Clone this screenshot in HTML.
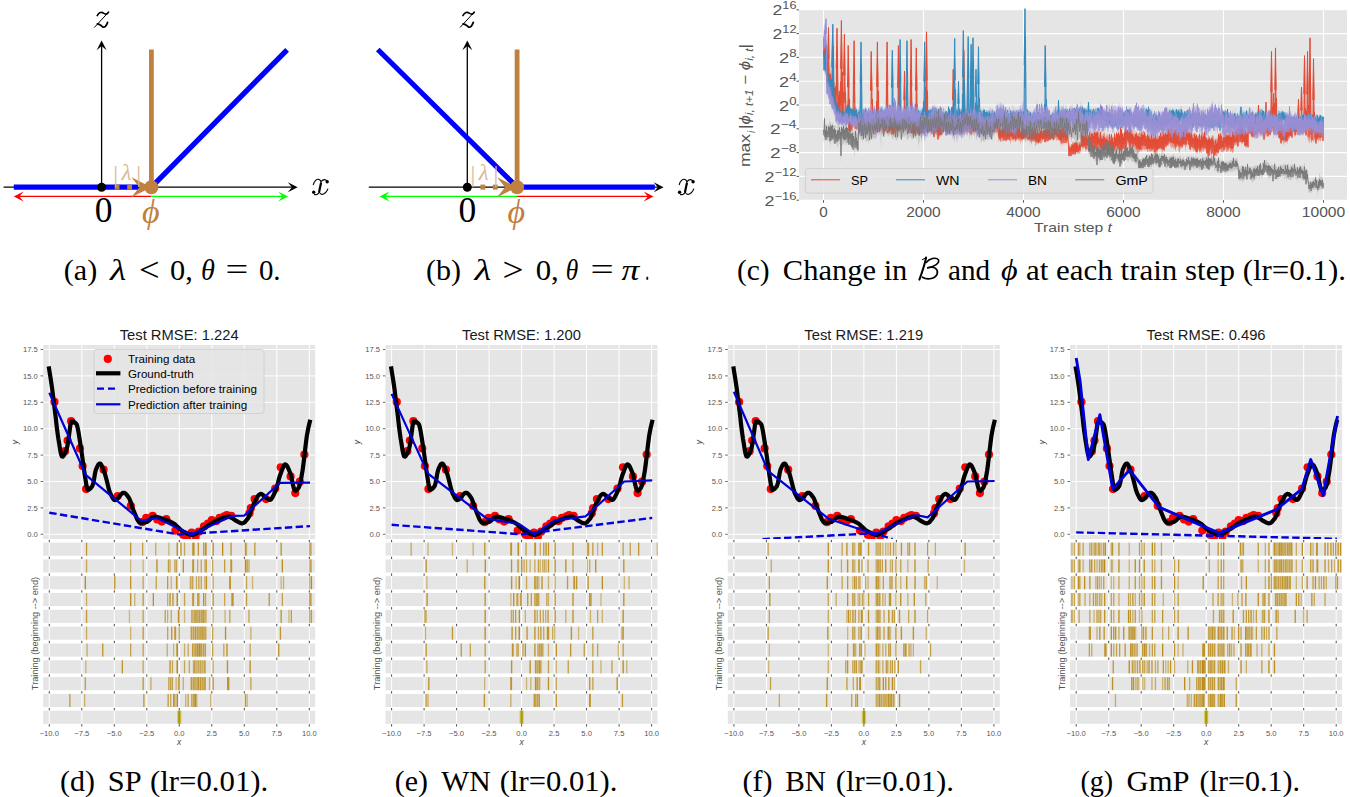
<!DOCTYPE html><html><head><meta charset="utf-8"><style>html,body{margin:0;padding:0;background:#fff;overflow:hidden}svg{display:block}</style></head><body>
<svg width="1350" height="797" viewBox="0 0 1350 797">
<rect width="1350" height="797" fill="#fff"/>
<line x1="3.6" y1="187.2" x2="293.6" y2="187.2" stroke="#000" stroke-width="1.3"/>
<path d="M297.60 187.20 L287.80 192.20 L292.00 187.20 L287.80 182.20 Z" fill="#000"/>
<line x1="101.6" y1="187.2" x2="101.6" y2="44.0" stroke="#000" stroke-width="1.3"/>
<path d="M101.60 40.40 L106.60 50.20 L101.60 46.00 L96.60 50.20 Z" fill="#000"/>
<polyline points="13.8,187.2 151.4,187.2 287.1,49.8" fill="none" stroke="#0000FF" stroke-width="5.2" stroke-linejoin="miter"/>
<line x1="151.4" y1="49.5" x2="151.4" y2="187.2" stroke="#BF8040" stroke-width="4.8"/>
<line x1="151.4" y1="196.4" x2="17.8" y2="196.4" stroke="#FF0000" stroke-width="1.3"/>
<path d="M13.80 196.40 L23.60 191.40 L19.40 196.40 L23.60 201.40 Z" fill="#FF0000"/>
<line x1="151.4" y1="196.4" x2="284.0" y2="196.4" stroke="#00FF00" stroke-width="1.3"/>
<path d="M288.00 196.40 L278.20 201.40 L282.40 196.40 L278.20 191.40 Z" fill="#00FF00"/>
<rect x="114.7" y="184.6" width="4.8" height="5.0" fill="#BF8040"/>
<rect x="127.2" y="184.6" width="4.8" height="5.0" fill="#BF8040"/>
<path d="M151.40 187.20 L131.40 197.20 L139.40 187.20 L131.40 177.20 Z" fill="#BF8040"/>
<circle cx="101.6" cy="187.2" r="4.5" fill="#000"/>
<circle cx="151.4" cy="187.2" r="7" fill="#BF8040"/>
<text x="113.2" y="181.5" font-family='"Liberation Serif", serif' font-size="24" fill="#D9B896">|</text>
<text x="121.4" y="179.8" font-family='"Liberation Serif", serif' font-style="italic" font-size="23" fill="#D9B896">λ</text>
<text x="136.2" y="181.5" font-family='"Liberation Serif", serif' font-size="24" fill="#D9B896">|</text>
<text x="94.8" y="222.3" font-family='"Liberation Serif", serif' font-size="35.5" fill="#000">0</text>
<text x="141.9" y="223" font-family='"Liberation Serif", serif' font-style="italic" font-size="34" fill="#BF8040">ϕ</text>
<g transform="translate(0.00,0)" fill="none" stroke="#000" stroke-linecap="round">
<path d="M97.2 15.6 C99 12.2 101.5 11.7 103.5 13.1 C105 14.2 106.6 15.0 108.5 12.2" stroke-width="1.6"/>
<path d="M108.5 12.2 L94.6 27.2" stroke-width="1.0"/>
<path d="M97.4 23.8 C99.5 23.9 101 25.3 102.5 26.7 C104.5 28.2 106.6 25.6 107.6 22.3" stroke-width="1.8"/>
</g>
<g transform="translate(0.00,0)" fill="none" stroke="#000" stroke-linecap="round">
<path d="M313.3 184.6 C314.05 181.06 316.56 179.05 318.32 179.3 C320.4 179.55 321.4 181.56 320.9 184.07" stroke-width="1.1"/>
<path d="M320.9 183.5 L319.2 191.6" stroke-width="2.2"/>
<path d="M319.3 191.4 C318.82 193.86 316.56 194.86 314.55 194.6" stroke-width="1.1"/>
<path d="M327.35 181.56 C326.3 179.1 323.4 178.8 321.2 181.4" stroke-width="1.1"/>
<path d="M319.6 192.6 C320.6 195.1 324.9 195.6 327.85 189.1" stroke-width="1.1"/>
<circle cx="313.7" cy="192.3" r="1.7" fill="#000" stroke="none"/>
<circle cx="327.2" cy="181.8" r="1.7" fill="#000" stroke="none"/>
</g>
<line x1="368.8" y1="187.2" x2="659.5" y2="187.2" stroke="#000" stroke-width="1.3"/>
<path d="M663.50 187.20 L653.70 192.20 L657.90 187.20 L653.70 182.20 Z" fill="#000"/>
<line x1="467.3" y1="187.2" x2="467.3" y2="44.0" stroke="#000" stroke-width="1.3"/>
<path d="M467.30 40.40 L472.30 50.20 L467.30 46.00 L462.30 50.20 Z" fill="#000"/>
<polyline points="377.8,49.5 517.1,187.2 654.8,187.2" fill="none" stroke="#0000FF" stroke-width="5.2" stroke-linejoin="miter"/>
<line x1="517.1" y1="49.5" x2="517.1" y2="187.2" stroke="#BF8040" stroke-width="4.8"/>
<line x1="517.1" y1="196.4" x2="383.6" y2="196.4" stroke="#00FF00" stroke-width="1.3"/>
<path d="M379.60 196.40 L389.40 191.40 L385.20 196.40 L389.40 201.40 Z" fill="#00FF00"/>
<line x1="517.1" y1="196.4" x2="649.5" y2="196.4" stroke="#FF0000" stroke-width="1.3"/>
<path d="M653.50 196.40 L643.70 201.40 L647.90 196.40 L643.70 191.40 Z" fill="#FF0000"/>
<rect x="480.4" y="184.6" width="4.8" height="5.0" fill="#BF8040"/>
<rect x="492.9" y="184.6" width="4.8" height="5.0" fill="#BF8040"/>
<path d="M517.10 187.20 L497.10 197.20 L505.10 187.20 L497.10 177.20 Z" fill="#BF8040"/>
<circle cx="467.3" cy="187.2" r="4.5" fill="#000"/>
<circle cx="517.1" cy="187.2" r="7" fill="#BF8040"/>
<text x="470.6" y="181.5" font-family='"Liberation Serif", serif' font-size="24" fill="#D9B896">|</text>
<text x="478.8" y="179.8" font-family='"Liberation Serif", serif' font-style="italic" font-size="23" fill="#D9B896">λ</text>
<text x="493.6" y="181.5" font-family='"Liberation Serif", serif' font-size="24" fill="#D9B896">|</text>
<text x="458.5" y="222.3" font-family='"Liberation Serif", serif' font-size="35.5" fill="#000">0</text>
<text x="507.6" y="223" font-family='"Liberation Serif", serif' font-style="italic" font-size="34" fill="#BF8040">ϕ</text>
<g transform="translate(365.70,0)" fill="none" stroke="#000" stroke-linecap="round">
<path d="M97.2 15.6 C99 12.2 101.5 11.7 103.5 13.1 C105 14.2 106.6 15.0 108.5 12.2" stroke-width="1.6"/>
<path d="M108.5 12.2 L94.6 27.2" stroke-width="1.0"/>
<path d="M97.4 23.8 C99.5 23.9 101 25.3 102.5 26.7 C104.5 28.2 106.6 25.6 107.6 22.3" stroke-width="1.8"/>
</g>
<g transform="translate(365.90,0)" fill="none" stroke="#000" stroke-linecap="round">
<path d="M313.3 184.6 C314.05 181.06 316.56 179.05 318.32 179.3 C320.4 179.55 321.4 181.56 320.9 184.07" stroke-width="1.1"/>
<path d="M320.9 183.5 L319.2 191.6" stroke-width="2.2"/>
<path d="M319.3 191.4 C318.82 193.86 316.56 194.86 314.55 194.6" stroke-width="1.1"/>
<path d="M327.35 181.56 C326.3 179.1 323.4 178.8 321.2 181.4" stroke-width="1.1"/>
<path d="M319.6 192.6 C320.6 195.1 324.9 195.6 327.85 189.1" stroke-width="1.1"/>
<circle cx="313.7" cy="192.3" r="1.7" fill="#000" stroke="none"/>
<circle cx="327.2" cy="181.8" r="1.7" fill="#000" stroke="none"/>
</g>
<text x="63.8" y="279.5" font-family='"Liberation Serif", serif' font-size="28.6" textLength="33.5" lengthAdjust="spacingAndGlyphs">(a)</text>
<text x="110.0" y="279.5" font-family='"Liberation Serif", serif' font-size="28.6" font-style="italic" textLength="16.2" lengthAdjust="spacingAndGlyphs">λ</text>
<text x="138.9" y="280.8" font-family='"Liberation Serif", serif' font-size="33" textLength="20.6" lengthAdjust="spacingAndGlyphs">&lt;</text>
<text x="170.0" y="279.5" font-family='"Liberation Serif", serif' font-size="28.6" textLength="22.8" lengthAdjust="spacingAndGlyphs">0,</text>
<text x="201.1" y="279.5" font-family='"Liberation Serif", serif' font-size="28.6" font-style="italic" textLength="13.9" lengthAdjust="spacingAndGlyphs">θ</text>
<text x="225.6" y="280.3" font-family='"Liberation Serif", serif' font-size="31" textLength="22.8" lengthAdjust="spacingAndGlyphs">=</text>
<text x="258.9" y="279.5" font-family='"Liberation Serif", serif' font-size="28.6" textLength="21.7" lengthAdjust="spacingAndGlyphs">0.</text>
<text x="426.1" y="279.5" font-family='"Liberation Serif", serif' font-size="28.6" textLength="35.0" lengthAdjust="spacingAndGlyphs">(b)</text>
<text x="474.4" y="279.5" font-family='"Liberation Serif", serif' font-size="28.6" font-style="italic" textLength="16.8" lengthAdjust="spacingAndGlyphs">λ</text>
<text x="502.4" y="280.8" font-family='"Liberation Serif", serif' font-size="33" textLength="21.0" lengthAdjust="spacingAndGlyphs">&gt;</text>
<text x="535.7" y="279.5" font-family='"Liberation Serif", serif' font-size="28.6" textLength="23.1" lengthAdjust="spacingAndGlyphs">0,</text>
<text x="565.7" y="279.5" font-family='"Liberation Serif", serif' font-size="28.6" font-style="italic" textLength="12.5" lengthAdjust="spacingAndGlyphs">θ</text>
<text x="590.4" y="280.3" font-family='"Liberation Serif", serif' font-size="31" textLength="23.2" lengthAdjust="spacingAndGlyphs">=</text>
<text x="621.6" y="279.5" font-family='"Liberation Serif", serif' font-size="28.6" font-style="italic" textLength="17.8" lengthAdjust="spacingAndGlyphs">π</text>
<text x="645.2" y="279.5" font-family='"Liberation Serif", serif' font-size="28.6" textLength="3.9" lengthAdjust="spacingAndGlyphs">.</text>
<text x="736.9" y="279.5" font-family='"Liberation Serif", serif' font-size="28.6" textLength="32.7" lengthAdjust="spacingAndGlyphs">(c)</text>
<text x="782.8" y="279.5" font-family='"Liberation Serif", serif' font-size="28.6" textLength="124.6" lengthAdjust="spacingAndGlyphs">Change in</text>
<g fill="none" stroke="#000" stroke-linecap="round"><path d="M926.1 257.5 C924.8 264.4 921.8 273.1 919.4 279.6" stroke-width="2.0"/><path d="M922.2 259.7 L926.3 257.6" stroke-width="1.0"/><path d="M926.3 262.5 C928.9 258.8 936.1 256.5 938.5 259.9 C939.9 263.3 934.6 266.3 927.8 267.8" stroke-width="1.5"/><path d="M927.8 267.8 C934.6 265.9 938.4 269.3 937.2 273.8 C936.1 278.3 927.8 280.6 922.5 277.2" stroke-width="1.7"/></g>
<text x="948.0" y="279.5" font-family='"Liberation Serif", serif' font-size="28.6" textLength="42.1" lengthAdjust="spacingAndGlyphs">and</text>
<text x="1001.0" y="279.5" font-family='"Liberation Serif", serif' font-size="28.6" font-style="italic" textLength="16.6" lengthAdjust="spacingAndGlyphs">ϕ</text>
<text x="1026.0" y="279.5" font-family='"Liberation Serif", serif' font-size="28.6" textLength="320.1" lengthAdjust="spacingAndGlyphs">at each train step (lr=0.1).</text>
<rect x="799.0" y="9.8" width="548.0" height="190.4" fill="#E5E5E5"/>
<line x1="823.5" y1="9.8" x2="823.5" y2="200.2" stroke="#fff" stroke-width="1.1"/>
<line x1="923.5" y1="9.8" x2="923.5" y2="200.2" stroke="#fff" stroke-width="1.1"/>
<line x1="1023.5" y1="9.8" x2="1023.5" y2="200.2" stroke="#fff" stroke-width="1.1"/>
<line x1="1123.5" y1="9.8" x2="1123.5" y2="200.2" stroke="#fff" stroke-width="1.1"/>
<line x1="1223.5" y1="9.8" x2="1223.5" y2="200.2" stroke="#fff" stroke-width="1.1"/>
<line x1="1323.5" y1="9.8" x2="1323.5" y2="200.2" stroke="#fff" stroke-width="1.1"/>
<line x1="799.0" y1="200.2" x2="1347.0" y2="200.2" stroke="#fff" stroke-width="1.1"/>
<line x1="799.0" y1="176.4" x2="1347.0" y2="176.4" stroke="#fff" stroke-width="1.1"/>
<line x1="799.0" y1="152.6" x2="1347.0" y2="152.6" stroke="#fff" stroke-width="1.1"/>
<line x1="799.0" y1="128.8" x2="1347.0" y2="128.8" stroke="#fff" stroke-width="1.1"/>
<line x1="799.0" y1="105.0" x2="1347.0" y2="105.0" stroke="#fff" stroke-width="1.1"/>
<line x1="799.0" y1="81.2" x2="1347.0" y2="81.2" stroke="#fff" stroke-width="1.1"/>
<line x1="799.0" y1="57.4" x2="1347.0" y2="57.4" stroke="#fff" stroke-width="1.1"/>
<line x1="799.0" y1="33.6" x2="1347.0" y2="33.6" stroke="#fff" stroke-width="1.1"/>
<line x1="799.0" y1="9.8" x2="1347.0" y2="9.8" stroke="#fff" stroke-width="1.1"/>
<line x1="796.5" y1="200.2" x2="799.0" y2="200.2" stroke="#555" stroke-width="1"/>
<line x1="796.5" y1="176.4" x2="799.0" y2="176.4" stroke="#555" stroke-width="1"/>
<line x1="796.5" y1="152.6" x2="799.0" y2="152.6" stroke="#555" stroke-width="1"/>
<line x1="796.5" y1="128.8" x2="799.0" y2="128.8" stroke="#555" stroke-width="1"/>
<line x1="796.5" y1="105.0" x2="799.0" y2="105.0" stroke="#555" stroke-width="1"/>
<line x1="796.5" y1="81.2" x2="799.0" y2="81.2" stroke="#555" stroke-width="1"/>
<line x1="796.5" y1="57.4" x2="799.0" y2="57.4" stroke="#555" stroke-width="1"/>
<line x1="796.5" y1="33.6" x2="799.0" y2="33.6" stroke="#555" stroke-width="1"/>
<line x1="796.5" y1="9.8" x2="799.0" y2="9.8" stroke="#555" stroke-width="1"/>
<line x1="823.5" y1="200.2" x2="823.5" y2="202.7" stroke="#555" stroke-width="1"/>
<line x1="923.5" y1="200.2" x2="923.5" y2="202.7" stroke="#555" stroke-width="1"/>
<line x1="1023.5" y1="200.2" x2="1023.5" y2="202.7" stroke="#555" stroke-width="1"/>
<line x1="1123.5" y1="200.2" x2="1123.5" y2="202.7" stroke="#555" stroke-width="1"/>
<line x1="1223.5" y1="200.2" x2="1223.5" y2="202.7" stroke="#555" stroke-width="1"/>
<line x1="1323.5" y1="200.2" x2="1323.5" y2="202.7" stroke="#555" stroke-width="1"/>
<text x="764.5" y="205.7" textLength="32.0" lengthAdjust="spacingAndGlyphs" font-family='"Liberation Sans", sans-serif' fill="#555"><tspan font-size="14.5">2</tspan><tspan font-size="10.5" dy="-6">−16</tspan></text>
<text x="764.5" y="181.9" textLength="32.0" lengthAdjust="spacingAndGlyphs" font-family='"Liberation Sans", sans-serif' fill="#555"><tspan font-size="14.5">2</tspan><tspan font-size="10.5" dy="-6">−12</tspan></text>
<text x="770.0" y="158.1" textLength="26.5" lengthAdjust="spacingAndGlyphs" font-family='"Liberation Sans", sans-serif' fill="#555"><tspan font-size="14.5">2</tspan><tspan font-size="10.5" dy="-6">−8</tspan></text>
<text x="770.0" y="134.3" textLength="26.5" lengthAdjust="spacingAndGlyphs" font-family='"Liberation Sans", sans-serif' fill="#555"><tspan font-size="14.5">2</tspan><tspan font-size="10.5" dy="-6">−4</tspan></text>
<text x="779.0" y="110.5" textLength="17.5" lengthAdjust="spacingAndGlyphs" font-family='"Liberation Sans", sans-serif' fill="#555"><tspan font-size="14.5">2</tspan><tspan font-size="10.5" dy="-6">0</tspan></text>
<text x="779.0" y="86.7" textLength="17.5" lengthAdjust="spacingAndGlyphs" font-family='"Liberation Sans", sans-serif' fill="#555"><tspan font-size="14.5">2</tspan><tspan font-size="10.5" dy="-6">4</tspan></text>
<text x="779.0" y="62.9" textLength="17.5" lengthAdjust="spacingAndGlyphs" font-family='"Liberation Sans", sans-serif' fill="#555"><tspan font-size="14.5">2</tspan><tspan font-size="10.5" dy="-6">8</tspan></text>
<text x="772.5" y="39.1" textLength="24.0" lengthAdjust="spacingAndGlyphs" font-family='"Liberation Sans", sans-serif' fill="#555"><tspan font-size="14.5">2</tspan><tspan font-size="10.5" dy="-6">12</tspan></text>
<text x="772.5" y="15.3" textLength="24.0" lengthAdjust="spacingAndGlyphs" font-family='"Liberation Sans", sans-serif' fill="#555"><tspan font-size="14.5">2</tspan><tspan font-size="10.5" dy="-6">16</tspan></text>
<text x="823.5" y="216.6" text-anchor="middle" textLength="8.5" lengthAdjust="spacingAndGlyphs" font-family='"Liberation Sans", sans-serif' font-size="14" fill="#555">0</text>
<text x="923.5" y="216.6" text-anchor="middle" textLength="34.5" lengthAdjust="spacingAndGlyphs" font-family='"Liberation Sans", sans-serif' font-size="14" fill="#555">2000</text>
<text x="1023.5" y="216.6" text-anchor="middle" textLength="34.5" lengthAdjust="spacingAndGlyphs" font-family='"Liberation Sans", sans-serif' font-size="14" fill="#555">4000</text>
<text x="1123.5" y="216.6" text-anchor="middle" textLength="34.5" lengthAdjust="spacingAndGlyphs" font-family='"Liberation Sans", sans-serif' font-size="14" fill="#555">6000</text>
<text x="1223.5" y="216.6" text-anchor="middle" textLength="34.5" lengthAdjust="spacingAndGlyphs" font-family='"Liberation Sans", sans-serif' font-size="14" fill="#555">8000</text>
<text x="1323.5" y="216.6" text-anchor="middle" textLength="43.5" lengthAdjust="spacingAndGlyphs" font-family='"Liberation Sans", sans-serif' font-size="14" fill="#555">10000</text>
<text x="1073" y="232" text-anchor="middle" textLength="78" lengthAdjust="spacingAndGlyphs" font-family='"Liberation Sans", sans-serif' font-size="13.5" fill="#555">Train step <tspan font-style="italic">t</tspan></text>
<g transform="translate(749.5,105.5) rotate(-90)"><text x="0" y="0" text-anchor="middle" textLength="123" lengthAdjust="spacingAndGlyphs" font-family='"Liberation Sans", sans-serif' font-size="15" fill="#555">max <tspan font-size="14.5">|</tspan><tspan font-style="italic" font-size="14.5">ϕ</tspan><tspan font-style="italic" font-size="10" dy="3">i, t+1</tspan><tspan dy="-3" font-size="14.5"> − </tspan><tspan font-style="italic" font-size="14.5">ϕ</tspan><tspan font-style="italic" font-size="10" dy="3">i, t</tspan><tspan dy="-3" font-size="14.5">|</tspan></text></g>
<g transform="translate(754.5,132) rotate(-90)"><text x="0" y="0" text-anchor="middle" font-family='"Liberation Sans", sans-serif' font-style="italic" font-size="10" fill="#555">i</text></g>
<path d="M823.5 38.9 824.0 45.0 824.5 47.7 825.0 43.1 825.5 39.5 826.0 50.8 826.5 59.2 827.0 60.1 827.5 61.8 828.0 54.4 828.5 27.6 829.0 48.5 829.5 70.6 830.0 58.3 830.5 73.0 831.0 76.6 831.5 74.9 832.0 63.4 832.5 36.6 833.0 57.4 833.5 78.3 834.0 83.5 834.5 80.6 835.0 85.9 835.5 86.0 836.0 81.8 836.5 55.0 837.0 28.2 837.5 49.1 838.0 75.8 838.5 91.0 839.0 90.1 839.5 91.1 840.0 94.1 840.5 74.1 841.0 47.3 841.5 20.5 842.0 41.3 842.5 68.1 843.0 98.9 843.5 87.7 844.0 61.0 844.5 34.2 845.0 55.0 845.5 81.8 846.0 97.9 846.5 105.9 847.0 106.4 847.5 99.0 848.0 72.3 848.5 45.5 849.0 66.3 849.5 93.1 850.0 118.8 850.5 115.0 851.0 120.2 851.5 118.0 852.0 117.3 852.5 118.5 853.0 94.3 853.5 67.5 854.0 40.7 854.5 61.6 855.0 88.3 855.5 114.3 856.0 117.2 856.5 113.9 857.0 114.8 857.5 116.5 858.0 115.1 858.5 117.0 859.0 112.8 859.5 115.2 860.0 116.5 860.5 113.8 861.0 114.4 861.5 113.8 862.0 114.1 862.5 114.0 863.0 114.8 863.5 114.7 864.0 114.4 864.5 111.8 865.0 115.4 865.5 113.5 866.0 117.2 866.5 116.5 867.0 113.5 867.5 118.1 868.0 115.8 868.5 110.0 869.0 115.7 869.5 116.6 870.0 115.7 870.5 105.0 871.0 78.2 871.5 51.4 872.0 72.3 872.5 99.0 873.0 118.1 873.5 113.3 874.0 113.1 874.5 117.5 875.0 119.5 875.5 116.7 876.0 113.4 876.5 95.5 877.0 68.7 877.5 41.9 878.0 62.8 878.5 89.5 879.0 118.5 879.5 115.3 880.0 114.1 880.5 109.5 881.0 115.7 881.5 117.3 882.0 115.4 882.5 116.3 883.0 116.6 883.5 114.9 884.0 115.8 884.5 111.0 885.0 115.2 885.5 117.4 886.0 95.5 886.5 68.7 887.0 41.9 887.5 62.8 888.0 89.5 888.5 117.0 889.0 112.5 889.5 115.4 890.0 117.1 890.5 115.9 891.0 115.4 891.5 117.2 892.0 117.0 892.5 121.2 893.0 118.7 893.5 116.6 894.0 120.0 894.5 117.3 895.0 119.1 895.5 115.5 896.0 118.2 896.5 113.0 897.0 116.1 897.5 99.0 898.0 72.3 898.5 45.5 899.0 66.3 899.5 93.1 900.0 113.7 900.5 114.7 901.0 114.1 901.5 118.1 902.0 113.3 902.5 114.7 903.0 117.4 903.5 114.3 904.0 97.9 904.5 71.1 905.0 91.9 905.5 115.4 906.0 116.3 906.5 115.4 907.0 114.7 907.5 108.9 908.0 114.2 908.5 118.4 909.0 117.6 909.5 119.1 910.0 93.1 910.5 66.3 911.0 39.5 911.5 60.4 912.0 87.2 912.5 120.6 913.0 118.0 913.5 116.2 914.0 119.2 914.5 118.5 915.0 119.5 915.5 101.4 916.0 74.7 916.5 47.9 917.0 68.7 917.5 95.5 918.0 122.0 918.5 119.5 919.0 120.7 919.5 117.9 920.0 120.2 920.5 118.0 921.0 117.5 921.5 118.1 922.0 119.6 922.5 115.9 923.0 118.6 923.5 115.9 924.0 117.7 924.5 118.1 925.0 116.2 925.5 85.4 926.0 58.6 926.5 31.8 927.0 52.6 927.5 79.4 928.0 113.0 928.5 116.4 929.0 117.1 929.5 109.8 930.0 117.1 930.5 117.2 931.0 116.7 931.5 120.2 932.0 117.4 932.5 118.1 933.0 118.2 933.5 120.1 934.0 117.2 934.5 116.8 935.0 118.6 935.5 117.5 936.0 121.8 936.5 114.6 937.0 117.2 937.5 119.0 938.0 122.3 938.5 121.0 939.0 122.4 939.5 124.0 940.0 119.4 940.5 119.4 941.0 119.5 941.5 118.1 942.0 118.2 942.5 115.1 943.0 119.4 943.5 117.3 944.0 115.7 944.5 114.5 945.0 115.4 945.5 116.7 946.0 112.9 946.5 116.9 947.0 112.5 947.5 114.9 948.0 114.4 948.5 113.1 949.0 115.0 949.5 110.3 950.0 113.6 950.5 116.5 951.0 110.7 951.5 112.3 952.0 114.8 952.5 110.3 953.0 96.1 953.5 69.3 954.0 90.1 954.5 116.5 955.0 116.0 955.5 112.5 956.0 116.8 956.5 117.1 957.0 116.6 957.5 113.8 958.0 116.0 958.5 118.1 959.0 119.0 959.5 116.1 960.0 120.5 960.5 116.5 961.0 117.5 961.5 115.1 962.0 119.0 962.5 115.8 963.0 103.8 963.5 77.0 964.0 50.3 964.5 71.1 965.0 97.9 965.5 116.9 966.0 119.6 966.5 116.0 967.0 118.1 967.5 115.7 968.0 121.2 968.5 118.3 969.0 116.3 969.5 118.6 970.0 118.3 970.5 116.1 971.0 118.9 971.5 121.6 972.0 121.1 972.5 118.4 973.0 118.1 973.5 117.6 974.0 119.2 974.5 120.5 975.0 119.5 975.5 116.8 976.0 119.7 976.5 116.4 977.0 118.0 977.5 119.8 978.0 116.8 978.5 117.3 979.0 117.3 979.5 113.2 980.0 112.8 980.5 114.2 981.0 114.4 981.5 118.4 982.0 116.4 982.5 116.7 983.0 115.3 983.5 116.4 984.0 116.6 984.5 112.7 985.0 114.7 985.5 114.5 986.0 113.1 986.5 112.9 987.0 111.8 987.5 115.4 988.0 113.7 988.5 116.2 989.0 116.4 989.5 115.9 990.0 116.4 990.5 117.0 991.0 117.3 991.5 113.7 992.0 117.4 992.5 117.8 993.0 113.8 993.5 114.0 994.0 114.9 994.5 114.6 995.0 115.1 995.5 117.4 996.0 113.8 996.5 118.3 997.0 114.5 997.5 117.8 998.0 118.1 998.5 128.7 999.0 128.8 999.5 126.9 1000.0 127.5 1000.5 128.4 1001.0 130.4 1001.5 129.3 1002.0 130.6 1002.5 127.3 1003.0 129.2 1003.5 127.9 1004.0 129.2 1004.5 125.9 1005.0 125.8 1005.5 128.8 1006.0 126.8 1006.5 125.9 1007.0 125.7 1007.5 127.4 1008.0 127.1 1008.5 127.3 1009.0 126.8 1009.5 129.5 1010.0 126.8 1010.5 126.0 1011.0 125.7 1011.5 129.1 1012.0 129.4 1012.5 129.6 1013.0 129.4 1013.5 130.2 1014.0 129.2 1014.5 127.2 1015.0 130.2 1015.5 127.7 1016.0 128.7 1016.5 128.8 1017.0 127.8 1017.5 125.4 1018.0 128.1 1018.5 127.1 1019.0 128.0 1019.5 126.9 1020.0 131.2 1020.5 131.1 1021.0 128.3 1021.5 129.1 1022.0 129.7 1022.5 122.6 1023.0 128.8 1023.5 125.3 1024.0 126.0 1024.5 128.6 1025.0 128.3 1025.5 128.4 1026.0 123.2 1026.5 124.4 1027.0 128.8 1027.5 126.9 1028.0 129.4 1028.5 128.9 1029.0 130.0 1029.5 127.3 1030.0 128.2 1030.5 127.3 1031.0 129.6 1031.5 128.2 1032.0 127.5 1032.5 129.8 1033.0 127.4 1033.5 129.6 1034.0 129.0 1034.5 127.4 1035.0 131.1 1035.5 131.2 1036.0 128.6 1036.5 130.8 1037.0 132.1 1037.5 131.9 1038.0 132.1 1038.5 129.6 1039.0 132.0 1039.5 129.8 1040.0 131.5 1040.5 128.7 1041.0 128.3 1041.5 129.3 1042.0 124.9 1042.5 130.2 1043.0 131.1 1043.5 128.4 1044.0 130.7 1044.5 129.0 1045.0 127.7 1045.5 127.9 1046.0 126.9 1046.5 130.4 1047.0 127.5 1047.5 126.1 1048.0 127.9 1048.5 128.5 1049.0 126.6 1049.5 128.8 1050.0 130.6 1050.5 126.6 1051.0 126.9 1051.5 126.3 1052.0 128.4 1052.5 127.8 1053.0 127.1 1053.5 126.7 1054.0 126.3 1054.5 126.2 1055.0 126.2 1055.5 127.9 1056.0 124.4 1056.5 128.0 1057.0 126.6 1057.5 128.0 1058.0 126.7 1058.5 127.2 1059.0 126.5 1059.5 126.7 1060.0 130.1 1060.5 128.3 1061.0 130.3 1061.5 131.1 1062.0 129.7 1062.5 127.0 1063.0 127.7 1063.5 131.5 1064.0 130.3 1064.5 128.3 1065.0 127.7 1065.5 131.4 1066.0 131.2 1066.5 128.8 1067.0 129.4 1067.5 128.5 1068.0 131.8 1068.5 145.0 1069.0 144.1 1069.5 145.9 1070.0 142.8 1070.5 147.3 1071.0 143.9 1071.5 144.1 1072.0 144.2 1072.5 142.3 1073.0 141.8 1073.5 141.3 1074.0 143.4 1074.5 142.1 1075.0 142.7 1075.5 141.3 1076.0 140.7 1076.5 141.9 1077.0 141.4 1077.5 142.9 1078.0 141.9 1078.5 143.4 1079.0 141.1 1079.5 142.3 1080.0 141.8 1080.5 144.0 1081.0 132.6 1081.5 131.4 1082.0 130.9 1082.5 131.3 1083.0 132.8 1083.5 130.6 1084.0 131.5 1084.5 132.5 1085.0 134.8 1085.5 135.7 1086.0 133.0 1086.5 136.1 1087.0 130.4 1087.5 134.7 1088.0 134.8 1088.5 134.5 1089.0 136.9 1089.5 132.6 1090.0 130.8 1090.5 131.3 1091.0 132.8 1091.5 131.4 1092.0 135.3 1092.5 133.1 1093.0 134.6 1093.5 132.7 1094.0 128.7 1094.5 130.9 1095.0 132.0 1095.5 132.0 1096.0 131.4 1096.5 130.8 1097.0 131.1 1097.5 129.9 1098.0 133.6 1098.5 132.1 1099.0 126.8 1099.5 134.8 1100.0 134.4 1100.5 131.8 1101.0 136.3 1101.5 135.2 1102.0 131.9 1102.5 136.4 1103.0 135.0 1103.5 132.2 1104.0 134.3 1104.5 131.8 1105.0 133.2 1105.5 137.6 1106.0 137.0 1106.5 133.4 1107.0 137.1 1107.5 135.6 1108.0 132.4 1108.5 138.5 1109.0 133.4 1109.5 134.4 1110.0 135.2 1110.5 137.6 1111.0 134.3 1111.5 133.2 1112.0 136.0 1112.5 137.0 1113.0 136.9 1113.5 138.2 1114.0 135.8 1114.5 131.8 1115.0 136.7 1115.5 135.0 1116.0 134.9 1116.5 132.2 1117.0 134.8 1117.5 133.3 1118.0 135.8 1118.5 131.5 1119.0 133.3 1119.5 134.4 1120.0 130.9 1120.5 127.1 1121.0 134.0 1121.5 129.0 1122.0 131.9 1122.5 132.9 1123.0 133.2 1123.5 133.2 1124.0 132.0 1124.5 130.0 1125.0 129.2 1125.5 119.2 1126.0 125.6 1126.5 129.1 1127.0 128.6 1127.5 128.5 1128.0 131.0 1128.5 129.3 1129.0 129.0 1129.5 127.8 1130.0 130.4 1130.5 124.6 1131.0 129.3 1131.5 129.6 1132.0 128.8 1132.5 131.1 1133.0 133.9 1133.5 134.5 1134.0 129.5 1134.5 134.4 1135.0 130.0 1135.5 133.6 1136.0 135.7 1136.5 130.5 1137.0 133.0 1137.5 135.5 1138.0 133.6 1138.5 133.4 1139.0 132.9 1139.5 132.1 1140.0 131.3 1140.5 133.9 1141.0 131.2 1141.5 131.0 1142.0 132.2 1142.5 132.6 1143.0 129.7 1143.5 130.4 1144.0 131.4 1144.5 131.7 1145.0 131.1 1145.5 133.1 1146.0 135.8 1146.5 136.1 1147.0 135.7 1147.5 131.7 1148.0 136.1 1148.5 134.7 1149.0 131.3 1149.5 135.7 1150.0 135.0 1150.5 134.6 1151.0 136.8 1151.5 133.4 1152.0 136.2 1152.5 135.4 1153.0 136.6 1153.5 137.4 1154.0 132.4 1154.5 135.7 1155.0 135.7 1155.5 134.7 1156.0 137.3 1156.5 136.6 1157.0 138.2 1157.5 134.6 1158.0 134.9 1158.5 135.3 1159.0 137.4 1159.5 135.7 1160.0 133.4 1160.5 131.3 1161.0 131.0 1161.5 133.2 1162.0 134.5 1162.5 132.3 1163.0 132.4 1163.5 131.4 1164.0 125.3 1164.5 133.3 1165.0 132.6 1165.5 130.4 1166.0 133.6 1166.5 133.8 1167.0 123.2 1167.5 131.9 1168.0 126.7 1168.5 125.2 1169.0 129.8 1169.5 126.3 1170.0 129.5 1170.5 130.0 1171.0 125.7 1171.5 126.7 1172.0 128.4 1172.5 130.5 1173.0 127.3 1173.5 129.9 1174.0 126.7 1174.5 128.3 1175.0 133.5 1175.5 128.1 1176.0 128.3 1176.5 127.4 1177.0 128.1 1177.5 132.2 1178.0 128.5 1178.5 130.5 1179.0 131.6 1179.5 132.3 1180.0 132.6 1180.5 128.3 1181.0 133.0 1181.5 128.7 1182.0 132.6 1182.5 128.6 1183.0 131.2 1183.5 129.5 1184.0 130.6 1184.5 125.9 1185.0 130.7 1185.5 128.5 1186.0 127.4 1186.5 129.0 1187.0 130.3 1187.5 130.4 1188.0 127.4 1188.5 132.3 1189.0 134.0 1189.5 129.9 1190.0 130.3 1190.5 130.2 1191.0 131.4 1191.5 129.5 1192.0 133.5 1192.5 136.3 1193.0 133.8 1193.5 134.0 1194.0 133.1 1194.5 132.3 1195.0 134.7 1195.5 132.3 1196.0 134.9 1196.5 133.9 1197.0 136.6 1197.5 136.7 1198.0 135.7 1198.5 135.9 1199.0 134.7 1199.5 133.9 1200.0 132.7 1200.5 136.9 1201.0 134.0 1201.5 130.0 1202.0 131.2 1202.5 132.0 1203.0 133.3 1203.5 132.9 1204.0 133.8 1204.5 131.0 1205.0 130.9 1205.5 133.5 1206.0 137.3 1206.5 136.2 1207.0 137.6 1207.5 138.7 1208.0 138.0 1208.5 134.4 1209.0 135.6 1209.5 136.7 1210.0 137.1 1210.5 139.8 1211.0 136.9 1211.5 137.2 1212.0 134.6 1212.5 136.3 1213.0 135.0 1213.5 135.7 1214.0 137.4 1214.5 141.5 1215.0 139.6 1215.5 139.1 1216.0 136.5 1216.5 140.3 1217.0 138.4 1217.5 138.6 1218.0 136.1 1218.5 133.1 1219.0 135.1 1219.5 132.0 1220.0 134.6 1220.5 130.9 1221.0 133.4 1221.5 134.6 1222.0 137.2 1222.5 137.5 1223.0 134.8 1223.5 133.5 1224.0 134.8 1224.5 132.8 1225.0 130.6 1225.5 132.4 1226.0 130.3 1226.5 131.5 1227.0 136.7 1227.5 133.0 1228.0 131.8 1228.5 131.4 1229.0 135.2 1229.5 131.1 1230.0 130.8 1230.5 133.7 1231.0 127.4 1231.5 135.9 1232.0 134.0 1232.5 129.0 1233.0 132.5 1233.5 133.8 1234.0 133.4 1234.5 130.1 1235.0 133.1 1235.5 131.6 1236.0 130.0 1236.5 128.2 1237.0 129.1 1237.5 127.6 1238.0 126.9 1238.5 127.4 1239.0 119.9 1239.5 125.1 1240.0 124.0 1240.5 128.4 1241.0 127.5 1241.5 124.5 1242.0 127.8 1242.5 126.3 1243.0 129.5 1243.5 127.1 1244.0 126.7 1244.5 131.7 1245.0 130.3 1245.5 128.6 1246.0 130.9 1246.5 131.6 1247.0 129.2 1247.5 130.2 1248.0 126.9 1248.5 117.1 1249.0 116.1 1249.5 119.0 1250.0 119.9 1250.5 116.7 1251.0 118.5 1251.5 117.2 1252.0 118.7 1252.5 122.8 1253.0 119.8 1253.5 121.9 1254.0 122.0 1254.5 120.5 1255.0 118.6 1255.5 119.1 1256.0 116.6 1256.5 117.1 1257.0 117.1 1257.5 116.5 1258.0 115.6 1258.5 105.0 1259.0 116.0 1259.5 116.4 1260.0 115.7 1260.5 118.8 1261.0 117.5 1261.5 121.3 1262.0 117.2 1262.5 118.7 1263.0 118.4 1263.5 118.7 1264.0 119.0 1264.5 120.6 1265.0 119.0 1265.5 118.2 1266.0 102.0 1266.5 117.3 1267.0 118.5 1267.5 116.7 1268.0 120.0 1268.5 116.1 1269.0 119.9 1269.5 119.6 1270.0 116.0 1270.5 105.0 1271.0 78.2 1271.5 51.4 1272.0 72.3 1272.5 99.0 1273.0 115.5 1273.5 93.1 1274.0 113.9 1274.5 101.4 1275.0 74.7 1275.5 47.9 1276.0 68.7 1276.5 95.5 1277.0 119.3 1277.5 118.4 1278.0 122.1 1278.5 118.3 1279.0 121.0 1279.5 123.6 1280.0 126.8 1280.5 123.5 1281.0 125.2 1281.5 124.7 1282.0 127.1 1282.5 124.0 1283.0 127.7 1283.5 122.7 1284.0 123.9 1284.5 127.7 1285.0 123.2 1285.5 128.2 1286.0 124.8 1286.5 127.0 1287.0 125.3 1287.5 123.0 1288.0 126.7 1288.5 121.5 1289.0 121.1 1289.5 122.6 1290.0 123.9 1290.5 124.0 1291.0 123.3 1291.5 124.1 1292.0 121.9 1292.5 118.5 1293.0 119.0 1293.5 120.2 1294.0 118.0 1294.5 117.0 1295.0 117.2 1295.5 116.4 1296.0 116.7 1296.5 115.3 1297.0 116.1 1297.5 119.3 1298.0 113.9 1298.5 99.0 1299.0 114.5 1299.5 116.5 1300.0 115.0 1300.5 120.0 1301.0 113.9 1301.5 87.2 1302.0 108.0 1302.5 121.5 1303.0 116.5 1303.5 109.2 1304.0 82.4 1304.5 55.6 1305.0 76.4 1305.5 103.2 1306.0 121.8 1306.5 105.0 1307.0 78.2 1307.5 51.4 1308.0 72.3 1308.5 99.0 1309.0 91.3 1309.5 64.5 1310.0 37.8 1310.5 58.6 1311.0 85.4 1311.5 120.0 1312.0 124.8 1312.5 112.1 1313.0 85.4 1313.5 58.6 1314.0 79.4 1314.5 106.2 1315.0 125.1 1315.5 127.8 1316.0 129.2 1316.5 125.5 1317.0 125.1 1317.5 127.2 1318.0 126.7 1318.5 126.9 1319.0 128.4 1319.5 125.1 1320.0 127.8 1320.5 123.9 1321.0 123.4 1321.5 120.8 1322.0 127.0 1322.5 127.3 1323.0 123.8 1323.5 122.6 L1323.5 138.1 1323.0 141.8 1322.5 138.1 1322.0 137.0 1321.5 137.1 1321.0 140.7 1320.5 140.4 1320.0 141.7 1319.5 140.1 1319.0 139.0 1318.5 142.4 1318.0 139.7 1317.5 138.6 1317.0 140.6 1316.5 138.2 1316.0 144.1 1315.5 142.2 1315.0 141.7 1314.5 138.9 1314.0 141.9 1313.5 140.9 1313.0 139.0 1312.5 140.9 1312.0 141.7 1311.5 142.4 1311.0 143.2 1310.5 137.4 1310.0 140.5 1309.5 144.5 1309.0 136.9 1308.5 142.4 1308.0 139.8 1307.5 137.8 1307.0 135.8 1306.5 133.8 1306.0 137.1 1305.5 133.2 1305.0 134.1 1304.5 132.2 1304.0 132.3 1303.5 134.8 1303.0 131.6 1302.5 136.1 1302.0 135.3 1301.5 134.0 1301.0 133.1 1300.5 134.5 1300.0 133.8 1299.5 129.4 1299.0 128.5 1298.5 131.4 1298.0 131.3 1297.5 132.4 1297.0 131.7 1296.5 134.2 1296.0 135.4 1295.5 134.3 1295.0 138.1 1294.5 131.8 1294.0 132.2 1293.5 132.4 1293.0 131.6 1292.5 135.6 1292.0 137.7 1291.5 136.6 1291.0 136.0 1290.5 135.2 1290.0 138.2 1289.5 137.6 1289.0 139.3 1288.5 140.8 1288.0 138.4 1287.5 143.0 1287.0 144.4 1286.5 139.0 1286.0 142.4 1285.5 142.1 1285.0 142.6 1284.5 143.7 1284.0 140.6 1283.5 145.9 1283.0 142.2 1282.5 139.5 1282.0 141.6 1281.5 144.1 1281.0 143.4 1280.5 140.5 1280.0 137.8 1279.5 140.6 1279.0 138.2 1278.5 133.3 1278.0 135.5 1277.5 133.7 1277.0 133.7 1276.5 131.1 1276.0 132.0 1275.5 131.8 1275.0 136.6 1274.5 134.3 1274.0 134.0 1273.5 133.8 1273.0 130.5 1272.5 131.7 1272.0 131.8 1271.5 132.6 1271.0 133.2 1270.5 135.7 1270.0 135.7 1269.5 134.1 1269.0 134.0 1268.5 134.0 1268.0 136.6 1267.5 131.9 1267.0 136.8 1266.5 135.1 1266.0 138.7 1265.5 132.0 1265.0 137.0 1264.5 139.1 1264.0 139.9 1263.5 135.7 1263.0 135.9 1262.5 133.4 1262.0 136.7 1261.5 135.3 1261.0 134.4 1260.5 137.2 1260.0 133.0 1259.5 135.4 1259.0 131.6 1258.5 134.5 1258.0 133.5 1257.5 134.0 1257.0 134.5 1256.5 134.8 1256.0 135.0 1255.5 135.4 1255.0 136.3 1254.5 136.9 1254.0 138.7 1253.5 135.4 1253.0 135.7 1252.5 139.0 1252.0 138.1 1251.5 136.0 1251.0 137.1 1250.5 134.7 1250.0 134.1 1249.5 131.9 1249.0 131.5 1248.5 136.8 1248.0 148.1 1247.5 143.8 1247.0 145.6 1246.5 148.1 1246.0 147.2 1245.5 147.6 1245.0 146.1 1244.5 146.6 1244.0 143.5 1243.5 142.0 1243.0 141.6 1242.5 144.6 1242.0 142.9 1241.5 144.5 1241.0 142.1 1240.5 142.0 1240.0 141.9 1239.5 142.9 1239.0 142.4 1238.5 142.9 1238.0 146.5 1237.5 147.5 1237.0 144.4 1236.5 145.2 1236.0 144.3 1235.5 145.2 1235.0 144.8 1234.5 145.4 1234.0 146.6 1233.5 152.3 1233.0 152.6 1232.5 152.6 1232.0 152.9 1231.5 150.7 1231.0 150.4 1230.5 152.6 1230.0 151.4 1229.5 149.2 1229.0 146.7 1228.5 151.9 1228.0 151.3 1227.5 152.2 1227.0 150.1 1226.5 152.6 1226.0 151.3 1225.5 148.5 1225.0 148.7 1224.5 150.3 1224.0 152.7 1223.5 151.6 1223.0 151.6 1222.5 152.4 1222.0 151.7 1221.5 151.7 1221.0 151.7 1220.5 150.5 1220.0 148.8 1219.5 149.3 1219.0 152.7 1218.5 153.0 1218.0 154.6 1217.5 152.3 1217.0 156.9 1216.5 155.2 1216.0 155.9 1215.5 151.2 1215.0 156.3 1214.5 156.0 1214.0 156.1 1213.5 156.4 1213.0 151.6 1212.5 152.4 1212.0 153.8 1211.5 161.0 1211.0 151.4 1210.5 155.6 1210.0 151.0 1209.5 152.5 1209.0 157.1 1208.5 159.3 1208.0 155.8 1207.5 159.7 1207.0 153.9 1206.5 152.7 1206.0 151.9 1205.5 147.7 1205.0 150.3 1204.5 148.7 1204.0 150.7 1203.5 152.0 1203.0 150.0 1202.5 152.6 1202.0 148.3 1201.5 153.4 1201.0 152.4 1200.5 150.6 1200.0 153.6 1199.5 153.1 1199.0 148.8 1198.5 150.9 1198.0 149.4 1197.5 154.5 1197.0 152.2 1196.5 152.7 1196.0 154.1 1195.5 151.1 1195.0 149.5 1194.5 150.9 1194.0 150.1 1193.5 152.0 1193.0 147.4 1192.5 149.9 1192.0 148.5 1191.5 146.2 1191.0 150.5 1190.5 150.2 1190.0 150.3 1189.5 146.6 1189.0 148.4 1188.5 145.0 1188.0 144.8 1187.5 144.4 1187.0 143.2 1186.5 147.8 1186.0 144.7 1185.5 152.4 1185.0 145.7 1184.5 145.3 1184.0 145.5 1183.5 145.1 1183.0 148.1 1182.5 146.8 1182.0 148.8 1181.5 147.1 1181.0 149.5 1180.5 147.4 1180.0 150.2 1179.5 153.4 1179.0 152.0 1178.5 149.7 1178.0 145.2 1177.5 146.9 1177.0 145.3 1176.5 143.7 1176.0 149.4 1175.5 151.8 1175.0 148.7 1174.5 148.2 1174.0 148.7 1173.5 148.9 1173.0 145.8 1172.5 148.1 1172.0 146.1 1171.5 149.7 1171.0 143.6 1170.5 147.7 1170.0 145.7 1169.5 142.3 1169.0 144.1 1168.5 146.6 1168.0 144.6 1167.5 145.2 1167.0 146.4 1166.5 146.3 1166.0 148.8 1165.5 145.8 1165.0 148.1 1164.5 151.3 1164.0 152.3 1163.5 146.9 1163.0 150.3 1162.5 151.5 1162.0 152.9 1161.5 150.2 1161.0 148.7 1160.5 148.1 1160.0 150.9 1159.5 148.8 1159.0 148.6 1158.5 149.2 1158.0 150.0 1157.5 152.0 1157.0 153.2 1156.5 153.2 1156.0 150.4 1155.5 151.4 1155.0 152.8 1154.5 153.0 1154.0 152.0 1153.5 153.1 1153.0 149.9 1152.5 150.3 1152.0 152.5 1151.5 150.3 1151.0 151.7 1150.5 151.3 1150.0 152.2 1149.5 150.6 1149.0 152.1 1148.5 148.6 1148.0 151.9 1147.5 152.1 1147.0 151.1 1146.5 149.8 1146.0 148.1 1145.5 150.6 1145.0 149.4 1144.5 151.0 1144.0 148.4 1143.5 150.0 1143.0 148.7 1142.5 151.2 1142.0 150.0 1141.5 150.6 1141.0 151.7 1140.5 148.2 1140.0 151.8 1139.5 151.9 1139.0 150.7 1138.5 151.9 1138.0 154.4 1137.5 154.1 1137.0 151.0 1136.5 149.8 1136.0 150.5 1135.5 149.0 1135.0 146.9 1134.5 148.2 1134.0 147.6 1133.5 147.8 1133.0 146.5 1132.5 149.6 1132.0 143.9 1131.5 148.4 1131.0 149.7 1130.5 144.1 1130.0 149.5 1129.5 148.8 1129.0 142.9 1128.5 147.9 1128.0 144.5 1127.5 144.0 1127.0 142.6 1126.5 141.4 1126.0 149.9 1125.5 142.7 1125.0 150.0 1124.5 148.0 1124.0 145.1 1123.5 149.1 1123.0 150.2 1122.5 149.9 1122.0 151.6 1121.5 150.0 1121.0 151.4 1120.5 150.7 1120.0 152.7 1119.5 156.5 1119.0 147.4 1118.5 148.8 1118.0 152.0 1117.5 148.3 1117.0 151.0 1116.5 149.1 1116.0 149.0 1115.5 156.9 1115.0 149.4 1114.5 151.3 1114.0 153.3 1113.5 154.2 1113.0 152.3 1112.5 153.1 1112.0 150.8 1111.5 149.4 1111.0 152.1 1110.5 148.7 1110.0 152.5 1109.5 157.3 1109.0 152.7 1108.5 151.7 1108.0 152.2 1107.5 154.1 1107.0 155.2 1106.5 154.7 1106.0 152.8 1105.5 150.8 1105.0 149.9 1104.5 151.4 1104.0 152.6 1103.5 149.0 1103.0 150.4 1102.5 148.4 1102.0 152.3 1101.5 152.9 1101.0 152.9 1100.5 149.7 1100.0 150.1 1099.5 150.4 1099.0 146.8 1098.5 154.7 1098.0 148.0 1097.5 145.7 1097.0 150.9 1096.5 149.4 1096.0 150.0 1095.5 150.0 1095.0 148.9 1094.5 150.9 1094.0 148.6 1093.5 147.6 1093.0 150.6 1092.5 147.2 1092.0 153.8 1091.5 153.3 1091.0 150.2 1090.5 152.4 1090.0 148.4 1089.5 153.5 1089.0 151.9 1088.5 149.4 1088.0 150.5 1087.5 149.9 1087.0 147.7 1086.5 150.2 1086.0 151.0 1085.5 151.6 1085.0 148.1 1084.5 147.3 1084.0 148.7 1083.5 148.8 1083.0 147.0 1082.5 150.5 1082.0 146.2 1081.5 147.7 1081.0 147.8 1080.5 151.7 1080.0 154.1 1079.5 154.0 1079.0 152.0 1078.5 153.9 1078.0 152.5 1077.5 154.6 1077.0 153.3 1076.5 152.1 1076.0 152.5 1075.5 155.4 1075.0 154.7 1074.5 153.8 1074.0 154.4 1073.5 153.4 1073.0 154.8 1072.5 155.1 1072.0 153.5 1071.5 155.8 1071.0 157.1 1070.5 154.9 1070.0 155.4 1069.5 157.7 1069.0 156.0 1068.5 155.2 1068.0 140.7 1067.5 143.2 1067.0 141.3 1066.5 141.0 1066.0 145.0 1065.5 142.6 1065.0 140.0 1064.5 139.7 1064.0 146.3 1063.5 142.6 1063.0 139.3 1062.5 139.8 1062.0 147.6 1061.5 139.8 1061.0 141.7 1060.5 145.9 1060.0 141.4 1059.5 140.5 1059.0 139.5 1058.5 141.6 1058.0 138.1 1057.5 140.5 1057.0 139.9 1056.5 141.3 1056.0 137.1 1055.5 138.7 1055.0 137.2 1054.5 139.6 1054.0 139.0 1053.5 141.1 1053.0 139.5 1052.5 138.7 1052.0 137.2 1051.5 138.3 1051.0 139.7 1050.5 138.9 1050.0 140.2 1049.5 138.4 1049.0 141.2 1048.5 139.4 1048.0 142.1 1047.5 141.5 1047.0 140.7 1046.5 143.1 1046.0 141.3 1045.5 141.8 1045.0 142.2 1044.5 141.9 1044.0 139.1 1043.5 140.1 1043.0 139.9 1042.5 142.1 1042.0 140.6 1041.5 143.4 1041.0 143.2 1040.5 143.7 1040.0 143.0 1039.5 141.6 1039.0 143.2 1038.5 145.1 1038.0 143.0 1037.5 144.7 1037.0 141.3 1036.5 143.8 1036.0 145.4 1035.5 146.7 1035.0 140.7 1034.5 141.0 1034.0 142.7 1033.5 141.8 1033.0 139.3 1032.5 140.7 1032.0 141.5 1031.5 145.2 1031.0 142.9 1030.5 140.5 1030.0 143.1 1029.5 141.8 1029.0 139.8 1028.5 140.4 1028.0 141.1 1027.5 139.0 1027.0 140.2 1026.5 138.1 1026.0 138.1 1025.5 140.8 1025.0 138.0 1024.5 139.0 1024.0 140.0 1023.5 138.1 1023.0 138.4 1022.5 141.7 1022.0 141.8 1021.5 140.5 1021.0 139.0 1020.5 145.6 1020.0 139.8 1019.5 141.4 1019.0 139.4 1018.5 141.2 1018.0 138.3 1017.5 140.5 1017.0 138.7 1016.5 139.1 1016.0 141.9 1015.5 141.6 1015.0 142.3 1014.5 138.9 1014.0 141.1 1013.5 139.2 1013.0 141.7 1012.5 140.7 1012.0 138.7 1011.5 140.7 1011.0 139.7 1010.5 144.4 1010.0 141.1 1009.5 140.8 1009.0 140.8 1008.5 139.5 1008.0 139.5 1007.5 140.6 1007.0 139.4 1006.5 139.5 1006.0 142.1 1005.5 139.2 1005.0 140.6 1004.5 140.9 1004.0 140.5 1003.5 141.4 1003.0 141.4 1002.5 140.6 1002.0 139.3 1001.5 142.3 1001.0 140.4 1000.5 142.2 1000.0 141.8 999.5 139.2 999.0 139.3 998.5 142.8 998.0 130.7 997.5 132.9 997.0 132.6 996.5 134.4 996.0 131.0 995.5 133.0 995.0 129.8 994.5 131.1 994.0 132.1 993.5 129.8 993.0 129.1 992.5 129.6 992.0 129.9 991.5 129.7 991.0 132.7 990.5 131.8 990.0 132.2 989.5 128.3 989.0 129.3 988.5 130.8 988.0 130.1 987.5 127.3 987.0 127.4 986.5 126.5 986.0 131.2 985.5 128.7 985.0 127.5 984.5 128.3 984.0 130.6 983.5 133.0 983.0 129.3 982.5 137.5 982.0 133.1 981.5 130.8 981.0 129.7 980.5 130.5 980.0 130.9 979.5 130.1 979.0 132.0 978.5 131.0 978.0 133.0 977.5 134.6 977.0 130.8 976.5 132.4 976.0 133.8 975.5 130.4 975.0 132.6 974.5 132.8 974.0 132.2 973.5 131.3 973.0 134.1 972.5 130.7 972.0 134.8 971.5 134.1 971.0 134.5 970.5 132.5 970.0 133.7 969.5 133.5 969.0 132.7 968.5 133.2 968.0 131.2 967.5 130.9 967.0 135.8 966.5 134.1 966.0 132.7 965.5 130.4 965.0 132.2 964.5 130.6 964.0 130.7 963.5 134.3 963.0 133.1 962.5 133.1 962.0 133.2 961.5 133.0 961.0 132.7 960.5 133.8 960.0 131.5 959.5 134.6 959.0 129.5 958.5 130.9 958.0 131.4 957.5 128.9 957.0 133.2 956.5 129.4 956.0 128.9 955.5 127.8 955.0 131.4 954.5 127.9 954.0 136.1 953.5 130.9 953.0 125.7 952.5 128.4 952.0 126.6 951.5 129.9 951.0 128.8 950.5 128.1 950.0 128.8 949.5 130.5 949.0 130.0 948.5 127.5 948.0 126.6 947.5 127.1 947.0 135.4 946.5 129.7 946.0 131.9 945.5 129.3 945.0 126.8 944.5 127.1 944.0 128.8 943.5 132.4 943.0 133.4 942.5 133.7 942.0 136.0 941.5 134.9 941.0 135.0 940.5 137.1 940.0 135.5 939.5 137.2 939.0 137.8 938.5 136.2 938.0 140.2 937.5 134.9 937.0 131.4 936.5 135.5 936.0 134.8 935.5 133.0 935.0 136.8 934.5 133.7 934.0 139.5 933.5 134.9 933.0 134.4 932.5 133.5 932.0 133.0 931.5 134.4 931.0 132.3 930.5 130.4 930.0 134.2 929.5 130.3 929.0 133.3 928.5 129.4 928.0 130.8 927.5 130.6 927.0 130.9 926.5 129.2 926.0 131.6 925.5 132.7 925.0 134.1 924.5 132.9 924.0 134.5 923.5 133.7 923.0 133.7 922.5 131.8 922.0 133.4 921.5 133.5 921.0 132.6 920.5 132.2 920.0 134.2 919.5 133.1 919.0 133.7 918.5 135.9 918.0 135.4 917.5 133.5 917.0 133.4 916.5 133.0 916.0 134.0 915.5 133.2 915.0 134.5 914.5 132.9 914.0 134.7 913.5 132.0 913.0 134.1 912.5 135.6 912.0 131.3 911.5 133.8 911.0 133.1 910.5 132.4 910.0 131.6 909.5 132.0 909.0 133.3 908.5 131.6 908.0 126.9 907.5 131.0 907.0 128.7 906.5 128.2 906.0 128.1 905.5 127.9 905.0 129.0 904.5 129.5 904.0 128.8 903.5 129.1 903.0 129.6 902.5 131.6 902.0 127.2 901.5 129.6 901.0 129.4 900.5 129.7 900.0 131.9 899.5 131.2 899.0 133.3 898.5 130.2 898.0 132.4 897.5 131.8 897.0 131.6 896.5 128.0 896.0 130.9 895.5 132.7 895.0 129.3 894.5 135.9 894.0 133.2 893.5 131.1 893.0 132.0 892.5 132.7 892.0 134.5 891.5 132.7 891.0 129.9 890.5 132.7 890.0 134.5 889.5 131.9 889.0 134.5 888.5 133.3 888.0 129.9 887.5 129.3 887.0 128.6 886.5 132.3 886.0 133.1 885.5 129.6 885.0 132.4 884.5 135.2 884.0 132.7 883.5 133.1 883.0 130.2 882.5 132.2 882.0 128.1 881.5 128.6 881.0 131.5 880.5 130.5 880.0 131.0 879.5 132.3 879.0 131.5 878.5 133.3 878.0 132.0 877.5 131.7 877.0 129.1 876.5 127.7 876.0 132.5 875.5 132.3 875.0 132.8 874.5 129.4 874.0 128.5 873.5 131.5 873.0 130.2 872.5 132.2 872.0 130.8 871.5 129.9 871.0 129.2 870.5 135.6 870.0 133.3 869.5 133.1 869.0 128.8 868.5 132.4 868.0 128.8 867.5 131.3 867.0 130.1 866.5 130.6 866.0 128.9 865.5 129.8 865.0 129.5 864.5 130.6 864.0 128.2 863.5 128.9 863.0 128.1 862.5 130.6 862.0 127.8 861.5 131.1 861.0 131.2 860.5 131.5 860.0 127.6 859.5 126.8 859.0 129.3 858.5 131.6 858.0 127.5 857.5 127.4 857.0 129.0 856.5 130.9 856.0 130.0 855.5 127.3 855.0 128.5 854.5 131.1 854.0 128.1 853.5 127.1 853.0 129.1 852.5 130.8 852.0 129.5 851.5 131.0 851.0 131.0 850.5 132.8 850.0 131.6 849.5 130.9 849.0 132.2 848.5 129.3 848.0 125.9 847.5 123.0 847.0 123.2 846.5 118.3 846.0 118.1 845.5 118.8 845.0 117.5 844.5 117.3 844.0 113.4 843.5 115.9 843.0 119.2 842.5 115.5 842.0 115.3 841.5 117.4 841.0 116.5 840.5 114.2 840.0 114.4 839.5 115.7 839.0 114.8 838.5 112.3 838.0 111.8 837.5 107.5 837.0 108.6 836.5 112.5 836.0 110.3 835.5 105.2 835.0 111.2 834.5 107.6 834.0 106.3 833.5 107.6 833.0 100.7 832.5 98.9 832.0 100.5 831.5 98.4 831.0 102.9 830.5 95.9 830.0 97.5 829.5 93.0 829.0 94.1 828.5 90.8 828.0 89.5 827.5 85.2 827.0 90.1 826.5 84.1 826.0 67.5 825.5 68.8 825.0 64.3 824.5 65.1 824.0 57.6 823.5 55.3 Z" fill="#E24A33" fill-opacity="0.55" stroke="none"/>
<path d="M823.5 39.2 824.0 55.2 824.5 48.8 825.0 61.7 825.5 45.7 826.0 67.1 826.5 60.2 827.0 84.4 827.5 62.0 828.0 81.3 828.5 31.3 829.0 89.7 829.5 74.2 830.0 86.1 830.5 73.7 831.0 99.5 831.5 79.2 832.0 93.3 832.5 43.1 833.0 92.2 833.5 82.7 834.0 102.0 834.5 88.2 835.0 105.5 835.5 86.9 836.0 108.8 836.5 60.8 837.0 95.9 837.5 49.6 838.0 110.1 838.5 95.8 839.0 111.6 839.5 91.4 840.0 113.1 840.5 81.7 841.0 105.5 841.5 34.5 842.0 113.1 842.5 72.2 843.0 115.6 843.5 92.3 844.0 99.2 844.5 46.9 845.0 103.0 845.5 91.9 846.0 112.6 846.5 108.8 847.0 121.7 847.5 104.9 848.0 118.9 848.5 55.5 849.0 131.6 849.5 99.3 850.0 130.7 850.5 120.2 851.0 129.8 851.5 118.1 852.0 126.0 852.5 118.9 853.0 120.3 853.5 73.3 854.0 102.6 854.5 81.1 855.0 118.1 855.5 114.6 856.0 129.1 856.5 115.6 857.0 127.5 857.5 118.8 858.0 125.8 858.5 119.2 859.0 129.1 859.5 117.1 860.0 126.8 860.5 117.2 861.0 130.8 861.5 114.6 862.0 127.7 862.5 117.8 863.0 127.6 863.5 116.9 864.0 126.1 864.5 114.4 865.0 125.7 865.5 114.1 866.0 127.5 866.5 120.3 867.0 128.8 867.5 121.6 868.0 126.4 868.5 112.2 869.0 126.7 869.5 121.2 870.0 131.3 870.5 110.8 871.0 119.8 871.5 71.1 872.0 116.4 872.5 99.1 873.0 128.7 873.5 115.6 874.0 127.5 874.5 119.7 875.0 129.4 875.5 118.5 876.0 129.1 876.5 101.2 877.0 112.5 877.5 57.5 878.0 112.3 878.5 90.8 879.0 129.1 879.5 116.7 880.0 128.9 880.5 113.1 881.0 128.4 881.5 120.6 882.0 126.8 882.5 120.6 883.0 127.1 883.5 115.1 884.0 129.5 884.5 115.6 885.0 130.8 885.5 120.1 886.0 126.0 886.5 81.9 887.0 120.7 887.5 81.2 888.0 122.4 888.5 117.1 889.0 132.2 889.5 118.0 890.0 130.8 890.5 120.8 891.0 129.6 891.5 117.6 892.0 134.4 892.5 123.0 893.0 130.4 893.5 119.7 894.0 132.6 894.5 119.7 895.0 127.2 895.5 119.1 896.0 128.4 896.5 114.4 897.0 130.5 897.5 107.9 898.0 131.2 898.5 51.8 899.0 129.4 899.5 102.3 900.0 127.2 900.5 115.9 901.0 129.1 901.5 120.3 902.0 123.4 902.5 118.1 903.0 129.0 903.5 115.1 904.0 121.7 904.5 85.9 905.0 123.4 905.5 118.0 906.0 127.6 906.5 117.4 907.0 125.5 907.5 112.7 908.0 124.0 908.5 119.6 909.0 133.2 909.5 120.6 910.0 122.8 910.5 70.1 911.0 115.3 911.5 80.5 912.0 120.1 912.5 123.4 913.0 133.3 913.5 119.9 914.0 133.7 914.5 122.5 915.0 133.8 915.5 104.1 916.0 117.8 916.5 72.3 917.0 118.9 917.5 104.8 918.0 134.0 918.5 122.1 919.0 132.0 919.5 121.2 920.0 134.1 920.5 121.8 921.0 131.1 921.5 120.3 922.0 133.4 922.5 116.2 923.0 131.4 923.5 118.9 924.0 131.2 924.5 121.8 925.0 132.3 925.5 87.0 926.0 120.1 926.5 34.2 927.0 113.2 927.5 90.7 928.0 130.5 928.5 116.7 929.0 130.9 929.5 112.6 930.0 130.9 930.5 121.1 931.0 129.3 931.5 120.2 932.0 130.7 932.5 119.0 933.0 130.3 933.5 121.3 934.0 136.8 934.5 116.9 935.0 133.1 935.5 120.0 936.0 132.0 936.5 116.3 937.0 127.4 937.5 120.2 938.0 139.4 938.5 124.4 939.0 134.8 939.5 126.6 940.0 134.9 940.5 123.9 941.0 134.6 941.5 122.7 942.0 130.9 942.5 116.1 943.0 129.5 943.5 119.3 944.0 126.9 944.5 114.9 945.0 125.7 945.5 116.8 946.0 130.1 946.5 119.5 947.0 135.0 947.5 118.3 948.0 125.5 948.5 117.0 949.0 126.3 949.5 114.0 950.0 126.5 950.5 119.8 951.0 125.6 951.5 114.8 952.0 124.1 952.5 113.5 953.0 123.7 953.5 84.3 954.0 126.6 954.5 119.0 955.0 128.0 955.5 116.9 956.0 128.7 956.5 118.9 957.0 129.9 957.5 114.3 958.0 126.9 958.5 121.5 959.0 126.4 959.5 121.4 960.0 128.2 960.5 118.6 961.0 131.4 961.5 118.6 962.0 132.9 962.5 117.1 963.0 133.0 963.5 81.0 964.0 119.1 964.5 87.9 965.0 123.1 965.5 119.6 966.0 129.3 966.5 118.0 967.0 130.8 967.5 117.8 968.0 129.3 968.5 121.1 969.0 128.2 969.5 119.9 970.0 132.6 970.5 119.5 971.0 131.6 971.5 122.8 972.0 131.3 972.5 119.8 973.0 130.9 973.5 118.8 974.0 130.8 974.5 123.0 975.0 129.7 975.5 119.3 976.0 130.8 976.5 117.5 977.0 130.0 977.5 122.1 978.0 129.3 978.5 119.4 979.0 130.9 979.5 115.5 980.0 125.6 980.5 118.6 981.0 126.9 981.5 118.9 982.0 130.3 982.5 119.1 983.0 127.5 983.5 120.9 984.0 128.4 984.5 115.4 985.0 125.4 985.5 114.9 986.0 127.4 986.5 113.0 987.0 124.9 987.5 117.3 988.0 128.7 988.5 118.5 989.0 125.7 989.5 117.5 990.0 127.9 990.5 117.3 991.0 129.5 991.5 114.0 992.0 128.1 992.5 118.5 993.0 126.9 993.5 117.7 994.0 132.1 994.5 116.4 995.0 127.3 995.5 117.7 996.0 128.8 996.5 121.2 997.0 128.2 997.5 120.8 998.0 129.9 998.5 132.2 999.0 137.6 999.5 128.2 1000.0 139.4 1000.5 130.9 1001.0 137.5 1001.5 130.0 1002.0 136.9 1002.5 129.5 1003.0 138.0 1003.5 130.7 1004.0 139.8 1004.5 126.2 1005.0 136.3 1005.5 131.0 1006.0 140.7 1006.5 128.4 1007.0 139.3 1007.5 130.8 1008.0 136.3 1008.5 128.3 1009.0 139.5 1009.5 129.7 1010.0 137.1 1010.5 131.4 1011.0 136.0 1011.5 129.3 1012.0 137.1 1012.5 131.5 1013.0 139.0 1013.5 132.4 1014.0 138.0 1014.5 128.0 1015.0 138.8 1015.5 128.8 1016.0 139.9 1016.5 131.4 1017.0 136.2 1017.5 129.8 1018.0 137.8 1018.5 128.8 1019.0 138.5 1019.5 128.9 1020.0 137.4 1020.5 132.3 1021.0 138.7 1021.5 131.6 1022.0 139.6 1022.5 122.6 1023.0 137.3 1023.5 128.6 1024.0 136.5 1024.5 130.9 1025.0 137.8 1025.5 129.1 1026.0 133.7 1026.5 126.2 1027.0 137.4 1027.5 129.6 1028.0 139.4 1028.5 131.7 1029.0 138.9 1029.5 131.5 1030.0 138.7 1030.5 130.1 1031.0 139.3 1031.5 129.0 1032.0 140.6 1032.5 131.2 1033.0 138.4 1033.5 133.2 1034.0 139.5 1034.5 129.4 1035.0 140.1 1035.5 133.1 1036.0 142.1 1036.5 133.7 1037.0 140.9 1037.5 133.6 1038.0 142.5 1038.5 133.8 1039.0 142.5 1039.5 133.1 1040.0 140.8 1040.5 131.4 1041.0 139.0 1041.5 129.6 1042.0 137.8 1042.5 133.5 1043.0 139.1 1043.5 130.7 1044.0 138.1 1044.5 130.3 1045.0 142.1 1045.5 129.7 1046.0 139.8 1046.5 130.5 1047.0 138.0 1047.5 129.2 1048.0 140.8 1048.5 129.6 1049.0 138.3 1049.5 129.0 1050.0 140.1 1050.5 126.6 1051.0 138.6 1051.5 126.9 1052.0 136.9 1052.5 129.1 1053.0 139.2 1053.5 128.7 1054.0 136.4 1054.5 128.2 1055.0 134.4 1055.5 128.0 1056.0 133.9 1056.5 130.7 1057.0 136.4 1057.5 128.7 1058.0 137.3 1058.5 127.9 1059.0 139.2 1059.5 127.6 1060.0 140.1 1060.5 129.9 1061.0 141.1 1061.5 133.3 1062.0 143.4 1062.5 128.6 1063.0 137.5 1063.5 131.7 1064.0 143.1 1064.5 131.5 1065.0 137.3 1065.5 134.1 1066.0 142.7 1066.5 132.1 1067.0 139.9 1067.5 131.2 1068.0 138.6 1068.5 145.3 1069.0 156.0 1069.5 147.0 1070.0 152.0 1070.5 148.4 1071.0 155.9 1071.5 145.9 1072.0 151.2 1072.5 144.8 1073.0 154.4 1073.5 144.8 1074.0 151.3 1074.5 143.2 1075.0 154.1 1075.5 142.9 1076.0 152.1 1076.5 143.4 1077.0 152.1 1077.5 144.8 1078.0 151.8 1078.5 146.5 1079.0 150.1 1079.5 144.5 1080.0 150.8 1080.5 145.2 1081.0 146.6 1081.5 135.6 1082.0 146.2 1082.5 135.9 1083.0 146.6 1083.5 135.9 1084.0 146.1 1084.5 136.7 1085.0 145.3 1085.5 136.6 1086.0 148.9 1086.5 136.5 1087.0 145.0 1087.5 138.8 1088.0 146.1 1088.5 136.6 1089.0 151.5 1089.5 132.7 1090.0 147.1 1090.5 137.2 1091.0 145.9 1091.5 133.8 1092.0 151.5 1092.5 133.5 1093.0 148.1 1093.5 135.9 1094.0 143.3 1094.5 132.4 1095.0 148.5 1095.5 133.5 1096.0 145.4 1096.5 132.9 1097.0 150.3 1097.5 132.4 1098.0 143.8 1098.5 137.0 1099.0 144.8 1099.5 138.9 1100.0 147.0 1100.5 131.9 1101.0 148.5 1101.5 138.2 1102.0 150.1 1102.5 139.2 1103.0 149.5 1103.5 136.4 1104.0 150.4 1104.5 137.4 1105.0 149.9 1105.5 139.5 1106.0 149.2 1106.5 138.9 1107.0 150.0 1107.5 139.7 1108.0 151.3 1108.5 141.5 1109.0 152.3 1109.5 134.4 1110.0 150.3 1110.5 140.6 1111.0 148.6 1111.5 134.7 1112.0 148.0 1112.5 138.7 1113.0 150.9 1113.5 142.2 1114.0 149.6 1114.5 133.8 1115.0 147.5 1115.5 138.2 1116.0 145.2 1116.5 132.7 1117.0 146.3 1117.5 134.4 1118.0 148.6 1118.5 132.7 1119.0 144.5 1119.5 135.7 1120.0 150.2 1120.5 127.4 1121.0 149.9 1121.5 129.6 1122.0 147.7 1122.5 134.4 1123.0 148.6 1123.5 137.0 1124.0 144.2 1124.5 132.5 1125.0 149.5 1125.5 122.7 1126.0 148.9 1126.5 131.7 1127.0 139.9 1127.5 130.5 1128.0 140.7 1128.5 132.4 1129.0 142.5 1129.5 130.0 1130.0 149.2 1130.5 125.1 1131.0 144.2 1131.5 133.8 1132.0 142.7 1132.5 134.2 1133.0 145.8 1133.5 136.5 1134.0 143.2 1134.5 137.4 1135.0 144.7 1135.5 134.1 1136.0 146.1 1136.5 133.4 1137.0 148.6 1137.5 136.0 1138.0 148.5 1138.5 136.7 1139.0 149.1 1139.5 136.8 1140.0 149.7 1140.5 137.1 1141.0 148.8 1141.5 133.7 1142.0 145.2 1142.5 135.1 1143.0 145.8 1143.5 135.0 1144.0 143.4 1144.5 132.9 1145.0 146.4 1145.5 135.8 1146.0 145.7 1146.5 138.7 1147.0 149.1 1147.5 134.5 1148.0 148.9 1148.5 136.4 1149.0 148.1 1149.5 138.2 1150.0 148.9 1150.5 139.5 1151.0 147.6 1151.5 133.9 1152.0 149.9 1152.5 139.3 1153.0 148.4 1153.5 138.1 1154.0 148.2 1154.5 138.7 1155.0 152.3 1155.5 135.1 1156.0 149.7 1156.5 139.3 1157.0 150.3 1157.5 139.5 1158.0 148.7 1158.5 138.6 1159.0 147.8 1159.5 136.3 1160.0 148.2 1160.5 133.3 1161.0 146.7 1161.5 137.0 1162.0 149.0 1162.5 136.3 1163.0 148.4 1163.5 132.1 1164.0 150.3 1164.5 135.3 1165.0 143.9 1165.5 133.3 1166.0 146.3 1166.5 135.0 1167.0 145.1 1167.5 134.0 1168.0 143.6 1168.5 128.7 1169.0 140.9 1169.5 130.6 1170.0 142.3 1170.5 132.8 1171.0 142.2 1171.5 127.6 1172.0 143.0 1172.5 134.1 1173.0 143.2 1173.5 133.5 1174.0 143.7 1174.5 129.8 1175.0 145.3 1175.5 130.0 1176.0 147.2 1176.5 130.8 1177.0 144.3 1177.5 135.2 1178.0 144.4 1178.5 132.5 1179.0 146.5 1179.5 135.7 1180.0 145.9 1180.5 131.3 1181.0 144.9 1181.5 133.8 1182.0 146.5 1182.5 130.2 1183.0 143.9 1183.5 131.6 1184.0 144.2 1184.5 126.8 1185.0 143.2 1185.5 128.5 1186.0 144.6 1186.5 130.1 1187.0 140.7 1187.5 133.9 1188.0 140.6 1188.5 132.6 1189.0 144.3 1189.5 132.8 1190.0 149.3 1190.5 134.9 1191.0 145.5 1191.5 133.3 1192.0 147.1 1192.5 137.9 1193.0 143.7 1193.5 138.6 1194.0 148.0 1194.5 134.8 1195.0 148.3 1195.5 136.6 1196.0 151.4 1196.5 134.9 1197.0 152.0 1197.5 138.0 1198.0 148.9 1198.5 139.5 1199.0 146.6 1199.5 134.1 1200.0 151.2 1200.5 140.4 1201.0 149.0 1201.5 135.7 1202.0 147.4 1202.5 137.2 1203.0 147.2 1203.5 135.9 1204.0 148.2 1204.5 131.8 1205.0 144.8 1205.5 137.0 1206.0 148.4 1206.5 138.9 1207.0 153.5 1207.5 140.4 1208.0 152.8 1208.5 139.3 1209.0 155.8 1209.5 138.4 1210.0 149.7 1210.5 140.3 1211.0 147.3 1211.5 138.5 1212.0 153.8 1212.5 138.7 1213.0 147.0 1213.5 141.3 1214.0 155.6 1214.5 145.1 1215.0 155.2 1215.5 140.0 1216.0 152.4 1216.5 143.7 1217.0 152.0 1217.5 141.6 1218.0 152.6 1218.5 134.1 1219.0 150.0 1219.5 136.6 1220.0 148.1 1220.5 133.9 1221.0 148.7 1221.5 135.9 1222.0 147.5 1222.5 141.1 1223.0 146.7 1223.5 137.5 1224.0 149.9 1224.5 137.0 1225.0 143.4 1225.5 136.8 1226.0 147.2 1226.5 135.0 1227.0 146.8 1227.5 135.9 1228.0 149.2 1228.5 135.4 1229.0 145.0 1229.5 135.5 1230.0 147.5 1230.5 137.2 1231.0 148.2 1231.5 136.9 1232.0 149.0 1232.5 131.3 1233.0 148.0 1233.5 134.4 1234.0 143.2 1234.5 131.9 1235.0 142.2 1235.5 134.4 1236.0 141.6 1236.5 132.3 1237.0 142.2 1237.5 128.3 1238.0 146.3 1238.5 131.6 1239.0 136.2 1239.5 128.4 1240.0 141.7 1240.5 129.5 1241.0 139.3 1241.5 124.8 1242.0 142.4 1242.5 129.6 1243.0 141.4 1243.5 127.9 1244.0 142.0 1244.5 132.8 1245.0 145.8 1245.5 130.2 1246.0 145.5 1246.5 134.3 1247.0 145.4 1247.5 133.2 1248.0 147.3 1248.5 121.6 1249.0 127.9 1249.5 122.0 1250.0 133.7 1250.5 118.1 1251.0 132.9 1251.5 121.9 1252.0 136.4 1252.5 126.9 1253.0 135.3 1253.5 125.5 1254.0 137.0 1254.5 124.4 1255.0 134.4 1255.5 119.6 1256.0 134.1 1256.5 119.2 1257.0 131.8 1257.5 119.5 1258.0 131.9 1258.5 107.1 1259.0 130.0 1259.5 119.4 1260.0 131.6 1260.5 122.4 1261.0 130.6 1261.5 125.3 1262.0 132.0 1262.5 118.9 1263.0 134.0 1263.5 121.9 1264.0 139.6 1264.5 125.8 1265.0 133.3 1265.5 120.6 1266.0 130.4 1266.5 118.3 1267.0 132.8 1267.5 119.0 1268.0 136.4 1268.5 118.8 1269.0 130.8 1269.5 121.4 1270.0 134.8 1270.5 110.9 1271.0 118.0 1271.5 65.5 1272.0 128.3 1272.5 107.3 1273.0 127.3 1273.5 102.9 1274.0 133.5 1274.5 103.0 1275.0 120.5 1275.5 69.9 1276.0 117.4 1276.5 98.0 1277.0 129.8 1277.5 120.4 1278.0 134.3 1278.5 118.6 1279.0 138.0 1279.5 126.5 1280.0 137.3 1280.5 123.6 1281.0 143.3 1281.5 125.6 1282.0 139.9 1282.5 128.2 1283.0 140.3 1283.5 129.6 1284.0 139.5 1284.5 131.6 1285.0 139.6 1285.5 131.8 1286.0 141.4 1286.5 129.0 1287.0 140.8 1287.5 128.7 1288.0 137.4 1288.5 127.2 1289.0 135.5 1289.5 123.4 1290.0 135.9 1290.5 126.4 1291.0 135.5 1291.5 127.0 1292.0 137.6 1292.5 122.1 1293.0 128.7 1293.5 120.6 1294.0 128.0 1294.5 117.5 1295.0 135.3 1295.5 117.5 1296.0 132.1 1296.5 119.5 1297.0 129.1 1297.5 122.5 1298.0 126.3 1298.5 105.4 1299.0 126.9 1299.5 119.5 1300.0 128.8 1300.5 121.2 1301.0 127.4 1301.5 89.1 1302.0 127.2 1302.5 124.8 1303.0 129.1 1303.5 114.9 1304.0 125.1 1304.5 60.9 1305.0 125.3 1305.5 108.0 1306.0 135.3 1306.5 110.8 1307.0 125.7 1307.5 66.9 1308.0 124.9 1308.5 105.1 1309.0 136.8 1309.5 73.6 1310.0 112.6 1310.5 76.2 1311.0 134.4 1311.5 126.0 1312.0 139.9 1312.5 114.8 1313.0 132.9 1313.5 69.7 1314.0 128.1 1314.5 112.4 1315.0 138.0 1315.5 130.0 1316.0 143.5 1316.5 128.0 1317.0 139.3 1317.5 129.2 1318.0 137.6 1318.5 127.2 1319.0 136.7 1319.5 125.6 1320.0 137.9 1320.5 125.2 1321.0 137.4 1321.5 121.5 1322.0 134.3 1322.5 127.9 1323.0 140.9 1323.5 122.7" fill="none" stroke="#E24A33" stroke-width="0.90" stroke-linejoin="round"/>
<polyline points="824.8,54.2 825.5,39.5 826.1,54.2" fill="none" stroke="#E24A33" stroke-width="1"/>
<polyline points="827.8,59.2 828.5,27.6 829.1,59.2" fill="none" stroke="#E24A33" stroke-width="1"/>
<polyline points="831.8,67.7 832.5,36.6 833.1,67.7" fill="none" stroke="#E24A33" stroke-width="1"/>
<polyline points="836.2,68.4 837.0,28.2 837.6,68.4" fill="none" stroke="#E24A33" stroke-width="1"/>
<polyline points="840.6,68.9 841.4,20.5 842.0,68.9" fill="none" stroke="#E24A33" stroke-width="1"/>
<polyline points="843.6,75.7 844.4,34.2 845.0,75.7" fill="none" stroke="#E24A33" stroke-width="1"/>
<polyline points="847.5,87.4 848.2,45.5 848.9,87.4" fill="none" stroke="#E24A33" stroke-width="1"/>
<polyline points="853.4,84.4 854.1,40.7 854.7,84.4" fill="none" stroke="#E24A33" stroke-width="1"/>
<polyline points="870.5,90.7 871.2,51.4 871.9,90.7" fill="none" stroke="#E24A33" stroke-width="1"/>
<polyline points="876.6,86.8 877.4,41.9 878.0,86.8" fill="none" stroke="#E24A33" stroke-width="1"/>
<polyline points="886.4,85.3 887.1,41.9 887.8,85.3" fill="none" stroke="#E24A33" stroke-width="1"/>
<polyline points="897.6,87.8 898.4,45.5 899.0,87.8" fill="none" stroke="#E24A33" stroke-width="1"/>
<polyline points="903.8,100.3 904.5,71.1 905.1,100.3" fill="none" stroke="#E24A33" stroke-width="1"/>
<polyline points="910.4,86.3 911.1,39.5 911.8,86.3" fill="none" stroke="#E24A33" stroke-width="1"/>
<polyline points="915.5,90.5 916.3,47.9 916.9,90.5" fill="none" stroke="#E24A33" stroke-width="1"/>
<polyline points="925.8,80.5 926.5,31.8 927.1,80.5" fill="none" stroke="#E24A33" stroke-width="1"/>
<polyline points="952.5,100.1 953.2,69.3 953.9,100.1" fill="none" stroke="#E24A33" stroke-width="1"/>
<polyline points="963.0,90.5 963.8,50.3 964.4,90.5" fill="none" stroke="#E24A33" stroke-width="1"/>
<polyline points="1270.8,92.0 1271.5,51.4 1272.1,92.0" fill="none" stroke="#E24A33" stroke-width="1"/>
<polyline points="1274.8,89.8 1275.5,47.9 1276.1,89.8" fill="none" stroke="#E24A33" stroke-width="1"/>
<polyline points="1297.8,115.2 1298.5,99.0 1299.1,115.2" fill="none" stroke="#E24A33" stroke-width="1"/>
<polyline points="1303.8,93.9 1304.5,55.6 1305.1,93.9" fill="none" stroke="#E24A33" stroke-width="1"/>
<polyline points="1306.8,94.6 1307.5,51.4 1308.1,94.6" fill="none" stroke="#E24A33" stroke-width="1"/>
<polyline points="1309.2,89.1 1310.0,37.8 1310.6,89.1" fill="none" stroke="#E24A33" stroke-width="1"/>
<polyline points="1312.8,99.8 1313.5,58.6 1314.1,99.8" fill="none" stroke="#E24A33" stroke-width="1"/>
<polyline points="1257.8,119.7 1258.5,105.0 1259.1,119.7" fill="none" stroke="#E24A33" stroke-width="1"/>
<polyline points="1265.2,120.3 1266.0,102.0 1266.6,120.3" fill="none" stroke="#E24A33" stroke-width="1"/>
<polyline points="1272.8,113.4 1273.5,93.1 1274.1,113.4" fill="none" stroke="#E24A33" stroke-width="1"/>
<polyline points="1300.8,110.6 1301.5,87.2 1302.1,110.6" fill="none" stroke="#E24A33" stroke-width="1"/>
<path d="M823.5 46.1 824.0 49.9 824.5 52.1 825.0 55.4 825.5 59.7 826.0 56.7 826.5 45.5 827.0 62.8 827.5 72.8 828.0 73.0 828.5 71.3 829.0 78.3 829.5 74.4 830.0 80.9 830.5 79.7 831.0 81.7 831.5 84.8 832.0 77.6 832.5 50.9 833.0 24.1 833.5 44.9 834.0 71.7 834.5 97.5 835.0 95.3 835.5 99.5 836.0 100.6 836.5 102.6 837.0 100.9 837.5 102.4 838.0 106.2 838.5 106.5 839.0 107.7 839.5 107.6 840.0 111.3 840.5 113.1 841.0 108.8 841.5 111.4 842.0 112.0 842.5 108.4 843.0 110.8 843.5 110.5 844.0 112.7 844.5 111.9 845.0 110.0 845.5 108.0 846.0 106.7 846.5 107.0 847.0 106.1 847.5 105.1 848.0 106.8 848.5 103.9 849.0 106.0 849.5 108.0 850.0 106.2 850.5 108.4 851.0 107.2 851.5 108.9 852.0 107.5 852.5 108.9 853.0 111.6 853.5 107.8 854.0 109.7 854.5 107.9 855.0 107.2 855.5 107.0 856.0 107.5 856.5 108.7 857.0 108.5 857.5 111.9 858.0 109.5 858.5 109.5 859.0 108.6 859.5 111.2 860.0 95.5 860.5 68.7 861.0 41.9 861.5 62.8 862.0 89.5 862.5 112.4 863.0 110.5 863.5 110.1 864.0 109.9 864.5 110.1 865.0 109.2 865.5 107.8 866.0 107.9 866.5 108.4 867.0 110.5 867.5 109.6 868.0 112.5 868.5 109.5 869.0 112.9 869.5 113.5 870.0 113.2 870.5 111.6 871.0 110.4 871.5 113.7 872.0 112.5 872.5 112.0 873.0 111.0 873.5 109.9 874.0 109.8 874.5 109.9 875.0 110.7 875.5 112.6 876.0 109.1 876.5 108.9 877.0 108.7 877.5 107.9 878.0 108.9 878.5 110.0 879.0 110.7 879.5 112.4 880.0 109.4 880.5 108.0 881.0 105.0 881.5 107.8 882.0 107.0 882.5 108.2 883.0 110.5 883.5 109.7 884.0 109.5 884.5 110.0 885.0 108.3 885.5 112.1 886.0 111.5 886.5 106.9 887.0 110.9 887.5 111.0 888.0 110.2 888.5 109.9 889.0 109.5 889.5 108.4 890.0 110.7 890.5 113.2 891.0 113.8 891.5 103.8 892.0 77.0 892.5 50.3 893.0 71.1 893.5 97.9 894.0 107.9 894.5 109.7 895.0 110.1 895.5 110.1 896.0 110.7 896.5 110.2 897.0 110.5 897.5 111.0 898.0 109.7 898.5 113.2 899.0 93.1 899.5 66.3 900.0 39.5 900.5 60.4 901.0 87.2 901.5 113.0 902.0 112.5 902.5 112.2 903.0 108.6 903.5 111.4 904.0 109.7 904.5 111.1 905.0 111.2 905.5 110.2 906.0 94.3 906.5 67.5 907.0 40.7 907.5 61.6 908.0 88.3 908.5 113.1 909.0 112.9 909.5 110.9 910.0 114.1 910.5 112.0 911.0 113.4 911.5 109.8 912.0 110.4 912.5 110.0 913.0 108.2 913.5 107.6 914.0 108.0 914.5 108.9 915.0 108.5 915.5 109.4 916.0 109.7 916.5 111.7 917.0 110.7 917.5 112.0 918.0 111.0 918.5 109.1 919.0 111.1 919.5 111.3 920.0 110.3 920.5 111.5 921.0 108.1 921.5 111.2 922.0 108.8 922.5 107.1 923.0 109.1 923.5 95.5 924.0 68.7 924.5 41.9 925.0 62.8 925.5 89.5 926.0 111.5 926.5 109.8 927.0 112.8 927.5 112.3 928.0 111.3 928.5 110.0 929.0 109.9 929.5 108.4 930.0 110.6 930.5 108.4 931.0 108.3 931.5 107.8 932.0 110.2 932.5 107.1 933.0 104.7 933.5 108.1 934.0 108.4 934.5 107.3 935.0 107.9 935.5 106.7 936.0 106.3 936.5 108.7 937.0 107.5 937.5 111.2 938.0 109.9 938.5 108.9 939.0 112.0 939.5 112.8 940.0 112.5 940.5 109.9 941.0 112.7 941.5 111.5 942.0 109.6 942.5 113.6 943.0 106.6 943.5 113.4 944.0 110.7 944.5 113.3 945.0 113.3 945.5 108.3 946.0 111.3 946.5 111.2 947.0 110.9 947.5 113.4 948.0 110.4 948.5 105.2 949.0 109.3 949.5 108.6 950.0 109.4 950.5 111.0 951.0 109.5 951.5 106.9 952.0 108.4 952.5 105.6 953.0 108.5 953.5 91.9 954.0 65.1 954.5 38.4 955.0 59.2 955.5 86.0 956.0 109.6 956.5 108.9 957.0 107.8 957.5 109.1 958.0 108.0 958.5 81.2 959.0 102.0 959.5 107.4 960.0 110.6 960.5 108.3 961.0 109.9 961.5 108.8 962.0 108.1 962.5 84.2 963.0 57.4 963.5 30.6 964.0 51.4 964.5 78.2 965.0 109.6 965.5 109.2 966.0 110.2 966.5 108.4 967.0 90.1 967.5 63.4 968.0 36.6 968.5 57.4 969.0 84.2 969.5 109.1 970.0 97.9 970.5 71.1 971.0 44.3 971.5 65.1 972.0 91.3 972.5 64.5 973.0 37.8 973.5 58.6 974.0 85.4 974.5 110.6 975.0 109.8 975.5 96.1 976.0 69.3 976.5 90.1 977.0 108.2 977.5 100.2 978.0 73.5 978.5 46.7 979.0 67.5 979.5 94.3 980.0 109.0 980.5 109.4 981.0 109.5 981.5 109.7 982.0 111.5 982.5 110.7 983.0 108.0 983.5 108.6 984.0 112.0 984.5 109.8 985.0 110.6 985.5 112.4 986.0 111.8 986.5 109.5 987.0 110.0 987.5 112.0 988.0 109.9 988.5 111.1 989.0 109.2 989.5 110.1 990.0 112.5 990.5 112.5 991.0 112.3 991.5 110.4 992.0 112.8 992.5 114.0 993.0 110.2 993.5 112.8 994.0 113.2 994.5 110.4 995.0 112.2 995.5 113.7 996.0 111.5 996.5 112.4 997.0 111.8 997.5 112.9 998.0 110.5 998.5 111.9 999.0 109.4 999.5 111.5 1000.0 113.9 1000.5 110.6 1001.0 110.4 1001.5 112.4 1002.0 112.9 1002.5 110.1 1003.0 111.4 1003.5 111.9 1004.0 106.0 1004.5 110.0 1005.0 110.1 1005.5 109.0 1006.0 112.6 1006.5 110.2 1007.0 110.5 1007.5 109.5 1008.0 112.9 1008.5 113.6 1009.0 113.2 1009.5 114.6 1010.0 111.9 1010.5 110.4 1011.0 110.5 1011.5 111.5 1012.0 111.9 1012.5 111.3 1013.0 109.7 1013.5 110.2 1014.0 110.4 1014.5 111.7 1015.0 111.0 1015.5 112.5 1016.0 111.7 1016.5 111.8 1017.0 110.2 1017.5 112.7 1018.0 108.7 1018.5 110.1 1019.0 111.5 1019.5 110.0 1020.0 111.1 1020.5 108.6 1021.0 111.6 1021.5 109.3 1022.0 108.2 1022.5 110.8 1023.0 112.4 1023.5 110.2 1024.0 62.2 1024.5 35.4 1025.0 8.6 1025.5 29.4 1026.0 56.2 1026.5 107.7 1027.0 109.7 1027.5 109.5 1028.0 110.5 1028.5 110.5 1029.0 111.8 1029.5 110.4 1030.0 112.3 1030.5 110.6 1031.0 113.1 1031.5 115.1 1032.0 111.3 1032.5 113.6 1033.0 112.9 1033.5 113.3 1034.0 110.7 1034.5 111.2 1035.0 113.2 1035.5 113.7 1036.0 111.7 1036.5 111.3 1037.0 110.6 1037.5 110.3 1038.0 112.7 1038.5 111.8 1039.0 112.9 1039.5 111.6 1040.0 112.6 1040.5 115.0 1041.0 113.1 1041.5 112.9 1042.0 116.0 1042.5 116.2 1043.0 116.4 1043.5 113.5 1044.0 112.5 1044.5 99.0 1045.0 72.3 1045.5 45.5 1046.0 66.3 1046.5 93.1 1047.0 114.4 1047.5 116.8 1048.0 115.0 1048.5 114.6 1049.0 114.8 1049.5 115.1 1050.0 114.9 1050.5 115.0 1051.0 114.9 1051.5 111.6 1052.0 116.6 1052.5 112.6 1053.0 113.4 1053.5 115.2 1054.0 114.8 1054.5 110.8 1055.0 110.5 1055.5 111.4 1056.0 109.4 1056.5 112.3 1057.0 109.1 1057.5 111.6 1058.0 109.8 1058.5 100.2 1059.0 109.3 1059.5 111.2 1060.0 111.8 1060.5 112.4 1061.0 111.6 1061.5 111.4 1062.0 108.4 1062.5 109.4 1063.0 108.0 1063.5 111.0 1064.0 112.4 1064.5 109.8 1065.0 109.0 1065.5 108.7 1066.0 109.2 1066.5 109.1 1067.0 107.2 1067.5 112.6 1068.0 110.6 1068.5 111.1 1069.0 109.6 1069.5 107.4 1070.0 109.6 1070.5 110.6 1071.0 110.0 1071.5 111.4 1072.0 108.5 1072.5 108.1 1073.0 110.4 1073.5 107.5 1074.0 108.8 1074.5 107.5 1075.0 110.8 1075.5 107.8 1076.0 111.1 1076.5 107.2 1077.0 111.0 1077.5 108.9 1078.0 107.9 1078.5 108.9 1079.0 106.7 1079.5 107.1 1080.0 107.3 1080.5 106.2 1081.0 108.2 1081.5 106.8 1082.0 106.4 1082.5 104.4 1083.0 109.1 1083.5 106.9 1084.0 108.4 1084.5 107.9 1085.0 109.1 1085.5 107.8 1086.0 109.4 1086.5 108.6 1087.0 107.3 1087.5 111.3 1088.0 109.9 1088.5 102.0 1089.0 112.9 1089.5 109.3 1090.0 108.6 1090.5 110.2 1091.0 108.4 1091.5 109.9 1092.0 110.6 1092.5 108.0 1093.0 111.0 1093.5 108.7 1094.0 108.2 1094.5 110.4 1095.0 107.5 1095.5 109.5 1096.0 106.9 1096.5 111.1 1097.0 109.7 1097.5 107.2 1098.0 108.0 1098.5 107.7 1099.0 106.9 1099.5 109.0 1100.0 107.6 1100.5 106.9 1101.0 108.4 1101.5 104.5 1102.0 109.1 1102.5 110.4 1103.0 108.8 1103.5 108.8 1104.0 109.5 1104.5 111.3 1105.0 112.4 1105.5 109.6 1106.0 111.8 1106.5 110.2 1107.0 112.6 1107.5 112.0 1108.0 111.4 1108.5 112.3 1109.0 113.0 1109.5 111.2 1110.0 112.8 1110.5 115.7 1111.0 115.9 1111.5 113.9 1112.0 116.2 1112.5 114.0 1113.0 115.4 1113.5 116.1 1114.0 116.9 1114.5 113.2 1115.0 113.6 1115.5 115.3 1116.0 109.8 1116.5 116.6 1117.0 112.6 1117.5 114.5 1118.0 114.6 1118.5 116.8 1119.0 116.6 1119.5 112.8 1120.0 113.1 1120.5 113.6 1121.0 114.1 1121.5 114.1 1122.0 114.1 1122.5 113.8 1123.0 111.8 1123.5 112.1 1124.0 112.7 1124.5 110.3 1125.0 111.3 1125.5 109.8 1126.0 112.7 1126.5 109.8 1127.0 108.4 1127.5 109.8 1128.0 108.8 1128.5 110.0 1129.0 106.2 1129.5 109.0 1130.0 109.1 1130.5 110.1 1131.0 109.9 1131.5 111.7 1132.0 114.0 1132.5 114.4 1133.0 113.0 1133.5 116.2 1134.0 116.3 1134.5 113.2 1135.0 114.4 1135.5 113.4 1136.0 111.3 1136.5 112.9 1137.0 111.9 1137.5 111.4 1138.0 113.9 1138.5 111.9 1139.0 112.8 1139.5 110.3 1140.0 110.3 1140.5 112.3 1141.0 110.9 1141.5 110.4 1142.0 111.2 1142.5 113.5 1143.0 110.2 1143.5 112.0 1144.0 110.1 1144.5 112.4 1145.0 110.6 1145.5 110.7 1146.0 110.7 1146.5 107.8 1147.0 111.8 1147.5 108.4 1148.0 110.2 1148.5 104.4 1149.0 109.3 1149.5 108.9 1150.0 111.1 1150.5 110.7 1151.0 110.0 1151.5 113.6 1152.0 108.6 1152.5 116.1 1153.0 113.0 1153.5 113.4 1154.0 112.8 1154.5 113.6 1155.0 111.5 1155.5 114.9 1156.0 111.3 1156.5 112.6 1157.0 115.9 1157.5 116.1 1158.0 113.6 1158.5 113.7 1159.0 113.9 1159.5 110.5 1160.0 112.9 1160.5 115.8 1161.0 116.9 1161.5 112.7 1162.0 115.7 1162.5 114.2 1163.0 113.2 1163.5 112.3 1164.0 113.8 1164.5 111.0 1165.0 111.8 1165.5 111.6 1166.0 108.3 1166.5 110.2 1167.0 112.6 1167.5 113.3 1168.0 111.2 1168.5 114.1 1169.0 111.4 1169.5 109.7 1170.0 107.2 1170.5 111.1 1171.0 109.6 1171.5 110.8 1172.0 108.9 1172.5 108.2 1173.0 110.3 1173.5 107.8 1174.0 110.2 1174.5 111.8 1175.0 108.2 1175.5 110.9 1176.0 108.6 1176.5 109.0 1177.0 109.7 1177.5 109.6 1178.0 111.0 1178.5 109.3 1179.0 109.1 1179.5 109.2 1180.0 109.3 1180.5 110.1 1181.0 105.2 1181.5 108.4 1182.0 110.2 1182.5 110.7 1183.0 112.2 1183.5 113.6 1184.0 112.9 1184.5 110.9 1185.0 111.2 1185.5 111.7 1186.0 110.4 1186.5 110.7 1187.0 109.4 1187.5 108.9 1188.0 109.7 1188.5 110.1 1189.0 112.3 1189.5 112.8 1190.0 110.2 1190.5 110.9 1191.0 111.1 1191.5 114.4 1192.0 112.2 1192.5 113.0 1193.0 114.8 1193.5 112.8 1194.0 112.5 1194.5 113.5 1195.0 112.6 1195.5 111.1 1196.0 113.9 1196.5 111.4 1197.0 114.4 1197.5 115.0 1198.0 115.4 1198.5 113.1 1199.0 111.7 1199.5 112.6 1200.0 115.6 1200.5 114.4 1201.0 116.2 1201.5 114.1 1202.0 115.2 1202.5 116.7 1203.0 114.9 1203.5 115.3 1204.0 112.1 1204.5 114.1 1205.0 114.2 1205.5 113.7 1206.0 113.8 1206.5 116.6 1207.0 114.3 1207.5 113.2 1208.0 113.1 1208.5 113.6 1209.0 111.4 1209.5 116.1 1210.0 114.1 1210.5 111.7 1211.0 112.9 1211.5 109.7 1212.0 115.6 1212.5 112.2 1213.0 112.6 1213.5 112.7 1214.0 112.7 1214.5 112.7 1215.0 112.8 1215.5 113.7 1216.0 114.9 1216.5 112.1 1217.0 113.1 1217.5 113.8 1218.0 111.1 1218.5 112.2 1219.0 114.0 1219.5 112.2 1220.0 114.3 1220.5 115.2 1221.0 114.0 1221.5 111.3 1222.0 112.9 1222.5 107.5 1223.0 113.4 1223.5 109.6 1224.0 111.9 1224.5 110.0 1225.0 110.1 1225.5 111.0 1226.0 110.4 1226.5 111.5 1227.0 110.8 1227.5 107.0 1228.0 114.1 1228.5 111.4 1229.0 112.3 1229.5 111.9 1230.0 114.9 1230.5 115.0 1231.0 114.7 1231.5 113.8 1232.0 113.8 1232.5 114.2 1233.0 114.4 1233.5 113.9 1234.0 113.9 1234.5 113.0 1235.0 113.0 1235.5 113.0 1236.0 114.7 1236.5 115.2 1237.0 113.9 1237.5 112.8 1238.0 115.2 1238.5 114.6 1239.0 116.6 1239.5 116.4 1240.0 114.5 1240.5 114.2 1241.0 106.8 1241.5 114.6 1242.0 115.3 1242.5 112.0 1243.0 109.0 1243.5 112.3 1244.0 111.4 1244.5 112.9 1245.0 110.6 1245.5 112.3 1246.0 111.7 1246.5 110.5 1247.0 111.5 1247.5 113.2 1248.0 112.7 1248.5 114.6 1249.0 116.0 1249.5 113.1 1250.0 113.7 1250.5 114.8 1251.0 113.8 1251.5 112.6 1252.0 112.7 1252.5 109.1 1253.0 113.8 1253.5 112.5 1254.0 115.0 1254.5 114.6 1255.0 111.8 1255.5 112.5 1256.0 113.6 1256.5 112.8 1257.0 111.6 1257.5 112.5 1258.0 112.4 1258.5 110.3 1259.0 113.0 1259.5 110.5 1260.0 108.4 1260.5 110.2 1261.0 109.3 1261.5 109.3 1262.0 108.8 1262.5 109.4 1263.0 110.6 1263.5 110.3 1264.0 110.5 1264.5 113.0 1265.0 111.0 1265.5 111.2 1266.0 111.5 1266.5 111.2 1267.0 111.8 1267.5 114.5 1268.0 115.9 1268.5 115.2 1269.0 116.5 1269.5 115.8 1270.0 115.6 1270.5 115.7 1271.0 114.3 1271.5 115.0 1272.0 114.4 1272.5 114.5 1273.0 114.8 1273.5 116.5 1274.0 115.9 1274.5 116.5 1275.0 115.4 1275.5 117.0 1276.0 110.6 1276.5 114.8 1277.0 114.5 1277.5 114.7 1278.0 114.7 1278.5 110.0 1279.0 110.3 1279.5 111.7 1280.0 110.6 1280.5 113.1 1281.0 111.5 1281.5 111.7 1282.0 112.2 1282.5 110.9 1283.0 110.3 1283.5 111.7 1284.0 112.1 1284.5 111.9 1285.0 111.6 1285.5 113.0 1286.0 111.6 1286.5 114.9 1287.0 112.1 1287.5 113.0 1288.0 114.7 1288.5 115.5 1289.0 112.8 1289.5 114.0 1290.0 114.8 1290.5 116.6 1291.0 114.0 1291.5 115.4 1292.0 118.1 1292.5 115.5 1293.0 116.6 1293.5 119.9 1294.0 118.5 1294.5 119.8 1295.0 117.5 1295.5 116.9 1296.0 116.9 1296.5 117.3 1297.0 114.6 1297.5 117.0 1298.0 117.3 1298.5 114.8 1299.0 113.8 1299.5 115.7 1300.0 115.1 1300.5 116.9 1301.0 115.4 1301.5 114.5 1302.0 111.7 1302.5 115.0 1303.0 117.1 1303.5 117.7 1304.0 114.4 1304.5 116.0 1305.0 113.0 1305.5 114.2 1306.0 114.3 1306.5 116.2 1307.0 115.2 1307.5 116.3 1308.0 114.3 1308.5 113.9 1309.0 113.7 1309.5 113.5 1310.0 113.0 1310.5 113.1 1311.0 114.7 1311.5 117.3 1312.0 117.5 1312.5 114.9 1313.0 115.8 1313.5 116.0 1314.0 115.7 1314.5 115.2 1315.0 115.8 1315.5 116.0 1316.0 113.8 1316.5 115.2 1317.0 113.7 1317.5 115.2 1318.0 117.8 1318.5 117.3 1319.0 114.6 1319.5 114.9 1320.0 115.5 1320.5 114.5 1321.0 117.0 1321.5 115.8 1322.0 114.9 1322.5 116.9 1323.0 116.1 1323.5 116.7 L1323.5 127.3 1323.0 128.6 1322.5 127.7 1322.0 128.0 1321.5 127.7 1321.0 126.5 1320.5 128.8 1320.0 127.5 1319.5 124.6 1319.0 130.9 1318.5 127.8 1318.0 127.5 1317.5 127.7 1317.0 127.1 1316.5 127.1 1316.0 126.3 1315.5 125.3 1315.0 127.2 1314.5 126.8 1314.0 125.5 1313.5 127.0 1313.0 128.4 1312.5 130.4 1312.0 126.4 1311.5 126.2 1311.0 125.5 1310.5 126.1 1310.0 123.7 1309.5 124.8 1309.0 126.6 1308.5 126.9 1308.0 127.9 1307.5 127.3 1307.0 126.8 1306.5 124.6 1306.0 126.9 1305.5 124.0 1305.0 124.7 1304.5 127.1 1304.0 126.0 1303.5 128.8 1303.0 128.6 1302.5 127.4 1302.0 124.9 1301.5 125.3 1301.0 126.5 1300.5 126.3 1300.0 124.7 1299.5 126.7 1299.0 126.5 1298.5 125.6 1298.0 128.3 1297.5 126.4 1297.0 128.9 1296.5 128.9 1296.0 126.1 1295.5 130.8 1295.0 130.9 1294.5 130.8 1294.0 130.6 1293.5 128.1 1293.0 127.5 1292.5 127.1 1292.0 129.0 1291.5 127.4 1291.0 125.1 1290.5 126.6 1290.0 124.8 1289.5 126.6 1289.0 129.4 1288.5 123.3 1288.0 126.0 1287.5 125.5 1287.0 125.0 1286.5 124.9 1286.0 122.0 1285.5 124.2 1285.0 123.8 1284.5 124.6 1284.0 122.7 1283.5 121.3 1283.0 120.3 1282.5 123.5 1282.0 122.6 1281.5 120.7 1281.0 124.6 1280.5 121.7 1280.0 121.3 1279.5 123.7 1279.0 125.8 1278.5 127.1 1278.0 127.1 1277.5 126.4 1277.0 125.5 1276.5 126.5 1276.0 124.5 1275.5 128.2 1275.0 128.6 1274.5 128.0 1274.0 125.5 1273.5 128.5 1273.0 125.2 1272.5 127.0 1272.0 125.6 1271.5 128.7 1271.0 124.7 1270.5 125.0 1270.0 124.1 1269.5 125.1 1269.0 127.4 1268.5 126.2 1268.0 126.2 1267.5 126.0 1267.0 125.8 1266.5 124.2 1266.0 122.8 1265.5 125.1 1265.0 123.3 1264.5 124.3 1264.0 122.2 1263.5 126.2 1263.0 124.2 1262.5 123.6 1262.0 121.3 1261.5 126.0 1261.0 120.0 1260.5 122.1 1260.0 122.0 1259.5 123.7 1259.0 123.3 1258.5 128.5 1258.0 122.1 1257.5 123.4 1257.0 123.7 1256.5 123.7 1256.0 122.9 1255.5 122.6 1255.0 122.9 1254.5 125.5 1254.0 125.1 1253.5 127.1 1253.0 124.3 1252.5 124.2 1252.0 123.0 1251.5 123.2 1251.0 124.4 1250.5 123.6 1250.0 126.4 1249.5 125.9 1249.0 127.0 1248.5 128.0 1248.0 126.0 1247.5 125.5 1247.0 126.0 1246.5 126.0 1246.0 127.0 1245.5 124.2 1245.0 126.0 1244.5 124.6 1244.0 125.3 1243.5 126.2 1243.0 123.7 1242.5 126.3 1242.0 127.8 1241.5 125.0 1241.0 125.1 1240.5 128.3 1240.0 128.5 1239.5 128.0 1239.0 126.8 1238.5 130.7 1238.0 127.2 1237.5 125.0 1237.0 125.2 1236.5 125.9 1236.0 126.3 1235.5 128.1 1235.0 127.8 1234.5 128.0 1234.0 127.6 1233.5 128.5 1233.0 127.7 1232.5 124.3 1232.0 127.4 1231.5 127.5 1231.0 126.2 1230.5 124.4 1230.0 127.5 1229.5 126.3 1229.0 123.2 1228.5 125.7 1228.0 126.3 1227.5 125.1 1227.0 122.8 1226.5 122.8 1226.0 123.5 1225.5 123.1 1225.0 124.5 1224.5 123.7 1224.0 123.6 1223.5 122.6 1223.0 122.2 1222.5 124.5 1222.0 124.3 1221.5 123.1 1221.0 123.9 1220.5 127.1 1220.0 131.1 1219.5 125.3 1219.0 127.8 1218.5 126.5 1218.0 125.0 1217.5 127.7 1217.0 128.1 1216.5 125.6 1216.0 125.2 1215.5 127.1 1215.0 126.7 1214.5 125.4 1214.0 127.6 1213.5 127.4 1213.0 124.7 1212.5 126.2 1212.0 128.9 1211.5 124.9 1211.0 127.5 1210.5 129.1 1210.0 127.8 1209.5 128.5 1209.0 127.6 1208.5 129.2 1208.0 126.2 1207.5 127.4 1207.0 125.6 1206.5 126.4 1206.0 124.9 1205.5 123.7 1205.0 127.0 1204.5 125.4 1204.0 124.3 1203.5 124.2 1203.0 127.2 1202.5 125.5 1202.0 127.2 1201.5 126.1 1201.0 126.0 1200.5 128.6 1200.0 127.2 1199.5 126.0 1199.0 126.2 1198.5 123.3 1198.0 125.7 1197.5 123.8 1197.0 124.3 1196.5 128.8 1196.0 126.8 1195.5 126.8 1195.0 124.7 1194.5 126.1 1194.0 125.0 1193.5 126.9 1193.0 131.1 1192.5 127.4 1192.0 123.7 1191.5 123.9 1191.0 122.6 1190.5 124.6 1190.0 122.0 1189.5 125.2 1189.0 120.7 1188.5 123.9 1188.0 123.1 1187.5 122.2 1187.0 124.0 1186.5 121.8 1186.0 124.2 1185.5 123.6 1185.0 122.7 1184.5 122.6 1184.0 124.3 1183.5 126.1 1183.0 124.8 1182.5 121.7 1182.0 122.2 1181.5 123.6 1181.0 123.1 1180.5 122.4 1180.0 120.4 1179.5 121.4 1179.0 124.1 1178.5 124.8 1178.0 124.2 1177.5 124.0 1177.0 124.2 1176.5 122.4 1176.0 124.3 1175.5 122.1 1175.0 120.2 1174.5 123.8 1174.0 123.7 1173.5 120.9 1173.0 123.3 1172.5 126.5 1172.0 120.6 1171.5 120.3 1171.0 122.7 1170.5 122.1 1170.0 123.6 1169.5 123.9 1169.0 124.7 1168.5 124.3 1168.0 125.4 1167.5 128.2 1167.0 123.7 1166.5 126.3 1166.0 126.5 1165.5 122.2 1165.0 121.6 1164.5 123.4 1164.0 125.4 1163.5 126.8 1163.0 127.7 1162.5 128.2 1162.0 128.0 1161.5 132.3 1161.0 129.2 1160.5 127.5 1160.0 124.8 1159.5 125.2 1159.0 125.0 1158.5 127.6 1158.0 132.3 1157.5 127.1 1157.0 126.4 1156.5 124.1 1156.0 127.2 1155.5 127.6 1155.0 125.8 1154.5 126.7 1154.0 124.1 1153.5 124.5 1153.0 127.8 1152.5 127.2 1152.0 129.1 1151.5 124.9 1151.0 125.2 1150.5 123.1 1150.0 124.3 1149.5 123.7 1149.0 124.2 1148.5 120.9 1148.0 121.9 1147.5 120.3 1147.0 124.1 1146.5 123.7 1146.0 123.2 1145.5 122.9 1145.0 121.2 1144.5 124.1 1144.0 122.7 1143.5 125.2 1143.0 126.2 1142.5 126.1 1142.0 123.3 1141.5 122.2 1141.0 123.2 1140.5 123.7 1140.0 124.5 1139.5 126.0 1139.0 124.8 1138.5 125.7 1138.0 128.7 1137.5 125.3 1137.0 124.5 1136.5 130.3 1136.0 123.1 1135.5 124.8 1135.0 127.0 1134.5 126.2 1134.0 126.6 1133.5 126.8 1133.0 124.3 1132.5 126.8 1132.0 122.3 1131.5 122.8 1131.0 124.1 1130.5 124.8 1130.0 122.2 1129.5 121.7 1129.0 121.2 1128.5 125.1 1128.0 124.1 1127.5 120.9 1127.0 123.3 1126.5 121.2 1126.0 124.4 1125.5 121.6 1125.0 124.2 1124.5 123.7 1124.0 125.2 1123.5 125.0 1123.0 123.4 1122.5 125.3 1122.0 127.7 1121.5 127.2 1121.0 124.6 1120.5 128.0 1120.0 127.0 1119.5 125.8 1119.0 125.1 1118.5 127.8 1118.0 126.3 1117.5 128.2 1117.0 125.4 1116.5 130.0 1116.0 127.4 1115.5 125.7 1115.0 127.6 1114.5 129.3 1114.0 126.1 1113.5 126.2 1113.0 129.1 1112.5 127.8 1112.0 127.0 1111.5 126.4 1111.0 126.2 1110.5 127.9 1110.0 125.6 1109.5 126.0 1109.0 125.5 1108.5 126.7 1108.0 123.6 1107.5 125.1 1107.0 125.9 1106.5 124.2 1106.0 127.6 1105.5 123.9 1105.0 123.7 1104.5 123.1 1104.0 121.5 1103.5 122.0 1103.0 122.2 1102.5 121.8 1102.0 119.0 1101.5 119.2 1101.0 121.2 1100.5 120.2 1100.0 119.2 1099.5 123.6 1099.0 118.6 1098.5 118.3 1098.0 120.5 1097.5 121.0 1097.0 120.7 1096.5 121.5 1096.0 121.5 1095.5 122.9 1095.0 121.5 1094.5 120.7 1094.0 122.5 1093.5 122.4 1093.0 122.8 1092.5 121.7 1092.0 123.6 1091.5 121.0 1091.0 122.0 1090.5 123.5 1090.0 124.1 1089.5 127.6 1089.0 126.1 1088.5 125.0 1088.0 124.3 1087.5 123.5 1087.0 123.4 1086.5 122.0 1086.0 120.0 1085.5 120.9 1085.0 120.1 1084.5 122.0 1084.0 125.5 1083.5 124.8 1083.0 121.4 1082.5 120.9 1082.0 122.2 1081.5 122.4 1081.0 122.6 1080.5 119.1 1080.0 121.7 1079.5 121.7 1079.0 119.2 1078.5 120.3 1078.0 123.0 1077.5 120.2 1077.0 124.0 1076.5 122.0 1076.0 119.6 1075.5 122.3 1075.0 122.1 1074.5 119.3 1074.0 119.7 1073.5 120.4 1073.0 122.5 1072.5 122.0 1072.0 121.3 1071.5 121.1 1071.0 120.8 1070.5 120.1 1070.0 123.1 1069.5 123.5 1069.0 122.4 1068.5 124.8 1068.0 120.4 1067.5 124.1 1067.0 120.2 1066.5 123.5 1066.0 120.3 1065.5 121.0 1065.0 128.4 1064.5 124.7 1064.0 122.6 1063.5 122.1 1063.0 120.7 1062.5 122.1 1062.0 123.5 1061.5 122.4 1061.0 122.6 1060.5 125.0 1060.0 123.5 1059.5 122.3 1059.0 121.6 1058.5 128.3 1058.0 124.8 1057.5 125.3 1057.0 123.9 1056.5 124.4 1056.0 124.5 1055.5 122.3 1055.0 122.4 1054.5 124.6 1054.0 125.9 1053.5 130.7 1053.0 124.6 1052.5 126.7 1052.0 128.2 1051.5 126.6 1051.0 126.6 1050.5 125.8 1050.0 126.5 1049.5 126.4 1049.0 124.1 1048.5 125.5 1048.0 125.7 1047.5 127.1 1047.0 125.8 1046.5 127.0 1046.0 125.9 1045.5 128.4 1045.0 128.4 1044.5 128.2 1044.0 127.6 1043.5 125.1 1043.0 124.8 1042.5 127.5 1042.0 125.2 1041.5 125.0 1041.0 123.8 1040.5 127.3 1040.0 123.7 1039.5 123.1 1039.0 122.3 1038.5 122.8 1038.0 124.8 1037.5 123.0 1037.0 123.8 1036.5 122.7 1036.0 124.4 1035.5 125.2 1035.0 123.6 1034.5 126.1 1034.0 126.6 1033.5 129.0 1033.0 124.1 1032.5 123.4 1032.0 125.9 1031.5 124.7 1031.0 125.7 1030.5 122.1 1030.0 124.0 1029.5 123.2 1029.0 122.4 1028.5 122.5 1028.0 121.6 1027.5 121.2 1027.0 122.9 1026.5 123.6 1026.0 121.6 1025.5 120.8 1025.0 121.7 1024.5 122.4 1024.0 121.1 1023.5 125.0 1023.0 124.7 1022.5 123.8 1022.0 122.3 1021.5 126.7 1021.0 119.6 1020.5 123.7 1020.0 127.0 1019.5 122.5 1019.0 120.9 1018.5 126.1 1018.0 128.1 1017.5 126.5 1017.0 122.4 1016.5 123.8 1016.0 123.9 1015.5 125.4 1015.0 123.4 1014.5 122.7 1014.0 122.2 1013.5 122.9 1013.0 123.8 1012.5 123.6 1012.0 124.1 1011.5 122.3 1011.0 125.2 1010.5 125.0 1010.0 122.9 1009.5 125.0 1009.0 123.2 1008.5 124.2 1008.0 122.2 1007.5 124.4 1007.0 122.4 1006.5 122.7 1006.0 125.1 1005.5 123.4 1005.0 122.8 1004.5 125.4 1004.0 123.4 1003.5 122.0 1003.0 124.0 1002.5 124.4 1002.0 125.1 1001.5 122.3 1001.0 125.6 1000.5 124.0 1000.0 124.6 999.5 123.7 999.0 122.8 998.5 121.0 998.0 124.2 997.5 125.1 997.0 124.6 996.5 126.2 996.0 122.3 995.5 125.3 995.0 123.6 994.5 123.3 994.0 125.1 993.5 123.7 993.0 122.1 992.5 125.9 992.0 124.0 991.5 125.9 991.0 126.0 990.5 122.7 990.0 125.1 989.5 122.0 989.0 121.7 988.5 123.6 988.0 121.9 987.5 121.6 987.0 124.3 986.5 125.5 986.0 125.4 985.5 123.3 985.0 123.9 984.5 122.9 984.0 121.2 983.5 120.3 983.0 123.3 982.5 124.0 982.0 121.5 981.5 123.9 981.0 119.7 980.5 123.4 980.0 123.8 979.5 123.1 979.0 122.9 978.5 121.7 978.0 123.5 977.5 120.8 977.0 121.1 976.5 127.0 976.0 124.3 975.5 122.4 975.0 120.2 974.5 122.2 974.0 125.1 973.5 121.2 973.0 119.8 972.5 121.2 972.0 121.3 971.5 120.2 971.0 126.0 970.5 121.4 970.0 118.7 969.5 120.0 969.0 119.3 968.5 121.1 968.0 120.5 967.5 122.6 967.0 120.5 966.5 119.6 966.0 119.9 965.5 120.7 965.0 122.1 964.5 124.4 964.0 121.7 963.5 123.8 963.0 120.6 962.5 121.6 962.0 122.6 961.5 120.5 961.0 123.2 960.5 123.5 960.0 121.6 959.5 119.8 959.0 122.8 958.5 126.5 958.0 122.6 957.5 123.7 957.0 122.3 956.5 122.3 956.0 119.7 955.5 121.1 955.0 121.7 954.5 122.0 954.0 120.5 953.5 123.1 953.0 120.7 952.5 119.8 952.0 119.8 951.5 121.5 951.0 119.6 950.5 123.6 950.0 121.7 949.5 122.7 949.0 123.9 948.5 122.5 948.0 121.7 947.5 122.6 947.0 122.5 946.5 121.9 946.0 122.5 945.5 122.7 945.0 125.2 944.5 125.5 944.0 124.6 943.5 122.2 943.0 125.1 942.5 124.4 942.0 125.6 941.5 122.3 941.0 121.6 940.5 124.6 940.0 125.3 939.5 123.8 939.0 123.8 938.5 121.0 938.0 124.0 937.5 122.3 937.0 119.4 936.5 118.9 936.0 120.2 935.5 122.5 935.0 122.1 934.5 120.4 934.0 122.5 933.5 122.8 933.0 120.0 932.5 120.7 932.0 124.7 931.5 121.0 931.0 121.8 930.5 121.7 930.0 123.5 929.5 126.3 929.0 123.9 928.5 122.9 928.0 122.1 927.5 122.8 927.0 122.3 926.5 123.2 926.0 121.9 925.5 121.1 925.0 120.4 924.5 121.1 924.0 122.7 923.5 123.3 923.0 120.3 922.5 121.9 922.0 121.5 921.5 121.5 921.0 122.0 920.5 121.5 920.0 124.1 919.5 123.2 919.0 124.3 918.5 123.1 918.0 124.5 917.5 124.4 917.0 122.9 916.5 124.0 916.0 122.1 915.5 123.1 915.0 128.1 914.5 123.4 914.0 120.0 913.5 120.9 913.0 122.0 912.5 122.8 912.0 124.6 911.5 124.6 911.0 124.3 910.5 122.8 910.0 124.0 909.5 124.4 909.0 125.6 908.5 127.0 908.0 126.2 907.5 123.6 907.0 128.3 906.5 126.4 906.0 125.3 905.5 122.2 905.0 123.0 904.5 120.2 904.0 120.8 903.5 123.4 903.0 120.9 902.5 122.9 902.0 127.5 901.5 126.5 901.0 124.7 900.5 127.1 900.0 126.1 899.5 123.8 899.0 125.6 898.5 123.6 898.0 125.6 897.5 121.2 897.0 125.3 896.5 125.9 896.0 125.6 895.5 124.8 895.0 122.2 894.5 123.8 894.0 123.8 893.5 126.1 893.0 125.3 892.5 124.9 892.0 127.7 891.5 125.6 891.0 122.8 890.5 125.3 890.0 130.0 889.5 124.5 889.0 121.7 888.5 124.0 888.0 124.6 887.5 123.4 887.0 123.5 886.5 124.2 886.0 122.8 885.5 124.2 885.0 121.2 884.5 122.5 884.0 121.8 883.5 120.0 883.0 120.5 882.5 121.6 882.0 118.7 881.5 121.3 881.0 121.7 880.5 120.4 880.0 123.4 879.5 120.5 879.0 124.9 878.5 122.3 878.0 122.6 877.5 123.9 877.0 125.4 876.5 123.6 876.0 123.5 875.5 128.0 875.0 121.2 874.5 123.7 874.0 123.7 873.5 124.4 873.0 121.7 872.5 121.9 872.0 125.8 871.5 125.9 871.0 123.8 870.5 124.0 870.0 123.8 869.5 123.8 869.0 121.5 868.5 123.0 868.0 125.3 867.5 124.0 867.0 121.1 866.5 121.7 866.0 119.8 865.5 121.1 865.0 121.9 864.5 119.7 864.0 124.2 863.5 123.5 863.0 124.3 862.5 122.6 862.0 121.5 861.5 123.3 861.0 123.2 860.5 123.9 860.0 125.3 859.5 121.6 859.0 122.4 858.5 121.5 858.0 122.1 857.5 121.8 857.0 120.3 856.5 120.2 856.0 119.6 855.5 121.7 855.0 120.4 854.5 121.7 854.0 122.1 853.5 122.3 853.0 120.9 852.5 121.2 852.0 122.7 851.5 118.7 851.0 119.5 850.5 118.5 850.0 120.9 849.5 119.2 849.0 118.6 848.5 116.6 848.0 119.8 847.5 117.7 847.0 117.2 846.5 118.2 846.0 123.3 845.5 121.4 845.0 119.6 844.5 120.1 844.0 122.5 843.5 124.5 843.0 123.1 842.5 125.1 842.0 123.9 841.5 124.8 841.0 122.1 840.5 121.6 840.0 125.2 839.5 124.0 839.0 120.9 838.5 122.9 838.0 118.0 837.5 118.4 837.0 118.1 836.5 113.4 836.0 112.3 835.5 113.1 835.0 110.7 834.5 109.0 834.0 107.2 833.5 109.2 833.0 107.1 832.5 104.0 832.0 105.9 831.5 102.1 831.0 96.7 830.5 96.1 830.0 92.9 829.5 92.9 829.0 92.3 828.5 91.0 828.0 85.9 827.5 85.3 827.0 76.4 826.5 78.5 826.0 74.3 825.5 75.5 825.0 72.7 824.5 70.1 824.0 73.2 823.5 63.8 Z" fill="#348ABD" fill-opacity="0.55" stroke="none"/>
<path d="M823.5 50.6 824.0 70.3 824.5 53.0 825.0 69.1 825.5 61.2 826.0 71.5 826.5 46.6 827.0 74.6 827.5 72.8 828.0 83.0 828.5 76.6 829.0 89.5 829.5 75.6 830.0 91.2 830.5 80.1 831.0 96.7 831.5 85.2 832.0 98.8 832.5 57.4 833.0 100.3 833.5 46.5 834.0 98.1 834.5 98.8 835.0 106.4 835.5 100.5 836.0 110.8 836.5 105.4 837.0 113.6 837.5 104.7 838.0 116.2 838.5 108.7 839.0 120.8 839.5 107.7 840.0 122.3 840.5 115.5 841.0 119.3 841.5 112.1 842.0 121.3 842.5 112.7 843.0 121.7 843.5 111.8 844.0 120.1 844.5 114.2 845.0 117.2 845.5 111.1 846.0 120.1 846.5 108.5 847.0 116.9 847.5 107.6 848.0 118.3 848.5 105.2 849.0 115.9 849.5 109.5 850.0 120.8 850.5 108.4 851.0 117.4 851.5 109.4 852.0 119.6 852.5 109.7 853.0 119.2 853.5 108.8 854.0 118.6 854.5 111.2 855.0 118.9 855.5 110.4 856.0 117.0 856.5 109.8 857.0 117.8 857.5 113.9 858.0 121.4 858.5 112.7 859.0 118.4 859.5 111.7 860.0 124.5 860.5 74.1 861.0 114.1 861.5 64.7 862.0 117.0 862.5 115.1 863.0 121.7 863.5 112.4 864.0 123.6 864.5 111.2 865.0 118.3 865.5 109.2 866.0 119.2 866.5 112.1 867.0 120.8 867.5 113.7 868.0 124.1 868.5 112.0 869.0 120.2 869.5 116.0 870.0 121.2 870.5 114.3 871.0 123.0 871.5 114.3 872.0 125.0 872.5 114.0 873.0 119.6 873.5 112.3 874.0 120.2 874.5 112.4 875.0 119.8 875.5 115.8 876.0 119.9 876.5 113.0 877.0 122.7 877.5 110.2 878.0 119.8 878.5 113.7 879.0 122.6 879.5 112.6 880.0 121.7 880.5 110.0 881.0 119.0 881.5 110.5 882.0 117.3 882.5 111.5 883.0 120.2 883.5 111.4 884.0 120.5 884.5 113.6 885.0 118.7 885.5 115.2 886.0 120.1 886.5 108.8 887.0 122.2 887.5 112.4 888.0 121.7 888.5 110.5 889.0 120.9 889.5 110.4 890.0 126.4 890.5 114.1 891.0 120.8 891.5 108.8 892.0 112.9 892.5 56.0 893.0 111.7 893.5 103.5 894.0 121.3 894.5 111.9 895.0 121.5 895.5 114.0 896.0 123.9 896.5 112.5 897.0 121.9 897.5 113.1 898.0 122.7 898.5 116.0 899.0 116.3 899.5 80.9 900.0 110.6 900.5 63.3 901.0 116.7 901.5 113.8 902.0 126.9 902.5 114.7 903.0 120.2 903.5 113.3 904.0 119.2 904.5 111.7 905.0 121.2 905.5 111.5 906.0 117.3 906.5 84.1 907.0 124.2 907.5 70.3 908.0 115.4 908.5 114.1 909.0 124.7 909.5 113.9 910.0 123.1 910.5 112.1 911.0 122.9 911.5 110.3 912.0 120.8 912.5 113.5 913.0 119.3 913.5 111.0 914.0 119.9 914.5 112.5 915.0 125.1 915.5 113.2 916.0 118.5 916.5 112.6 917.0 121.6 917.5 114.2 918.0 123.8 918.5 110.3 919.0 122.4 919.5 112.1 920.0 122.5 920.5 114.2 921.0 118.8 921.5 112.7 922.0 118.9 922.5 109.1 923.0 119.2 923.5 101.3 924.0 116.1 924.5 58.9 925.0 114.9 925.5 98.9 926.0 121.8 926.5 111.7 927.0 120.5 927.5 114.1 928.0 119.4 928.5 110.3 929.0 121.8 929.5 111.1 930.0 120.1 930.5 110.4 931.0 118.8 931.5 110.0 932.0 123.5 932.5 108.2 933.0 116.5 933.5 110.3 934.0 122.0 934.5 108.9 935.0 119.0 935.5 110.7 936.0 116.8 936.5 110.7 937.0 116.4 937.5 112.0 938.0 123.8 938.5 108.9 939.0 122.7 939.5 114.5 940.0 124.6 940.5 112.3 941.0 119.0 941.5 111.6 942.0 121.3 942.5 116.7 943.0 123.8 943.5 114.6 944.0 123.0 944.5 114.6 945.0 123.2 945.5 112.3 946.0 120.9 946.5 111.3 947.0 120.9 947.5 113.7 948.0 121.3 948.5 106.8 949.0 120.4 949.5 108.8 950.0 121.0 950.5 111.8 951.0 116.8 951.5 107.4 952.0 118.5 952.5 107.2 953.0 117.4 953.5 93.9 954.0 116.4 954.5 56.8 955.0 105.6 955.5 89.3 956.0 117.2 956.5 111.2 957.0 121.1 957.5 111.3 958.0 121.6 958.5 92.5 959.0 121.9 959.5 109.0 960.0 120.1 960.5 112.3 961.0 121.4 961.5 110.9 962.0 122.2 962.5 93.8 963.0 112.0 963.5 45.7 964.0 120.6 964.5 80.1 965.0 120.2 965.5 109.6 966.0 118.6 966.5 111.4 967.0 112.3 967.5 74.0 968.0 118.6 968.5 62.0 969.0 118.2 969.5 109.3 970.0 117.1 970.5 80.2 971.0 107.9 971.5 68.8 972.0 119.5 972.5 65.3 973.0 110.8 973.5 61.0 974.0 116.4 974.5 113.1 975.0 118.5 975.5 102.8 976.0 121.8 976.5 92.2 977.0 120.7 977.5 105.3 978.0 118.3 978.5 68.6 979.0 107.9 979.5 98.3 980.0 122.5 980.5 110.9 981.0 117.0 981.5 112.5 982.0 120.0 982.5 114.6 983.0 121.4 983.5 110.4 984.0 119.9 984.5 109.8 985.0 121.7 985.5 112.6 986.0 123.7 986.5 112.1 987.0 120.8 987.5 112.5 988.0 119.4 988.5 113.8 989.0 119.4 989.5 111.8 990.0 122.7 990.5 113.2 991.0 122.7 991.5 114.0 992.0 122.7 992.5 117.5 993.0 119.8 993.5 113.4 994.0 124.9 994.5 111.7 995.0 120.8 995.5 115.9 996.0 120.4 996.5 113.0 997.0 121.7 997.5 113.9 998.0 121.8 998.5 112.7 999.0 121.4 999.5 111.9 1000.0 123.5 1000.5 113.6 1001.0 123.0 1001.5 114.1 1002.0 122.1 1002.5 110.5 1003.0 120.9 1003.5 114.0 1004.0 123.3 1004.5 111.6 1005.0 122.2 1005.5 113.3 1006.0 123.8 1006.5 112.5 1007.0 122.3 1007.5 110.0 1008.0 121.1 1008.5 113.8 1009.0 122.5 1009.5 117.4 1010.0 121.6 1010.5 110.6 1011.0 121.4 1011.5 112.8 1012.0 120.7 1012.5 113.4 1013.0 122.7 1013.5 112.3 1014.0 122.0 1014.5 113.9 1015.0 122.7 1015.5 116.2 1016.0 121.6 1016.5 112.1 1017.0 121.3 1017.5 113.7 1018.0 124.7 1018.5 112.0 1019.0 120.0 1019.5 112.1 1020.0 125.2 1020.5 110.7 1021.0 118.2 1021.5 111.8 1022.0 120.4 1022.5 112.3 1023.0 123.7 1023.5 111.6 1024.0 119.4 1024.5 36.3 1025.0 88.1 1025.5 37.5 1026.0 118.7 1026.5 109.8 1027.0 119.5 1027.5 109.6 1028.0 120.8 1028.5 113.0 1029.0 120.2 1029.5 114.0 1030.0 121.6 1030.5 112.5 1031.0 123.0 1031.5 117.8 1032.0 122.4 1032.5 116.4 1033.0 122.1 1033.5 115.2 1034.0 125.8 1034.5 111.9 1035.0 121.5 1035.5 115.1 1036.0 123.0 1036.5 114.2 1037.0 122.4 1037.5 112.4 1038.0 123.2 1038.5 112.1 1039.0 120.2 1039.5 114.8 1040.0 122.0 1040.5 118.5 1041.0 123.7 1041.5 113.5 1042.0 123.0 1042.5 118.0 1043.0 124.6 1043.5 116.9 1044.0 126.5 1044.5 104.1 1045.0 113.8 1045.5 48.5 1046.0 119.9 1046.5 99.2 1047.0 123.1 1047.5 117.2 1048.0 123.0 1048.5 115.9 1049.0 123.1 1049.5 117.4 1050.0 126.4 1050.5 115.1 1051.0 126.0 1051.5 115.2 1052.0 128.2 1052.5 113.0 1053.0 124.4 1053.5 115.7 1054.0 124.4 1054.5 114.5 1055.0 120.2 1055.5 113.2 1056.0 122.6 1056.5 113.1 1057.0 122.9 1057.5 114.3 1058.0 123.8 1058.5 107.0 1059.0 119.6 1059.5 111.8 1060.0 122.3 1060.5 116.1 1061.0 122.3 1061.5 112.1 1062.0 121.2 1062.5 111.5 1063.0 119.6 1063.5 114.2 1064.0 120.7 1064.5 112.5 1065.0 127.8 1065.5 111.5 1066.0 117.4 1066.5 110.9 1067.0 117.6 1067.5 115.6 1068.0 119.1 1068.5 113.1 1069.0 120.9 1069.5 108.8 1070.0 121.8 1070.5 111.0 1071.0 118.4 1071.5 113.8 1072.0 119.3 1072.5 111.3 1073.0 119.8 1073.5 108.8 1074.0 117.1 1074.5 108.0 1075.0 120.6 1075.5 109.0 1076.0 118.4 1076.5 107.3 1077.0 122.4 1077.5 109.5 1078.0 122.1 1078.5 111.2 1079.0 116.2 1079.5 109.2 1080.0 119.4 1080.5 107.0 1081.0 119.9 1081.5 109.0 1082.0 118.0 1082.5 107.5 1083.0 118.7 1083.5 110.4 1084.0 125.2 1084.5 108.6 1085.0 118.4 1085.5 110.2 1086.0 117.7 1086.5 110.9 1087.0 123.3 1087.5 114.2 1088.0 123.6 1088.5 104.8 1089.0 125.8 1089.5 110.7 1090.0 120.4 1090.5 110.3 1091.0 121.8 1091.5 112.8 1092.0 121.0 1092.5 111.7 1093.0 121.1 1093.5 109.1 1094.0 121.5 1094.5 111.5 1095.0 119.2 1095.5 112.9 1096.0 117.7 1096.5 112.6 1097.0 118.6 1097.5 108.0 1098.0 119.5 1098.5 108.5 1099.0 115.8 1099.5 110.6 1100.0 118.0 1100.5 108.2 1101.0 119.3 1101.5 106.4 1102.0 118.2 1102.5 110.5 1103.0 118.3 1103.5 111.8 1104.0 120.8 1104.5 112.8 1105.0 120.9 1105.5 112.9 1106.0 126.2 1106.5 112.7 1107.0 125.0 1107.5 112.2 1108.0 121.4 1108.5 113.0 1109.0 123.5 1109.5 112.2 1110.0 123.3 1110.5 118.9 1111.0 124.0 1111.5 115.2 1112.0 126.8 1112.5 116.8 1113.0 127.1 1113.5 116.3 1114.0 125.3 1114.5 116.8 1115.0 126.0 1115.5 117.2 1116.0 122.6 1116.5 118.8 1117.0 125.3 1117.5 115.9 1118.0 125.0 1118.5 118.1 1119.0 124.8 1119.5 115.1 1120.0 123.0 1120.5 116.3 1121.0 121.5 1121.5 115.9 1122.0 127.3 1122.5 116.0 1123.0 121.6 1123.5 112.8 1124.0 124.3 1124.5 113.3 1125.0 124.1 1125.5 110.8 1126.0 121.4 1126.5 112.7 1127.0 119.8 1127.5 109.9 1128.0 123.0 1128.5 110.2 1129.0 120.5 1129.5 110.9 1130.0 121.7 1130.5 113.3 1131.0 122.6 1131.5 112.8 1132.0 121.8 1132.5 114.9 1133.0 124.0 1133.5 119.0 1134.0 123.6 1134.5 115.4 1135.0 126.1 1135.5 115.6 1136.0 123.0 1136.5 113.1 1137.0 123.0 1137.5 112.0 1138.0 127.4 1138.5 114.8 1139.0 124.1 1139.5 111.6 1140.0 123.8 1140.5 115.5 1141.0 120.5 1141.5 112.2 1142.0 122.4 1142.5 113.6 1143.0 121.5 1143.5 115.2 1144.0 120.7 1144.5 114.6 1145.0 119.0 1145.5 112.7 1146.0 121.4 1146.5 108.8 1147.0 123.2 1147.5 110.2 1148.0 119.5 1148.5 107.0 1149.0 122.8 1149.5 109.4 1150.0 121.6 1150.5 113.5 1151.0 121.1 1151.5 116.7 1152.0 126.2 1152.5 118.7 1153.0 127.7 1153.5 115.0 1154.0 123.2 1154.5 114.2 1155.0 121.9 1155.5 117.1 1156.0 127.2 1156.5 115.4 1157.0 123.5 1157.5 118.6 1158.0 128.9 1158.5 114.0 1159.0 124.8 1159.5 113.1 1160.0 123.3 1160.5 117.9 1161.0 128.5 1161.5 115.4 1162.0 126.2 1162.5 115.0 1163.0 125.8 1163.5 113.8 1164.0 122.9 1164.5 113.5 1165.0 120.6 1165.5 114.5 1166.0 125.7 1166.5 112.1 1167.0 121.2 1167.5 114.2 1168.0 122.9 1168.5 116.5 1169.0 123.7 1169.5 110.4 1170.0 119.4 1170.5 114.0 1171.0 121.8 1171.5 110.9 1172.0 119.8 1172.5 109.9 1173.0 119.9 1173.5 111.0 1174.0 120.4 1174.5 112.3 1175.0 120.2 1175.5 113.8 1176.0 121.6 1176.5 109.5 1177.0 124.1 1177.5 111.8 1178.0 120.3 1178.5 110.7 1179.0 123.1 1179.5 112.3 1180.0 119.6 1180.5 112.9 1181.0 118.1 1181.5 109.7 1182.0 119.1 1182.5 112.3 1183.0 124.3 1183.5 114.9 1184.0 121.9 1184.5 111.7 1185.0 120.5 1185.5 114.2 1186.0 123.4 1186.5 113.1 1187.0 120.9 1187.5 111.3 1188.0 119.2 1188.5 111.6 1189.0 118.5 1189.5 115.3 1190.0 121.2 1190.5 114.5 1191.0 120.3 1191.5 114.8 1192.0 122.3 1192.5 117.1 1193.0 127.4 1193.5 114.0 1194.0 124.0 1194.5 117.2 1195.0 122.4 1195.5 113.8 1196.0 124.8 1196.5 113.1 1197.0 123.8 1197.5 115.1 1198.0 124.7 1198.5 115.0 1199.0 125.5 1199.5 112.8 1200.0 125.6 1200.5 116.9 1201.0 124.9 1201.5 117.0 1202.0 125.7 1202.5 117.9 1203.0 126.5 1203.5 117.7 1204.0 120.8 1204.5 116.1 1205.0 124.9 1205.5 115.1 1206.0 124.5 1206.5 119.5 1207.0 125.4 1207.5 113.8 1208.0 126.1 1208.5 116.9 1209.0 126.4 1209.5 117.1 1210.0 126.2 1210.5 115.8 1211.0 125.7 1211.5 111.2 1212.0 128.3 1212.5 114.0 1213.0 122.9 1213.5 113.0 1214.0 125.2 1214.5 114.0 1215.0 125.7 1215.5 115.0 1216.0 123.8 1216.5 115.0 1217.0 124.3 1217.5 114.5 1218.0 123.9 1218.5 113.7 1219.0 127.5 1219.5 113.0 1220.0 130.6 1220.5 116.0 1221.0 122.1 1221.5 112.4 1222.0 123.5 1222.5 110.5 1223.0 120.3 1223.5 111.7 1224.0 120.4 1224.5 112.5 1225.0 123.5 1225.5 112.4 1226.0 122.7 1226.5 113.6 1227.0 122.7 1227.5 109.1 1228.0 125.6 1228.5 115.3 1229.0 120.8 1229.5 116.0 1230.0 123.8 1230.5 117.2 1231.0 125.9 1231.5 116.2 1232.0 123.6 1232.5 117.0 1233.0 126.3 1233.5 115.3 1234.0 124.9 1234.5 113.1 1235.0 123.3 1235.5 116.6 1236.0 124.8 1236.5 117.6 1237.0 124.6 1237.5 116.0 1238.0 124.9 1238.5 116.2 1239.0 124.1 1239.5 119.1 1240.0 125.8 1240.5 115.8 1241.0 122.3 1241.5 114.7 1242.0 127.5 1242.5 114.3 1243.0 120.2 1243.5 115.3 1244.0 124.0 1244.5 116.0 1245.0 121.7 1245.5 115.0 1246.0 125.1 1246.5 110.6 1247.0 123.1 1247.5 116.6 1248.0 125.2 1248.5 115.1 1249.0 124.9 1249.5 115.0 1250.0 125.2 1250.5 115.6 1251.0 123.6 1251.5 113.7 1252.0 119.9 1252.5 112.1 1253.0 121.4 1253.5 116.6 1254.0 122.9 1254.5 115.2 1255.0 120.4 1255.5 114.0 1256.0 122.0 1256.5 114.6 1257.0 122.5 1257.5 112.8 1258.0 121.8 1258.5 114.3 1259.0 121.6 1259.5 113.3 1260.0 121.3 1260.5 112.7 1261.0 118.1 1261.5 113.6 1262.0 118.2 1262.5 111.2 1263.0 120.3 1263.5 111.1 1264.0 119.4 1264.5 115.5 1265.0 119.6 1265.5 111.3 1266.0 122.7 1266.5 112.2 1267.0 124.6 1267.5 118.0 1268.0 124.5 1268.5 117.8 1269.0 126.3 1269.5 116.4 1270.0 122.7 1270.5 117.4 1271.0 123.3 1271.5 118.6 1272.0 122.4 1272.5 116.0 1273.0 124.4 1273.5 118.2 1274.0 124.4 1274.5 119.1 1275.0 127.2 1275.5 119.9 1276.0 120.5 1276.5 117.4 1277.0 122.7 1277.5 116.3 1278.0 126.7 1278.5 114.0 1279.0 124.5 1279.5 113.4 1280.0 119.6 1280.5 114.1 1281.0 122.4 1281.5 113.0 1282.0 120.2 1282.5 111.5 1283.0 118.8 1283.5 112.7 1284.0 120.1 1284.5 114.0 1285.0 120.4 1285.5 116.2 1286.0 120.3 1286.5 115.2 1287.0 123.3 1287.5 116.7 1288.0 123.8 1288.5 117.2 1289.0 127.6 1289.5 116.7 1290.0 123.7 1290.5 117.4 1291.0 123.1 1291.5 117.5 1292.0 128.5 1292.5 118.1 1293.0 127.2 1293.5 121.7 1294.0 129.5 1294.5 122.0 1295.0 130.7 1295.5 120.3 1296.0 125.1 1296.5 119.4 1297.0 125.3 1297.5 118.1 1298.0 128.0 1298.5 117.4 1299.0 122.8 1299.5 116.3 1300.0 123.0 1300.5 117.4 1301.0 124.6 1301.5 117.7 1302.0 123.8 1302.5 115.3 1303.0 127.8 1303.5 118.4 1304.0 125.5 1304.5 116.4 1305.0 123.3 1305.5 116.3 1306.0 125.9 1306.5 116.4 1307.0 124.7 1307.5 116.4 1308.0 125.9 1308.5 117.3 1309.0 125.3 1309.5 115.0 1310.0 122.6 1310.5 114.0 1311.0 125.2 1311.5 119.3 1312.0 123.8 1312.5 119.1 1313.0 124.9 1313.5 117.4 1314.0 123.6 1314.5 117.7 1315.0 125.4 1315.5 117.5 1316.0 123.6 1316.5 118.7 1317.0 124.6 1317.5 115.2 1318.0 124.7 1318.5 118.1 1319.0 128.2 1319.5 116.8 1320.0 127.4 1320.5 115.0 1321.0 125.4 1321.5 116.8 1322.0 125.8 1322.5 117.2 1323.0 126.0 1323.5 116.8" fill="none" stroke="#348ABD" stroke-width="0.90" stroke-linejoin="round"/>
<polyline points="826.0,62.0 826.7,45.5 827.3,62.0" fill="none" stroke="#348ABD" stroke-width="1"/>
<polyline points="832.0,65.6 832.8,24.1 833.4,65.6" fill="none" stroke="#348ABD" stroke-width="1"/>
<polyline points="860.2,82.6 861.0,41.9 861.6,82.6" fill="none" stroke="#348ABD" stroke-width="1"/>
<polyline points="891.5,87.6 892.3,50.3 892.9,87.6" fill="none" stroke="#348ABD" stroke-width="1"/>
<polyline points="899.4,82.8 900.1,39.5 900.8,82.8" fill="none" stroke="#348ABD" stroke-width="1"/>
<polyline points="906.2,84.5 907.0,40.7 907.6,84.5" fill="none" stroke="#348ABD" stroke-width="1"/>
<polyline points="923.9,81.5 924.6,41.9 925.2,81.5" fill="none" stroke="#348ABD" stroke-width="1"/>
<polyline points="954.0,80.2 954.7,38.4 955.3,80.2" fill="none" stroke="#348ABD" stroke-width="1"/>
<polyline points="962.5,77.2 963.3,30.6 963.9,77.2" fill="none" stroke="#348ABD" stroke-width="1"/>
<polyline points="967.5,78.5 968.2,36.6 968.8,78.5" fill="none" stroke="#348ABD" stroke-width="1"/>
<polyline points="970.4,85.1 971.1,44.3 971.7,85.1" fill="none" stroke="#348ABD" stroke-width="1"/>
<polyline points="972.3,78.8 973.0,37.8 973.6,78.8" fill="none" stroke="#348ABD" stroke-width="1"/>
<polyline points="977.7,84.2 978.5,46.7 979.0,84.2" fill="none" stroke="#348ABD" stroke-width="1"/>
<polyline points="1024.2,65.2 1025.0,8.6 1025.5,65.2" fill="none" stroke="#348ABD" stroke-width="1"/>
<polyline points="1044.5,86.9 1045.2,45.5 1045.8,86.9" fill="none" stroke="#348ABD" stroke-width="1"/>
<polyline points="1240.2,116.0 1241.0,106.8 1241.6,116.0" fill="none" stroke="#348ABD" stroke-width="1"/>
<polyline points="1057.8,114.2 1058.5,100.2 1059.1,114.2" fill="none" stroke="#348ABD" stroke-width="1"/>
<polyline points="1087.8,113.5 1088.5,102.0 1089.1,113.5" fill="none" stroke="#348ABD" stroke-width="1"/>
<polyline points="957.8,103.8 958.5,81.2 959.1,103.8" fill="none" stroke="#348ABD" stroke-width="1"/>
<polyline points="975.2,96.8 976.0,69.3 976.6,96.8" fill="none" stroke="#348ABD" stroke-width="1"/>
<path d="M823.5 32.7 824.0 26.2 824.5 24.7 825.0 22.2 825.5 26.5 826.0 18.7 826.5 39.5 827.0 66.3 827.5 80.3 828.0 83.2 828.5 84.4 829.0 78.3 829.5 84.8 830.0 86.9 830.5 87.3 831.0 87.1 831.5 92.9 832.0 95.4 832.5 96.5 833.0 99.0 833.5 98.1 834.0 100.6 834.5 104.5 835.0 104.8 835.5 105.4 836.0 110.6 836.5 110.6 837.0 113.1 837.5 110.7 838.0 108.1 838.5 110.1 839.0 112.3 839.5 112.1 840.0 114.6 840.5 111.3 841.0 112.7 841.5 113.7 842.0 112.9 842.5 115.7 843.0 112.9 843.5 113.9 844.0 115.0 844.5 112.8 845.0 113.7 845.5 110.3 846.0 114.7 846.5 112.0 847.0 113.8 847.5 112.7 848.0 112.4 848.5 116.3 849.0 113.7 849.5 116.3 850.0 114.1 850.5 111.3 851.0 113.3 851.5 113.7 852.0 115.3 852.5 116.4 853.0 117.7 853.5 114.8 854.0 114.0 854.5 116.7 855.0 116.5 855.5 115.7 856.0 118.4 856.5 116.8 857.0 116.2 857.5 119.4 858.0 117.1 858.5 112.5 859.0 110.8 859.5 115.8 860.0 112.7 860.5 112.1 861.0 111.6 861.5 116.1 862.0 111.5 862.5 117.3 863.0 113.3 863.5 109.1 864.0 109.2 864.5 107.8 865.0 109.1 865.5 106.7 866.0 108.1 866.5 110.0 867.0 109.0 867.5 112.8 868.0 110.6 868.5 106.8 869.0 108.7 869.5 107.5 870.0 109.4 870.5 107.5 871.0 109.2 871.5 103.5 872.0 111.8 872.5 111.2 873.0 108.0 873.5 107.9 874.0 105.2 874.5 104.6 875.0 108.8 875.5 110.4 876.0 108.9 876.5 111.3 877.0 110.9 877.5 111.1 878.0 108.7 878.5 109.3 879.0 109.6 879.5 106.8 880.0 107.3 880.5 108.7 881.0 106.9 881.5 109.3 882.0 105.5 882.5 108.4 883.0 110.8 883.5 109.6 884.0 106.2 884.5 110.8 885.0 108.3 885.5 106.8 886.0 108.9 886.5 105.0 887.0 101.4 887.5 108.4 888.0 107.0 888.5 105.2 889.0 105.1 889.5 104.1 890.0 106.3 890.5 105.0 891.0 105.2 891.5 104.3 892.0 105.4 892.5 103.5 893.0 107.0 893.5 102.2 894.0 104.5 894.5 96.4 895.0 103.4 895.5 98.9 896.0 103.9 896.5 108.2 897.0 103.1 897.5 102.0 898.0 106.8 898.5 104.2 899.0 106.9 899.5 104.2 900.0 104.1 900.5 109.0 901.0 105.6 901.5 110.4 902.0 106.8 902.5 109.1 903.0 107.1 903.5 109.5 904.0 110.8 904.5 107.9 905.0 108.4 905.5 106.9 906.0 108.4 906.5 104.9 907.0 108.4 907.5 105.5 908.0 109.3 908.5 105.0 909.0 109.4 909.5 111.5 910.0 110.2 910.5 104.0 911.0 106.2 911.5 104.2 912.0 106.4 912.5 100.9 913.0 105.2 913.5 106.5 914.0 106.4 914.5 103.8 915.0 103.2 915.5 108.2 916.0 104.6 916.5 107.8 917.0 105.8 917.5 105.1 918.0 111.2 918.5 111.3 919.0 112.3 919.5 110.2 920.0 107.4 920.5 113.1 921.0 115.4 921.5 114.9 922.0 113.5 922.5 116.3 923.0 113.9 923.5 114.7 924.0 117.1 924.5 109.4 925.0 119.0 925.5 114.5 926.0 117.8 926.5 115.8 927.0 116.9 927.5 118.8 928.0 113.5 928.5 114.7 929.0 112.9 929.5 110.0 930.0 107.3 930.5 113.9 931.0 111.2 931.5 111.1 932.0 108.0 932.5 106.9 933.0 104.2 933.5 107.3 934.0 108.8 934.5 103.0 935.0 106.5 935.5 107.6 936.0 108.3 936.5 109.0 937.0 106.5 937.5 108.6 938.0 111.3 938.5 108.8 939.0 111.4 939.5 106.5 940.0 106.5 940.5 106.2 941.0 105.7 941.5 108.2 942.0 114.4 942.5 112.4 943.0 106.7 943.5 109.2 944.0 106.7 944.5 113.1 945.0 109.8 945.5 116.8 946.0 110.5 946.5 114.3 947.0 111.3 947.5 116.2 948.0 116.6 948.5 113.8 949.0 114.8 949.5 115.2 950.0 112.0 950.5 111.3 951.0 111.8 951.5 116.0 952.0 109.5 952.5 116.8 953.0 112.3 953.5 114.6 954.0 113.8 954.5 111.2 955.0 114.1 955.5 118.2 956.0 109.1 956.5 112.1 957.0 114.4 957.5 116.0 958.0 115.2 958.5 113.5 959.0 115.4 959.5 116.2 960.0 111.7 960.5 111.9 961.0 115.8 961.5 118.4 962.0 115.8 962.5 117.0 963.0 112.0 963.5 113.3 964.0 112.7 964.5 114.0 965.0 109.2 965.5 110.1 966.0 111.1 966.5 109.7 967.0 109.6 967.5 112.7 968.0 109.0 968.5 108.6 969.0 114.7 969.5 111.3 970.0 109.3 970.5 112.9 971.0 115.1 971.5 110.5 972.0 108.6 972.5 113.3 973.0 109.7 973.5 106.5 974.0 108.7 974.5 106.5 975.0 110.1 975.5 111.0 976.0 109.5 976.5 112.5 977.0 110.8 977.5 113.7 978.0 113.2 978.5 111.1 979.0 114.6 979.5 111.7 980.0 112.3 980.5 110.9 981.0 111.7 981.5 114.9 982.0 109.3 982.5 116.1 983.0 114.6 983.5 116.8 984.0 114.4 984.5 117.3 985.0 116.4 985.5 112.3 986.0 115.6 986.5 115.9 987.0 117.5 987.5 113.2 988.0 116.0 988.5 114.8 989.0 116.3 989.5 115.8 990.0 105.2 990.5 110.6 991.0 111.1 991.5 109.2 992.0 107.8 992.5 108.9 993.0 108.9 993.5 111.6 994.0 109.7 994.5 113.0 995.0 113.6 995.5 111.8 996.0 104.0 996.5 105.6 997.0 105.1 997.5 104.7 998.0 102.6 998.5 106.0 999.0 108.8 999.5 104.3 1000.0 102.4 1000.5 102.0 1001.0 105.3 1001.5 102.5 1002.0 106.0 1002.5 104.1 1003.0 105.3 1003.5 102.7 1004.0 109.5 1004.5 108.2 1005.0 111.4 1005.5 107.2 1006.0 109.5 1006.5 105.8 1007.0 112.0 1007.5 109.2 1008.0 108.4 1008.5 110.4 1009.0 107.4 1009.5 106.6 1010.0 107.4 1010.5 115.3 1011.0 109.8 1011.5 111.5 1012.0 109.3 1012.5 112.3 1013.0 101.5 1013.5 110.8 1014.0 112.7 1014.5 109.6 1015.0 114.5 1015.5 108.4 1016.0 109.0 1016.5 109.8 1017.0 113.9 1017.5 107.6 1018.0 112.6 1018.5 111.1 1019.0 108.6 1019.5 109.4 1020.0 105.1 1020.5 104.8 1021.0 107.4 1021.5 112.6 1022.0 99.7 1022.5 107.1 1023.0 99.9 1023.5 112.8 1024.0 114.4 1024.5 114.2 1025.0 109.3 1025.5 108.6 1026.0 111.9 1026.5 107.1 1027.0 108.0 1027.5 112.6 1028.0 110.1 1028.5 113.2 1029.0 114.8 1029.5 114.8 1030.0 114.7 1030.5 114.2 1031.0 111.1 1031.5 112.8 1032.0 113.4 1032.5 111.3 1033.0 114.3 1033.5 109.0 1034.0 110.1 1034.5 108.2 1035.0 109.1 1035.5 106.7 1036.0 109.9 1036.5 98.7 1037.0 112.1 1037.5 103.9 1038.0 108.4 1038.5 109.3 1039.0 106.2 1039.5 104.0 1040.0 107.2 1040.5 108.0 1041.0 103.1 1041.5 102.8 1042.0 106.1 1042.5 104.6 1043.0 105.0 1043.5 108.7 1044.0 107.2 1044.5 106.4 1045.0 108.8 1045.5 109.1 1046.0 109.1 1046.5 107.1 1047.0 105.4 1047.5 106.4 1048.0 109.2 1048.5 107.2 1049.0 111.8 1049.5 109.9 1050.0 112.1 1050.5 114.8 1051.0 115.2 1051.5 115.7 1052.0 115.8 1052.5 110.4 1053.0 111.9 1053.5 106.7 1054.0 112.9 1054.5 108.7 1055.0 108.9 1055.5 104.9 1056.0 105.8 1056.5 106.6 1057.0 113.9 1057.5 112.1 1058.0 113.2 1058.5 112.3 1059.0 109.4 1059.5 106.0 1060.0 111.7 1060.5 108.1 1061.0 104.1 1061.5 107.0 1062.0 106.5 1062.5 106.7 1063.0 108.0 1063.5 102.9 1064.0 108.3 1064.5 108.3 1065.0 109.4 1065.5 107.6 1066.0 102.5 1066.5 111.2 1067.0 112.7 1067.5 108.6 1068.0 113.6 1068.5 110.6 1069.0 110.5 1069.5 108.6 1070.0 104.3 1070.5 108.1 1071.0 105.0 1071.5 108.8 1072.0 103.3 1072.5 106.7 1073.0 109.3 1073.5 108.3 1074.0 110.3 1074.5 106.9 1075.0 109.7 1075.5 108.0 1076.0 106.1 1076.5 102.2 1077.0 107.2 1077.5 102.9 1078.0 106.6 1078.5 110.0 1079.0 105.1 1079.5 110.1 1080.0 110.4 1080.5 99.8 1081.0 109.4 1081.5 106.6 1082.0 103.4 1082.5 112.7 1083.0 113.3 1083.5 114.6 1084.0 113.5 1084.5 114.0 1085.0 115.0 1085.5 110.8 1086.0 109.1 1086.5 111.8 1087.0 113.5 1087.5 111.8 1088.0 110.7 1088.5 113.4 1089.0 112.6 1089.5 109.5 1090.0 110.2 1090.5 112.2 1091.0 107.3 1091.5 111.4 1092.0 108.8 1092.5 113.8 1093.0 108.4 1093.5 110.6 1094.0 111.4 1094.5 111.3 1095.0 113.4 1095.5 113.6 1096.0 108.1 1096.5 108.9 1097.0 111.7 1097.5 108.3 1098.0 109.5 1098.5 110.6 1099.0 110.4 1099.5 109.6 1100.0 109.2 1100.5 99.9 1101.0 112.8 1101.5 109.5 1102.0 106.9 1102.5 106.2 1103.0 110.7 1103.5 109.0 1104.0 109.9 1104.5 108.1 1105.0 108.4 1105.5 111.6 1106.0 108.1 1106.5 104.8 1107.0 106.5 1107.5 106.1 1108.0 102.7 1108.5 111.5 1109.0 106.3 1109.5 103.5 1110.0 109.3 1110.5 109.3 1111.0 107.5 1111.5 103.2 1112.0 110.8 1112.5 101.9 1113.0 106.1 1113.5 107.3 1114.0 104.9 1114.5 106.0 1115.0 111.2 1115.5 105.2 1116.0 105.8 1116.5 108.6 1117.0 105.6 1117.5 109.1 1118.0 106.4 1118.5 105.8 1119.0 101.9 1119.5 106.5 1120.0 106.5 1120.5 107.3 1121.0 103.1 1121.5 108.5 1122.0 106.9 1122.5 106.1 1123.0 107.7 1123.5 111.6 1124.0 111.2 1124.5 112.6 1125.0 113.8 1125.5 110.4 1126.0 110.7 1126.5 106.4 1127.0 112.2 1127.5 111.6 1128.0 108.6 1128.5 112.0 1129.0 110.1 1129.5 111.5 1130.0 105.6 1130.5 108.6 1131.0 107.6 1131.5 108.2 1132.0 113.5 1132.5 111.3 1133.0 110.9 1133.5 110.6 1134.0 108.6 1134.5 106.3 1135.0 106.4 1135.5 104.2 1136.0 110.3 1136.5 102.1 1137.0 107.5 1137.5 106.5 1138.0 107.0 1138.5 103.4 1139.0 104.6 1139.5 108.6 1140.0 113.1 1140.5 106.9 1141.0 107.8 1141.5 105.5 1142.0 108.2 1142.5 104.1 1143.0 105.6 1143.5 104.0 1144.0 105.1 1144.5 107.9 1145.0 107.3 1145.5 108.0 1146.0 109.0 1146.5 111.8 1147.0 110.6 1147.5 114.9 1148.0 110.5 1148.5 116.5 1149.0 111.2 1149.5 109.6 1150.0 115.4 1150.5 109.3 1151.0 107.9 1151.5 111.3 1152.0 114.5 1152.5 116.0 1153.0 117.4 1153.5 116.0 1154.0 114.7 1154.5 111.1 1155.0 115.3 1155.5 114.0 1156.0 111.7 1156.5 116.2 1157.0 113.8 1157.5 117.7 1158.0 112.6 1158.5 110.2 1159.0 110.9 1159.5 112.4 1160.0 114.8 1160.5 112.4 1161.0 109.9 1161.5 113.2 1162.0 109.9 1162.5 111.6 1163.0 112.3 1163.5 110.0 1164.0 114.8 1164.5 107.3 1165.0 109.2 1165.5 106.3 1166.0 109.7 1166.5 107.3 1167.0 109.4 1167.5 109.6 1168.0 107.1 1168.5 112.3 1169.0 110.1 1169.5 111.3 1170.0 111.8 1170.5 110.9 1171.0 117.0 1171.5 111.9 1172.0 112.3 1172.5 113.1 1173.0 115.3 1173.5 113.7 1174.0 115.6 1174.5 114.4 1175.0 111.8 1175.5 114.5 1176.0 114.4 1176.5 113.0 1177.0 113.3 1177.5 115.9 1178.0 118.4 1178.5 116.5 1179.0 120.2 1179.5 120.2 1180.0 119.3 1180.5 120.4 1181.0 114.1 1181.5 117.1 1182.0 117.9 1182.5 111.8 1183.0 112.0 1183.5 114.8 1184.0 109.6 1184.5 114.6 1185.0 116.3 1185.5 110.2 1186.0 114.0 1186.5 115.2 1187.0 114.3 1187.5 111.2 1188.0 109.7 1188.5 110.1 1189.0 108.1 1189.5 107.1 1190.0 107.1 1190.5 110.9 1191.0 108.6 1191.5 113.0 1192.0 109.0 1192.5 107.1 1193.0 103.4 1193.5 102.6 1194.0 106.3 1194.5 106.7 1195.0 105.9 1195.5 106.6 1196.0 109.2 1196.5 105.1 1197.0 101.8 1197.5 104.1 1198.0 107.2 1198.5 106.3 1199.0 108.2 1199.5 107.9 1200.0 108.4 1200.5 110.1 1201.0 110.9 1201.5 110.3 1202.0 108.9 1202.5 109.6 1203.0 105.8 1203.5 110.0 1204.0 110.2 1204.5 109.6 1205.0 110.2 1205.5 109.3 1206.0 108.1 1206.5 114.3 1207.0 115.1 1207.5 105.7 1208.0 109.9 1208.5 106.8 1209.0 112.0 1209.5 105.4 1210.0 106.4 1210.5 107.3 1211.0 103.6 1211.5 104.6 1212.0 102.8 1212.5 99.7 1213.0 109.1 1213.5 107.7 1214.0 109.4 1214.5 103.1 1215.0 103.5 1215.5 104.6 1216.0 109.5 1216.5 106.2 1217.0 111.6 1217.5 108.8 1218.0 107.1 1218.5 105.8 1219.0 101.9 1219.5 108.1 1220.0 108.5 1220.5 112.1 1221.0 107.0 1221.5 101.6 1222.0 109.5 1222.5 109.3 1223.0 112.9 1223.5 113.2 1224.0 112.6 1224.5 117.8 1225.0 114.7 1225.5 109.6 1226.0 110.7 1226.5 111.5 1227.0 116.9 1227.5 113.7 1228.0 114.3 1228.5 114.5 1229.0 112.6 1229.5 114.2 1230.0 110.9 1230.5 109.1 1231.0 112.6 1231.5 113.6 1232.0 112.1 1232.5 110.0 1233.0 114.2 1233.5 112.4 1234.0 115.4 1234.5 115.0 1235.0 107.4 1235.5 114.7 1236.0 114.3 1236.5 113.9 1237.0 115.4 1237.5 112.2 1238.0 115.4 1238.5 116.8 1239.0 111.6 1239.5 110.3 1240.0 117.1 1240.5 113.1 1241.0 111.9 1241.5 115.2 1242.0 113.3 1242.5 116.5 1243.0 115.0 1243.5 112.3 1244.0 113.0 1244.5 115.2 1245.0 113.0 1245.5 111.7 1246.0 113.6 1246.5 114.6 1247.0 114.2 1247.5 108.9 1248.0 112.7 1248.5 111.7 1249.0 108.2 1249.5 107.6 1250.0 107.0 1250.5 108.4 1251.0 110.1 1251.5 111.4 1252.0 112.4 1252.5 107.7 1253.0 115.6 1253.5 112.0 1254.0 111.1 1254.5 114.4 1255.0 116.5 1255.5 118.0 1256.0 112.2 1256.5 115.8 1257.0 115.5 1257.5 111.0 1258.0 110.6 1258.5 116.0 1259.0 112.1 1259.5 110.7 1260.0 112.3 1260.5 108.0 1261.0 109.9 1261.5 110.2 1262.0 117.4 1262.5 117.3 1263.0 113.5 1263.5 116.6 1264.0 112.9 1264.5 116.3 1265.0 116.7 1265.5 115.5 1266.0 108.7 1266.5 109.3 1267.0 111.7 1267.5 110.8 1268.0 113.1 1268.5 109.4 1269.0 110.3 1269.5 109.8 1270.0 108.7 1270.5 114.3 1271.0 110.8 1271.5 111.5 1272.0 114.8 1272.5 113.0 1273.0 113.9 1273.5 109.7 1274.0 119.0 1274.5 114.9 1275.0 112.7 1275.5 113.4 1276.0 115.8 1276.5 114.7 1277.0 117.6 1277.5 114.9 1278.0 113.0 1278.5 116.4 1279.0 112.8 1279.5 114.7 1280.0 110.9 1280.5 115.7 1281.0 107.4 1281.5 118.5 1282.0 119.0 1282.5 117.1 1283.0 117.9 1283.5 121.1 1284.0 118.5 1284.5 118.8 1285.0 118.4 1285.5 117.2 1286.0 111.5 1286.5 113.7 1287.0 112.6 1287.5 116.2 1288.0 114.9 1288.5 113.1 1289.0 112.8 1289.5 106.2 1290.0 112.0 1290.5 111.1 1291.0 111.7 1291.5 115.5 1292.0 117.9 1292.5 113.2 1293.0 117.9 1293.5 116.0 1294.0 115.0 1294.5 113.6 1295.0 111.3 1295.5 114.3 1296.0 111.5 1296.5 114.5 1297.0 114.7 1297.5 113.5 1298.0 110.1 1298.5 118.9 1299.0 117.1 1299.5 115.9 1300.0 118.9 1300.5 117.5 1301.0 119.6 1301.5 111.8 1302.0 115.3 1302.5 118.8 1303.0 119.8 1303.5 117.8 1304.0 114.8 1304.5 113.7 1305.0 115.9 1305.5 115.0 1306.0 115.9 1306.5 115.3 1307.0 116.3 1307.5 117.1 1308.0 108.6 1308.5 113.9 1309.0 113.7 1309.5 114.8 1310.0 115.3 1310.5 116.1 1311.0 112.6 1311.5 114.8 1312.0 114.7 1312.5 116.9 1313.0 116.8 1313.5 117.0 1314.0 119.2 1314.5 115.2 1315.0 115.6 1315.5 119.4 1316.0 117.7 1316.5 118.3 1317.0 120.1 1317.5 122.8 1318.0 120.2 1318.5 121.3 1319.0 122.5 1319.5 120.5 1320.0 123.0 1320.5 118.2 1321.0 122.2 1321.5 116.3 1322.0 118.1 1322.5 122.3 1323.0 121.6 1323.5 120.1 L1323.5 133.8 1323.0 134.9 1322.5 136.6 1322.0 135.8 1321.5 134.0 1321.0 134.6 1320.5 136.6 1320.0 134.0 1319.5 136.2 1319.0 135.0 1318.5 134.5 1318.0 134.3 1317.5 132.7 1317.0 133.3 1316.5 134.1 1316.0 136.3 1315.5 134.3 1315.0 134.3 1314.5 134.6 1314.0 130.6 1313.5 134.6 1313.0 132.6 1312.5 135.9 1312.0 134.6 1311.5 132.9 1311.0 130.7 1310.5 131.8 1310.0 130.7 1309.5 132.2 1309.0 130.8 1308.5 132.2 1308.0 130.3 1307.5 132.7 1307.0 131.4 1306.5 131.7 1306.0 129.6 1305.5 134.9 1305.0 132.2 1304.5 134.2 1304.0 132.1 1303.5 135.6 1303.0 135.0 1302.5 134.6 1302.0 131.6 1301.5 134.7 1301.0 134.6 1300.5 136.6 1300.0 135.8 1299.5 136.0 1299.0 134.8 1298.5 133.9 1298.0 136.4 1297.5 133.8 1297.0 129.7 1296.5 130.3 1296.0 129.7 1295.5 131.7 1295.0 129.1 1294.5 128.7 1294.0 132.1 1293.5 132.0 1293.0 134.5 1292.5 132.3 1292.0 132.2 1291.5 131.6 1291.0 132.9 1290.5 129.3 1290.0 128.2 1289.5 130.0 1289.0 132.9 1288.5 132.5 1288.0 131.8 1287.5 132.1 1287.0 133.3 1286.5 130.8 1286.0 134.2 1285.5 133.5 1285.0 136.2 1284.5 142.2 1284.0 137.2 1283.5 134.3 1283.0 132.8 1282.5 138.2 1282.0 135.6 1281.5 133.6 1281.0 134.0 1280.5 131.3 1280.0 134.1 1279.5 130.5 1279.0 132.3 1278.5 136.6 1278.0 135.6 1277.5 132.6 1277.0 137.1 1276.5 137.4 1276.0 131.7 1275.5 134.9 1275.0 135.7 1274.5 131.2 1274.0 139.1 1273.5 136.4 1273.0 130.1 1272.5 130.9 1272.0 130.2 1271.5 133.3 1271.0 133.1 1270.5 134.9 1270.0 132.6 1269.5 128.3 1269.0 132.3 1268.5 130.4 1268.0 132.8 1267.5 134.5 1267.0 129.2 1266.5 130.5 1266.0 134.1 1265.5 132.3 1265.0 139.9 1264.5 137.9 1264.0 132.5 1263.5 137.3 1263.0 133.7 1262.5 137.4 1262.0 137.3 1261.5 133.4 1261.0 135.3 1260.5 132.9 1260.0 132.8 1259.5 135.6 1259.0 137.6 1258.5 136.3 1258.0 137.0 1257.5 134.0 1257.0 140.1 1256.5 134.0 1256.0 138.4 1255.5 139.3 1255.0 138.1 1254.5 136.4 1254.0 137.8 1253.5 133.9 1253.0 132.8 1252.5 134.5 1252.0 132.4 1251.5 135.4 1251.0 130.6 1250.5 128.6 1250.0 134.3 1249.5 130.3 1249.0 129.2 1248.5 133.0 1248.0 134.6 1247.5 132.4 1247.0 130.2 1246.5 136.1 1246.0 130.5 1245.5 136.4 1245.0 133.5 1244.5 136.0 1244.0 135.3 1243.5 137.0 1243.0 134.4 1242.5 133.0 1242.0 134.4 1241.5 134.9 1241.0 133.8 1240.5 133.3 1240.0 136.3 1239.5 134.4 1239.0 133.8 1238.5 136.9 1238.0 135.6 1237.5 135.6 1237.0 132.5 1236.5 136.7 1236.0 136.8 1235.5 139.7 1235.0 136.8 1234.5 136.4 1234.0 136.0 1233.5 133.7 1233.0 130.8 1232.5 135.7 1232.0 133.6 1231.5 135.5 1231.0 137.2 1230.5 133.7 1230.0 134.9 1229.5 134.8 1229.0 135.0 1228.5 133.3 1228.0 135.0 1227.5 137.2 1227.0 132.7 1226.5 133.0 1226.0 131.4 1225.5 133.9 1225.0 138.2 1224.5 139.3 1224.0 133.5 1223.5 135.6 1223.0 135.9 1222.5 135.0 1222.0 134.9 1221.5 129.9 1221.0 127.6 1220.5 128.5 1220.0 130.2 1219.5 128.7 1219.0 127.7 1218.5 128.5 1218.0 129.2 1217.5 133.2 1217.0 132.5 1216.5 128.0 1216.0 131.8 1215.5 131.2 1215.0 125.4 1214.5 129.1 1214.0 131.0 1213.5 131.0 1213.0 130.5 1212.5 123.1 1212.0 125.8 1211.5 130.0 1211.0 129.3 1210.5 131.7 1210.0 131.4 1209.5 126.5 1209.0 133.6 1208.5 134.0 1208.0 132.3 1207.5 137.8 1207.0 134.0 1206.5 130.5 1206.0 135.9 1205.5 136.0 1205.0 134.9 1204.5 131.6 1204.0 127.3 1203.5 129.0 1203.0 129.3 1202.5 131.4 1202.0 134.5 1201.5 132.0 1201.0 125.3 1200.5 133.1 1200.0 132.3 1199.5 133.3 1199.0 126.3 1198.5 125.4 1198.0 129.7 1197.5 127.6 1197.0 134.0 1196.5 131.3 1196.0 131.2 1195.5 127.6 1195.0 130.2 1194.5 129.4 1194.0 126.1 1193.5 127.0 1193.0 129.3 1192.5 137.3 1192.0 131.1 1191.5 134.0 1191.0 133.8 1190.5 135.6 1190.0 129.2 1189.5 130.9 1189.0 133.2 1188.5 131.5 1188.0 132.6 1187.5 134.0 1187.0 132.5 1186.5 133.4 1186.0 133.1 1185.5 134.4 1185.0 137.2 1184.5 133.0 1184.0 134.7 1183.5 133.6 1183.0 131.5 1182.5 131.9 1182.0 138.2 1181.5 137.1 1181.0 138.3 1180.5 141.9 1180.0 140.3 1179.5 140.9 1179.0 135.6 1178.5 135.9 1178.0 134.2 1177.5 137.4 1177.0 138.9 1176.5 133.0 1176.0 132.7 1175.5 136.2 1175.0 134.2 1174.5 132.9 1174.0 130.9 1173.5 134.4 1173.0 132.6 1172.5 137.4 1172.0 139.0 1171.5 133.0 1171.0 132.1 1170.5 134.4 1170.0 140.8 1169.5 131.8 1169.0 132.2 1168.5 131.6 1168.0 131.4 1167.5 132.1 1167.0 134.6 1166.5 129.1 1166.0 133.1 1165.5 131.7 1165.0 130.3 1164.5 131.5 1164.0 133.8 1163.5 134.8 1163.0 134.7 1162.5 132.6 1162.0 137.0 1161.5 132.6 1161.0 132.7 1160.5 130.6 1160.0 130.6 1159.5 133.0 1159.0 135.1 1158.5 133.2 1158.0 134.5 1157.5 137.2 1157.0 139.2 1156.5 137.4 1156.0 134.7 1155.5 138.7 1155.0 136.0 1154.5 138.6 1154.0 136.8 1153.5 136.9 1153.0 139.1 1152.5 137.2 1152.0 133.5 1151.5 136.0 1151.0 135.1 1150.5 133.0 1150.0 129.3 1149.5 136.8 1149.0 134.6 1148.5 135.9 1148.0 134.6 1147.5 132.5 1147.0 131.1 1146.5 133.3 1146.0 129.8 1145.5 129.9 1145.0 130.5 1144.5 126.4 1144.0 129.4 1143.5 128.1 1143.0 124.5 1142.5 130.3 1142.0 129.6 1141.5 128.0 1141.0 132.7 1140.5 128.2 1140.0 130.5 1139.5 131.7 1139.0 131.0 1138.5 128.1 1138.0 130.6 1137.5 126.5 1137.0 129.9 1136.5 126.7 1136.0 129.7 1135.5 124.7 1135.0 128.1 1134.5 129.0 1134.0 131.2 1133.5 131.1 1133.0 127.5 1132.5 131.3 1132.0 130.4 1131.5 133.1 1131.0 128.6 1130.5 133.4 1130.0 133.1 1129.5 127.6 1129.0 138.1 1128.5 132.1 1128.0 128.4 1127.5 128.1 1127.0 127.8 1126.5 132.4 1126.0 132.6 1125.5 131.0 1125.0 129.1 1124.5 132.0 1124.0 132.8 1123.5 128.3 1123.0 128.6 1122.5 130.3 1122.0 128.7 1121.5 129.6 1121.0 127.4 1120.5 121.8 1120.0 124.3 1119.5 128.3 1119.0 129.2 1118.5 129.7 1118.0 135.7 1117.5 128.5 1117.0 129.2 1116.5 127.6 1116.0 126.1 1115.5 127.3 1115.0 126.1 1114.5 125.3 1114.0 128.5 1113.5 133.0 1113.0 132.6 1112.5 133.0 1112.0 128.4 1111.5 129.2 1111.0 129.5 1110.5 128.4 1110.0 123.7 1109.5 129.1 1109.0 125.5 1108.5 131.7 1108.0 132.1 1107.5 131.6 1107.0 126.9 1106.5 128.5 1106.0 128.2 1105.5 131.0 1105.0 128.3 1104.5 130.9 1104.0 130.5 1103.5 129.4 1103.0 131.9 1102.5 129.9 1102.0 131.7 1101.5 132.7 1101.0 131.1 1100.5 128.5 1100.0 127.1 1099.5 130.7 1099.0 134.9 1098.5 130.8 1098.0 126.7 1097.5 131.6 1097.0 129.8 1096.5 130.0 1096.0 129.4 1095.5 135.0 1095.0 131.3 1094.5 131.3 1094.0 130.8 1093.5 134.6 1093.0 135.4 1092.5 134.6 1092.0 128.2 1091.5 132.2 1091.0 127.8 1090.5 133.9 1090.0 133.7 1089.5 134.6 1089.0 130.8 1088.5 132.4 1088.0 134.6 1087.5 133.2 1087.0 136.0 1086.5 136.7 1086.0 130.3 1085.5 136.1 1085.0 134.4 1084.5 132.1 1084.0 129.8 1083.5 135.5 1083.0 131.5 1082.5 133.7 1082.0 129.3 1081.5 132.1 1081.0 131.0 1080.5 128.8 1080.0 128.5 1079.5 124.9 1079.0 127.0 1078.5 127.5 1078.0 126.9 1077.5 123.8 1077.0 127.8 1076.5 129.5 1076.0 134.4 1075.5 127.0 1075.0 131.3 1074.5 130.6 1074.0 129.4 1073.5 125.2 1073.0 132.5 1072.5 125.4 1072.0 124.0 1071.5 127.0 1071.0 129.0 1070.5 129.7 1070.0 133.9 1069.5 130.8 1069.0 134.6 1068.5 134.6 1068.0 134.3 1067.5 129.0 1067.0 133.9 1066.5 134.6 1066.0 135.0 1065.5 140.4 1065.0 128.2 1064.5 133.3 1064.0 123.9 1063.5 130.7 1063.0 124.6 1062.5 125.6 1062.0 129.0 1061.5 123.6 1061.0 123.5 1060.5 123.6 1060.0 128.6 1059.5 129.8 1059.0 128.3 1058.5 129.0 1058.0 134.6 1057.5 133.2 1057.0 129.9 1056.5 130.7 1056.0 126.8 1055.5 129.6 1055.0 127.7 1054.5 128.2 1054.0 128.1 1053.5 129.1 1053.0 133.8 1052.5 135.4 1052.0 130.7 1051.5 135.7 1051.0 132.1 1050.5 137.3 1050.0 131.0 1049.5 132.5 1049.0 130.8 1048.5 129.4 1048.0 130.6 1047.5 129.1 1047.0 127.3 1046.5 129.7 1046.0 132.8 1045.5 125.2 1045.0 128.1 1044.5 128.1 1044.0 124.3 1043.5 127.8 1043.0 128.8 1042.5 129.6 1042.0 129.4 1041.5 128.0 1041.0 125.4 1040.5 129.6 1040.0 129.3 1039.5 125.5 1039.0 123.8 1038.5 125.1 1038.0 126.8 1037.5 130.5 1037.0 130.2 1036.5 129.3 1036.0 128.6 1035.5 131.6 1035.0 126.9 1034.5 131.3 1034.0 126.1 1033.5 130.0 1033.0 132.6 1032.5 135.4 1032.0 129.5 1031.5 135.4 1031.0 131.7 1030.5 140.8 1030.0 133.8 1029.5 132.1 1029.0 133.2 1028.5 131.3 1028.0 139.9 1027.5 131.6 1027.0 128.1 1026.5 135.3 1026.0 132.2 1025.5 133.5 1025.0 132.9 1024.5 133.8 1024.0 132.2 1023.5 133.6 1023.0 128.5 1022.5 134.0 1022.0 132.4 1021.5 133.3 1021.0 129.1 1020.5 129.9 1020.0 124.3 1019.5 124.7 1019.0 129.9 1018.5 127.2 1018.0 126.2 1017.5 131.1 1017.0 135.8 1016.5 135.8 1016.0 131.7 1015.5 130.9 1015.0 137.0 1014.5 135.0 1014.0 136.6 1013.5 130.7 1013.0 132.5 1012.5 134.2 1012.0 126.8 1011.5 135.0 1011.0 132.1 1010.5 133.2 1010.0 131.8 1009.5 132.7 1009.0 129.8 1008.5 133.4 1008.0 133.4 1007.5 129.8 1007.0 133.4 1006.5 130.0 1006.0 136.7 1005.5 131.3 1005.0 128.5 1004.5 133.4 1004.0 125.4 1003.5 126.5 1003.0 126.5 1002.5 123.9 1002.0 127.2 1001.5 124.3 1001.0 126.1 1000.5 122.4 1000.0 127.5 999.5 125.1 999.0 124.6 998.5 125.7 998.0 127.7 997.5 126.5 997.0 125.2 996.5 129.8 996.0 127.9 995.5 132.9 995.0 127.5 994.5 127.7 994.0 133.7 993.5 132.2 993.0 134.2 992.5 129.7 992.0 132.3 991.5 133.7 991.0 131.8 990.5 139.9 990.0 136.8 989.5 137.8 989.0 132.7 988.5 135.2 988.0 132.7 987.5 136.5 987.0 137.2 986.5 133.1 986.0 136.2 985.5 136.6 985.0 133.6 984.5 135.2 984.0 138.8 983.5 140.4 983.0 135.8 982.5 134.6 982.0 136.7 981.5 130.5 981.0 130.4 980.5 132.7 980.0 133.7 979.5 131.2 979.0 138.1 978.5 135.3 978.0 134.5 977.5 135.9 977.0 136.5 976.5 141.4 976.0 134.5 975.5 130.0 975.0 128.7 974.5 129.4 974.0 131.3 973.5 128.1 973.0 133.3 972.5 129.7 972.0 133.4 971.5 135.0 971.0 136.6 970.5 133.9 970.0 134.7 969.5 140.9 969.0 130.9 968.5 131.8 968.0 129.2 967.5 136.0 967.0 135.3 966.5 131.4 966.0 131.1 965.5 135.0 965.0 134.2 964.5 136.9 964.0 133.1 963.5 138.6 963.0 135.5 962.5 137.7 962.0 136.9 961.5 138.7 961.0 137.0 960.5 135.0 960.0 136.0 959.5 135.5 959.0 132.1 958.5 132.0 958.0 135.0 957.5 144.0 957.0 132.3 956.5 142.0 956.0 138.2 955.5 133.4 955.0 133.3 954.5 144.1 954.0 133.1 953.5 133.2 953.0 140.4 952.5 137.5 952.0 131.1 951.5 136.7 951.0 133.7 950.5 136.5 950.0 135.0 949.5 131.0 949.0 137.6 948.5 133.3 948.0 133.6 947.5 134.2 947.0 132.6 946.5 131.7 946.0 136.3 945.5 131.9 945.0 130.9 944.5 132.6 944.0 130.9 943.5 130.7 943.0 130.7 942.5 132.6 942.0 136.0 941.5 127.6 941.0 126.3 940.5 129.5 940.0 126.7 939.5 125.8 939.0 131.6 938.5 129.9 938.0 127.7 937.5 131.1 937.0 130.9 936.5 130.8 936.0 127.5 935.5 127.3 935.0 134.8 934.5 130.8 934.0 131.7 933.5 131.5 933.0 129.7 932.5 128.1 932.0 138.9 931.5 130.6 931.0 131.5 930.5 131.2 930.0 131.6 929.5 132.3 929.0 131.8 928.5 132.8 928.0 138.1 927.5 135.3 927.0 137.2 926.5 137.1 926.0 134.4 925.5 137.8 925.0 141.2 924.5 140.5 924.0 136.8 923.5 135.9 923.0 134.3 922.5 132.9 922.0 137.7 921.5 138.3 921.0 137.9 920.5 134.1 920.0 134.3 919.5 132.1 919.0 130.9 918.5 128.2 918.0 128.1 917.5 126.2 917.0 125.1 916.5 130.9 916.0 132.2 915.5 127.8 915.0 121.3 914.5 123.1 914.0 125.3 913.5 126.0 913.0 124.4 912.5 125.8 912.0 123.7 911.5 132.0 911.0 128.8 910.5 131.5 910.0 133.8 909.5 133.4 909.0 129.2 908.5 129.4 908.0 128.5 907.5 126.3 907.0 128.3 906.5 128.5 906.0 131.7 905.5 128.8 905.0 127.9 904.5 132.5 904.0 132.5 903.5 133.9 903.0 133.7 902.5 127.7 902.0 133.2 901.5 131.0 901.0 129.9 900.5 128.0 900.0 126.5 899.5 128.9 899.0 126.6 898.5 129.7 898.0 123.2 897.5 127.2 897.0 126.6 896.5 124.9 896.0 125.8 895.5 124.2 895.0 122.6 894.5 125.0 894.0 130.4 893.5 126.6 893.0 127.2 892.5 126.1 892.0 129.7 891.5 125.5 891.0 125.6 890.5 128.3 890.0 125.2 889.5 124.7 889.0 130.3 888.5 128.0 888.0 127.6 887.5 131.9 887.0 128.1 886.5 129.7 886.0 127.3 885.5 129.8 885.0 132.1 884.5 127.5 884.0 131.1 883.5 125.7 883.0 132.3 882.5 131.8 882.0 130.2 881.5 136.4 881.0 127.2 880.5 132.6 880.0 128.7 879.5 132.4 879.0 132.0 878.5 130.2 878.0 130.0 877.5 130.9 877.0 136.7 876.5 139.5 876.0 131.1 875.5 126.8 875.0 138.7 874.5 126.6 874.0 127.3 873.5 131.4 873.0 131.0 872.5 128.3 872.0 131.5 871.5 127.7 871.0 128.3 870.5 133.4 870.0 133.3 869.5 134.6 869.0 130.3 868.5 133.6 868.0 129.0 867.5 130.7 867.0 137.5 866.5 129.4 866.0 134.4 865.5 131.2 865.0 130.3 864.5 134.8 864.0 134.3 863.5 136.2 863.0 137.8 862.5 134.4 862.0 136.7 861.5 137.1 861.0 135.4 860.5 135.9 860.0 133.4 859.5 136.1 859.0 133.9 858.5 138.8 858.0 128.3 857.5 127.5 857.0 130.3 856.5 127.1 856.0 129.0 855.5 128.2 855.0 126.0 854.5 126.4 854.0 126.4 853.5 124.9 853.0 126.0 852.5 127.9 852.0 125.6 851.5 124.1 851.0 124.5 850.5 124.2 850.0 125.5 849.5 125.9 849.0 124.5 848.5 125.6 848.0 124.2 847.5 123.4 847.0 125.9 846.5 125.1 846.0 125.4 845.5 127.0 845.0 125.6 844.5 126.5 844.0 123.3 843.5 126.3 843.0 123.6 842.5 127.6 842.0 125.1 841.5 124.5 841.0 124.5 840.5 124.7 840.0 122.9 839.5 124.7 839.0 124.9 838.5 124.1 838.0 125.0 837.5 125.0 837.0 124.0 836.5 123.4 836.0 123.8 835.5 118.2 835.0 115.8 834.5 116.8 834.0 112.8 833.5 113.4 833.0 110.6 832.5 106.8 832.0 112.6 831.5 106.9 831.0 104.4 830.5 103.6 830.0 104.6 829.5 98.8 829.0 99.9 828.5 95.1 828.0 95.2 827.5 94.8 827.0 96.8 826.5 92.3 826.0 48.9 825.5 48.9 825.0 45.9 824.5 46.4 824.0 53.2 823.5 51.8 Z" fill="#988ED5" fill-opacity="0.55" stroke="none"/>
<path d="M823.5 36.6 824.0 46.9 824.5 30.0 825.0 44.9 825.5 27.5 826.0 40.8 826.5 50.8 827.0 93.7 827.5 81.6 828.0 93.2 828.5 86.1 829.0 98.3 829.5 87.2 830.0 104.4 830.5 90.7 831.0 99.8 831.5 96.0 832.0 107.7 832.5 96.8 833.0 109.4 833.5 101.8 834.0 109.3 834.5 105.1 835.0 113.7 835.5 108.5 836.0 121.4 836.5 113.8 837.0 120.9 837.5 114.9 838.0 119.9 838.5 111.7 839.0 122.4 839.5 114.9 840.0 121.6 840.5 112.8 841.0 121.8 841.5 116.6 842.0 123.9 842.5 118.2 843.0 123.1 843.5 115.7 844.0 123.3 844.5 116.2 845.0 122.5 845.5 114.5 846.0 125.3 846.5 113.2 847.0 124.4 847.5 114.8 848.0 121.2 848.5 119.0 849.0 123.8 849.5 117.8 850.0 125.4 850.5 115.1 851.0 124.0 851.5 116.3 852.0 125.5 852.5 119.3 853.0 124.0 853.5 116.4 854.0 124.6 854.5 119.1 855.0 125.2 855.5 116.1 856.0 126.1 856.5 119.4 857.0 129.3 857.5 121.7 858.0 127.3 858.5 114.6 859.0 133.2 859.5 118.6 860.0 129.5 860.5 118.6 861.0 130.2 861.5 121.4 862.0 133.0 862.5 122.3 863.0 136.1 863.5 109.2 864.0 127.9 864.5 110.6 865.0 129.6 865.5 112.4 866.0 133.7 866.5 111.6 867.0 135.4 867.5 116.8 868.0 127.4 868.5 108.5 869.0 129.6 869.5 111.0 870.0 126.9 870.5 110.3 871.0 124.9 871.5 104.4 872.0 127.6 872.5 113.2 873.0 127.9 873.5 114.0 874.0 125.6 874.5 108.2 875.0 134.5 875.5 113.2 876.0 124.6 876.5 118.8 877.0 132.9 877.5 114.6 878.0 126.3 878.5 114.2 879.0 129.1 879.5 111.1 880.0 125.6 880.5 111.5 881.0 127.0 881.5 111.6 882.0 127.4 882.5 110.5 883.0 127.6 883.5 110.8 884.0 125.5 884.5 112.5 885.0 126.5 885.5 108.2 886.0 123.7 886.5 105.6 887.0 126.4 887.5 108.8 888.0 126.2 888.5 109.6 889.0 124.2 889.5 104.7 890.0 119.8 890.5 105.3 891.0 120.4 891.5 106.9 892.0 126.2 892.5 105.6 893.0 122.0 893.5 106.7 894.0 127.2 894.5 98.2 895.0 120.2 895.5 101.4 896.0 121.0 896.5 111.1 897.0 123.9 897.5 106.9 898.0 122.2 898.5 105.4 899.0 120.8 899.5 108.4 900.0 121.3 900.5 111.0 901.0 129.2 901.5 114.8 902.0 127.9 902.5 112.3 903.0 129.7 903.5 113.3 904.0 129.2 904.5 109.2 905.0 124.0 905.5 110.1 906.0 126.0 906.5 109.4 907.0 125.0 907.5 105.8 908.0 127.1 908.5 110.4 909.0 128.8 909.5 112.7 910.0 132.9 910.5 106.0 911.0 123.0 911.5 109.9 912.0 119.1 912.5 103.6 913.0 123.1 913.5 110.9 914.0 122.7 914.5 109.3 915.0 118.3 915.5 113.9 916.0 125.5 916.5 110.3 917.0 124.8 917.5 106.3 918.0 126.5 918.5 114.3 919.0 126.0 919.5 111.2 920.0 132.2 920.5 115.1 921.0 132.7 921.5 118.5 922.0 132.7 922.5 119.5 923.0 132.2 923.5 116.7 924.0 132.8 924.5 112.0 925.0 136.0 925.5 115.3 926.0 132.0 926.5 121.5 927.0 132.8 927.5 121.4 928.0 133.1 928.5 116.6 929.0 129.3 929.5 113.6 930.0 129.6 930.5 117.8 931.0 126.9 931.5 111.9 932.0 133.4 932.5 107.4 933.0 129.4 933.5 109.0 934.0 125.2 934.5 108.8 935.0 133.1 935.5 112.4 936.0 127.3 936.5 115.5 937.0 130.0 937.5 113.3 938.0 125.2 938.5 111.9 939.0 125.9 939.5 108.6 940.0 124.2 940.5 106.8 941.0 122.3 941.5 108.3 942.0 129.8 942.5 112.5 943.0 130.3 943.5 112.5 944.0 130.4 944.5 117.3 945.0 127.3 945.5 120.1 946.0 135.7 946.5 118.7 947.0 126.8 947.5 121.5 948.0 131.5 948.5 115.3 949.0 133.6 949.5 119.2 950.0 134.3 950.5 111.7 951.0 127.6 951.5 121.5 952.0 128.8 952.5 120.7 953.0 132.8 953.5 116.7 954.0 132.5 954.5 118.3 955.0 130.9 955.5 119.2 956.0 134.4 956.5 117.4 957.0 130.1 957.5 123.1 958.0 133.9 958.5 117.6 959.0 128.4 959.5 120.7 960.0 134.9 960.5 114.1 961.0 132.0 961.5 118.8 962.0 134.2 962.5 121.4 963.0 131.3 963.5 117.9 964.0 128.4 964.5 115.9 965.0 132.1 965.5 111.4 966.0 127.8 966.5 109.8 967.0 132.4 967.5 119.1 968.0 124.0 968.5 112.9 969.0 128.8 969.5 119.0 970.0 131.0 970.5 112.9 971.0 134.5 971.5 113.1 972.0 128.0 972.5 117.6 973.0 130.2 973.5 109.8 974.0 129.4 974.5 106.5 975.0 125.7 975.5 116.3 976.0 132.6 976.5 120.8 977.0 130.3 977.5 114.8 978.0 134.3 978.5 116.9 979.0 132.9 979.5 112.1 980.0 130.9 980.5 111.8 981.0 129.6 981.5 119.0 982.0 133.8 982.5 116.9 983.0 133.7 983.5 119.4 984.0 134.6 984.5 120.6 985.0 131.8 985.5 118.8 986.0 134.7 986.5 118.2 987.0 131.8 987.5 116.7 988.0 129.7 988.5 119.9 989.0 130.8 989.5 118.9 990.0 136.7 990.5 117.9 991.0 129.1 991.5 115.9 992.0 131.9 992.5 110.7 993.0 132.5 993.5 115.5 994.0 132.5 994.5 117.2 995.0 124.4 995.5 117.3 996.0 122.6 996.5 110.0 997.0 119.7 997.5 106.8 998.0 126.0 998.5 109.6 999.0 123.1 999.5 108.6 1000.0 124.1 1000.5 107.4 1001.0 126.0 1001.5 108.1 1002.0 123.9 1002.5 109.1 1003.0 120.9 1003.5 105.7 1004.0 125.3 1004.5 113.7 1005.0 127.4 1005.5 107.3 1006.0 132.9 1006.5 112.7 1007.0 129.4 1007.5 112.4 1008.0 128.7 1008.5 114.7 1009.0 126.5 1009.5 114.0 1010.0 129.5 1010.5 118.0 1011.0 126.1 1011.5 118.0 1012.0 123.1 1012.5 116.4 1013.0 132.1 1013.5 112.1 1014.0 133.1 1014.5 111.6 1015.0 133.9 1015.5 112.4 1016.0 126.1 1016.5 110.5 1017.0 130.7 1017.5 114.4 1018.0 125.4 1018.5 113.8 1019.0 127.9 1019.5 113.6 1020.0 123.2 1020.5 110.2 1021.0 124.5 1021.5 118.1 1022.0 123.1 1022.5 112.8 1023.0 121.0 1023.5 116.4 1024.0 128.9 1024.5 117.8 1025.0 129.3 1025.5 111.3 1026.0 126.7 1026.5 108.7 1027.0 123.3 1027.5 116.4 1028.0 137.1 1028.5 113.2 1029.0 128.6 1029.5 115.2 1030.0 129.1 1030.5 117.5 1031.0 128.6 1031.5 117.9 1032.0 126.9 1032.5 118.1 1033.0 129.8 1033.5 111.8 1034.0 123.8 1034.5 112.2 1035.0 123.3 1035.5 113.3 1036.0 125.3 1036.5 105.3 1037.0 126.0 1037.5 104.2 1038.0 126.4 1038.5 113.8 1039.0 119.6 1039.5 104.2 1040.0 122.6 1040.5 113.5 1041.0 125.2 1041.5 103.8 1042.0 124.2 1042.5 107.9 1043.0 124.8 1043.5 111.9 1044.0 119.3 1044.5 110.2 1045.0 127.8 1045.5 113.7 1046.0 126.6 1046.5 107.1 1047.0 126.7 1047.5 108.4 1048.0 128.0 1048.5 110.8 1049.0 127.6 1049.5 110.1 1050.0 131.0 1050.5 120.6 1051.0 130.9 1051.5 117.2 1052.0 127.3 1052.5 114.5 1053.0 133.2 1053.5 113.4 1054.0 126.6 1054.5 114.5 1055.0 126.8 1055.5 107.6 1056.0 120.9 1056.5 113.7 1057.0 126.1 1057.5 114.0 1058.0 133.2 1058.5 116.3 1059.0 125.8 1059.5 110.5 1060.0 128.2 1060.5 110.8 1061.0 118.8 1061.5 109.8 1062.0 128.5 1062.5 111.4 1063.0 123.2 1063.5 109.4 1064.0 122.2 1064.5 109.1 1065.0 126.7 1065.5 114.4 1066.0 134.5 1066.5 112.1 1067.0 132.7 1067.5 108.9 1068.0 131.1 1068.5 110.9 1069.0 128.3 1069.5 111.3 1070.0 126.6 1070.5 111.4 1071.0 122.2 1071.5 109.9 1072.0 119.7 1072.5 108.8 1073.0 129.1 1073.5 109.2 1074.0 123.9 1074.5 109.1 1075.0 129.5 1075.5 112.9 1076.0 131.4 1076.5 107.6 1077.0 123.6 1077.5 104.6 1078.0 121.0 1078.5 113.0 1079.0 121.7 1079.5 111.4 1080.0 126.2 1080.5 106.6 1081.0 125.6 1081.5 112.1 1082.0 124.0 1082.5 113.6 1083.0 127.0 1083.5 116.3 1084.0 124.9 1084.5 119.0 1085.0 133.5 1085.5 112.4 1086.0 127.3 1086.5 114.4 1087.0 134.1 1087.5 112.3 1088.0 131.5 1088.5 116.2 1089.0 128.5 1089.5 112.0 1090.0 127.2 1090.5 115.1 1091.0 122.2 1091.5 113.7 1092.0 123.3 1092.5 119.1 1093.0 128.7 1093.5 113.8 1094.0 125.0 1094.5 117.1 1095.0 130.3 1095.5 114.5 1096.0 128.3 1096.5 114.0 1097.0 124.8 1097.5 110.4 1098.0 123.3 1098.5 112.8 1099.0 130.5 1099.5 115.4 1100.0 125.2 1100.5 104.5 1101.0 127.9 1101.5 115.8 1102.0 127.9 1102.5 106.9 1103.0 131.2 1103.5 111.4 1104.0 128.1 1104.5 111.4 1105.0 123.0 1105.5 113.3 1106.0 125.2 1106.5 105.2 1107.0 125.2 1107.5 113.6 1108.0 128.4 1108.5 116.7 1109.0 120.4 1109.5 109.3 1110.0 119.7 1110.5 112.5 1111.0 126.1 1111.5 106.5 1112.0 125.4 1112.5 109.6 1113.0 128.9 1113.5 113.7 1114.0 126.7 1114.5 110.4 1115.0 124.4 1115.5 110.6 1116.0 120.4 1116.5 113.8 1117.0 128.5 1117.5 110.9 1118.0 130.6 1118.5 107.1 1119.0 128.7 1119.5 109.2 1120.0 120.1 1120.5 108.0 1121.0 127.0 1121.5 110.2 1122.0 127.9 1122.5 108.6 1123.0 123.9 1123.5 115.8 1124.0 126.4 1124.5 117.5 1125.0 126.3 1125.5 111.2 1126.0 128.4 1126.5 106.6 1127.0 125.8 1127.5 112.8 1128.0 127.1 1128.5 112.7 1129.0 131.7 1129.5 116.3 1130.0 131.9 1130.5 109.2 1131.0 123.0 1131.5 114.7 1132.0 126.1 1132.5 114.4 1133.0 123.4 1133.5 112.3 1134.0 129.0 1134.5 109.6 1135.0 126.2 1135.5 105.5 1136.0 127.0 1136.5 102.8 1137.0 123.9 1137.5 107.6 1138.0 130.3 1138.5 106.4 1139.0 128.7 1139.5 111.6 1140.0 130.5 1140.5 108.9 1141.0 131.3 1141.5 108.2 1142.0 129.2 1142.5 109.5 1143.0 120.5 1143.5 108.6 1144.0 124.7 1144.5 113.3 1145.0 129.0 1145.5 110.1 1146.0 128.8 1146.5 117.5 1147.0 127.6 1147.5 116.1 1148.0 132.4 1148.5 117.0 1149.0 131.4 1149.5 109.8 1150.0 128.5 1150.5 114.3 1151.0 134.5 1151.5 111.7 1152.0 130.5 1152.5 121.6 1153.0 136.1 1153.5 116.4 1154.0 134.9 1154.5 111.3 1155.0 134.9 1155.5 119.2 1156.0 131.6 1156.5 119.8 1157.0 133.6 1157.5 122.0 1158.0 128.4 1158.5 111.7 1159.0 132.0 1159.5 116.9 1160.0 130.0 1160.5 116.9 1161.0 129.6 1161.5 115.3 1162.0 130.4 1162.5 112.7 1163.0 134.4 1163.5 111.7 1164.0 130.8 1164.5 108.6 1165.0 130.1 1165.5 107.7 1166.0 127.1 1166.5 107.5 1167.0 133.7 1167.5 112.8 1168.0 128.3 1168.5 112.7 1169.0 126.0 1169.5 113.6 1170.0 133.9 1170.5 113.8 1171.0 129.3 1171.5 114.2 1172.0 136.7 1172.5 119.8 1173.0 127.9 1173.5 116.7 1174.0 129.6 1174.5 116.2 1175.0 127.6 1175.5 116.0 1176.0 131.3 1176.5 116.8 1177.0 134.5 1177.5 118.1 1178.0 131.0 1178.5 119.6 1179.0 131.0 1179.5 121.3 1180.0 137.8 1180.5 124.6 1181.0 135.0 1181.5 117.4 1182.0 136.9 1182.5 117.1 1183.0 130.0 1183.5 118.9 1184.0 131.3 1184.5 119.3 1185.0 137.0 1185.5 117.3 1186.0 132.7 1186.5 117.6 1187.0 129.7 1187.5 112.9 1188.0 130.6 1188.5 110.1 1189.0 129.2 1189.5 107.6 1190.0 126.3 1190.5 118.2 1191.0 130.1 1191.5 114.0 1192.0 130.5 1192.5 109.1 1193.0 124.1 1193.5 103.3 1194.0 123.7 1194.5 112.5 1195.0 123.8 1195.5 110.8 1196.0 130.9 1196.5 112.9 1197.0 131.9 1197.5 104.6 1198.0 128.9 1198.5 108.5 1199.0 123.8 1199.5 114.9 1200.0 126.9 1200.5 116.4 1201.0 123.8 1201.5 111.3 1202.0 130.9 1202.5 112.9 1203.0 125.4 1203.5 111.8 1204.0 125.0 1204.5 113.8 1205.0 130.0 1205.5 116.6 1206.0 135.3 1206.5 117.8 1207.0 129.1 1207.5 109.1 1208.0 126.1 1208.5 111.8 1209.0 131.1 1209.5 110.1 1210.0 124.1 1210.5 109.0 1211.0 127.8 1211.5 107.1 1212.0 122.5 1212.5 104.8 1213.0 125.6 1213.5 113.2 1214.0 130.4 1214.5 107.0 1215.0 123.0 1215.5 104.8 1216.0 126.4 1216.5 108.1 1217.0 126.4 1217.5 110.4 1218.0 123.0 1218.5 108.1 1219.0 121.6 1219.5 108.4 1220.0 124.8 1220.5 115.7 1221.0 122.9 1221.5 104.7 1222.0 127.6 1222.5 110.3 1223.0 133.6 1223.5 116.3 1224.0 128.0 1224.5 122.1 1225.0 135.7 1225.5 110.6 1226.0 125.6 1226.5 112.3 1227.0 132.5 1227.5 116.7 1228.0 132.1 1228.5 118.1 1229.0 129.1 1229.5 116.4 1230.0 133.5 1230.5 111.6 1231.0 132.0 1231.5 115.5 1232.0 127.2 1232.5 117.0 1233.0 129.9 1233.5 113.9 1234.0 135.0 1234.5 117.5 1235.0 135.4 1235.5 122.1 1236.0 132.2 1236.5 118.2 1237.0 127.6 1237.5 113.1 1238.0 134.7 1238.5 117.9 1239.0 129.6 1239.5 115.8 1240.0 134.2 1240.5 115.2 1241.0 127.6 1241.5 117.5 1242.0 128.5 1242.5 120.3 1243.0 132.8 1243.5 113.2 1244.0 133.7 1244.5 116.9 1245.0 131.0 1245.5 114.0 1246.0 128.1 1246.5 115.8 1247.0 129.6 1247.5 115.1 1248.0 132.1 1248.5 118.1 1249.0 126.4 1249.5 107.7 1250.0 132.7 1250.5 112.8 1251.0 130.4 1251.5 115.6 1252.0 126.8 1252.5 113.9 1253.0 131.4 1253.5 115.8 1254.0 136.4 1254.5 115.4 1255.0 132.9 1255.5 124.4 1256.0 134.6 1256.5 116.8 1257.0 138.2 1257.5 115.2 1258.0 132.6 1258.5 119.2 1259.0 131.4 1259.5 111.6 1260.0 130.1 1260.5 115.2 1261.0 133.1 1261.5 115.4 1262.0 134.0 1262.5 122.6 1263.0 133.4 1263.5 120.7 1264.0 132.1 1264.5 120.3 1265.0 133.5 1265.5 119.3 1266.0 129.9 1266.5 112.1 1267.0 127.2 1267.5 115.7 1268.0 128.0 1268.5 110.8 1269.0 130.7 1269.5 111.7 1270.0 131.6 1270.5 117.1 1271.0 131.2 1271.5 115.5 1272.0 126.8 1272.5 117.8 1273.0 126.2 1273.5 115.5 1274.0 133.8 1274.5 115.3 1275.0 134.6 1275.5 116.7 1276.0 129.4 1276.5 117.4 1277.0 134.7 1277.5 115.4 1278.0 130.7 1278.5 121.6 1279.0 130.0 1279.5 119.2 1280.0 130.9 1280.5 120.1 1281.0 127.6 1281.5 121.7 1282.0 130.7 1282.5 120.9 1283.0 129.3 1283.5 124.9 1284.0 136.9 1284.5 120.3 1285.0 131.3 1285.5 119.6 1286.0 127.6 1286.5 116.2 1287.0 132.0 1287.5 117.0 1288.0 128.6 1288.5 117.4 1289.0 131.8 1289.5 106.5 1290.0 127.1 1290.5 115.4 1291.0 126.6 1291.5 117.8 1292.0 130.1 1292.5 117.3 1293.0 132.4 1293.5 116.1 1294.0 128.6 1294.5 114.4 1295.0 128.6 1295.5 117.4 1296.0 129.6 1296.5 116.2 1297.0 128.6 1297.5 117.0 1298.0 135.0 1298.5 119.3 1299.0 134.7 1299.5 116.3 1300.0 134.0 1300.5 118.0 1301.0 133.7 1301.5 115.5 1302.0 130.5 1302.5 120.6 1303.0 133.5 1303.5 120.7 1304.0 131.2 1304.5 114.3 1305.0 129.8 1305.5 115.6 1306.0 128.5 1306.5 118.0 1307.0 131.1 1307.5 120.6 1308.0 125.9 1308.5 115.4 1309.0 127.8 1309.5 119.1 1310.0 128.0 1310.5 119.7 1311.0 127.7 1311.5 119.5 1312.0 129.2 1312.5 117.4 1313.0 129.8 1313.5 119.6 1314.0 129.3 1314.5 116.6 1315.0 132.4 1315.5 122.4 1316.0 131.2 1316.5 120.9 1317.0 132.2 1317.5 123.8 1318.0 132.9 1318.5 125.0 1319.0 132.0 1319.5 121.9 1320.0 132.2 1320.5 120.9 1321.0 131.9 1321.5 117.8 1322.0 133.7 1322.5 123.0 1323.0 132.3 1323.5 121.7" fill="none" stroke="#988ED5" stroke-width="0.90" stroke-linejoin="round"/>
<polyline points="825.2,33.8 826.0,18.7 826.6,33.8" fill="none" stroke="#988ED5" stroke-width="1"/>
<polyline points="824.2,34.0 825.0,33.6 825.6,34.0" fill="none" stroke="#988ED5" stroke-width="1"/>
<path d="M823.5 123.9 824.0 117.8 824.5 116.6 825.0 124.3 825.5 124.9 826.0 125.1 826.5 123.9 827.0 127.2 827.5 124.7 828.0 123.3 828.5 126.0 829.0 123.4 829.5 118.1 830.0 124.4 830.5 122.1 831.0 122.3 831.5 125.0 832.0 123.7 832.5 122.3 833.0 125.4 833.5 126.0 834.0 124.4 834.5 125.1 835.0 126.0 835.5 124.9 836.0 126.3 836.5 130.1 837.0 129.2 837.5 125.7 838.0 124.2 838.5 124.9 839.0 119.5 839.5 123.4 840.0 129.4 840.5 128.2 841.0 124.8 841.5 122.2 842.0 126.5 842.5 127.5 843.0 126.7 843.5 124.4 844.0 126.5 844.5 127.5 845.0 126.4 845.5 124.1 846.0 125.7 846.5 125.2 847.0 127.1 847.5 126.2 848.0 129.2 848.5 130.9 849.0 122.0 849.5 121.7 850.0 128.5 850.5 129.4 851.0 129.6 851.5 128.7 852.0 129.3 852.5 129.8 853.0 129.6 853.5 133.6 854.0 131.4 854.5 132.3 855.0 132.5 855.5 130.6 856.0 131.2 856.5 133.0 857.0 133.9 857.5 135.6 858.0 132.4 858.5 116.3 859.0 117.8 859.5 118.8 860.0 122.7 860.5 119.0 861.0 116.3 861.5 120.4 862.0 117.7 862.5 121.9 863.0 118.9 863.5 108.0 864.0 113.3 864.5 119.2 865.0 122.3 865.5 122.2 866.0 120.8 866.5 123.8 867.0 124.0 867.5 118.4 868.0 117.5 868.5 118.6 869.0 122.5 869.5 122.5 870.0 122.9 870.5 121.6 871.0 118.1 871.5 121.6 872.0 123.4 872.5 118.4 873.0 117.8 873.5 121.4 874.0 113.6 874.5 121.9 875.0 121.2 875.5 116.3 876.0 115.9 876.5 117.6 877.0 117.7 877.5 119.8 878.0 114.0 878.5 117.2 879.0 115.4 879.5 115.7 880.0 118.1 880.5 117.3 881.0 118.1 881.5 116.5 882.0 119.9 882.5 116.7 883.0 119.7 883.5 116.2 884.0 117.2 884.5 117.7 885.0 115.8 885.5 118.2 886.0 115.4 886.5 119.5 887.0 115.5 887.5 115.0 888.0 116.2 888.5 119.8 889.0 116.4 889.5 115.8 890.0 114.3 890.5 117.5 891.0 118.2 891.5 120.6 892.0 116.1 892.5 118.6 893.0 118.0 893.5 123.2 894.0 120.3 894.5 114.4 895.0 114.4 895.5 120.0 896.0 123.4 896.5 117.0 897.0 120.3 897.5 119.5 898.0 121.6 898.5 122.8 899.0 118.4 899.5 121.7 900.0 117.2 900.5 119.2 901.0 121.3 901.5 123.1 902.0 122.6 902.5 117.4 903.0 118.9 903.5 117.7 904.0 120.2 904.5 118.8 905.0 121.6 905.5 111.7 906.0 116.7 906.5 120.2 907.0 118.3 907.5 120.7 908.0 114.4 908.5 117.1 909.0 116.6 909.5 116.8 910.0 115.4 910.5 120.6 911.0 120.0 911.5 123.0 912.0 119.4 912.5 122.9 913.0 118.2 913.5 122.9 914.0 122.1 914.5 119.1 915.0 123.2 915.5 122.2 916.0 121.9 916.5 122.4 917.0 118.2 917.5 122.1 918.0 120.7 918.5 117.1 919.0 118.8 919.5 122.1 920.0 116.7 920.5 115.6 921.0 122.0 921.5 116.6 922.0 116.4 922.5 116.6 923.0 116.0 923.5 115.1 924.0 113.1 924.5 114.3 925.0 117.8 925.5 117.5 926.0 116.1 926.5 113.4 927.0 114.0 927.5 116.5 928.0 117.0 928.5 117.1 929.0 114.1 929.5 116.5 930.0 113.7 930.5 118.4 931.0 118.2 931.5 113.4 932.0 116.2 932.5 117.5 933.0 114.1 933.5 115.2 934.0 111.4 934.5 106.8 935.0 113.4 935.5 112.8 936.0 113.3 936.5 107.4 937.0 117.9 937.5 117.0 938.0 114.3 938.5 109.1 939.0 116.7 939.5 115.4 940.0 113.7 940.5 115.2 941.0 117.3 941.5 108.8 942.0 115.1 942.5 114.2 943.0 118.6 943.5 114.2 944.0 111.8 944.5 113.3 945.0 112.3 945.5 114.8 946.0 113.1 946.5 115.9 947.0 113.2 947.5 116.0 948.0 114.3 948.5 114.3 949.0 115.8 949.5 114.9 950.0 116.4 950.5 117.2 951.0 115.0 951.5 115.3 952.0 112.3 952.5 118.9 953.0 117.7 953.5 118.8 954.0 117.2 954.5 121.0 955.0 113.9 955.5 118.7 956.0 119.7 956.5 118.7 957.0 114.7 957.5 116.2 958.0 115.7 958.5 116.9 959.0 117.8 959.5 119.5 960.0 118.6 960.5 118.5 961.0 116.8 961.5 114.6 962.0 120.4 962.5 119.6 963.0 115.7 963.5 115.7 964.0 111.9 964.5 110.9 965.0 115.1 965.5 111.0 966.0 112.9 966.5 112.4 967.0 111.1 967.5 113.2 968.0 111.5 968.5 114.4 969.0 115.9 969.5 114.5 970.0 117.3 970.5 115.4 971.0 115.4 971.5 110.8 972.0 111.8 972.5 114.0 973.0 115.0 973.5 116.4 974.0 114.8 974.5 116.2 975.0 117.5 975.5 115.7 976.0 118.2 976.5 118.6 977.0 115.0 977.5 116.7 978.0 118.3 978.5 118.4 979.0 121.5 979.5 118.4 980.0 120.8 980.5 124.3 981.0 121.9 981.5 120.9 982.0 118.0 982.5 123.4 983.0 119.6 983.5 122.4 984.0 121.1 984.5 122.9 985.0 121.1 985.5 123.7 986.0 119.8 986.5 118.5 987.0 120.3 987.5 120.7 988.0 121.5 988.5 119.3 989.0 120.3 989.5 123.7 990.0 119.7 990.5 118.6 991.0 115.9 991.5 121.1 992.0 121.3 992.5 122.9 993.0 111.6 993.5 116.4 994.0 120.5 994.5 116.8 995.0 118.6 995.5 114.9 996.0 115.0 996.5 118.5 997.0 118.7 997.5 118.8 998.0 113.9 998.5 116.9 999.0 116.3 999.5 116.5 1000.0 115.3 1000.5 118.3 1001.0 114.7 1001.5 119.3 1002.0 117.0 1002.5 117.7 1003.0 118.4 1003.5 114.5 1004.0 115.6 1004.5 112.1 1005.0 116.5 1005.5 118.4 1006.0 117.0 1006.5 115.2 1007.0 117.1 1007.5 115.9 1008.0 116.4 1008.5 116.8 1009.0 119.9 1009.5 119.9 1010.0 116.0 1010.5 117.9 1011.0 116.7 1011.5 115.7 1012.0 117.4 1012.5 113.2 1013.0 111.7 1013.5 117.8 1014.0 115.4 1014.5 107.6 1015.0 115.4 1015.5 115.4 1016.0 121.0 1016.5 117.3 1017.0 115.8 1017.5 110.1 1018.0 120.6 1018.5 112.5 1019.0 114.1 1019.5 118.3 1020.0 113.5 1020.5 116.3 1021.0 116.4 1021.5 120.5 1022.0 119.6 1022.5 118.1 1023.0 122.0 1023.5 115.3 1024.0 123.6 1024.5 124.6 1025.0 126.2 1025.5 121.5 1026.0 116.1 1026.5 121.6 1027.0 120.0 1027.5 122.5 1028.0 120.1 1028.5 118.0 1029.0 123.1 1029.5 120.2 1030.0 121.4 1030.5 120.3 1031.0 120.5 1031.5 124.7 1032.0 115.8 1032.5 125.6 1033.0 122.7 1033.5 122.5 1034.0 121.5 1034.5 121.2 1035.0 120.7 1035.5 118.7 1036.0 116.7 1036.5 119.9 1037.0 118.6 1037.5 118.8 1038.0 119.2 1038.5 119.3 1039.0 122.8 1039.5 118.9 1040.0 120.0 1040.5 118.8 1041.0 117.6 1041.5 115.1 1042.0 120.2 1042.5 120.7 1043.0 119.8 1043.5 116.6 1044.0 119.9 1044.5 115.6 1045.0 117.3 1045.5 115.4 1046.0 116.2 1046.5 119.3 1047.0 120.2 1047.5 121.3 1048.0 111.3 1048.5 120.1 1049.0 121.3 1049.5 120.7 1050.0 116.5 1050.5 118.2 1051.0 119.1 1051.5 123.2 1052.0 119.8 1052.5 121.3 1053.0 118.8 1053.5 119.8 1054.0 119.7 1054.5 119.1 1055.0 123.5 1055.5 123.8 1056.0 118.4 1056.5 118.9 1057.0 119.3 1057.5 118.3 1058.0 121.7 1058.5 120.2 1059.0 115.7 1059.5 117.5 1060.0 116.2 1060.5 111.6 1061.0 115.8 1061.5 116.5 1062.0 117.6 1062.5 116.4 1063.0 119.5 1063.5 112.6 1064.0 115.7 1064.5 118.2 1065.0 117.0 1065.5 118.1 1066.0 120.0 1066.5 116.7 1067.0 117.9 1067.5 117.3 1068.0 120.5 1068.5 118.0 1069.0 117.7 1069.5 118.6 1070.0 118.9 1070.5 121.5 1071.0 123.8 1071.5 122.7 1072.0 122.9 1072.5 121.0 1073.0 118.7 1073.5 122.8 1074.0 123.8 1074.5 122.2 1075.0 124.1 1075.5 124.6 1076.0 120.3 1076.5 117.7 1077.0 123.0 1077.5 120.7 1078.0 119.2 1078.5 108.6 1079.0 116.8 1079.5 120.4 1080.0 123.4 1080.5 122.2 1081.0 119.5 1081.5 123.7 1082.0 119.8 1082.5 119.0 1083.0 121.3 1083.5 118.1 1084.0 118.0 1084.5 123.4 1085.0 122.0 1085.5 118.8 1086.0 119.7 1086.5 119.3 1087.0 121.5 1087.5 120.8 1088.0 117.8 1088.5 138.4 1089.0 138.0 1089.5 136.9 1090.0 135.8 1090.5 140.2 1091.0 138.3 1091.5 140.1 1092.0 144.4 1092.5 144.8 1093.0 146.6 1093.5 145.8 1094.0 144.8 1094.5 145.2 1095.0 147.1 1095.5 145.8 1096.0 148.3 1096.5 146.5 1097.0 149.3 1097.5 147.1 1098.0 145.7 1098.5 145.2 1099.0 147.6 1099.5 146.1 1100.0 146.9 1100.5 147.3 1101.0 146.9 1101.5 146.3 1102.0 146.7 1102.5 143.5 1103.0 148.4 1103.5 145.5 1104.0 146.1 1104.5 146.0 1105.0 143.9 1105.5 146.7 1106.0 143.0 1106.5 139.9 1107.0 142.8 1107.5 142.3 1108.0 145.5 1108.5 141.8 1109.0 142.1 1109.5 140.1 1110.0 143.8 1110.5 143.9 1111.0 147.3 1111.5 143.9 1112.0 143.8 1112.5 143.1 1113.0 146.0 1113.5 144.2 1114.0 148.4 1114.5 148.4 1115.0 149.9 1115.5 148.8 1116.0 147.9 1116.5 149.1 1117.0 147.4 1117.5 148.8 1118.0 146.9 1118.5 148.8 1119.0 146.1 1119.5 147.2 1120.0 148.3 1120.5 148.6 1121.0 152.8 1121.5 148.3 1122.0 150.1 1122.5 145.7 1123.0 146.9 1123.5 145.3 1124.0 148.1 1124.5 147.1 1125.0 144.6 1125.5 142.1 1126.0 145.7 1126.5 142.5 1127.0 143.1 1127.5 146.2 1128.0 147.8 1128.5 146.0 1129.0 148.1 1129.5 145.5 1130.0 145.7 1130.5 147.5 1131.0 144.8 1131.5 143.9 1132.0 145.6 1132.5 144.9 1133.0 148.5 1133.5 146.8 1134.0 145.0 1134.5 149.0 1135.0 148.0 1135.5 147.3 1136.0 148.8 1136.5 149.9 1137.0 148.8 1137.5 153.0 1138.0 150.2 1138.5 161.3 1139.0 161.1 1139.5 158.9 1140.0 159.3 1140.5 159.6 1141.0 158.5 1141.5 158.5 1142.0 159.5 1142.5 156.7 1143.0 157.2 1143.5 157.2 1144.0 159.0 1144.5 158.4 1145.0 157.3 1145.5 156.2 1146.0 155.7 1146.5 154.8 1147.0 154.8 1147.5 154.6 1148.0 156.1 1148.5 154.8 1149.0 156.4 1149.5 154.3 1150.0 155.1 1150.5 154.2 1151.0 155.0 1151.5 153.5 1152.0 154.8 1152.5 153.8 1153.0 152.8 1153.5 153.4 1154.0 152.2 1154.5 153.1 1155.0 151.4 1155.5 151.1 1156.0 152.8 1156.5 151.8 1157.0 152.1 1157.5 152.2 1158.0 153.9 1158.5 154.8 1159.0 152.5 1159.5 154.5 1160.0 154.1 1160.5 154.3 1161.0 156.4 1161.5 150.7 1162.0 154.6 1162.5 152.2 1163.0 151.7 1163.5 152.8 1164.0 156.0 1164.5 153.8 1165.0 155.5 1165.5 155.2 1166.0 155.9 1166.5 154.2 1167.0 156.1 1167.5 157.1 1168.0 156.8 1168.5 157.4 1169.0 156.3 1169.5 156.7 1170.0 154.6 1170.5 156.1 1171.0 157.7 1171.5 156.5 1172.0 154.5 1172.5 155.7 1173.0 155.1 1173.5 153.1 1174.0 155.6 1174.5 157.4 1175.0 156.4 1175.5 155.6 1176.0 160.0 1176.5 157.6 1177.0 158.6 1177.5 155.3 1178.0 158.0 1178.5 158.2 1179.0 156.1 1179.5 157.3 1180.0 155.8 1180.5 155.4 1181.0 157.7 1181.5 160.1 1182.0 157.8 1182.5 158.0 1183.0 157.6 1183.5 156.5 1184.0 158.4 1184.5 160.1 1185.0 158.6 1185.5 159.5 1186.0 158.8 1186.5 156.0 1187.0 155.9 1187.5 156.1 1188.0 157.7 1188.5 157.2 1189.0 155.8 1189.5 156.1 1190.0 159.1 1190.5 156.4 1191.0 155.9 1191.5 156.7 1192.0 154.4 1192.5 157.7 1193.0 156.3 1193.5 156.7 1194.0 157.8 1194.5 158.4 1195.0 156.9 1195.5 155.7 1196.0 158.6 1196.5 157.9 1197.0 155.1 1197.5 157.2 1198.0 158.9 1198.5 158.5 1199.0 156.3 1199.5 160.4 1200.0 157.0 1200.5 158.0 1201.0 159.0 1201.5 158.7 1202.0 158.1 1202.5 155.2 1203.0 156.0 1203.5 157.1 1204.0 158.3 1204.5 157.9 1205.0 156.4 1205.5 158.2 1206.0 155.2 1206.5 156.4 1207.0 156.9 1207.5 156.6 1208.0 156.9 1208.5 156.8 1209.0 157.8 1209.5 155.5 1210.0 158.6 1210.5 158.2 1211.0 157.3 1211.5 154.8 1212.0 156.2 1212.5 156.8 1213.0 156.4 1213.5 154.9 1214.0 155.5 1214.5 156.1 1215.0 157.2 1215.5 158.5 1216.0 157.8 1216.5 160.8 1217.0 158.3 1217.5 160.0 1218.0 162.5 1218.5 157.6 1219.0 159.2 1219.5 160.9 1220.0 158.8 1220.5 162.2 1221.0 160.8 1221.5 160.2 1222.0 159.5 1222.5 159.0 1223.0 162.6 1223.5 161.0 1224.0 159.9 1224.5 162.4 1225.0 162.3 1225.5 162.5 1226.0 162.5 1226.5 160.4 1227.0 161.5 1227.5 161.6 1228.0 162.9 1228.5 161.4 1229.0 161.8 1229.5 159.4 1230.0 161.2 1230.5 160.2 1231.0 159.8 1231.5 160.2 1232.0 160.6 1232.5 158.9 1233.0 157.5 1233.5 157.5 1234.0 159.7 1234.5 160.1 1235.0 158.4 1235.5 158.7 1236.0 158.1 1236.5 157.8 1237.0 158.2 1237.5 160.2 1238.0 160.1 1238.5 168.1 1239.0 168.7 1239.5 165.7 1240.0 168.7 1240.5 168.4 1241.0 163.9 1241.5 168.7 1242.0 165.5 1242.5 165.9 1243.0 168.8 1243.5 166.5 1244.0 165.2 1244.5 167.8 1245.0 167.8 1245.5 165.5 1246.0 167.1 1246.5 166.5 1247.0 165.6 1247.5 161.9 1248.0 166.9 1248.5 167.2 1249.0 166.5 1249.5 166.2 1250.0 166.2 1250.5 167.9 1251.0 165.7 1251.5 168.1 1252.0 168.5 1252.5 166.2 1253.0 166.8 1253.5 166.4 1254.0 167.1 1254.5 165.8 1255.0 166.0 1255.5 165.6 1256.0 164.7 1256.5 165.3 1257.0 167.7 1257.5 165.8 1258.0 164.8 1258.5 165.6 1259.0 164.8 1259.5 163.2 1260.0 165.1 1260.5 162.7 1261.0 166.1 1261.5 166.4 1262.0 162.2 1262.5 163.5 1263.0 161.1 1263.5 161.8 1264.0 163.0 1264.5 159.5 1265.0 159.7 1265.5 162.8 1266.0 160.0 1266.5 160.3 1267.0 164.4 1267.5 161.3 1268.0 163.2 1268.5 162.2 1269.0 163.0 1269.5 163.4 1270.0 165.2 1270.5 165.8 1271.0 166.4 1271.5 163.9 1272.0 165.2 1272.5 164.6 1273.0 166.8 1273.5 166.6 1274.0 164.0 1274.5 161.5 1275.0 163.7 1275.5 165.8 1276.0 164.3 1276.5 167.3 1277.0 166.6 1277.5 168.7 1278.0 167.4 1278.5 166.7 1279.0 164.1 1279.5 166.4 1280.0 165.8 1280.5 164.2 1281.0 167.2 1281.5 164.1 1282.0 163.9 1282.5 166.4 1283.0 165.6 1283.5 165.0 1284.0 163.1 1284.5 165.0 1285.0 163.8 1285.5 164.5 1286.0 163.2 1286.5 165.0 1287.0 165.6 1287.5 164.5 1288.0 168.0 1288.5 162.1 1289.0 164.6 1289.5 168.5 1290.0 165.7 1290.5 165.6 1291.0 165.9 1291.5 164.2 1292.0 164.6 1292.5 163.6 1293.0 165.7 1293.5 166.1 1294.0 164.2 1294.5 163.2 1295.0 166.9 1295.5 166.2 1296.0 166.1 1296.5 168.5 1297.0 165.2 1297.5 167.2 1298.0 168.9 1298.5 168.3 1299.0 165.0 1299.5 165.5 1300.0 165.6 1300.5 166.0 1301.0 165.9 1301.5 166.8 1302.0 165.3 1302.5 168.4 1303.0 167.5 1303.5 165.8 1304.0 164.4 1304.5 162.2 1305.0 166.9 1305.5 170.5 1306.0 170.7 1306.5 168.3 1307.0 169.0 1307.5 170.9 1308.0 170.3 1308.5 181.0 1309.0 181.7 1309.5 182.9 1310.0 180.9 1310.5 180.1 1311.0 182.1 1311.5 181.0 1312.0 181.3 1312.5 181.2 1313.0 177.7 1313.5 179.8 1314.0 178.9 1314.5 179.8 1315.0 177.8 1315.5 175.6 1316.0 176.2 1316.5 178.7 1317.0 179.3 1317.5 180.8 1318.0 179.7 1318.5 178.5 1319.0 177.5 1319.5 173.2 1320.0 174.6 1320.5 176.6 1321.0 178.1 1321.5 176.6 1322.0 175.4 1322.5 177.3 1323.0 178.6 1323.5 179.2 L1323.5 189.8 1323.0 188.6 1322.5 187.9 1322.0 189.4 1321.5 190.1 1321.0 189.3 1320.5 188.7 1320.0 188.8 1319.5 190.4 1319.0 189.3 1318.5 187.8 1318.0 191.4 1317.5 195.1 1317.0 189.8 1316.5 189.4 1316.0 188.2 1315.5 189.7 1315.0 189.2 1314.5 188.6 1314.0 191.2 1313.5 189.1 1313.0 190.1 1312.5 188.8 1312.0 191.9 1311.5 189.1 1311.0 194.3 1310.5 192.1 1310.0 192.9 1309.5 192.1 1309.0 192.7 1308.5 192.2 1308.0 187.4 1307.5 183.4 1307.0 183.3 1306.5 180.8 1306.0 184.6 1305.5 179.1 1305.0 180.7 1304.5 178.6 1304.0 181.7 1303.5 180.0 1303.0 179.3 1302.5 181.2 1302.0 179.4 1301.5 180.7 1301.0 177.5 1300.5 176.8 1300.0 178.8 1299.5 176.7 1299.0 178.1 1298.5 178.2 1298.0 183.1 1297.5 178.6 1297.0 178.7 1296.5 180.4 1296.0 178.2 1295.5 179.4 1295.0 176.6 1294.5 176.6 1294.0 175.3 1293.5 178.5 1293.0 179.1 1292.5 177.8 1292.0 176.8 1291.5 179.2 1291.0 180.4 1290.5 179.5 1290.0 180.3 1289.5 179.4 1289.0 178.0 1288.5 180.2 1288.0 179.2 1287.5 177.3 1287.0 178.5 1286.5 180.1 1286.0 177.9 1285.5 178.1 1285.0 177.4 1284.5 181.7 1284.0 175.7 1283.5 176.9 1283.0 175.6 1282.5 178.1 1282.0 176.7 1281.5 176.1 1281.0 177.9 1280.5 175.0 1280.0 177.2 1279.5 176.8 1279.0 177.2 1278.5 180.0 1278.0 177.2 1277.5 178.4 1277.0 180.6 1276.5 178.7 1276.0 179.4 1275.5 179.2 1275.0 178.9 1274.5 179.7 1274.0 178.0 1273.5 177.1 1273.0 183.6 1272.5 178.9 1272.0 175.7 1271.5 176.4 1271.0 177.5 1270.5 178.2 1270.0 177.9 1269.5 178.1 1269.0 176.5 1268.5 180.4 1268.0 175.5 1267.5 176.0 1267.0 173.7 1266.5 173.5 1266.0 170.7 1265.5 171.4 1265.0 174.4 1264.5 172.3 1264.0 174.7 1263.5 174.7 1263.0 175.0 1262.5 177.1 1262.0 177.9 1261.5 177.3 1261.0 176.8 1260.5 176.0 1260.0 175.2 1259.5 180.1 1259.0 178.3 1258.5 176.1 1258.0 175.9 1257.5 177.3 1257.0 176.1 1256.5 180.0 1256.0 175.9 1255.5 178.7 1255.0 180.4 1254.5 179.8 1254.0 180.9 1253.5 181.6 1253.0 179.0 1252.5 184.3 1252.0 180.2 1251.5 180.3 1251.0 181.0 1250.5 178.3 1250.0 178.0 1249.5 180.2 1249.0 176.6 1248.5 178.1 1248.0 178.1 1247.5 177.3 1247.0 180.3 1246.5 179.6 1246.0 177.7 1245.5 178.4 1245.0 179.2 1244.5 181.3 1244.0 179.2 1243.5 177.7 1243.0 183.6 1242.5 181.3 1242.0 179.4 1241.5 181.7 1241.0 180.8 1240.5 180.3 1240.0 179.6 1239.5 181.1 1239.0 180.6 1238.5 178.6 1238.0 169.4 1237.5 171.3 1237.0 169.1 1236.5 171.2 1236.0 169.8 1235.5 169.1 1235.0 170.6 1234.5 172.8 1234.0 168.9 1233.5 169.9 1233.0 169.9 1232.5 172.5 1232.0 171.4 1231.5 172.1 1231.0 169.3 1230.5 171.6 1230.0 171.3 1229.5 171.1 1229.0 169.9 1228.5 173.6 1228.0 171.2 1227.5 171.8 1227.0 171.4 1226.5 172.1 1226.0 173.8 1225.5 173.3 1225.0 174.8 1224.5 171.1 1224.0 172.8 1223.5 173.2 1223.0 172.1 1222.5 172.4 1222.0 172.8 1221.5 171.4 1221.0 173.3 1220.5 172.9 1220.0 169.8 1219.5 172.4 1219.0 172.2 1218.5 174.0 1218.0 172.9 1217.5 172.7 1217.0 171.1 1216.5 172.6 1216.0 170.9 1215.5 169.8 1215.0 167.3 1214.5 172.8 1214.0 166.8 1213.5 165.2 1213.0 166.5 1212.5 168.6 1212.0 167.7 1211.5 166.6 1211.0 166.5 1210.5 168.3 1210.0 169.5 1209.5 166.7 1209.0 169.7 1208.5 170.2 1208.0 169.1 1207.5 168.0 1207.0 171.2 1206.5 166.7 1206.0 168.2 1205.5 169.6 1205.0 170.0 1204.5 167.2 1204.0 169.4 1203.5 168.4 1203.0 169.4 1202.5 169.6 1202.0 169.9 1201.5 169.2 1201.0 170.0 1200.5 170.6 1200.0 168.0 1199.5 171.4 1199.0 168.3 1198.5 169.5 1198.0 167.4 1197.5 168.5 1197.0 167.8 1196.5 169.1 1196.0 169.2 1195.5 167.3 1195.0 166.4 1194.5 169.0 1194.0 169.6 1193.5 170.0 1193.0 167.4 1192.5 167.5 1192.0 168.1 1191.5 168.7 1191.0 168.8 1190.5 168.6 1190.0 170.9 1189.5 168.5 1189.0 166.1 1188.5 167.5 1188.0 167.7 1187.5 169.6 1187.0 167.9 1186.5 168.8 1186.0 170.4 1185.5 168.3 1185.0 171.2 1184.5 170.4 1184.0 168.6 1183.5 169.8 1183.0 169.5 1182.5 167.4 1182.0 168.5 1181.5 170.1 1181.0 169.3 1180.5 168.2 1180.0 166.8 1179.5 167.7 1179.0 168.3 1178.5 169.2 1178.0 168.4 1177.5 166.5 1177.0 168.6 1176.5 168.5 1176.0 169.0 1175.5 167.4 1175.0 168.8 1174.5 168.6 1174.0 166.7 1173.5 165.5 1173.0 167.1 1172.5 164.5 1172.0 167.2 1171.5 167.0 1171.0 169.1 1170.5 168.4 1170.0 168.4 1169.5 166.1 1169.0 165.8 1168.5 166.1 1168.0 168.1 1167.5 168.8 1167.0 167.0 1166.5 171.2 1166.0 167.2 1165.5 166.6 1165.0 168.0 1164.5 166.2 1164.0 163.5 1163.5 163.0 1163.0 165.6 1162.5 166.4 1162.0 165.1 1161.5 165.2 1161.0 167.3 1160.5 167.0 1160.0 168.2 1159.5 167.0 1159.0 170.2 1158.5 165.0 1158.0 163.7 1157.5 164.7 1157.0 165.6 1156.5 165.9 1156.0 164.5 1155.5 165.3 1155.0 163.8 1154.5 163.1 1154.0 165.5 1153.5 165.6 1153.0 166.2 1152.5 162.9 1152.0 167.5 1151.5 167.0 1151.0 167.7 1150.5 166.3 1150.0 167.9 1149.5 165.5 1149.0 167.5 1148.5 167.2 1148.0 168.2 1147.5 167.1 1147.0 164.9 1146.5 164.8 1146.0 165.7 1145.5 165.6 1145.0 166.7 1144.5 168.7 1144.0 166.7 1143.5 168.8 1143.0 170.0 1142.5 169.7 1142.0 171.0 1141.5 169.9 1141.0 170.1 1140.5 170.1 1140.0 169.3 1139.5 170.7 1139.0 171.0 1138.5 170.0 1138.0 161.8 1137.5 166.9 1137.0 162.6 1136.5 165.6 1136.0 162.1 1135.5 164.8 1135.0 163.4 1134.5 163.1 1134.0 160.2 1133.5 161.8 1133.0 161.6 1132.5 163.0 1132.0 160.5 1131.5 161.5 1131.0 159.6 1130.5 158.9 1130.0 159.9 1129.5 158.4 1129.0 158.7 1128.5 162.3 1128.0 161.2 1127.5 160.9 1127.0 159.2 1126.5 159.3 1126.0 159.9 1125.5 156.7 1125.0 160.2 1124.5 159.4 1124.0 161.5 1123.5 160.5 1123.0 160.5 1122.5 165.8 1122.0 163.2 1121.5 165.1 1121.0 166.6 1120.5 162.5 1120.0 168.0 1119.5 165.0 1119.0 162.9 1118.5 162.3 1118.0 163.2 1117.5 163.2 1117.0 161.3 1116.5 161.0 1116.0 160.9 1115.5 161.4 1115.0 165.8 1114.5 163.6 1114.0 164.3 1113.5 164.1 1113.0 163.6 1112.5 159.6 1112.0 161.4 1111.5 160.3 1111.0 160.2 1110.5 161.2 1110.0 159.9 1109.5 161.9 1109.0 157.0 1108.5 155.4 1108.0 158.9 1107.5 155.7 1107.0 158.4 1106.5 158.9 1106.0 157.1 1105.5 161.4 1105.0 161.4 1104.5 160.7 1104.0 159.6 1103.5 159.6 1103.0 159.4 1102.5 158.2 1102.0 161.0 1101.5 157.1 1101.0 160.5 1100.5 161.8 1100.0 160.2 1099.5 163.5 1099.0 162.0 1098.5 159.5 1098.0 160.6 1097.5 162.0 1097.0 165.9 1096.5 161.5 1096.0 160.2 1095.5 161.5 1095.0 161.6 1094.5 156.8 1094.0 158.7 1093.5 159.7 1093.0 157.4 1092.5 157.9 1092.0 155.6 1091.5 154.0 1091.0 158.1 1090.5 155.9 1090.0 152.6 1089.5 155.5 1089.0 154.8 1088.5 154.1 1088.0 135.6 1087.5 135.3 1087.0 137.0 1086.5 135.2 1086.0 142.2 1085.5 139.3 1085.0 139.8 1084.5 146.0 1084.0 136.7 1083.5 138.3 1083.0 138.6 1082.5 139.2 1082.0 137.1 1081.5 147.5 1081.0 139.1 1080.5 137.5 1080.0 140.2 1079.5 137.7 1079.0 138.8 1078.5 139.0 1078.0 142.0 1077.5 143.6 1077.0 148.0 1076.5 142.2 1076.0 143.1 1075.5 141.1 1075.0 138.2 1074.5 141.6 1074.0 137.7 1073.5 137.7 1073.0 138.3 1072.5 138.7 1072.0 138.5 1071.5 141.6 1071.0 141.4 1070.5 138.9 1070.0 134.9 1069.5 137.8 1069.0 138.9 1068.5 138.9 1068.0 135.6 1067.5 132.7 1067.0 136.6 1066.5 134.7 1066.0 135.9 1065.5 139.3 1065.0 135.5 1064.5 136.1 1064.0 133.9 1063.5 136.9 1063.0 138.2 1062.5 138.5 1062.0 136.4 1061.5 137.1 1061.0 137.1 1060.5 138.7 1060.0 133.8 1059.5 135.6 1059.0 137.7 1058.5 137.4 1058.0 135.0 1057.5 138.4 1057.0 136.2 1056.5 136.9 1056.0 134.5 1055.5 141.2 1055.0 136.6 1054.5 138.9 1054.0 141.2 1053.5 139.8 1053.0 138.9 1052.5 139.8 1052.0 139.9 1051.5 137.2 1051.0 139.8 1050.5 137.8 1050.0 138.0 1049.5 138.0 1049.0 139.5 1048.5 136.3 1048.0 136.4 1047.5 139.3 1047.0 138.1 1046.5 137.0 1046.0 136.8 1045.5 136.1 1045.0 136.1 1044.5 137.2 1044.0 131.9 1043.5 134.9 1043.0 140.2 1042.5 135.3 1042.0 134.7 1041.5 134.9 1041.0 134.0 1040.5 133.3 1040.0 136.4 1039.5 134.9 1039.0 137.7 1038.5 139.6 1038.0 134.2 1037.5 138.2 1037.0 137.7 1036.5 135.2 1036.0 133.7 1035.5 134.3 1035.0 138.3 1034.5 142.2 1034.0 141.2 1033.5 142.5 1033.0 140.0 1032.5 142.6 1032.0 140.0 1031.5 138.4 1031.0 142.6 1030.5 137.6 1030.0 137.0 1029.5 138.5 1029.0 140.2 1028.5 139.4 1028.0 141.5 1027.5 138.5 1027.0 138.2 1026.5 138.5 1026.0 142.7 1025.5 142.0 1025.0 140.5 1024.5 139.4 1024.0 137.5 1023.5 139.5 1023.0 139.3 1022.5 139.1 1022.0 133.8 1021.5 136.7 1021.0 136.1 1020.5 136.2 1020.0 136.9 1019.5 133.6 1019.0 133.8 1018.5 132.1 1018.0 136.0 1017.5 138.9 1017.0 136.2 1016.5 135.8 1016.0 133.3 1015.5 136.3 1015.0 134.6 1014.5 134.4 1014.0 133.8 1013.5 130.6 1013.0 131.5 1012.5 130.2 1012.0 130.1 1011.5 131.7 1011.0 131.4 1010.5 134.5 1010.0 136.0 1009.5 133.7 1009.0 136.8 1008.5 136.3 1008.0 138.4 1007.5 132.5 1007.0 132.3 1006.5 136.9 1006.0 136.8 1005.5 136.3 1005.0 132.5 1004.5 131.2 1004.0 132.7 1003.5 136.3 1003.0 134.4 1002.5 132.0 1002.0 136.1 1001.5 136.0 1001.0 131.8 1000.5 132.1 1000.0 132.0 999.5 137.4 999.0 137.1 998.5 136.3 998.0 136.6 997.5 134.7 997.0 132.4 996.5 130.8 996.0 132.6 995.5 134.0 995.0 133.0 994.5 136.8 994.0 132.9 993.5 138.0 993.0 134.6 992.5 140.9 992.0 140.6 991.5 139.6 991.0 138.5 990.5 137.4 990.0 139.9 989.5 136.1 989.0 140.5 988.5 139.3 988.0 138.4 987.5 141.1 987.0 139.3 986.5 138.8 986.0 140.1 985.5 141.6 985.0 138.0 984.5 142.5 984.0 139.8 983.5 140.8 983.0 142.2 982.5 138.6 982.0 141.9 981.5 141.2 981.0 143.2 980.5 136.8 980.0 140.7 979.5 137.5 979.0 137.4 978.5 137.2 978.0 138.5 977.5 137.1 977.0 135.8 976.5 131.7 976.0 134.1 975.5 132.1 975.0 140.3 974.5 133.8 974.0 136.3 973.5 135.2 973.0 133.2 972.5 135.5 972.0 131.7 971.5 138.9 971.0 135.0 970.5 130.4 970.0 134.9 969.5 129.8 969.0 130.2 968.5 128.7 968.0 129.8 967.5 132.6 967.0 128.6 966.5 127.4 966.0 130.6 965.5 130.8 965.0 129.2 964.5 135.3 964.0 134.8 963.5 130.5 963.0 130.6 962.5 135.7 962.0 132.2 961.5 140.9 961.0 134.6 960.5 134.8 960.0 137.3 959.5 133.5 959.0 135.8 958.5 138.7 958.0 134.8 957.5 131.9 957.0 135.5 956.5 133.1 956.0 134.7 955.5 135.0 955.0 134.3 954.5 138.6 954.0 141.4 953.5 135.9 953.0 136.9 952.5 134.5 952.0 133.5 951.5 133.6 951.0 133.9 950.5 134.6 950.0 131.2 949.5 134.1 949.0 134.6 948.5 135.1 948.0 131.0 947.5 134.8 947.0 131.4 946.5 133.2 946.0 130.8 945.5 131.5 945.0 134.4 944.5 129.8 944.0 130.1 943.5 132.8 943.0 132.7 942.5 134.1 942.0 135.0 941.5 131.6 941.0 134.3 940.5 136.2 940.0 134.1 939.5 136.6 939.0 134.7 938.5 134.0 938.0 135.3 937.5 139.3 937.0 138.6 936.5 133.5 936.0 134.3 935.5 130.8 935.0 132.3 934.5 133.9 934.0 134.1 933.5 132.4 933.0 135.9 932.5 133.7 932.0 132.2 931.5 132.0 931.0 135.2 930.5 135.3 930.0 135.6 929.5 132.6 929.0 131.5 928.5 134.4 928.0 131.9 927.5 136.3 927.0 131.2 926.5 131.4 926.0 131.6 925.5 131.2 925.0 134.1 924.5 133.4 924.0 134.5 923.5 132.0 923.0 135.4 922.5 135.2 922.0 137.5 921.5 143.0 921.0 139.8 920.5 136.1 920.0 136.2 919.5 141.8 919.0 143.1 918.5 147.8 918.0 136.8 917.5 135.2 917.0 135.7 916.5 140.5 916.0 138.8 915.5 137.5 915.0 137.8 914.5 136.5 914.0 136.7 913.5 139.3 913.0 139.4 912.5 138.4 912.0 139.5 911.5 139.5 911.0 136.6 910.5 137.5 910.0 136.5 909.5 135.1 909.0 138.5 908.5 137.8 908.0 140.7 907.5 139.1 907.0 139.9 906.5 134.4 906.0 136.5 905.5 135.3 905.0 138.2 904.5 134.3 904.0 137.9 903.5 135.5 903.0 136.8 902.5 137.0 902.0 136.1 901.5 140.3 901.0 139.9 900.5 138.2 900.0 138.1 899.5 134.1 899.0 138.6 898.5 134.6 898.0 141.0 897.5 137.7 897.0 139.0 896.5 140.6 896.0 140.4 895.5 138.0 895.0 139.0 894.5 138.8 894.0 136.0 893.5 136.6 893.0 139.9 892.5 137.9 892.0 137.7 891.5 135.1 891.0 137.8 890.5 134.2 890.0 133.7 889.5 133.7 889.0 135.9 888.5 136.1 888.0 137.3 887.5 134.2 887.0 135.0 886.5 133.8 886.0 132.5 885.5 132.5 885.0 137.5 884.5 136.0 884.0 132.5 883.5 136.7 883.0 133.0 882.5 133.4 882.0 134.7 881.5 133.8 881.0 148.4 880.5 135.2 880.0 131.1 879.5 136.6 879.0 132.7 878.5 136.2 878.0 131.5 877.5 133.5 877.0 134.1 876.5 133.1 876.0 135.4 875.5 139.1 875.0 139.4 874.5 137.3 874.0 139.0 873.5 139.1 873.0 137.2 872.5 137.6 872.0 140.8 871.5 139.3 871.0 137.3 870.5 140.8 870.0 140.1 869.5 140.8 869.0 140.9 868.5 143.8 868.0 141.3 867.5 138.9 867.0 141.5 866.5 141.3 866.0 142.8 865.5 138.3 865.0 139.0 864.5 136.3 864.0 139.5 863.5 139.8 863.0 135.9 862.5 144.0 862.0 139.7 861.5 140.1 861.0 139.6 860.5 138.9 860.0 135.0 859.5 136.3 859.0 139.0 858.5 138.6 858.0 152.8 857.5 152.5 857.0 150.6 856.5 147.9 856.0 152.4 855.5 147.7 855.0 150.2 854.5 157.4 854.0 146.8 853.5 150.7 853.0 150.1 852.5 144.4 852.0 149.3 851.5 147.7 851.0 145.4 850.5 146.2 850.0 144.7 849.5 143.1 849.0 145.3 848.5 145.3 848.0 144.5 847.5 141.8 847.0 143.3 846.5 146.0 846.0 144.4 845.5 143.0 845.0 141.8 844.5 141.0 844.0 145.5 843.5 142.3 843.0 145.6 842.5 146.2 842.0 140.9 841.5 145.5 841.0 163.3 840.5 146.2 840.0 145.0 839.5 143.5 839.0 140.3 838.5 141.2 838.0 146.0 837.5 147.2 837.0 146.5 836.5 143.2 836.0 142.0 835.5 141.1 835.0 144.6 834.5 141.6 834.0 143.8 833.5 142.3 833.0 144.3 832.5 137.9 832.0 138.4 831.5 141.1 831.0 141.4 830.5 148.5 830.0 141.6 829.5 143.7 829.0 141.1 828.5 139.5 828.0 139.0 827.5 142.3 827.0 140.6 826.5 139.5 826.0 141.6 825.5 139.0 825.0 140.7 824.5 139.6 824.0 143.2 823.5 141.3 Z" fill="#777777" fill-opacity="0.30" stroke="none"/>
<path d="M823.5 130.0 824.0 135.3 824.5 118.6 825.0 137.1 825.5 130.1 826.0 139.8 826.5 126.3 827.0 137.6 827.5 131.3 828.0 134.7 828.5 126.6 829.0 137.0 829.5 127.2 830.0 140.9 830.5 125.5 831.0 140.4 831.5 126.4 832.0 138.2 832.5 125.0 833.0 139.6 833.5 129.5 834.0 137.4 834.5 128.5 835.0 143.8 835.5 130.3 836.0 139.6 836.5 134.3 837.0 142.0 837.5 130.7 838.0 140.8 838.5 130.5 839.0 138.7 839.5 127.6 840.0 139.3 840.5 132.0 841.0 156.0 841.5 127.2 842.0 136.1 842.5 128.7 843.0 138.5 843.5 125.7 844.0 139.7 844.5 129.7 845.0 140.2 845.5 128.0 846.0 139.3 846.5 126.8 847.0 137.5 847.5 128.0 848.0 142.6 848.5 132.4 849.0 144.5 849.5 122.4 850.0 139.1 850.5 133.7 851.0 145.2 851.5 133.9 852.0 147.0 852.5 133.0 853.0 149.5 853.5 136.0 854.0 140.8 854.5 139.2 855.0 147.7 855.5 130.9 856.0 145.7 856.5 137.7 857.0 148.5 857.5 140.9 858.0 150.3 858.5 122.9 859.5 133.0 860.5 121.0 861.5 136.0 862.5 125.2 863.5 139.2 864.5 123.8 865.5 137.9 866.5 126.5 867.5 134.0 868.5 122.3 869.5 140.1 870.5 124.1 871.5 138.6 872.5 125.7 873.5 134.1 874.5 124.1 875.5 131.0 876.5 122.8 877.5 132.0 878.5 118.9 879.5 131.5 880.5 124.0 881.5 126.9 882.5 118.9 883.5 136.4 884.5 120.3 885.5 130.5 886.5 124.4 887.5 133.1 888.5 126.3 889.5 127.3 890.5 118.1 891.5 129.7 892.5 122.9 893.5 134.5 894.5 117.5 895.5 137.0 896.5 124.6 897.5 137.0 898.5 125.0 899.5 129.5 900.5 124.5 901.5 139.3 902.5 118.7 903.5 132.4 904.5 119.7 905.5 130.3 906.5 122.1 907.5 134.1 908.5 124.0 909.5 130.1 910.5 123.2 911.5 133.4 912.5 125.4 913.5 137.6 914.5 123.6 915.5 136.1 916.5 126.4 917.5 131.8 918.5 127.0 919.5 135.5 920.5 116.8 921.5 132.6 922.5 120.3 923.5 129.2 924.5 117.2 925.5 127.2 926.5 116.3 927.5 132.6 928.5 119.7 929.5 131.8 930.5 118.9 931.5 131.3 932.5 119.3 933.5 127.2 934.5 117.0 935.5 128.0 936.5 117.3 937.5 132.7 938.5 109.2 939.5 132.6 940.5 117.6 941.5 126.0 942.5 121.0 943.5 132.3 944.5 114.3 945.5 131.4 946.5 121.9 947.5 132.7 948.5 121.2 949.5 133.4 950.5 122.8 951.5 130.8 952.5 119.7 953.5 135.2 954.5 127.0 955.5 130.3 956.5 124.2 957.5 128.8 958.5 118.7 959.5 131.3 960.5 121.6 961.5 132.1 962.5 120.2 963.5 126.6 964.5 117.2 965.5 124.4 966.5 113.5 967.5 126.0 968.5 117.2 969.5 125.4 970.5 116.6 971.5 128.3 972.5 119.9 973.5 131.4 974.5 119.3 975.5 130.8 976.5 119.3 977.5 130.1 978.5 123.2 979.5 137.1 980.5 128.8 981.5 134.1 982.5 125.9 983.5 135.7 984.5 130.5 985.5 139.1 986.5 119.5 987.5 134.4 988.5 127.0 989.5 135.0 990.5 126.1 991.5 139.2 992.5 130.1 993.5 131.4 994.5 122.7 995.5 127.8 996.5 119.0 997.5 128.8 998.5 119.1 999.5 129.7 1000.5 123.4 1001.5 135.1 1002.5 122.9 1003.5 134.5 1004.5 113.3 1005.5 132.6 1006.5 118.5 1007.5 130.5 1008.5 123.7 1009.5 130.2 1010.5 121.4 1011.5 129.1 1012.5 116.1 1013.5 129.8 1014.5 118.0 1015.5 128.0 1016.5 119.5 1017.5 135.5 1018.5 112.9 1019.5 129.1 1020.5 117.0 1021.5 136.5 1022.5 121.8 1023.5 138.9 1024.5 129.4 1025.5 135.6 1026.5 125.5 1027.5 135.0 1028.5 126.0 1029.5 132.2 1030.5 121.8 1031.5 138.0 1032.5 126.8 1033.5 138.3 1034.5 122.7 1035.5 133.2 1036.5 125.5 1037.5 134.3 1038.5 121.1 1039.5 130.9 1040.5 120.4 1041.5 129.1 1042.5 126.6 1043.5 128.9 1044.5 122.3 1045.5 136.0 1046.5 122.8 1047.5 134.4 1048.5 120.6 1049.5 131.8 1050.5 121.8 1051.5 137.2 1052.5 127.5 1053.5 139.4 1054.5 122.1 1055.5 134.9 1056.5 121.8 1057.5 136.4 1058.5 124.0 1059.5 133.4 1060.5 117.8 1061.5 132.6 1062.5 118.0 1063.5 130.7 1064.5 122.7 1065.5 138.6 1066.5 118.3 1067.5 131.5 1068.5 122.8 1069.5 134.3 1070.5 126.4 1071.5 137.0 1072.5 127.9 1073.5 132.4 1074.5 124.4 1075.5 134.9 1076.5 119.0 1077.5 140.2 1078.5 112.2 1079.5 131.6 1080.5 123.7 1081.5 144.1 1082.5 124.1 1083.5 130.6 1084.5 124.3 1085.5 136.0 1086.5 121.6 1087.5 133.7 1088.5 140.2 1089.0 151.0 1089.5 142.5 1090.0 151.7 1090.5 142.1 1091.0 156.8 1091.5 145.4 1092.0 151.4 1092.5 148.2 1093.0 157.2 1093.5 146.7 1094.0 158.7 1094.5 145.6 1095.0 155.9 1095.5 152.0 1096.0 156.5 1096.5 149.0 1097.0 164.9 1097.5 147.4 1098.0 156.5 1098.5 147.6 1099.0 158.0 1099.5 149.7 1100.0 159.4 1100.5 149.5 1101.0 160.0 1101.5 150.3 1102.0 160.0 1102.5 145.3 1103.0 155.3 1103.5 147.6 1104.0 157.3 1104.5 146.2 1105.0 156.6 1105.5 152.5 1106.0 155.5 1106.5 141.4 1107.0 157.9 1107.5 146.0 1108.0 155.3 1108.5 142.8 1109.0 155.5 1109.5 144.6 1110.0 157.2 1110.5 148.5 1111.0 156.2 1111.5 146.2 1112.0 160.2 1112.5 145.0 1113.0 162.6 1113.5 148.2 1114.0 164.0 1114.5 154.2 1115.0 161.7 1115.5 152.8 1116.0 159.1 1116.5 149.6 1117.0 156.6 1117.5 154.5 1118.0 159.3 1118.5 154.1 1119.0 161.3 1119.5 147.7 1120.0 166.5 1120.5 153.8 1121.0 163.5 1121.5 149.6 1122.0 160.0 1122.5 153.6 1123.0 159.8 1123.5 151.1 1124.0 161.2 1124.5 150.2 1125.0 160.1 1125.5 147.5 1126.0 156.4 1126.5 148.2 1127.0 156.7 1127.5 147.8 1128.0 157.0 1128.5 151.0 1129.0 155.9 1129.5 149.5 1130.0 157.2 1130.5 148.9 1131.0 154.1 1131.5 147.7 1132.0 156.8 1132.5 146.3 1133.0 158.0 1133.5 149.8 1134.0 158.9 1134.5 153.1 1135.0 161.2 1135.5 154.0 1136.0 162.0 1136.5 154.3 1137.0 159.0 1137.5 158.0 1138.0 158.4 1138.5 164.6 1139.0 169.1 1139.5 159.8 1140.0 168.8 1140.5 161.3 1141.0 167.7 1141.5 162.6 1142.0 167.0 1142.5 159.7 1143.0 168.9 1143.5 158.7 1144.0 165.7 1144.5 158.8 1145.0 166.6 1145.5 157.2 1146.0 164.8 1146.5 155.0 1147.0 163.4 1147.5 159.2 1148.0 166.5 1148.5 158.2 1149.0 166.9 1149.5 155.9 1150.0 164.3 1150.5 156.9 1151.0 165.0 1151.5 153.6 1152.0 163.3 1152.5 154.7 1153.0 163.8 1153.5 158.1 1154.0 162.4 1154.5 155.8 1155.0 159.8 1155.5 153.5 1156.0 163.5 1156.5 154.2 1157.0 162.7 1157.5 154.2 1158.0 162.8 1158.5 156.1 1159.0 167.1 1159.5 159.3 1160.0 167.1 1160.5 158.0 1161.0 164.8 1161.5 155.9 1162.0 160.9 1162.5 156.0 1163.0 161.0 1163.5 156.0 1164.0 163.4 1164.5 154.1 1165.0 166.6 1165.5 157.5 1166.0 163.2 1166.5 156.9 1167.0 163.6 1167.5 159.0 1168.0 166.1 1168.5 160.6 1169.0 162.3 1169.5 159.2 1170.0 167.9 1170.5 157.9 1171.0 168.1 1171.5 157.4 1172.0 167.0 1172.5 157.7 1173.0 165.6 1173.5 156.9 1174.0 166.2 1174.5 160.3 1175.0 167.8 1175.5 158.9 1176.0 166.5 1176.5 161.5 1177.0 167.4 1177.5 158.9 1178.0 166.7 1178.5 158.6 1179.0 163.5 1179.5 161.0 1180.0 163.5 1180.5 159.2 1181.0 166.6 1181.5 160.9 1182.0 166.3 1182.5 159.8 1183.0 165.7 1183.5 159.8 1184.0 165.5 1184.5 161.7 1185.0 169.7 1185.5 162.3 1186.0 166.3 1186.5 158.8 1187.0 165.7 1187.5 160.3 1188.0 164.0 1188.5 157.3 1189.0 164.3 1189.5 160.6 1190.0 170.2 1190.5 161.2 1191.0 165.3 1191.5 157.8 1192.0 166.5 1192.5 158.8 1193.0 164.2 1193.5 157.6 1194.0 166.1 1194.5 158.8 1195.0 164.9 1195.5 159.0 1196.0 166.1 1196.5 158.7 1197.0 167.8 1197.5 158.5 1198.0 166.1 1198.5 160.2 1199.0 166.5 1199.5 160.4 1200.0 164.4 1200.5 159.2 1201.0 167.1 1201.5 161.4 1202.0 169.8 1202.5 158.0 1203.0 168.3 1203.5 160.4 1204.0 165.2 1204.5 161.1 1205.0 164.7 1205.5 160.0 1206.0 166.2 1206.5 157.8 1207.0 168.2 1207.5 159.3 1208.0 168.8 1208.5 157.6 1209.0 169.7 1209.5 158.7 1210.0 166.0 1210.5 158.7 1211.0 165.6 1211.5 159.2 1212.0 164.1 1212.5 161.1 1213.0 165.3 1213.5 155.6 1214.0 162.7 1214.5 158.5 1215.0 165.1 1215.5 162.9 1216.0 168.1 1216.5 165.1 1217.0 166.0 1217.5 161.0 1218.0 171.1 1218.5 157.8 1219.0 167.9 1219.5 164.6 1220.0 166.0 1220.5 166.1 1221.0 172.9 1221.5 161.9 1222.0 169.9 1222.5 161.9 1223.0 171.0 1223.5 161.5 1224.0 169.1 1224.5 163.1 1225.0 171.5 1225.5 162.9 1226.0 170.0 1226.5 163.9 1227.0 171.2 1227.5 164.9 1228.0 170.2 1228.5 164.8 1229.0 168.2 1229.5 163.4 1230.0 167.7 1230.5 162.8 1231.0 168.6 1231.5 163.7 1232.0 168.1 1232.5 161.3 1233.0 166.3 1233.5 157.9 1234.0 166.5 1234.5 164.0 1235.0 166.5 1235.5 160.8 1236.0 166.8 1236.5 161.3 1237.0 166.6 1237.5 163.3 1238.0 166.0 1238.5 171.9 1239.0 178.9 1239.5 170.3 1240.0 178.5 1240.5 172.3 1241.0 177.8 1241.5 173.2 1242.0 174.3 1242.5 166.4 1243.0 179.2 1243.5 166.7 1244.0 176.7 1244.5 170.2 1245.0 174.7 1245.5 167.2 1246.0 176.3 1246.5 170.2 1247.0 179.4 1247.5 164.2 1248.0 174.6 1248.5 171.4 1249.0 173.8 1249.5 167.8 1250.0 173.9 1250.5 168.7 1251.0 179.2 1251.5 170.5 1252.0 176.8 1252.5 172.5 1253.0 177.4 1253.5 168.9 1254.0 178.5 1254.5 168.6 1255.0 176.1 1255.5 169.6 1256.0 173.6 1256.5 168.4 1257.0 175.6 1257.5 166.3 1258.0 175.2 1258.5 169.5 1259.0 175.9 1259.5 165.5 1260.0 174.3 1260.5 163.4 1261.0 173.5 1261.5 170.1 1262.0 175.0 1262.5 168.9 1263.0 175.0 1263.5 163.6 1264.0 173.0 1264.5 160.0 1265.0 171.4 1265.5 165.5 1266.0 166.5 1266.5 165.0 1267.0 172.7 1267.5 166.4 1268.0 175.1 1268.5 165.5 1269.0 171.3 1269.5 165.8 1270.0 175.8 1270.5 166.7 1271.0 174.6 1271.5 168.1 1272.0 172.5 1272.5 169.2 1273.0 181.2 1273.5 170.6 1274.0 174.6 1274.5 164.2 1275.0 173.0 1275.5 169.4 1276.0 179.0 1276.5 170.9 1277.0 176.9 1277.5 169.1 1278.0 177.0 1278.5 167.0 1279.0 176.1 1279.5 170.4 1280.0 176.5 1280.5 166.4 1281.0 174.1 1281.5 167.9 1282.0 174.0 1282.5 169.3 1283.0 172.2 1283.5 169.0 1284.0 174.4 1284.5 171.1 1285.0 173.3 1285.5 165.8 1286.0 174.5 1286.5 169.3 1287.0 174.1 1287.5 164.9 1288.0 177.3 1288.5 169.2 1289.0 174.4 1289.5 170.3 1290.0 176.6 1290.5 169.8 1291.0 177.1 1291.5 167.2 1292.0 172.5 1292.5 167.7 1293.0 176.8 1293.5 169.3 1294.0 171.8 1294.5 163.9 1295.0 173.8 1295.5 168.9 1296.0 175.6 1296.5 171.7 1297.0 173.9 1297.5 167.4 1298.0 177.6 1298.5 169.8 1299.0 173.8 1299.5 167.7 1300.0 178.1 1300.5 166.6 1301.0 173.8 1301.5 169.5 1302.0 173.9 1302.5 170.3 1303.0 177.7 1303.5 171.2 1304.0 179.3 1304.5 166.8 1305.0 179.2 1305.5 170.9 1306.0 184.3 1306.5 169.8 1307.0 178.8 1307.5 174.4 1308.0 181.6 1308.5 181.7 1309.0 188.9 1309.5 185.3 1310.0 188.6 1310.5 181.9 1311.0 190.9 1311.5 183.6 1312.0 188.1 1312.5 182.2 1313.0 187.6 1313.5 181.4 1314.0 186.4 1314.5 182.8 1315.0 184.8 1315.5 177.8 1316.0 187.6 1316.5 180.0 1317.0 187.9 1317.5 185.6 1318.0 190.1 1318.5 181.2 1319.0 187.7 1319.5 179.0 1320.0 185.7 1320.5 180.2 1321.0 185.7 1321.5 180.7 1322.0 186.6 1322.5 179.8 1323.0 188.4 1323.5 183.0" fill="none" stroke="#777777" stroke-width="0.90" stroke-linejoin="round"/>
<rect x="805.4" y="168.5" width="347.6" height="24.6" rx="2.5" fill="#E5E5E5" fill-opacity="0.85" stroke="#CCCCCC" stroke-width="0.8"/>
<line x1="811.0" y1="179.8" x2="840.0" y2="179.8" stroke="#E24A33" stroke-width="1"/>
<text x="851.0" y="185" textLength="17.0" lengthAdjust="spacingAndGlyphs" font-family='"Liberation Sans", sans-serif' font-size="12.5" fill="#000">SP</text>
<line x1="896.0" y1="179.8" x2="925.0" y2="179.8" stroke="#348ABD" stroke-width="1"/>
<text x="936.0" y="185" textLength="23.5" lengthAdjust="spacingAndGlyphs" font-family='"Liberation Sans", sans-serif' font-size="12.5" fill="#000">WN</text>
<line x1="988.0" y1="179.8" x2="1017.0" y2="179.8" stroke="#988ED5" stroke-width="1"/>
<text x="1028.0" y="185" textLength="19.0" lengthAdjust="spacingAndGlyphs" font-family='"Liberation Sans", sans-serif' font-size="12.5" fill="#000">BN</text>
<line x1="1075.2" y1="179.8" x2="1104.2" y2="179.8" stroke="#777777" stroke-width="1"/>
<text x="1115.4" y="185" textLength="32.5" lengthAdjust="spacingAndGlyphs" font-family='"Liberation Sans", sans-serif' font-size="12.5" fill="#000">GmP</text>
<text x="179.2" y="340.3" text-anchor="middle" textLength="119" lengthAdjust="spacingAndGlyphs" font-family='"Liberation Sans", sans-serif' font-size="14.6" fill="#1a1a1a">Test RMSE: 1.224</text>
<rect x="43.2" y="345.0" width="272.0" height="194.0" fill="#E5E5E5"/>
<line x1="49.3" y1="345.0" x2="49.3" y2="539.0" stroke="#fff" stroke-width="1"/>
<line x1="81.8" y1="345.0" x2="81.8" y2="539.0" stroke="#fff" stroke-width="1"/>
<line x1="114.3" y1="345.0" x2="114.3" y2="539.0" stroke="#fff" stroke-width="1"/>
<line x1="146.8" y1="345.0" x2="146.8" y2="539.0" stroke="#fff" stroke-width="1"/>
<line x1="179.3" y1="345.0" x2="179.3" y2="539.0" stroke="#fff" stroke-width="1"/>
<line x1="211.8" y1="345.0" x2="211.8" y2="539.0" stroke="#fff" stroke-width="1"/>
<line x1="244.3" y1="345.0" x2="244.3" y2="539.0" stroke="#fff" stroke-width="1"/>
<line x1="276.8" y1="345.0" x2="276.8" y2="539.0" stroke="#fff" stroke-width="1"/>
<line x1="309.3" y1="345.0" x2="309.3" y2="539.0" stroke="#fff" stroke-width="1"/>
<line x1="43.2" y1="534.3" x2="315.2" y2="534.3" stroke="#fff" stroke-width="1"/>
<line x1="40.6" y1="534.3" x2="43.2" y2="534.3" stroke="#444" stroke-width="0.8"/>
<text x="37.7" y="537.0" text-anchor="end" font-family='"Liberation Sans", sans-serif' font-size="7.6" fill="#555">0.0</text>
<line x1="43.2" y1="507.9" x2="315.2" y2="507.9" stroke="#fff" stroke-width="1"/>
<line x1="40.6" y1="507.9" x2="43.2" y2="507.9" stroke="#444" stroke-width="0.8"/>
<text x="37.7" y="510.6" text-anchor="end" font-family='"Liberation Sans", sans-serif' font-size="7.6" fill="#555">2.5</text>
<line x1="43.2" y1="481.5" x2="315.2" y2="481.5" stroke="#fff" stroke-width="1"/>
<line x1="40.6" y1="481.5" x2="43.2" y2="481.5" stroke="#444" stroke-width="0.8"/>
<text x="37.7" y="484.2" text-anchor="end" font-family='"Liberation Sans", sans-serif' font-size="7.6" fill="#555">5.0</text>
<line x1="43.2" y1="455.1" x2="315.2" y2="455.1" stroke="#fff" stroke-width="1"/>
<line x1="40.6" y1="455.1" x2="43.2" y2="455.1" stroke="#444" stroke-width="0.8"/>
<text x="37.7" y="457.8" text-anchor="end" font-family='"Liberation Sans", sans-serif' font-size="7.6" fill="#555">7.5</text>
<line x1="43.2" y1="428.7" x2="315.2" y2="428.7" stroke="#fff" stroke-width="1"/>
<line x1="40.6" y1="428.7" x2="43.2" y2="428.7" stroke="#444" stroke-width="0.8"/>
<text x="37.7" y="431.4" text-anchor="end" font-family='"Liberation Sans", sans-serif' font-size="7.6" fill="#555">10.0</text>
<line x1="43.2" y1="402.3" x2="315.2" y2="402.3" stroke="#fff" stroke-width="1"/>
<line x1="40.6" y1="402.3" x2="43.2" y2="402.3" stroke="#444" stroke-width="0.8"/>
<text x="37.7" y="405.0" text-anchor="end" font-family='"Liberation Sans", sans-serif' font-size="7.6" fill="#555">12.5</text>
<line x1="43.2" y1="375.9" x2="315.2" y2="375.9" stroke="#fff" stroke-width="1"/>
<line x1="40.6" y1="375.9" x2="43.2" y2="375.9" stroke="#444" stroke-width="0.8"/>
<text x="37.7" y="378.6" text-anchor="end" font-family='"Liberation Sans", sans-serif' font-size="7.6" fill="#555">15.0</text>
<line x1="43.2" y1="349.5" x2="315.2" y2="349.5" stroke="#fff" stroke-width="1"/>
<line x1="40.6" y1="349.5" x2="43.2" y2="349.5" stroke="#444" stroke-width="0.8"/>
<text x="37.7" y="352.2" text-anchor="end" font-family='"Liberation Sans", sans-serif' font-size="7.6" fill="#555">17.5</text>
<g transform="translate(17.7,442) rotate(-90)"><text x="0" y="0" text-anchor="middle" font-family='"Liberation Sans", sans-serif' font-style="italic" font-size="8.5" fill="#444">y</text></g>
<clipPath id="cp0"><rect x="43.2" y="345.0" width="272.0" height="194.0"/></clipPath>
<g clip-path="url(#cp0)">
<circle cx="54.5" cy="401.9" r="4.1" fill="#FF0000"/>
<circle cx="65.0" cy="451.2" r="4.1" fill="#FF0000"/>
<circle cx="67.6" cy="440.5" r="4.1" fill="#FF0000"/>
<circle cx="71.1" cy="421.2" r="4.1" fill="#FF0000"/>
<circle cx="80.0" cy="448.4" r="4.1" fill="#FF0000"/>
<circle cx="82.6" cy="466.1" r="4.1" fill="#FF0000"/>
<circle cx="86.1" cy="489.1" r="4.1" fill="#FF0000"/>
<circle cx="103.6" cy="469.7" r="4.1" fill="#FF0000"/>
<circle cx="117.7" cy="496.1" r="4.1" fill="#FF0000"/>
<circle cx="130.8" cy="505.8" r="4.1" fill="#FF0000"/>
<circle cx="142.2" cy="522.2" r="4.1" fill="#FF0000"/>
<circle cx="146.2" cy="517.9" r="4.1" fill="#FF0000"/>
<circle cx="152.7" cy="515.8" r="4.1" fill="#FF0000"/>
<circle cx="157.2" cy="519.5" r="4.1" fill="#FF0000"/>
<circle cx="161.8" cy="521.6" r="4.1" fill="#FF0000"/>
<circle cx="166.3" cy="519.0" r="4.1" fill="#FF0000"/>
<circle cx="175.4" cy="530.6" r="4.1" fill="#FF0000"/>
<circle cx="183.2" cy="534.8" r="4.1" fill="#FF0000"/>
<circle cx="187.1" cy="536.9" r="4.1" fill="#FF0000"/>
<circle cx="191.7" cy="532.7" r="4.1" fill="#FF0000"/>
<circle cx="195.6" cy="536.4" r="4.1" fill="#FF0000"/>
<circle cx="198.8" cy="531.7" r="4.1" fill="#FF0000"/>
<circle cx="204.0" cy="526.4" r="4.1" fill="#FF0000"/>
<circle cx="207.9" cy="523.7" r="4.1" fill="#FF0000"/>
<circle cx="211.8" cy="520.0" r="4.1" fill="#FF0000"/>
<circle cx="216.4" cy="521.1" r="4.1" fill="#FF0000"/>
<circle cx="219.6" cy="517.9" r="4.1" fill="#FF0000"/>
<circle cx="224.2" cy="516.3" r="4.1" fill="#FF0000"/>
<circle cx="226.8" cy="515.1" r="4.1" fill="#FF0000"/>
<circle cx="231.3" cy="515.8" r="4.1" fill="#FF0000"/>
<circle cx="249.5" cy="513.2" r="4.1" fill="#FF0000"/>
<circle cx="250.8" cy="508.2" r="4.1" fill="#FF0000"/>
<circle cx="254.6" cy="499.1" r="4.1" fill="#FF0000"/>
<circle cx="266.0" cy="499.1" r="4.1" fill="#FF0000"/>
<circle cx="275.2" cy="488.6" r="4.1" fill="#FF0000"/>
<circle cx="280.7" cy="467.3" r="4.1" fill="#FF0000"/>
<circle cx="290.6" cy="476.4" r="4.1" fill="#FF0000"/>
<circle cx="295.3" cy="493.1" r="4.1" fill="#FF0000"/>
<circle cx="299.8" cy="481.7" r="4.1" fill="#FF0000"/>
<circle cx="304.4" cy="454.5" r="4.1" fill="#FF0000"/>
<polyline points="48.7,366.4 49.5,371.5 50.4,377.0 51.3,382.9 52.2,389.0 53.0,395.5 53.9,402.5 54.8,410.0 55.7,417.3 56.5,424.7 57.4,432.0 58.3,438.3 59.2,443.7 60.0,449.0 60.9,453.5 61.8,456.3 62.7,456.7 63.5,456.0 64.4,454.5 65.3,452.6 66.2,450.3 67.0,447.9 67.9,443.3 68.8,436.9 69.7,430.1 70.5,424.4 71.4,421.4 72.3,421.3 73.2,421.5 74.0,422.0 74.9,422.6 75.8,423.4 76.7,424.4 77.5,427.2 78.4,431.7 79.3,437.1 80.2,442.9 81.0,448.5 81.9,454.3 82.8,460.7 83.7,467.2 84.5,473.2 85.4,478.8 86.3,484.8 87.2,489.1 88.0,489.8 88.9,489.5 89.8,488.9 90.7,488.1 91.5,487.1 92.4,485.9 93.3,483.0 94.2,478.3 95.0,473.4 95.9,469.6 96.8,467.6 97.7,465.7 98.5,464.3 99.4,463.5 100.3,463.6 101.2,464.7 102.0,466.4 102.9,468.6 103.8,471.0 104.7,473.2 105.5,475.9 106.4,479.2 107.3,482.8 108.2,486.4 109.0,489.7 109.9,492.4 110.8,494.3 111.7,496.1 112.5,497.7 113.4,499.0 114.3,499.9 115.2,500.1 116.0,499.8 116.9,499.2 117.8,498.3 118.7,497.3 119.5,496.2 120.4,495.2 121.3,494.2 122.2,493.4 123.0,492.9 123.9,492.8 124.8,493.1 125.7,493.7 126.5,494.6 127.4,495.7 128.3,496.9 129.2,498.3 130.0,500.2 130.9,502.8 131.8,505.6 132.7,508.2 133.5,510.3 134.4,512.5 135.3,514.7 136.2,516.9 137.0,518.9 137.9,520.6 138.8,521.9 139.7,522.7 140.5,522.9 141.4,522.9 142.3,522.8 143.2,522.7 144.0,522.5 144.9,522.4 145.8,522.2 146.7,522.0 147.5,521.6 148.4,521.0 149.3,520.2 150.2,519.3 151.1,518.4 151.9,517.6 152.8,517.0 153.7,516.7 154.6,516.7 155.4,516.8 156.3,516.9 157.2,517.1 158.1,517.3 158.9,517.6 159.8,517.8 160.7,518.1 161.6,518.4 162.4,518.7 163.3,518.9 164.2,519.2 165.1,519.5 165.9,519.8 166.8,520.2 167.7,520.5 168.6,520.9 169.4,521.2 170.3,521.6 171.2,522.1 172.1,522.5 172.9,523.0 173.8,523.5 174.7,524.2 175.6,524.9 176.4,525.7 177.3,526.5 178.2,527.4 179.1,528.2 179.9,529.0 180.8,529.8 181.7,530.5 182.6,531.0 183.4,531.5 184.3,532.0 185.2,532.4 186.1,532.9 186.9,533.3 187.8,533.8 188.7,534.1 189.6,534.4 190.4,534.6 191.3,534.8 192.2,534.8 193.1,534.8 193.9,534.5 194.8,534.2 195.7,533.8 196.6,533.3 197.4,532.7 198.3,532.2 199.2,531.6 200.1,531.0 200.9,530.4 201.8,529.9 202.7,529.4 203.6,528.8 204.4,528.2 205.3,527.6 206.2,527.0 207.1,526.4 207.9,525.7 208.8,525.1 209.7,524.5 210.6,523.9 211.4,523.3 212.3,522.8 213.2,522.3 214.1,521.9 214.9,521.5 215.8,521.1 216.7,520.7 217.6,520.2 218.4,519.8 219.3,519.4 220.2,519.0 221.1,518.6 221.9,518.3 222.8,517.9 223.7,517.6 224.6,517.3 225.4,517.1 226.3,516.9 227.2,516.7 228.1,516.6 228.9,516.6 229.8,516.6 230.7,516.9 231.6,517.4 232.4,518.1 233.3,518.8 234.2,519.5 235.1,520.1 235.9,520.6 236.8,521.1 237.7,521.6 238.6,522.1 239.4,522.5 240.3,522.9 241.2,523.2 242.1,523.3 242.9,523.2 243.8,522.8 244.7,522.2 245.6,521.3 246.4,520.3 247.3,519.2 248.2,518.0 249.1,516.2 249.9,513.9 250.8,511.4 251.7,508.8 252.6,506.4 253.5,504.3 254.3,502.7 255.2,501.0 256.1,499.3 257.0,497.7 257.8,496.3 258.7,495.1 259.6,494.3 260.5,493.9 261.3,494.0 262.2,494.4 263.1,495.1 264.0,495.9 264.8,496.7 265.7,497.4 266.6,498.0 267.5,498.7 268.3,499.3 269.2,499.7 270.1,499.9 271.0,499.4 271.8,498.3 272.7,496.9 273.6,495.1 274.5,493.2 275.3,491.3 276.2,489.0 277.1,486.0 278.0,482.7 278.8,479.4 279.7,476.3 280.6,473.7 281.5,471.4 282.3,469.0 283.2,466.9 284.1,465.2 285.0,464.4 285.8,464.5 286.7,465.4 287.6,466.9 288.5,468.8 289.3,470.8 290.2,473.0 291.1,476.2 292.0,480.2 292.8,484.3 293.7,487.8 294.6,490.2 295.5,490.8 296.3,490.4 297.2,489.6 298.1,488.5 299.0,487.1 299.8,484.8 300.7,481.0 301.6,476.2 302.5,470.9 303.3,465.1 304.2,457.8 305.1,449.8 306.0,442.2 306.8,436.2 307.7,431.2 308.6,426.7 309.5,422.9 310.3,419.7" fill="none" stroke="#000" stroke-width="4.2" stroke-linejoin="round"/>
<polyline points="49.3,512.7 179.3,534.5 310.0,526.1" fill="none" stroke="#0000E0" stroke-width="2.4" stroke-dasharray="7.4 3.4"/>
<polyline points="49.3,392.8 85.7,474.8 141.3,520.8 157.2,517.9 191.0,534.8 232.6,515.8 244.0,515.7 280.1,482.8 310.0,482.6" fill="none" stroke="#0000D8" stroke-width="2.2" stroke-linejoin="round"/>
</g>
<rect x="43.2" y="542.6" width="272.0" height="13.1" fill="#E5E5E5"/>
<line x1="49.3" y1="542.6" x2="49.3" y2="555.7" stroke="#fff" stroke-width="1"/>
<line x1="81.8" y1="542.6" x2="81.8" y2="555.7" stroke="#fff" stroke-width="1"/>
<line x1="114.3" y1="542.6" x2="114.3" y2="555.7" stroke="#fff" stroke-width="1"/>
<line x1="146.8" y1="542.6" x2="146.8" y2="555.7" stroke="#fff" stroke-width="1"/>
<line x1="179.3" y1="542.6" x2="179.3" y2="555.7" stroke="#fff" stroke-width="1"/>
<line x1="211.8" y1="542.6" x2="211.8" y2="555.7" stroke="#fff" stroke-width="1"/>
<line x1="244.3" y1="542.6" x2="244.3" y2="555.7" stroke="#fff" stroke-width="1"/>
<line x1="276.8" y1="542.6" x2="276.8" y2="555.7" stroke="#fff" stroke-width="1"/>
<line x1="309.3" y1="542.6" x2="309.3" y2="555.7" stroke="#fff" stroke-width="1"/>
<rect x="43.2" y="559.4" width="272.0" height="13.1" fill="#E5E5E5"/>
<line x1="49.3" y1="559.4" x2="49.3" y2="572.5" stroke="#fff" stroke-width="1"/>
<line x1="81.8" y1="559.4" x2="81.8" y2="572.5" stroke="#fff" stroke-width="1"/>
<line x1="114.3" y1="559.4" x2="114.3" y2="572.5" stroke="#fff" stroke-width="1"/>
<line x1="146.8" y1="559.4" x2="146.8" y2="572.5" stroke="#fff" stroke-width="1"/>
<line x1="179.3" y1="559.4" x2="179.3" y2="572.5" stroke="#fff" stroke-width="1"/>
<line x1="211.8" y1="559.4" x2="211.8" y2="572.5" stroke="#fff" stroke-width="1"/>
<line x1="244.3" y1="559.4" x2="244.3" y2="572.5" stroke="#fff" stroke-width="1"/>
<line x1="276.8" y1="559.4" x2="276.8" y2="572.5" stroke="#fff" stroke-width="1"/>
<line x1="309.3" y1="559.4" x2="309.3" y2="572.5" stroke="#fff" stroke-width="1"/>
<rect x="43.2" y="576.2" width="272.0" height="13.1" fill="#E5E5E5"/>
<line x1="49.3" y1="576.2" x2="49.3" y2="589.3" stroke="#fff" stroke-width="1"/>
<line x1="81.8" y1="576.2" x2="81.8" y2="589.3" stroke="#fff" stroke-width="1"/>
<line x1="114.3" y1="576.2" x2="114.3" y2="589.3" stroke="#fff" stroke-width="1"/>
<line x1="146.8" y1="576.2" x2="146.8" y2="589.3" stroke="#fff" stroke-width="1"/>
<line x1="179.3" y1="576.2" x2="179.3" y2="589.3" stroke="#fff" stroke-width="1"/>
<line x1="211.8" y1="576.2" x2="211.8" y2="589.3" stroke="#fff" stroke-width="1"/>
<line x1="244.3" y1="576.2" x2="244.3" y2="589.3" stroke="#fff" stroke-width="1"/>
<line x1="276.8" y1="576.2" x2="276.8" y2="589.3" stroke="#fff" stroke-width="1"/>
<line x1="309.3" y1="576.2" x2="309.3" y2="589.3" stroke="#fff" stroke-width="1"/>
<rect x="43.2" y="593.0" width="272.0" height="13.1" fill="#E5E5E5"/>
<line x1="49.3" y1="593.0" x2="49.3" y2="606.1" stroke="#fff" stroke-width="1"/>
<line x1="81.8" y1="593.0" x2="81.8" y2="606.1" stroke="#fff" stroke-width="1"/>
<line x1="114.3" y1="593.0" x2="114.3" y2="606.1" stroke="#fff" stroke-width="1"/>
<line x1="146.8" y1="593.0" x2="146.8" y2="606.1" stroke="#fff" stroke-width="1"/>
<line x1="179.3" y1="593.0" x2="179.3" y2="606.1" stroke="#fff" stroke-width="1"/>
<line x1="211.8" y1="593.0" x2="211.8" y2="606.1" stroke="#fff" stroke-width="1"/>
<line x1="244.3" y1="593.0" x2="244.3" y2="606.1" stroke="#fff" stroke-width="1"/>
<line x1="276.8" y1="593.0" x2="276.8" y2="606.1" stroke="#fff" stroke-width="1"/>
<line x1="309.3" y1="593.0" x2="309.3" y2="606.1" stroke="#fff" stroke-width="1"/>
<rect x="43.2" y="609.8" width="272.0" height="13.1" fill="#E5E5E5"/>
<line x1="49.3" y1="609.8" x2="49.3" y2="622.9" stroke="#fff" stroke-width="1"/>
<line x1="81.8" y1="609.8" x2="81.8" y2="622.9" stroke="#fff" stroke-width="1"/>
<line x1="114.3" y1="609.8" x2="114.3" y2="622.9" stroke="#fff" stroke-width="1"/>
<line x1="146.8" y1="609.8" x2="146.8" y2="622.9" stroke="#fff" stroke-width="1"/>
<line x1="179.3" y1="609.8" x2="179.3" y2="622.9" stroke="#fff" stroke-width="1"/>
<line x1="211.8" y1="609.8" x2="211.8" y2="622.9" stroke="#fff" stroke-width="1"/>
<line x1="244.3" y1="609.8" x2="244.3" y2="622.9" stroke="#fff" stroke-width="1"/>
<line x1="276.8" y1="609.8" x2="276.8" y2="622.9" stroke="#fff" stroke-width="1"/>
<line x1="309.3" y1="609.8" x2="309.3" y2="622.9" stroke="#fff" stroke-width="1"/>
<rect x="43.2" y="626.6" width="272.0" height="13.1" fill="#E5E5E5"/>
<line x1="49.3" y1="626.6" x2="49.3" y2="639.8" stroke="#fff" stroke-width="1"/>
<line x1="81.8" y1="626.6" x2="81.8" y2="639.8" stroke="#fff" stroke-width="1"/>
<line x1="114.3" y1="626.6" x2="114.3" y2="639.8" stroke="#fff" stroke-width="1"/>
<line x1="146.8" y1="626.6" x2="146.8" y2="639.8" stroke="#fff" stroke-width="1"/>
<line x1="179.3" y1="626.6" x2="179.3" y2="639.8" stroke="#fff" stroke-width="1"/>
<line x1="211.8" y1="626.6" x2="211.8" y2="639.8" stroke="#fff" stroke-width="1"/>
<line x1="244.3" y1="626.6" x2="244.3" y2="639.8" stroke="#fff" stroke-width="1"/>
<line x1="276.8" y1="626.6" x2="276.8" y2="639.8" stroke="#fff" stroke-width="1"/>
<line x1="309.3" y1="626.6" x2="309.3" y2="639.8" stroke="#fff" stroke-width="1"/>
<rect x="43.2" y="643.5" width="272.0" height="13.1" fill="#E5E5E5"/>
<line x1="49.3" y1="643.5" x2="49.3" y2="656.6" stroke="#fff" stroke-width="1"/>
<line x1="81.8" y1="643.5" x2="81.8" y2="656.6" stroke="#fff" stroke-width="1"/>
<line x1="114.3" y1="643.5" x2="114.3" y2="656.6" stroke="#fff" stroke-width="1"/>
<line x1="146.8" y1="643.5" x2="146.8" y2="656.6" stroke="#fff" stroke-width="1"/>
<line x1="179.3" y1="643.5" x2="179.3" y2="656.6" stroke="#fff" stroke-width="1"/>
<line x1="211.8" y1="643.5" x2="211.8" y2="656.6" stroke="#fff" stroke-width="1"/>
<line x1="244.3" y1="643.5" x2="244.3" y2="656.6" stroke="#fff" stroke-width="1"/>
<line x1="276.8" y1="643.5" x2="276.8" y2="656.6" stroke="#fff" stroke-width="1"/>
<line x1="309.3" y1="643.5" x2="309.3" y2="656.6" stroke="#fff" stroke-width="1"/>
<rect x="43.2" y="660.3" width="272.0" height="13.1" fill="#E5E5E5"/>
<line x1="49.3" y1="660.3" x2="49.3" y2="673.4" stroke="#fff" stroke-width="1"/>
<line x1="81.8" y1="660.3" x2="81.8" y2="673.4" stroke="#fff" stroke-width="1"/>
<line x1="114.3" y1="660.3" x2="114.3" y2="673.4" stroke="#fff" stroke-width="1"/>
<line x1="146.8" y1="660.3" x2="146.8" y2="673.4" stroke="#fff" stroke-width="1"/>
<line x1="179.3" y1="660.3" x2="179.3" y2="673.4" stroke="#fff" stroke-width="1"/>
<line x1="211.8" y1="660.3" x2="211.8" y2="673.4" stroke="#fff" stroke-width="1"/>
<line x1="244.3" y1="660.3" x2="244.3" y2="673.4" stroke="#fff" stroke-width="1"/>
<line x1="276.8" y1="660.3" x2="276.8" y2="673.4" stroke="#fff" stroke-width="1"/>
<line x1="309.3" y1="660.3" x2="309.3" y2="673.4" stroke="#fff" stroke-width="1"/>
<rect x="43.2" y="677.1" width="272.0" height="13.1" fill="#E5E5E5"/>
<line x1="49.3" y1="677.1" x2="49.3" y2="690.2" stroke="#fff" stroke-width="1"/>
<line x1="81.8" y1="677.1" x2="81.8" y2="690.2" stroke="#fff" stroke-width="1"/>
<line x1="114.3" y1="677.1" x2="114.3" y2="690.2" stroke="#fff" stroke-width="1"/>
<line x1="146.8" y1="677.1" x2="146.8" y2="690.2" stroke="#fff" stroke-width="1"/>
<line x1="179.3" y1="677.1" x2="179.3" y2="690.2" stroke="#fff" stroke-width="1"/>
<line x1="211.8" y1="677.1" x2="211.8" y2="690.2" stroke="#fff" stroke-width="1"/>
<line x1="244.3" y1="677.1" x2="244.3" y2="690.2" stroke="#fff" stroke-width="1"/>
<line x1="276.8" y1="677.1" x2="276.8" y2="690.2" stroke="#fff" stroke-width="1"/>
<line x1="309.3" y1="677.1" x2="309.3" y2="690.2" stroke="#fff" stroke-width="1"/>
<rect x="43.2" y="693.9" width="272.0" height="13.1" fill="#E5E5E5"/>
<line x1="49.3" y1="693.9" x2="49.3" y2="707.0" stroke="#fff" stroke-width="1"/>
<line x1="81.8" y1="693.9" x2="81.8" y2="707.0" stroke="#fff" stroke-width="1"/>
<line x1="114.3" y1="693.9" x2="114.3" y2="707.0" stroke="#fff" stroke-width="1"/>
<line x1="146.8" y1="693.9" x2="146.8" y2="707.0" stroke="#fff" stroke-width="1"/>
<line x1="179.3" y1="693.9" x2="179.3" y2="707.0" stroke="#fff" stroke-width="1"/>
<line x1="211.8" y1="693.9" x2="211.8" y2="707.0" stroke="#fff" stroke-width="1"/>
<line x1="244.3" y1="693.9" x2="244.3" y2="707.0" stroke="#fff" stroke-width="1"/>
<line x1="276.8" y1="693.9" x2="276.8" y2="707.0" stroke="#fff" stroke-width="1"/>
<line x1="309.3" y1="693.9" x2="309.3" y2="707.0" stroke="#fff" stroke-width="1"/>
<rect x="43.2" y="710.7" width="272.0" height="13.1" fill="#E5E5E5"/>
<line x1="49.3" y1="710.7" x2="49.3" y2="723.8" stroke="#fff" stroke-width="1"/>
<line x1="81.8" y1="710.7" x2="81.8" y2="723.8" stroke="#fff" stroke-width="1"/>
<line x1="114.3" y1="710.7" x2="114.3" y2="723.8" stroke="#fff" stroke-width="1"/>
<line x1="146.8" y1="710.7" x2="146.8" y2="723.8" stroke="#fff" stroke-width="1"/>
<line x1="179.3" y1="710.7" x2="179.3" y2="723.8" stroke="#fff" stroke-width="1"/>
<line x1="211.8" y1="710.7" x2="211.8" y2="723.8" stroke="#fff" stroke-width="1"/>
<line x1="244.3" y1="710.7" x2="244.3" y2="723.8" stroke="#fff" stroke-width="1"/>
<line x1="276.8" y1="710.7" x2="276.8" y2="723.8" stroke="#fff" stroke-width="1"/>
<line x1="309.3" y1="710.7" x2="309.3" y2="723.8" stroke="#fff" stroke-width="1"/>
<line x1="49.3" y1="539.9" x2="49.3" y2="542.2" stroke="#333" stroke-width="0.9"/>
<line x1="81.8" y1="539.9" x2="81.8" y2="542.2" stroke="#333" stroke-width="0.9"/>
<line x1="114.3" y1="539.9" x2="114.3" y2="542.2" stroke="#333" stroke-width="0.9"/>
<line x1="146.8" y1="539.9" x2="146.8" y2="542.2" stroke="#333" stroke-width="0.9"/>
<line x1="179.3" y1="539.9" x2="179.3" y2="542.2" stroke="#333" stroke-width="0.9"/>
<line x1="211.8" y1="539.9" x2="211.8" y2="542.2" stroke="#333" stroke-width="0.9"/>
<line x1="244.3" y1="539.9" x2="244.3" y2="542.2" stroke="#333" stroke-width="0.9"/>
<line x1="276.8" y1="539.9" x2="276.8" y2="542.2" stroke="#333" stroke-width="0.9"/>
<line x1="309.3" y1="539.9" x2="309.3" y2="542.2" stroke="#333" stroke-width="0.9"/>
<line x1="49.3" y1="556.7" x2="49.3" y2="559.0" stroke="#333" stroke-width="0.9"/>
<line x1="81.8" y1="556.7" x2="81.8" y2="559.0" stroke="#333" stroke-width="0.9"/>
<line x1="114.3" y1="556.7" x2="114.3" y2="559.0" stroke="#333" stroke-width="0.9"/>
<line x1="146.8" y1="556.7" x2="146.8" y2="559.0" stroke="#333" stroke-width="0.9"/>
<line x1="179.3" y1="556.7" x2="179.3" y2="559.0" stroke="#333" stroke-width="0.9"/>
<line x1="211.8" y1="556.7" x2="211.8" y2="559.0" stroke="#333" stroke-width="0.9"/>
<line x1="244.3" y1="556.7" x2="244.3" y2="559.0" stroke="#333" stroke-width="0.9"/>
<line x1="276.8" y1="556.7" x2="276.8" y2="559.0" stroke="#333" stroke-width="0.9"/>
<line x1="309.3" y1="556.7" x2="309.3" y2="559.0" stroke="#333" stroke-width="0.9"/>
<line x1="49.3" y1="573.5" x2="49.3" y2="575.8" stroke="#333" stroke-width="0.9"/>
<line x1="81.8" y1="573.5" x2="81.8" y2="575.8" stroke="#333" stroke-width="0.9"/>
<line x1="114.3" y1="573.5" x2="114.3" y2="575.8" stroke="#333" stroke-width="0.9"/>
<line x1="146.8" y1="573.5" x2="146.8" y2="575.8" stroke="#333" stroke-width="0.9"/>
<line x1="179.3" y1="573.5" x2="179.3" y2="575.8" stroke="#333" stroke-width="0.9"/>
<line x1="211.8" y1="573.5" x2="211.8" y2="575.8" stroke="#333" stroke-width="0.9"/>
<line x1="244.3" y1="573.5" x2="244.3" y2="575.8" stroke="#333" stroke-width="0.9"/>
<line x1="276.8" y1="573.5" x2="276.8" y2="575.8" stroke="#333" stroke-width="0.9"/>
<line x1="309.3" y1="573.5" x2="309.3" y2="575.8" stroke="#333" stroke-width="0.9"/>
<line x1="49.3" y1="590.3" x2="49.3" y2="592.6" stroke="#333" stroke-width="0.9"/>
<line x1="81.8" y1="590.3" x2="81.8" y2="592.6" stroke="#333" stroke-width="0.9"/>
<line x1="114.3" y1="590.3" x2="114.3" y2="592.6" stroke="#333" stroke-width="0.9"/>
<line x1="146.8" y1="590.3" x2="146.8" y2="592.6" stroke="#333" stroke-width="0.9"/>
<line x1="179.3" y1="590.3" x2="179.3" y2="592.6" stroke="#333" stroke-width="0.9"/>
<line x1="211.8" y1="590.3" x2="211.8" y2="592.6" stroke="#333" stroke-width="0.9"/>
<line x1="244.3" y1="590.3" x2="244.3" y2="592.6" stroke="#333" stroke-width="0.9"/>
<line x1="276.8" y1="590.3" x2="276.8" y2="592.6" stroke="#333" stroke-width="0.9"/>
<line x1="309.3" y1="590.3" x2="309.3" y2="592.6" stroke="#333" stroke-width="0.9"/>
<line x1="49.3" y1="607.1" x2="49.3" y2="609.4" stroke="#333" stroke-width="0.9"/>
<line x1="81.8" y1="607.1" x2="81.8" y2="609.4" stroke="#333" stroke-width="0.9"/>
<line x1="114.3" y1="607.1" x2="114.3" y2="609.4" stroke="#333" stroke-width="0.9"/>
<line x1="146.8" y1="607.1" x2="146.8" y2="609.4" stroke="#333" stroke-width="0.9"/>
<line x1="179.3" y1="607.1" x2="179.3" y2="609.4" stroke="#333" stroke-width="0.9"/>
<line x1="211.8" y1="607.1" x2="211.8" y2="609.4" stroke="#333" stroke-width="0.9"/>
<line x1="244.3" y1="607.1" x2="244.3" y2="609.4" stroke="#333" stroke-width="0.9"/>
<line x1="276.8" y1="607.1" x2="276.8" y2="609.4" stroke="#333" stroke-width="0.9"/>
<line x1="309.3" y1="607.1" x2="309.3" y2="609.4" stroke="#333" stroke-width="0.9"/>
<line x1="49.3" y1="623.9" x2="49.3" y2="626.2" stroke="#333" stroke-width="0.9"/>
<line x1="81.8" y1="623.9" x2="81.8" y2="626.2" stroke="#333" stroke-width="0.9"/>
<line x1="114.3" y1="623.9" x2="114.3" y2="626.2" stroke="#333" stroke-width="0.9"/>
<line x1="146.8" y1="623.9" x2="146.8" y2="626.2" stroke="#333" stroke-width="0.9"/>
<line x1="179.3" y1="623.9" x2="179.3" y2="626.2" stroke="#333" stroke-width="0.9"/>
<line x1="211.8" y1="623.9" x2="211.8" y2="626.2" stroke="#333" stroke-width="0.9"/>
<line x1="244.3" y1="623.9" x2="244.3" y2="626.2" stroke="#333" stroke-width="0.9"/>
<line x1="276.8" y1="623.9" x2="276.8" y2="626.2" stroke="#333" stroke-width="0.9"/>
<line x1="309.3" y1="623.9" x2="309.3" y2="626.2" stroke="#333" stroke-width="0.9"/>
<line x1="49.3" y1="640.8" x2="49.3" y2="643.1" stroke="#333" stroke-width="0.9"/>
<line x1="81.8" y1="640.8" x2="81.8" y2="643.1" stroke="#333" stroke-width="0.9"/>
<line x1="114.3" y1="640.8" x2="114.3" y2="643.1" stroke="#333" stroke-width="0.9"/>
<line x1="146.8" y1="640.8" x2="146.8" y2="643.1" stroke="#333" stroke-width="0.9"/>
<line x1="179.3" y1="640.8" x2="179.3" y2="643.1" stroke="#333" stroke-width="0.9"/>
<line x1="211.8" y1="640.8" x2="211.8" y2="643.1" stroke="#333" stroke-width="0.9"/>
<line x1="244.3" y1="640.8" x2="244.3" y2="643.1" stroke="#333" stroke-width="0.9"/>
<line x1="276.8" y1="640.8" x2="276.8" y2="643.1" stroke="#333" stroke-width="0.9"/>
<line x1="309.3" y1="640.8" x2="309.3" y2="643.1" stroke="#333" stroke-width="0.9"/>
<line x1="49.3" y1="657.6" x2="49.3" y2="659.9" stroke="#333" stroke-width="0.9"/>
<line x1="81.8" y1="657.6" x2="81.8" y2="659.9" stroke="#333" stroke-width="0.9"/>
<line x1="114.3" y1="657.6" x2="114.3" y2="659.9" stroke="#333" stroke-width="0.9"/>
<line x1="146.8" y1="657.6" x2="146.8" y2="659.9" stroke="#333" stroke-width="0.9"/>
<line x1="179.3" y1="657.6" x2="179.3" y2="659.9" stroke="#333" stroke-width="0.9"/>
<line x1="211.8" y1="657.6" x2="211.8" y2="659.9" stroke="#333" stroke-width="0.9"/>
<line x1="244.3" y1="657.6" x2="244.3" y2="659.9" stroke="#333" stroke-width="0.9"/>
<line x1="276.8" y1="657.6" x2="276.8" y2="659.9" stroke="#333" stroke-width="0.9"/>
<line x1="309.3" y1="657.6" x2="309.3" y2="659.9" stroke="#333" stroke-width="0.9"/>
<line x1="49.3" y1="674.4" x2="49.3" y2="676.7" stroke="#333" stroke-width="0.9"/>
<line x1="81.8" y1="674.4" x2="81.8" y2="676.7" stroke="#333" stroke-width="0.9"/>
<line x1="114.3" y1="674.4" x2="114.3" y2="676.7" stroke="#333" stroke-width="0.9"/>
<line x1="146.8" y1="674.4" x2="146.8" y2="676.7" stroke="#333" stroke-width="0.9"/>
<line x1="179.3" y1="674.4" x2="179.3" y2="676.7" stroke="#333" stroke-width="0.9"/>
<line x1="211.8" y1="674.4" x2="211.8" y2="676.7" stroke="#333" stroke-width="0.9"/>
<line x1="244.3" y1="674.4" x2="244.3" y2="676.7" stroke="#333" stroke-width="0.9"/>
<line x1="276.8" y1="674.4" x2="276.8" y2="676.7" stroke="#333" stroke-width="0.9"/>
<line x1="309.3" y1="674.4" x2="309.3" y2="676.7" stroke="#333" stroke-width="0.9"/>
<line x1="49.3" y1="691.2" x2="49.3" y2="693.5" stroke="#333" stroke-width="0.9"/>
<line x1="81.8" y1="691.2" x2="81.8" y2="693.5" stroke="#333" stroke-width="0.9"/>
<line x1="114.3" y1="691.2" x2="114.3" y2="693.5" stroke="#333" stroke-width="0.9"/>
<line x1="146.8" y1="691.2" x2="146.8" y2="693.5" stroke="#333" stroke-width="0.9"/>
<line x1="179.3" y1="691.2" x2="179.3" y2="693.5" stroke="#333" stroke-width="0.9"/>
<line x1="211.8" y1="691.2" x2="211.8" y2="693.5" stroke="#333" stroke-width="0.9"/>
<line x1="244.3" y1="691.2" x2="244.3" y2="693.5" stroke="#333" stroke-width="0.9"/>
<line x1="276.8" y1="691.2" x2="276.8" y2="693.5" stroke="#333" stroke-width="0.9"/>
<line x1="309.3" y1="691.2" x2="309.3" y2="693.5" stroke="#333" stroke-width="0.9"/>
<line x1="49.3" y1="708.0" x2="49.3" y2="710.3" stroke="#333" stroke-width="0.9"/>
<line x1="81.8" y1="708.0" x2="81.8" y2="710.3" stroke="#333" stroke-width="0.9"/>
<line x1="114.3" y1="708.0" x2="114.3" y2="710.3" stroke="#333" stroke-width="0.9"/>
<line x1="146.8" y1="708.0" x2="146.8" y2="710.3" stroke="#333" stroke-width="0.9"/>
<line x1="179.3" y1="708.0" x2="179.3" y2="710.3" stroke="#333" stroke-width="0.9"/>
<line x1="211.8" y1="708.0" x2="211.8" y2="710.3" stroke="#333" stroke-width="0.9"/>
<line x1="244.3" y1="708.0" x2="244.3" y2="710.3" stroke="#333" stroke-width="0.9"/>
<line x1="276.8" y1="708.0" x2="276.8" y2="710.3" stroke="#333" stroke-width="0.9"/>
<line x1="309.3" y1="708.0" x2="309.3" y2="710.3" stroke="#333" stroke-width="0.9"/>
<line x1="49.3" y1="724.2" x2="49.3" y2="726.5" stroke="#333" stroke-width="0.9"/>
<line x1="81.8" y1="724.2" x2="81.8" y2="726.5" stroke="#333" stroke-width="0.9"/>
<line x1="114.3" y1="724.2" x2="114.3" y2="726.5" stroke="#333" stroke-width="0.9"/>
<line x1="146.8" y1="724.2" x2="146.8" y2="726.5" stroke="#333" stroke-width="0.9"/>
<line x1="179.3" y1="724.2" x2="179.3" y2="726.5" stroke="#333" stroke-width="0.9"/>
<line x1="211.8" y1="724.2" x2="211.8" y2="726.5" stroke="#333" stroke-width="0.9"/>
<line x1="244.3" y1="724.2" x2="244.3" y2="726.5" stroke="#333" stroke-width="0.9"/>
<line x1="276.8" y1="724.2" x2="276.8" y2="726.5" stroke="#333" stroke-width="0.9"/>
<line x1="309.3" y1="724.2" x2="309.3" y2="726.5" stroke="#333" stroke-width="0.9"/>
<rect x="85.9" y="542.6" width="1.3" height="13.1" fill="#B8860B" fill-opacity="0.86"/>
<rect x="130.0" y="542.6" width="1.3" height="13.1" fill="#B8860B" fill-opacity="0.86"/>
<rect x="142.0" y="542.6" width="1.3" height="13.1" fill="#B8860B" fill-opacity="0.73"/>
<rect x="155.1" y="542.6" width="1.3" height="13.1" fill="#B8860B" fill-opacity="0.63"/>
<rect x="168.2" y="542.6" width="1.3" height="13.1" fill="#B8860B" fill-opacity="0.52"/>
<rect x="176.6" y="542.6" width="1.3" height="13.1" fill="#B8860B" fill-opacity="0.67"/>
<rect x="85.9" y="559.4" width="1.3" height="13.1" fill="#B8860B" fill-opacity="0.68"/>
<rect x="130.0" y="559.4" width="1.3" height="13.1" fill="#B8860B" fill-opacity="0.52"/>
<rect x="142.5" y="559.4" width="1.3" height="13.1" fill="#B8860B" fill-opacity="0.52"/>
<rect x="156.3" y="559.4" width="1.3" height="13.1" fill="#B8860B" fill-opacity="0.95"/>
<rect x="167.8" y="559.4" width="1.3" height="13.1" fill="#B8860B" fill-opacity="0.79"/>
<rect x="169.4" y="559.4" width="1.3" height="13.1" fill="#B8860B" fill-opacity="0.61"/>
<rect x="175.9" y="559.4" width="1.3" height="13.1" fill="#B8860B" fill-opacity="0.70"/>
<rect x="84.7" y="576.2" width="1.3" height="13.1" fill="#B8860B" fill-opacity="0.94"/>
<rect x="114.1" y="576.2" width="1.3" height="13.1" fill="#B8860B" fill-opacity="0.90"/>
<rect x="130.0" y="576.2" width="1.3" height="13.1" fill="#B8860B" fill-opacity="0.88"/>
<rect x="142.5" y="576.2" width="1.3" height="13.1" fill="#B8860B" fill-opacity="0.68"/>
<rect x="155.6" y="576.2" width="1.3" height="13.1" fill="#B8860B" fill-opacity="0.72"/>
<rect x="167.0" y="576.2" width="1.3" height="13.1" fill="#B8860B" fill-opacity="0.80"/>
<rect x="170.6" y="576.2" width="1.3" height="13.1" fill="#B8860B" fill-opacity="0.53"/>
<rect x="175.9" y="576.2" width="1.3" height="13.1" fill="#B8860B" fill-opacity="0.75"/>
<rect x="85.9" y="593.0" width="1.3" height="13.1" fill="#B8860B" fill-opacity="0.62"/>
<rect x="130.0" y="593.0" width="1.3" height="13.1" fill="#B8860B" fill-opacity="0.90"/>
<rect x="134.1" y="593.0" width="1.3" height="13.1" fill="#B8860B" fill-opacity="0.53"/>
<rect x="142.5" y="593.0" width="1.3" height="13.1" fill="#B8860B" fill-opacity="0.81"/>
<rect x="152.7" y="593.0" width="1.3" height="13.1" fill="#B8860B" fill-opacity="0.89"/>
<rect x="167.0" y="593.0" width="1.3" height="13.1" fill="#B8860B" fill-opacity="0.60"/>
<rect x="169.4" y="593.0" width="1.3" height="13.1" fill="#B8860B" fill-opacity="0.90"/>
<rect x="172.3" y="593.0" width="1.3" height="13.1" fill="#B8860B" fill-opacity="0.89"/>
<rect x="176.6" y="593.0" width="1.3" height="13.1" fill="#B8860B" fill-opacity="0.51"/>
<rect x="85.9" y="609.8" width="1.3" height="13.1" fill="#B8860B" fill-opacity="0.82"/>
<rect x="128.8" y="609.8" width="1.3" height="13.1" fill="#B8860B" fill-opacity="0.50"/>
<rect x="142.5" y="609.8" width="1.3" height="13.1" fill="#B8860B" fill-opacity="0.73"/>
<rect x="164.6" y="609.8" width="1.3" height="13.1" fill="#B8860B" fill-opacity="0.70"/>
<rect x="167.0" y="609.8" width="1.3" height="13.1" fill="#B8860B" fill-opacity="0.59"/>
<rect x="170.6" y="609.8" width="1.3" height="13.1" fill="#B8860B" fill-opacity="0.65"/>
<rect x="177.8" y="609.8" width="1.3" height="13.1" fill="#B8860B" fill-opacity="0.86"/>
<rect x="85.9" y="626.6" width="1.3" height="13.1" fill="#B8860B" fill-opacity="0.64"/>
<rect x="130.0" y="626.6" width="1.3" height="13.1" fill="#B8860B" fill-opacity="0.57"/>
<rect x="142.5" y="626.6" width="1.3" height="13.1" fill="#B8860B" fill-opacity="0.81"/>
<rect x="167.0" y="626.6" width="1.3" height="13.1" fill="#B8860B" fill-opacity="0.70"/>
<rect x="171.1" y="626.6" width="1.3" height="13.1" fill="#B8860B" fill-opacity="0.86"/>
<rect x="174.9" y="626.6" width="1.3" height="13.1" fill="#B8860B" fill-opacity="0.61"/>
<rect x="86.4" y="643.5" width="1.3" height="13.1" fill="#B8860B" fill-opacity="0.64"/>
<rect x="102.1" y="643.5" width="1.3" height="13.1" fill="#B8860B" fill-opacity="0.86"/>
<rect x="130.0" y="643.5" width="1.3" height="13.1" fill="#B8860B" fill-opacity="0.73"/>
<rect x="142.5" y="643.5" width="1.3" height="13.1" fill="#B8860B" fill-opacity="0.73"/>
<rect x="166.6" y="643.5" width="1.3" height="13.1" fill="#B8860B" fill-opacity="0.61"/>
<rect x="173.0" y="643.5" width="1.3" height="13.1" fill="#B8860B" fill-opacity="0.51"/>
<rect x="176.6" y="643.5" width="1.3" height="13.1" fill="#B8860B" fill-opacity="0.92"/>
<rect x="85.2" y="660.3" width="1.3" height="13.1" fill="#B8860B" fill-opacity="0.54"/>
<rect x="121.7" y="660.3" width="1.3" height="13.1" fill="#B8860B" fill-opacity="0.88"/>
<rect x="142.5" y="660.3" width="1.3" height="13.1" fill="#B8860B" fill-opacity="0.67"/>
<rect x="169.4" y="660.3" width="1.3" height="13.1" fill="#B8860B" fill-opacity="0.93"/>
<rect x="171.8" y="660.3" width="1.3" height="13.1" fill="#B8860B" fill-opacity="0.68"/>
<rect x="176.6" y="660.3" width="1.3" height="13.1" fill="#B8860B" fill-opacity="0.92"/>
<rect x="84.7" y="677.1" width="1.3" height="13.1" fill="#B8860B" fill-opacity="0.75"/>
<rect x="150.3" y="677.1" width="1.3" height="13.1" fill="#B8860B" fill-opacity="0.61"/>
<rect x="142.5" y="677.1" width="1.3" height="13.1" fill="#B8860B" fill-opacity="0.83"/>
<rect x="168.2" y="677.1" width="1.3" height="13.1" fill="#B8860B" fill-opacity="0.80"/>
<rect x="170.1" y="677.1" width="1.3" height="13.1" fill="#B8860B" fill-opacity="0.81"/>
<rect x="171.8" y="677.1" width="1.3" height="13.1" fill="#B8860B" fill-opacity="0.71"/>
<rect x="177.8" y="677.1" width="1.3" height="13.1" fill="#B8860B" fill-opacity="0.60"/>
<rect x="69.2" y="693.9" width="1.3" height="13.1" fill="#B8860B" fill-opacity="0.79"/>
<rect x="84.0" y="693.9" width="1.3" height="13.1" fill="#B8860B" fill-opacity="0.55"/>
<rect x="143.2" y="693.9" width="1.3" height="13.1" fill="#B8860B" fill-opacity="0.81"/>
<rect x="167.5" y="693.9" width="1.3" height="13.1" fill="#B8860B" fill-opacity="0.79"/>
<rect x="170.1" y="693.9" width="1.3" height="13.1" fill="#B8860B" fill-opacity="0.67"/>
<rect x="173.0" y="693.9" width="1.3" height="13.1" fill="#B8860B" fill-opacity="0.86"/>
<rect x="176.6" y="693.9" width="1.3" height="13.1" fill="#B8860B" fill-opacity="0.59"/>
<rect x="176.7" y="542.6" width="1.3" height="13.1" fill="#B8860B" fill-opacity="0.68"/>
<rect x="180.3" y="542.6" width="1.3" height="13.1" fill="#B8860B" fill-opacity="0.86"/>
<rect x="183.9" y="542.6" width="1.3" height="13.1" fill="#B8860B" fill-opacity="0.67"/>
<rect x="192.2" y="542.6" width="2.4" height="13.1" fill="#B8860B" fill-opacity="0.85"/>
<rect x="197.7" y="542.6" width="1.3" height="13.1" fill="#B8860B" fill-opacity="0.82"/>
<rect x="203.0" y="542.6" width="1.3" height="13.1" fill="#B8860B" fill-opacity="0.78"/>
<rect x="204.8" y="542.6" width="1.9" height="13.1" fill="#B8860B" fill-opacity="0.85"/>
<rect x="212.5" y="542.6" width="1.3" height="13.1" fill="#B8860B" fill-opacity="0.92"/>
<rect x="222.0" y="542.6" width="1.3" height="13.1" fill="#B8860B" fill-opacity="0.95"/>
<rect x="230.4" y="542.6" width="1.3" height="13.1" fill="#B8860B" fill-opacity="0.83"/>
<rect x="244.7" y="542.6" width="1.3" height="13.1" fill="#B8860B" fill-opacity="0.86"/>
<rect x="245.9" y="542.6" width="1.3" height="13.1" fill="#B8860B" fill-opacity="0.57"/>
<rect x="254.2" y="542.6" width="1.3" height="13.1" fill="#B8860B" fill-opacity="0.82"/>
<rect x="280.5" y="542.6" width="1.3" height="13.1" fill="#B8860B" fill-opacity="0.88"/>
<rect x="309.1" y="542.6" width="1.3" height="13.1" fill="#B8860B" fill-opacity="0.68"/>
<rect x="310.3" y="542.6" width="1.3" height="13.1" fill="#B8860B" fill-opacity="0.75"/>
<rect x="174.3" y="559.4" width="1.3" height="13.1" fill="#B8860B" fill-opacity="0.72"/>
<rect x="182.7" y="559.4" width="1.3" height="13.1" fill="#B8860B" fill-opacity="0.93"/>
<rect x="192.2" y="559.4" width="1.9" height="13.1" fill="#B8860B" fill-opacity="0.85"/>
<rect x="197.0" y="559.4" width="1.3" height="13.1" fill="#B8860B" fill-opacity="0.64"/>
<rect x="200.6" y="559.4" width="1.3" height="13.1" fill="#B8860B" fill-opacity="0.68"/>
<rect x="204.2" y="559.4" width="1.3" height="13.1" fill="#B8860B" fill-opacity="0.50"/>
<rect x="205.5" y="559.4" width="1.4" height="13.1" fill="#B8860B" fill-opacity="0.85"/>
<rect x="212.0" y="559.4" width="1.3" height="13.1" fill="#B8860B" fill-opacity="0.69"/>
<rect x="224.0" y="559.4" width="1.3" height="13.1" fill="#B8860B" fill-opacity="0.78"/>
<rect x="230.3" y="559.4" width="1.9" height="13.1" fill="#B8860B" fill-opacity="0.85"/>
<rect x="244.7" y="559.4" width="1.3" height="13.1" fill="#B8860B" fill-opacity="0.92"/>
<rect x="246.4" y="559.4" width="1.3" height="13.1" fill="#B8860B" fill-opacity="0.92"/>
<rect x="248.3" y="559.4" width="1.3" height="13.1" fill="#B8860B" fill-opacity="0.65"/>
<rect x="281.7" y="559.4" width="1.3" height="13.1" fill="#B8860B" fill-opacity="0.94"/>
<rect x="309.1" y="559.4" width="1.3" height="13.1" fill="#B8860B" fill-opacity="0.58"/>
<rect x="310.3" y="559.4" width="1.3" height="13.1" fill="#B8860B" fill-opacity="0.87"/>
<rect x="176.3" y="576.2" width="1.3" height="13.1" fill="#B8860B" fill-opacity="0.57"/>
<rect x="189.8" y="576.2" width="3.3" height="13.1" fill="#B8860B" fill-opacity="0.4"/>
<rect x="189.8" y="576.2" width="1.1" height="13.1" fill="#B8860B" fill-opacity="0.48"/>
<rect x="192.1" y="576.2" width="1.4" height="13.1" fill="#B8860B" fill-opacity="0.51"/>
<rect x="195.8" y="576.2" width="1.3" height="13.1" fill="#B8860B" fill-opacity="0.62"/>
<rect x="198.2" y="576.2" width="1.3" height="13.1" fill="#B8860B" fill-opacity="0.72"/>
<rect x="200.6" y="576.2" width="1.3" height="13.1" fill="#B8860B" fill-opacity="0.75"/>
<rect x="204.2" y="576.2" width="1.3" height="13.1" fill="#B8860B" fill-opacity="0.55"/>
<rect x="205.8" y="576.2" width="1.3" height="13.1" fill="#B8860B" fill-opacity="0.89"/>
<rect x="212.5" y="576.2" width="1.3" height="13.1" fill="#B8860B" fill-opacity="0.63"/>
<rect x="229.1" y="576.2" width="1.9" height="13.1" fill="#B8860B" fill-opacity="0.85"/>
<rect x="245.9" y="576.2" width="1.3" height="13.1" fill="#B8860B" fill-opacity="0.70"/>
<rect x="251.9" y="576.2" width="1.3" height="13.1" fill="#B8860B" fill-opacity="0.53"/>
<rect x="280.5" y="576.2" width="1.3" height="13.1" fill="#B8860B" fill-opacity="0.50"/>
<rect x="282.9" y="576.2" width="1.3" height="13.1" fill="#B8860B" fill-opacity="0.59"/>
<rect x="309.1" y="576.2" width="1.3" height="13.1" fill="#B8860B" fill-opacity="0.65"/>
<rect x="310.8" y="576.2" width="1.3" height="13.1" fill="#B8860B" fill-opacity="0.92"/>
<rect x="176.7" y="593.0" width="1.3" height="13.1" fill="#B8860B" fill-opacity="0.90"/>
<rect x="183.9" y="593.0" width="1.3" height="13.1" fill="#B8860B" fill-opacity="0.72"/>
<rect x="192.2" y="593.0" width="1.9" height="13.1" fill="#B8860B" fill-opacity="0.85"/>
<rect x="197.0" y="593.0" width="1.3" height="13.1" fill="#B8860B" fill-opacity="0.70"/>
<rect x="198.2" y="593.0" width="1.3" height="13.1" fill="#B8860B" fill-opacity="0.80"/>
<rect x="203.0" y="593.0" width="1.3" height="13.1" fill="#B8860B" fill-opacity="0.89"/>
<rect x="204.9" y="593.0" width="1.3" height="13.1" fill="#B8860B" fill-opacity="0.65"/>
<rect x="212.5" y="593.0" width="1.3" height="13.1" fill="#B8860B" fill-opacity="0.86"/>
<rect x="224.0" y="593.0" width="1.3" height="13.1" fill="#B8860B" fill-opacity="0.68"/>
<rect x="231.3" y="593.0" width="2.4" height="13.1" fill="#B8860B" fill-opacity="0.85"/>
<rect x="245.9" y="593.0" width="1.3" height="13.1" fill="#B8860B" fill-opacity="0.77"/>
<rect x="268.6" y="593.0" width="1.3" height="13.1" fill="#B8860B" fill-opacity="0.83"/>
<rect x="281.7" y="593.0" width="1.3" height="13.1" fill="#B8860B" fill-opacity="0.73"/>
<rect x="309.1" y="593.0" width="1.3" height="13.1" fill="#B8860B" fill-opacity="0.81"/>
<rect x="310.3" y="593.0" width="1.3" height="13.1" fill="#B8860B" fill-opacity="0.81"/>
<rect x="178.6" y="609.8" width="1.3" height="13.1" fill="#B8860B" fill-opacity="0.50"/>
<rect x="183.9" y="609.8" width="1.3" height="13.1" fill="#B8860B" fill-opacity="0.52"/>
<rect x="191.2" y="609.8" width="14.8" height="13.1" fill="#B8860B" fill-opacity="0.4"/>
<rect x="191.2" y="609.8" width="0.8" height="13.1" fill="#B8860B" fill-opacity="0.55"/>
<rect x="192.6" y="609.8" width="0.7" height="13.1" fill="#B8860B" fill-opacity="0.55"/>
<rect x="194.3" y="609.8" width="1.5" height="13.1" fill="#B8860B" fill-opacity="0.61"/>
<rect x="196.5" y="609.8" width="1.1" height="13.1" fill="#B8860B" fill-opacity="0.76"/>
<rect x="198.7" y="609.8" width="1.5" height="13.1" fill="#B8860B" fill-opacity="0.62"/>
<rect x="201.3" y="609.8" width="1.0" height="13.1" fill="#B8860B" fill-opacity="0.82"/>
<rect x="202.9" y="609.8" width="1.5" height="13.1" fill="#B8860B" fill-opacity="0.68"/>
<rect x="205.5" y="609.8" width="1.2" height="13.1" fill="#B8860B" fill-opacity="0.59"/>
<rect x="212.5" y="609.8" width="1.3" height="13.1" fill="#B8860B" fill-opacity="0.52"/>
<rect x="224.4" y="609.8" width="1.3" height="13.1" fill="#B8860B" fill-opacity="0.52"/>
<rect x="229.2" y="609.8" width="1.3" height="13.1" fill="#B8860B" fill-opacity="0.74"/>
<rect x="248.3" y="609.8" width="1.3" height="13.1" fill="#B8860B" fill-opacity="0.71"/>
<rect x="280.5" y="609.8" width="1.3" height="13.1" fill="#B8860B" fill-opacity="0.87"/>
<rect x="288.3" y="609.8" width="1.3" height="13.1" fill="#B8860B" fill-opacity="0.51"/>
<rect x="290.7" y="609.8" width="1.3" height="13.1" fill="#B8860B" fill-opacity="0.75"/>
<rect x="309.1" y="609.8" width="1.3" height="13.1" fill="#B8860B" fill-opacity="0.72"/>
<rect x="310.8" y="609.8" width="1.3" height="13.1" fill="#B8860B" fill-opacity="0.77"/>
<rect x="174.3" y="626.6" width="1.3" height="13.1" fill="#B8860B" fill-opacity="0.83"/>
<rect x="178.6" y="626.6" width="1.3" height="13.1" fill="#B8860B" fill-opacity="0.74"/>
<rect x="190.7" y="626.6" width="15.3" height="13.1" fill="#B8860B" fill-opacity="0.4"/>
<rect x="190.7" y="626.6" width="1.2" height="13.1" fill="#B8860B" fill-opacity="0.67"/>
<rect x="192.9" y="626.6" width="0.9" height="13.1" fill="#B8860B" fill-opacity="0.70"/>
<rect x="194.9" y="626.6" width="0.9" height="13.1" fill="#B8860B" fill-opacity="0.90"/>
<rect x="196.9" y="626.6" width="1.6" height="13.1" fill="#B8860B" fill-opacity="0.58"/>
<rect x="199.2" y="626.6" width="0.9" height="13.1" fill="#B8860B" fill-opacity="0.47"/>
<rect x="200.5" y="626.6" width="0.9" height="13.1" fill="#B8860B" fill-opacity="0.84"/>
<rect x="201.9" y="626.6" width="1.3" height="13.1" fill="#B8860B" fill-opacity="0.56"/>
<rect x="203.6" y="626.6" width="0.9" height="13.1" fill="#B8860B" fill-opacity="0.76"/>
<rect x="205.3" y="626.6" width="1.2" height="13.1" fill="#B8860B" fill-opacity="0.65"/>
<rect x="212.0" y="626.6" width="1.3" height="13.1" fill="#B8860B" fill-opacity="0.72"/>
<rect x="224.9" y="626.6" width="1.3" height="13.1" fill="#B8860B" fill-opacity="0.92"/>
<rect x="250.2" y="626.6" width="1.3" height="13.1" fill="#B8860B" fill-opacity="0.59"/>
<rect x="279.8" y="626.6" width="1.3" height="13.1" fill="#B8860B" fill-opacity="0.83"/>
<rect x="176.3" y="643.5" width="1.3" height="13.1" fill="#B8860B" fill-opacity="0.61"/>
<rect x="183.9" y="643.5" width="1.3" height="13.1" fill="#B8860B" fill-opacity="0.59"/>
<rect x="187.5" y="643.5" width="1.3" height="13.1" fill="#B8860B" fill-opacity="0.65"/>
<rect x="192.2" y="643.5" width="13.8" height="13.1" fill="#B8860B" fill-opacity="0.4"/>
<rect x="192.2" y="643.5" width="0.8" height="13.1" fill="#B8860B" fill-opacity="0.87"/>
<rect x="193.7" y="643.5" width="0.9" height="13.1" fill="#B8860B" fill-opacity="0.45"/>
<rect x="194.9" y="643.5" width="0.9" height="13.1" fill="#B8860B" fill-opacity="0.64"/>
<rect x="196.7" y="643.5" width="1.6" height="13.1" fill="#B8860B" fill-opacity="0.85"/>
<rect x="198.9" y="643.5" width="1.3" height="13.1" fill="#B8860B" fill-opacity="0.86"/>
<rect x="200.5" y="643.5" width="1.5" height="13.1" fill="#B8860B" fill-opacity="0.63"/>
<rect x="203.2" y="643.5" width="1.0" height="13.1" fill="#B8860B" fill-opacity="0.73"/>
<rect x="205.0" y="643.5" width="0.8" height="13.1" fill="#B8860B" fill-opacity="0.79"/>
<rect x="212.0" y="643.5" width="1.3" height="13.1" fill="#B8860B" fill-opacity="0.72"/>
<rect x="223.2" y="643.5" width="1.3" height="13.1" fill="#B8860B" fill-opacity="0.67"/>
<rect x="226.3" y="643.5" width="1.3" height="13.1" fill="#B8860B" fill-opacity="0.93"/>
<rect x="249.5" y="643.5" width="1.3" height="13.1" fill="#B8860B" fill-opacity="0.67"/>
<rect x="278.1" y="643.5" width="1.3" height="13.1" fill="#B8860B" fill-opacity="0.90"/>
<rect x="176.7" y="660.3" width="1.3" height="13.1" fill="#B8860B" fill-opacity="0.69"/>
<rect x="183.9" y="660.3" width="1.3" height="13.1" fill="#B8860B" fill-opacity="0.67"/>
<rect x="188.7" y="660.3" width="1.3" height="13.1" fill="#B8860B" fill-opacity="0.66"/>
<rect x="192.9" y="660.3" width="13.1" height="13.1" fill="#B8860B" fill-opacity="0.4"/>
<rect x="192.9" y="660.3" width="0.8" height="13.1" fill="#B8860B" fill-opacity="0.57"/>
<rect x="194.2" y="660.3" width="0.8" height="13.1" fill="#B8860B" fill-opacity="0.69"/>
<rect x="195.7" y="660.3" width="0.7" height="13.1" fill="#B8860B" fill-opacity="0.52"/>
<rect x="197.8" y="660.3" width="0.8" height="13.1" fill="#B8860B" fill-opacity="0.62"/>
<rect x="199.9" y="660.3" width="0.8" height="13.1" fill="#B8860B" fill-opacity="0.63"/>
<rect x="201.9" y="660.3" width="0.7" height="13.1" fill="#B8860B" fill-opacity="0.48"/>
<rect x="204.0" y="660.3" width="1.3" height="13.1" fill="#B8860B" fill-opacity="0.57"/>
<rect x="212.5" y="660.3" width="1.3" height="13.1" fill="#B8860B" fill-opacity="0.61"/>
<rect x="226.8" y="660.3" width="1.3" height="13.1" fill="#B8860B" fill-opacity="0.90"/>
<rect x="249.5" y="660.3" width="1.3" height="13.1" fill="#B8860B" fill-opacity="0.93"/>
<rect x="175.5" y="677.1" width="1.3" height="13.1" fill="#B8860B" fill-opacity="0.53"/>
<rect x="178.6" y="677.1" width="1.3" height="13.1" fill="#B8860B" fill-opacity="0.74"/>
<rect x="182.7" y="677.1" width="1.3" height="13.1" fill="#B8860B" fill-opacity="0.58"/>
<rect x="190.7" y="677.1" width="15.3" height="13.1" fill="#B8860B" fill-opacity="0.4"/>
<rect x="190.7" y="677.1" width="1.1" height="13.1" fill="#B8860B" fill-opacity="0.78"/>
<rect x="192.9" y="677.1" width="0.9" height="13.1" fill="#B8860B" fill-opacity="0.60"/>
<rect x="194.5" y="677.1" width="1.0" height="13.1" fill="#B8860B" fill-opacity="0.76"/>
<rect x="196.7" y="677.1" width="1.0" height="13.1" fill="#B8860B" fill-opacity="0.65"/>
<rect x="198.1" y="677.1" width="1.0" height="13.1" fill="#B8860B" fill-opacity="0.88"/>
<rect x="200.0" y="677.1" width="1.2" height="13.1" fill="#B8860B" fill-opacity="0.72"/>
<rect x="202.1" y="677.1" width="1.4" height="13.1" fill="#B8860B" fill-opacity="0.57"/>
<rect x="204.2" y="677.1" width="1.5" height="13.1" fill="#B8860B" fill-opacity="0.67"/>
<rect x="208.9" y="677.1" width="1.3" height="13.1" fill="#B8860B" fill-opacity="0.56"/>
<rect x="212.5" y="677.1" width="1.3" height="13.1" fill="#B8860B" fill-opacity="0.85"/>
<rect x="227.0" y="677.1" width="2.4" height="13.1" fill="#B8860B" fill-opacity="0.85"/>
<rect x="250.2" y="677.1" width="1.3" height="13.1" fill="#B8860B" fill-opacity="0.71"/>
<rect x="174.3" y="693.9" width="1.3" height="13.1" fill="#B8860B" fill-opacity="0.71"/>
<rect x="176.7" y="693.9" width="1.3" height="13.1" fill="#B8860B" fill-opacity="0.90"/>
<rect x="185.1" y="693.9" width="1.3" height="13.1" fill="#B8860B" fill-opacity="0.56"/>
<rect x="187.5" y="693.9" width="1.3" height="13.1" fill="#B8860B" fill-opacity="0.73"/>
<rect x="191.2" y="693.9" width="6.4" height="13.1" fill="#B8860B" fill-opacity="0.4"/>
<rect x="191.2" y="693.9" width="0.9" height="13.1" fill="#B8860B" fill-opacity="0.60"/>
<rect x="193.3" y="693.9" width="1.1" height="13.1" fill="#B8860B" fill-opacity="0.80"/>
<rect x="194.7" y="693.9" width="1.6" height="13.1" fill="#B8860B" fill-opacity="0.88"/>
<rect x="210.1" y="693.9" width="1.3" height="13.1" fill="#B8860B" fill-opacity="0.59"/>
<rect x="244.7" y="693.9" width="1.3" height="13.1" fill="#B8860B" fill-opacity="0.80"/>
<rect x="246.4" y="693.9" width="1.3" height="13.1" fill="#B8860B" fill-opacity="0.59"/>
<rect x="177.2" y="710.7" width="4.3" height="13.1" fill="#D6CC5C"/>
<rect x="178.2" y="710.7" width="2.1" height="13.1" fill="#A8960F"/>
<text x="49.3" y="735.6" text-anchor="middle" font-family='"Liberation Sans", sans-serif' font-size="7.6" fill="#555">−10.0</text>
<text x="81.8" y="735.6" text-anchor="middle" font-family='"Liberation Sans", sans-serif' font-size="7.6" fill="#555">−7.5</text>
<text x="114.3" y="735.6" text-anchor="middle" font-family='"Liberation Sans", sans-serif' font-size="7.6" fill="#555">−5.0</text>
<text x="146.8" y="735.6" text-anchor="middle" font-family='"Liberation Sans", sans-serif' font-size="7.6" fill="#555">−2.5</text>
<text x="179.3" y="735.6" text-anchor="middle" font-family='"Liberation Sans", sans-serif' font-size="7.6" fill="#555">0.0</text>
<text x="211.8" y="735.6" text-anchor="middle" font-family='"Liberation Sans", sans-serif' font-size="7.6" fill="#555">2.5</text>
<text x="244.3" y="735.6" text-anchor="middle" font-family='"Liberation Sans", sans-serif' font-size="7.6" fill="#555">5.0</text>
<text x="276.8" y="735.6" text-anchor="middle" font-family='"Liberation Sans", sans-serif' font-size="7.6" fill="#555">7.5</text>
<text x="309.3" y="735.6" text-anchor="middle" font-family='"Liberation Sans", sans-serif' font-size="7.6" fill="#555">10.0</text>
<text x="179.2" y="745" text-anchor="middle" font-family='"Liberation Sans", sans-serif' font-style="italic" font-size="8.5" fill="#444">x</text>
<g transform="translate(37.7,633.5) rotate(-90)"><text x="0" y="0" text-anchor="middle" font-family='"Liberation Sans", sans-serif' font-size="9.2" fill="#555">Training (beginning --&gt; end)</text></g>
<text x="521.5" y="340.3" text-anchor="middle" textLength="119" lengthAdjust="spacingAndGlyphs" font-family='"Liberation Sans", sans-serif' font-size="14.6" fill="#1a1a1a">Test RMSE: 1.200</text>
<rect x="385.5" y="345.0" width="272.0" height="194.0" fill="#E5E5E5"/>
<line x1="391.6" y1="345.0" x2="391.6" y2="539.0" stroke="#fff" stroke-width="1"/>
<line x1="424.1" y1="345.0" x2="424.1" y2="539.0" stroke="#fff" stroke-width="1"/>
<line x1="456.6" y1="345.0" x2="456.6" y2="539.0" stroke="#fff" stroke-width="1"/>
<line x1="489.1" y1="345.0" x2="489.1" y2="539.0" stroke="#fff" stroke-width="1"/>
<line x1="521.6" y1="345.0" x2="521.6" y2="539.0" stroke="#fff" stroke-width="1"/>
<line x1="554.1" y1="345.0" x2="554.1" y2="539.0" stroke="#fff" stroke-width="1"/>
<line x1="586.6" y1="345.0" x2="586.6" y2="539.0" stroke="#fff" stroke-width="1"/>
<line x1="619.1" y1="345.0" x2="619.1" y2="539.0" stroke="#fff" stroke-width="1"/>
<line x1="651.6" y1="345.0" x2="651.6" y2="539.0" stroke="#fff" stroke-width="1"/>
<line x1="385.5" y1="534.3" x2="657.5" y2="534.3" stroke="#fff" stroke-width="1"/>
<line x1="382.9" y1="534.3" x2="385.5" y2="534.3" stroke="#444" stroke-width="0.8"/>
<text x="380.0" y="537.0" text-anchor="end" font-family='"Liberation Sans", sans-serif' font-size="7.6" fill="#555">0.0</text>
<line x1="385.5" y1="507.9" x2="657.5" y2="507.9" stroke="#fff" stroke-width="1"/>
<line x1="382.9" y1="507.9" x2="385.5" y2="507.9" stroke="#444" stroke-width="0.8"/>
<text x="380.0" y="510.6" text-anchor="end" font-family='"Liberation Sans", sans-serif' font-size="7.6" fill="#555">2.5</text>
<line x1="385.5" y1="481.5" x2="657.5" y2="481.5" stroke="#fff" stroke-width="1"/>
<line x1="382.9" y1="481.5" x2="385.5" y2="481.5" stroke="#444" stroke-width="0.8"/>
<text x="380.0" y="484.2" text-anchor="end" font-family='"Liberation Sans", sans-serif' font-size="7.6" fill="#555">5.0</text>
<line x1="385.5" y1="455.1" x2="657.5" y2="455.1" stroke="#fff" stroke-width="1"/>
<line x1="382.9" y1="455.1" x2="385.5" y2="455.1" stroke="#444" stroke-width="0.8"/>
<text x="380.0" y="457.8" text-anchor="end" font-family='"Liberation Sans", sans-serif' font-size="7.6" fill="#555">7.5</text>
<line x1="385.5" y1="428.7" x2="657.5" y2="428.7" stroke="#fff" stroke-width="1"/>
<line x1="382.9" y1="428.7" x2="385.5" y2="428.7" stroke="#444" stroke-width="0.8"/>
<text x="380.0" y="431.4" text-anchor="end" font-family='"Liberation Sans", sans-serif' font-size="7.6" fill="#555">10.0</text>
<line x1="385.5" y1="402.3" x2="657.5" y2="402.3" stroke="#fff" stroke-width="1"/>
<line x1="382.9" y1="402.3" x2="385.5" y2="402.3" stroke="#444" stroke-width="0.8"/>
<text x="380.0" y="405.0" text-anchor="end" font-family='"Liberation Sans", sans-serif' font-size="7.6" fill="#555">12.5</text>
<line x1="385.5" y1="375.9" x2="657.5" y2="375.9" stroke="#fff" stroke-width="1"/>
<line x1="382.9" y1="375.9" x2="385.5" y2="375.9" stroke="#444" stroke-width="0.8"/>
<text x="380.0" y="378.6" text-anchor="end" font-family='"Liberation Sans", sans-serif' font-size="7.6" fill="#555">15.0</text>
<line x1="385.5" y1="349.5" x2="657.5" y2="349.5" stroke="#fff" stroke-width="1"/>
<line x1="382.9" y1="349.5" x2="385.5" y2="349.5" stroke="#444" stroke-width="0.8"/>
<text x="380.0" y="352.2" text-anchor="end" font-family='"Liberation Sans", sans-serif' font-size="7.6" fill="#555">17.5</text>
<g transform="translate(360.0,442) rotate(-90)"><text x="0" y="0" text-anchor="middle" font-family='"Liberation Sans", sans-serif' font-style="italic" font-size="8.5" fill="#444">y</text></g>
<clipPath id="cp1"><rect x="385.5" y="345.0" width="272.0" height="194.0"/></clipPath>
<g clip-path="url(#cp1)">
<circle cx="396.8" cy="401.9" r="4.1" fill="#FF0000"/>
<circle cx="407.3" cy="451.2" r="4.1" fill="#FF0000"/>
<circle cx="409.9" cy="440.5" r="4.1" fill="#FF0000"/>
<circle cx="413.4" cy="421.2" r="4.1" fill="#FF0000"/>
<circle cx="422.3" cy="448.4" r="4.1" fill="#FF0000"/>
<circle cx="424.9" cy="466.1" r="4.1" fill="#FF0000"/>
<circle cx="428.4" cy="489.1" r="4.1" fill="#FF0000"/>
<circle cx="445.9" cy="469.7" r="4.1" fill="#FF0000"/>
<circle cx="460.0" cy="496.1" r="4.1" fill="#FF0000"/>
<circle cx="473.1" cy="505.8" r="4.1" fill="#FF0000"/>
<circle cx="484.6" cy="522.2" r="4.1" fill="#FF0000"/>
<circle cx="488.5" cy="517.9" r="4.1" fill="#FF0000"/>
<circle cx="495.0" cy="515.8" r="4.1" fill="#FF0000"/>
<circle cx="499.5" cy="519.5" r="4.1" fill="#FF0000"/>
<circle cx="504.1" cy="521.6" r="4.1" fill="#FF0000"/>
<circle cx="508.6" cy="519.0" r="4.1" fill="#FF0000"/>
<circle cx="517.7" cy="530.6" r="4.1" fill="#FF0000"/>
<circle cx="525.5" cy="534.8" r="4.1" fill="#FF0000"/>
<circle cx="529.4" cy="536.9" r="4.1" fill="#FF0000"/>
<circle cx="534.0" cy="532.7" r="4.1" fill="#FF0000"/>
<circle cx="537.9" cy="536.4" r="4.1" fill="#FF0000"/>
<circle cx="541.1" cy="531.7" r="4.1" fill="#FF0000"/>
<circle cx="546.3" cy="526.4" r="4.1" fill="#FF0000"/>
<circle cx="550.2" cy="523.7" r="4.1" fill="#FF0000"/>
<circle cx="554.1" cy="520.0" r="4.1" fill="#FF0000"/>
<circle cx="558.6" cy="521.1" r="4.1" fill="#FF0000"/>
<circle cx="561.9" cy="517.9" r="4.1" fill="#FF0000"/>
<circle cx="566.5" cy="516.3" r="4.1" fill="#FF0000"/>
<circle cx="569.1" cy="515.1" r="4.1" fill="#FF0000"/>
<circle cx="573.6" cy="515.8" r="4.1" fill="#FF0000"/>
<circle cx="591.8" cy="513.2" r="4.1" fill="#FF0000"/>
<circle cx="593.1" cy="508.2" r="4.1" fill="#FF0000"/>
<circle cx="596.9" cy="499.1" r="4.1" fill="#FF0000"/>
<circle cx="608.3" cy="499.1" r="4.1" fill="#FF0000"/>
<circle cx="617.5" cy="488.6" r="4.1" fill="#FF0000"/>
<circle cx="623.0" cy="467.3" r="4.1" fill="#FF0000"/>
<circle cx="632.9" cy="476.4" r="4.1" fill="#FF0000"/>
<circle cx="637.6" cy="493.1" r="4.1" fill="#FF0000"/>
<circle cx="642.1" cy="481.7" r="4.1" fill="#FF0000"/>
<circle cx="646.7" cy="454.5" r="4.1" fill="#FF0000"/>
<polyline points="391.0,366.4 391.8,371.5 392.7,377.0 393.6,382.9 394.5,389.0 395.3,395.5 396.2,402.5 397.1,410.0 398.0,417.3 398.8,424.7 399.7,432.0 400.6,438.3 401.5,443.7 402.3,449.0 403.2,453.5 404.1,456.3 405.0,456.7 405.8,456.0 406.7,454.5 407.6,452.6 408.5,450.3 409.3,447.9 410.2,443.3 411.1,436.9 412.0,430.1 412.8,424.4 413.7,421.4 414.6,421.3 415.5,421.5 416.3,422.0 417.2,422.6 418.1,423.4 419.0,424.4 419.8,427.2 420.7,431.7 421.6,437.1 422.5,442.9 423.3,448.5 424.2,454.3 425.1,460.7 426.0,467.2 426.8,473.2 427.7,478.8 428.6,484.8 429.5,489.1 430.3,489.8 431.2,489.5 432.1,488.9 433.0,488.1 433.8,487.1 434.7,485.9 435.6,483.0 436.5,478.3 437.3,473.4 438.2,469.6 439.1,467.6 440.0,465.7 440.8,464.3 441.7,463.5 442.6,463.6 443.5,464.7 444.3,466.4 445.2,468.6 446.1,471.0 447.0,473.2 447.8,475.9 448.7,479.2 449.6,482.8 450.5,486.4 451.3,489.7 452.2,492.4 453.1,494.3 454.0,496.1 454.8,497.7 455.7,499.0 456.6,499.9 457.5,500.1 458.3,499.8 459.2,499.2 460.1,498.3 461.0,497.3 461.8,496.2 462.7,495.2 463.6,494.2 464.5,493.4 465.3,492.9 466.2,492.8 467.1,493.1 468.0,493.7 468.8,494.6 469.7,495.7 470.6,496.9 471.5,498.3 472.3,500.2 473.2,502.8 474.1,505.6 475.0,508.2 475.8,510.3 476.7,512.5 477.6,514.7 478.5,516.9 479.3,518.9 480.2,520.6 481.1,521.9 482.0,522.7 482.8,522.9 483.7,522.9 484.6,522.8 485.5,522.7 486.3,522.5 487.2,522.4 488.1,522.2 489.0,522.0 489.8,521.6 490.7,521.0 491.6,520.2 492.5,519.3 493.4,518.4 494.2,517.6 495.1,517.0 496.0,516.7 496.9,516.7 497.7,516.8 498.6,516.9 499.5,517.1 500.4,517.3 501.2,517.6 502.1,517.8 503.0,518.1 503.9,518.4 504.7,518.7 505.6,518.9 506.5,519.2 507.4,519.5 508.2,519.8 509.1,520.2 510.0,520.5 510.9,520.9 511.7,521.2 512.6,521.6 513.5,522.1 514.4,522.5 515.2,523.0 516.1,523.5 517.0,524.2 517.9,524.9 518.7,525.7 519.6,526.5 520.5,527.4 521.4,528.2 522.2,529.0 523.1,529.8 524.0,530.5 524.9,531.0 525.7,531.5 526.6,532.0 527.5,532.4 528.4,532.9 529.2,533.3 530.1,533.8 531.0,534.1 531.9,534.4 532.7,534.6 533.6,534.8 534.5,534.8 535.4,534.8 536.2,534.5 537.1,534.2 538.0,533.8 538.9,533.3 539.7,532.7 540.6,532.2 541.5,531.6 542.4,531.0 543.2,530.4 544.1,529.9 545.0,529.4 545.9,528.8 546.7,528.2 547.6,527.6 548.5,527.0 549.4,526.4 550.2,525.7 551.1,525.1 552.0,524.5 552.9,523.9 553.7,523.3 554.6,522.8 555.5,522.3 556.4,521.9 557.2,521.5 558.1,521.1 559.0,520.7 559.9,520.2 560.7,519.8 561.6,519.4 562.5,519.0 563.4,518.6 564.2,518.3 565.1,517.9 566.0,517.6 566.9,517.3 567.7,517.1 568.6,516.9 569.5,516.7 570.4,516.6 571.2,516.6 572.1,516.6 573.0,516.9 573.9,517.4 574.7,518.1 575.6,518.8 576.5,519.5 577.4,520.1 578.2,520.6 579.1,521.1 580.0,521.6 580.9,522.1 581.7,522.5 582.6,522.9 583.5,523.2 584.4,523.3 585.2,523.2 586.1,522.8 587.0,522.2 587.9,521.3 588.7,520.3 589.6,519.2 590.5,518.0 591.4,516.2 592.2,513.9 593.1,511.4 594.0,508.8 594.9,506.4 595.8,504.3 596.6,502.7 597.5,501.0 598.4,499.3 599.3,497.7 600.1,496.3 601.0,495.1 601.9,494.3 602.8,493.9 603.6,494.0 604.5,494.4 605.4,495.1 606.3,495.9 607.1,496.7 608.0,497.4 608.9,498.0 609.8,498.7 610.6,499.3 611.5,499.7 612.4,499.9 613.3,499.4 614.1,498.3 615.0,496.9 615.9,495.1 616.8,493.2 617.6,491.3 618.5,489.0 619.4,486.0 620.3,482.7 621.1,479.4 622.0,476.3 622.9,473.7 623.8,471.4 624.6,469.0 625.5,466.9 626.4,465.2 627.3,464.4 628.1,464.5 629.0,465.4 629.9,466.9 630.8,468.8 631.6,470.8 632.5,473.0 633.4,476.2 634.3,480.2 635.1,484.3 636.0,487.8 636.9,490.2 637.8,490.8 638.6,490.4 639.5,489.6 640.4,488.5 641.3,487.1 642.1,484.8 643.0,481.0 643.9,476.2 644.8,470.9 645.6,465.1 646.5,457.8 647.4,449.8 648.3,442.2 649.1,436.2 650.0,431.2 650.9,426.7 651.8,422.9 652.6,419.7" fill="none" stroke="#000" stroke-width="4.2" stroke-linejoin="round"/>
<polyline points="391.6,524.8 521.6,534.3 652.2,517.9" fill="none" stroke="#0000E0" stroke-width="2.4" stroke-dasharray="7.4 3.4"/>
<polyline points="391.6,393.9 428.0,473.6 486.9,518.7 519.0,524.0 534.3,534.3 554.9,520.3 585.7,516.3 624.2,481.5 652.2,480.4" fill="none" stroke="#0000D8" stroke-width="2.2" stroke-linejoin="round"/>
</g>
<rect x="385.5" y="542.6" width="272.0" height="13.1" fill="#E5E5E5"/>
<line x1="391.6" y1="542.6" x2="391.6" y2="555.7" stroke="#fff" stroke-width="1"/>
<line x1="424.1" y1="542.6" x2="424.1" y2="555.7" stroke="#fff" stroke-width="1"/>
<line x1="456.6" y1="542.6" x2="456.6" y2="555.7" stroke="#fff" stroke-width="1"/>
<line x1="489.1" y1="542.6" x2="489.1" y2="555.7" stroke="#fff" stroke-width="1"/>
<line x1="521.6" y1="542.6" x2="521.6" y2="555.7" stroke="#fff" stroke-width="1"/>
<line x1="554.1" y1="542.6" x2="554.1" y2="555.7" stroke="#fff" stroke-width="1"/>
<line x1="586.6" y1="542.6" x2="586.6" y2="555.7" stroke="#fff" stroke-width="1"/>
<line x1="619.1" y1="542.6" x2="619.1" y2="555.7" stroke="#fff" stroke-width="1"/>
<line x1="651.6" y1="542.6" x2="651.6" y2="555.7" stroke="#fff" stroke-width="1"/>
<rect x="385.5" y="559.4" width="272.0" height="13.1" fill="#E5E5E5"/>
<line x1="391.6" y1="559.4" x2="391.6" y2="572.5" stroke="#fff" stroke-width="1"/>
<line x1="424.1" y1="559.4" x2="424.1" y2="572.5" stroke="#fff" stroke-width="1"/>
<line x1="456.6" y1="559.4" x2="456.6" y2="572.5" stroke="#fff" stroke-width="1"/>
<line x1="489.1" y1="559.4" x2="489.1" y2="572.5" stroke="#fff" stroke-width="1"/>
<line x1="521.6" y1="559.4" x2="521.6" y2="572.5" stroke="#fff" stroke-width="1"/>
<line x1="554.1" y1="559.4" x2="554.1" y2="572.5" stroke="#fff" stroke-width="1"/>
<line x1="586.6" y1="559.4" x2="586.6" y2="572.5" stroke="#fff" stroke-width="1"/>
<line x1="619.1" y1="559.4" x2="619.1" y2="572.5" stroke="#fff" stroke-width="1"/>
<line x1="651.6" y1="559.4" x2="651.6" y2="572.5" stroke="#fff" stroke-width="1"/>
<rect x="385.5" y="576.2" width="272.0" height="13.1" fill="#E5E5E5"/>
<line x1="391.6" y1="576.2" x2="391.6" y2="589.3" stroke="#fff" stroke-width="1"/>
<line x1="424.1" y1="576.2" x2="424.1" y2="589.3" stroke="#fff" stroke-width="1"/>
<line x1="456.6" y1="576.2" x2="456.6" y2="589.3" stroke="#fff" stroke-width="1"/>
<line x1="489.1" y1="576.2" x2="489.1" y2="589.3" stroke="#fff" stroke-width="1"/>
<line x1="521.6" y1="576.2" x2="521.6" y2="589.3" stroke="#fff" stroke-width="1"/>
<line x1="554.1" y1="576.2" x2="554.1" y2="589.3" stroke="#fff" stroke-width="1"/>
<line x1="586.6" y1="576.2" x2="586.6" y2="589.3" stroke="#fff" stroke-width="1"/>
<line x1="619.1" y1="576.2" x2="619.1" y2="589.3" stroke="#fff" stroke-width="1"/>
<line x1="651.6" y1="576.2" x2="651.6" y2="589.3" stroke="#fff" stroke-width="1"/>
<rect x="385.5" y="593.0" width="272.0" height="13.1" fill="#E5E5E5"/>
<line x1="391.6" y1="593.0" x2="391.6" y2="606.1" stroke="#fff" stroke-width="1"/>
<line x1="424.1" y1="593.0" x2="424.1" y2="606.1" stroke="#fff" stroke-width="1"/>
<line x1="456.6" y1="593.0" x2="456.6" y2="606.1" stroke="#fff" stroke-width="1"/>
<line x1="489.1" y1="593.0" x2="489.1" y2="606.1" stroke="#fff" stroke-width="1"/>
<line x1="521.6" y1="593.0" x2="521.6" y2="606.1" stroke="#fff" stroke-width="1"/>
<line x1="554.1" y1="593.0" x2="554.1" y2="606.1" stroke="#fff" stroke-width="1"/>
<line x1="586.6" y1="593.0" x2="586.6" y2="606.1" stroke="#fff" stroke-width="1"/>
<line x1="619.1" y1="593.0" x2="619.1" y2="606.1" stroke="#fff" stroke-width="1"/>
<line x1="651.6" y1="593.0" x2="651.6" y2="606.1" stroke="#fff" stroke-width="1"/>
<rect x="385.5" y="609.8" width="272.0" height="13.1" fill="#E5E5E5"/>
<line x1="391.6" y1="609.8" x2="391.6" y2="622.9" stroke="#fff" stroke-width="1"/>
<line x1="424.1" y1="609.8" x2="424.1" y2="622.9" stroke="#fff" stroke-width="1"/>
<line x1="456.6" y1="609.8" x2="456.6" y2="622.9" stroke="#fff" stroke-width="1"/>
<line x1="489.1" y1="609.8" x2="489.1" y2="622.9" stroke="#fff" stroke-width="1"/>
<line x1="521.6" y1="609.8" x2="521.6" y2="622.9" stroke="#fff" stroke-width="1"/>
<line x1="554.1" y1="609.8" x2="554.1" y2="622.9" stroke="#fff" stroke-width="1"/>
<line x1="586.6" y1="609.8" x2="586.6" y2="622.9" stroke="#fff" stroke-width="1"/>
<line x1="619.1" y1="609.8" x2="619.1" y2="622.9" stroke="#fff" stroke-width="1"/>
<line x1="651.6" y1="609.8" x2="651.6" y2="622.9" stroke="#fff" stroke-width="1"/>
<rect x="385.5" y="626.6" width="272.0" height="13.1" fill="#E5E5E5"/>
<line x1="391.6" y1="626.6" x2="391.6" y2="639.8" stroke="#fff" stroke-width="1"/>
<line x1="424.1" y1="626.6" x2="424.1" y2="639.8" stroke="#fff" stroke-width="1"/>
<line x1="456.6" y1="626.6" x2="456.6" y2="639.8" stroke="#fff" stroke-width="1"/>
<line x1="489.1" y1="626.6" x2="489.1" y2="639.8" stroke="#fff" stroke-width="1"/>
<line x1="521.6" y1="626.6" x2="521.6" y2="639.8" stroke="#fff" stroke-width="1"/>
<line x1="554.1" y1="626.6" x2="554.1" y2="639.8" stroke="#fff" stroke-width="1"/>
<line x1="586.6" y1="626.6" x2="586.6" y2="639.8" stroke="#fff" stroke-width="1"/>
<line x1="619.1" y1="626.6" x2="619.1" y2="639.8" stroke="#fff" stroke-width="1"/>
<line x1="651.6" y1="626.6" x2="651.6" y2="639.8" stroke="#fff" stroke-width="1"/>
<rect x="385.5" y="643.5" width="272.0" height="13.1" fill="#E5E5E5"/>
<line x1="391.6" y1="643.5" x2="391.6" y2="656.6" stroke="#fff" stroke-width="1"/>
<line x1="424.1" y1="643.5" x2="424.1" y2="656.6" stroke="#fff" stroke-width="1"/>
<line x1="456.6" y1="643.5" x2="456.6" y2="656.6" stroke="#fff" stroke-width="1"/>
<line x1="489.1" y1="643.5" x2="489.1" y2="656.6" stroke="#fff" stroke-width="1"/>
<line x1="521.6" y1="643.5" x2="521.6" y2="656.6" stroke="#fff" stroke-width="1"/>
<line x1="554.1" y1="643.5" x2="554.1" y2="656.6" stroke="#fff" stroke-width="1"/>
<line x1="586.6" y1="643.5" x2="586.6" y2="656.6" stroke="#fff" stroke-width="1"/>
<line x1="619.1" y1="643.5" x2="619.1" y2="656.6" stroke="#fff" stroke-width="1"/>
<line x1="651.6" y1="643.5" x2="651.6" y2="656.6" stroke="#fff" stroke-width="1"/>
<rect x="385.5" y="660.3" width="272.0" height="13.1" fill="#E5E5E5"/>
<line x1="391.6" y1="660.3" x2="391.6" y2="673.4" stroke="#fff" stroke-width="1"/>
<line x1="424.1" y1="660.3" x2="424.1" y2="673.4" stroke="#fff" stroke-width="1"/>
<line x1="456.6" y1="660.3" x2="456.6" y2="673.4" stroke="#fff" stroke-width="1"/>
<line x1="489.1" y1="660.3" x2="489.1" y2="673.4" stroke="#fff" stroke-width="1"/>
<line x1="521.6" y1="660.3" x2="521.6" y2="673.4" stroke="#fff" stroke-width="1"/>
<line x1="554.1" y1="660.3" x2="554.1" y2="673.4" stroke="#fff" stroke-width="1"/>
<line x1="586.6" y1="660.3" x2="586.6" y2="673.4" stroke="#fff" stroke-width="1"/>
<line x1="619.1" y1="660.3" x2="619.1" y2="673.4" stroke="#fff" stroke-width="1"/>
<line x1="651.6" y1="660.3" x2="651.6" y2="673.4" stroke="#fff" stroke-width="1"/>
<rect x="385.5" y="677.1" width="272.0" height="13.1" fill="#E5E5E5"/>
<line x1="391.6" y1="677.1" x2="391.6" y2="690.2" stroke="#fff" stroke-width="1"/>
<line x1="424.1" y1="677.1" x2="424.1" y2="690.2" stroke="#fff" stroke-width="1"/>
<line x1="456.6" y1="677.1" x2="456.6" y2="690.2" stroke="#fff" stroke-width="1"/>
<line x1="489.1" y1="677.1" x2="489.1" y2="690.2" stroke="#fff" stroke-width="1"/>
<line x1="521.6" y1="677.1" x2="521.6" y2="690.2" stroke="#fff" stroke-width="1"/>
<line x1="554.1" y1="677.1" x2="554.1" y2="690.2" stroke="#fff" stroke-width="1"/>
<line x1="586.6" y1="677.1" x2="586.6" y2="690.2" stroke="#fff" stroke-width="1"/>
<line x1="619.1" y1="677.1" x2="619.1" y2="690.2" stroke="#fff" stroke-width="1"/>
<line x1="651.6" y1="677.1" x2="651.6" y2="690.2" stroke="#fff" stroke-width="1"/>
<rect x="385.5" y="693.9" width="272.0" height="13.1" fill="#E5E5E5"/>
<line x1="391.6" y1="693.9" x2="391.6" y2="707.0" stroke="#fff" stroke-width="1"/>
<line x1="424.1" y1="693.9" x2="424.1" y2="707.0" stroke="#fff" stroke-width="1"/>
<line x1="456.6" y1="693.9" x2="456.6" y2="707.0" stroke="#fff" stroke-width="1"/>
<line x1="489.1" y1="693.9" x2="489.1" y2="707.0" stroke="#fff" stroke-width="1"/>
<line x1="521.6" y1="693.9" x2="521.6" y2="707.0" stroke="#fff" stroke-width="1"/>
<line x1="554.1" y1="693.9" x2="554.1" y2="707.0" stroke="#fff" stroke-width="1"/>
<line x1="586.6" y1="693.9" x2="586.6" y2="707.0" stroke="#fff" stroke-width="1"/>
<line x1="619.1" y1="693.9" x2="619.1" y2="707.0" stroke="#fff" stroke-width="1"/>
<line x1="651.6" y1="693.9" x2="651.6" y2="707.0" stroke="#fff" stroke-width="1"/>
<rect x="385.5" y="710.7" width="272.0" height="13.1" fill="#E5E5E5"/>
<line x1="391.6" y1="710.7" x2="391.6" y2="723.8" stroke="#fff" stroke-width="1"/>
<line x1="424.1" y1="710.7" x2="424.1" y2="723.8" stroke="#fff" stroke-width="1"/>
<line x1="456.6" y1="710.7" x2="456.6" y2="723.8" stroke="#fff" stroke-width="1"/>
<line x1="489.1" y1="710.7" x2="489.1" y2="723.8" stroke="#fff" stroke-width="1"/>
<line x1="521.6" y1="710.7" x2="521.6" y2="723.8" stroke="#fff" stroke-width="1"/>
<line x1="554.1" y1="710.7" x2="554.1" y2="723.8" stroke="#fff" stroke-width="1"/>
<line x1="586.6" y1="710.7" x2="586.6" y2="723.8" stroke="#fff" stroke-width="1"/>
<line x1="619.1" y1="710.7" x2="619.1" y2="723.8" stroke="#fff" stroke-width="1"/>
<line x1="651.6" y1="710.7" x2="651.6" y2="723.8" stroke="#fff" stroke-width="1"/>
<line x1="391.6" y1="539.9" x2="391.6" y2="542.2" stroke="#333" stroke-width="0.9"/>
<line x1="424.1" y1="539.9" x2="424.1" y2="542.2" stroke="#333" stroke-width="0.9"/>
<line x1="456.6" y1="539.9" x2="456.6" y2="542.2" stroke="#333" stroke-width="0.9"/>
<line x1="489.1" y1="539.9" x2="489.1" y2="542.2" stroke="#333" stroke-width="0.9"/>
<line x1="521.6" y1="539.9" x2="521.6" y2="542.2" stroke="#333" stroke-width="0.9"/>
<line x1="554.1" y1="539.9" x2="554.1" y2="542.2" stroke="#333" stroke-width="0.9"/>
<line x1="586.6" y1="539.9" x2="586.6" y2="542.2" stroke="#333" stroke-width="0.9"/>
<line x1="619.1" y1="539.9" x2="619.1" y2="542.2" stroke="#333" stroke-width="0.9"/>
<line x1="651.6" y1="539.9" x2="651.6" y2="542.2" stroke="#333" stroke-width="0.9"/>
<line x1="391.6" y1="556.7" x2="391.6" y2="559.0" stroke="#333" stroke-width="0.9"/>
<line x1="424.1" y1="556.7" x2="424.1" y2="559.0" stroke="#333" stroke-width="0.9"/>
<line x1="456.6" y1="556.7" x2="456.6" y2="559.0" stroke="#333" stroke-width="0.9"/>
<line x1="489.1" y1="556.7" x2="489.1" y2="559.0" stroke="#333" stroke-width="0.9"/>
<line x1="521.6" y1="556.7" x2="521.6" y2="559.0" stroke="#333" stroke-width="0.9"/>
<line x1="554.1" y1="556.7" x2="554.1" y2="559.0" stroke="#333" stroke-width="0.9"/>
<line x1="586.6" y1="556.7" x2="586.6" y2="559.0" stroke="#333" stroke-width="0.9"/>
<line x1="619.1" y1="556.7" x2="619.1" y2="559.0" stroke="#333" stroke-width="0.9"/>
<line x1="651.6" y1="556.7" x2="651.6" y2="559.0" stroke="#333" stroke-width="0.9"/>
<line x1="391.6" y1="573.5" x2="391.6" y2="575.8" stroke="#333" stroke-width="0.9"/>
<line x1="424.1" y1="573.5" x2="424.1" y2="575.8" stroke="#333" stroke-width="0.9"/>
<line x1="456.6" y1="573.5" x2="456.6" y2="575.8" stroke="#333" stroke-width="0.9"/>
<line x1="489.1" y1="573.5" x2="489.1" y2="575.8" stroke="#333" stroke-width="0.9"/>
<line x1="521.6" y1="573.5" x2="521.6" y2="575.8" stroke="#333" stroke-width="0.9"/>
<line x1="554.1" y1="573.5" x2="554.1" y2="575.8" stroke="#333" stroke-width="0.9"/>
<line x1="586.6" y1="573.5" x2="586.6" y2="575.8" stroke="#333" stroke-width="0.9"/>
<line x1="619.1" y1="573.5" x2="619.1" y2="575.8" stroke="#333" stroke-width="0.9"/>
<line x1="651.6" y1="573.5" x2="651.6" y2="575.8" stroke="#333" stroke-width="0.9"/>
<line x1="391.6" y1="590.3" x2="391.6" y2="592.6" stroke="#333" stroke-width="0.9"/>
<line x1="424.1" y1="590.3" x2="424.1" y2="592.6" stroke="#333" stroke-width="0.9"/>
<line x1="456.6" y1="590.3" x2="456.6" y2="592.6" stroke="#333" stroke-width="0.9"/>
<line x1="489.1" y1="590.3" x2="489.1" y2="592.6" stroke="#333" stroke-width="0.9"/>
<line x1="521.6" y1="590.3" x2="521.6" y2="592.6" stroke="#333" stroke-width="0.9"/>
<line x1="554.1" y1="590.3" x2="554.1" y2="592.6" stroke="#333" stroke-width="0.9"/>
<line x1="586.6" y1="590.3" x2="586.6" y2="592.6" stroke="#333" stroke-width="0.9"/>
<line x1="619.1" y1="590.3" x2="619.1" y2="592.6" stroke="#333" stroke-width="0.9"/>
<line x1="651.6" y1="590.3" x2="651.6" y2="592.6" stroke="#333" stroke-width="0.9"/>
<line x1="391.6" y1="607.1" x2="391.6" y2="609.4" stroke="#333" stroke-width="0.9"/>
<line x1="424.1" y1="607.1" x2="424.1" y2="609.4" stroke="#333" stroke-width="0.9"/>
<line x1="456.6" y1="607.1" x2="456.6" y2="609.4" stroke="#333" stroke-width="0.9"/>
<line x1="489.1" y1="607.1" x2="489.1" y2="609.4" stroke="#333" stroke-width="0.9"/>
<line x1="521.6" y1="607.1" x2="521.6" y2="609.4" stroke="#333" stroke-width="0.9"/>
<line x1="554.1" y1="607.1" x2="554.1" y2="609.4" stroke="#333" stroke-width="0.9"/>
<line x1="586.6" y1="607.1" x2="586.6" y2="609.4" stroke="#333" stroke-width="0.9"/>
<line x1="619.1" y1="607.1" x2="619.1" y2="609.4" stroke="#333" stroke-width="0.9"/>
<line x1="651.6" y1="607.1" x2="651.6" y2="609.4" stroke="#333" stroke-width="0.9"/>
<line x1="391.6" y1="623.9" x2="391.6" y2="626.2" stroke="#333" stroke-width="0.9"/>
<line x1="424.1" y1="623.9" x2="424.1" y2="626.2" stroke="#333" stroke-width="0.9"/>
<line x1="456.6" y1="623.9" x2="456.6" y2="626.2" stroke="#333" stroke-width="0.9"/>
<line x1="489.1" y1="623.9" x2="489.1" y2="626.2" stroke="#333" stroke-width="0.9"/>
<line x1="521.6" y1="623.9" x2="521.6" y2="626.2" stroke="#333" stroke-width="0.9"/>
<line x1="554.1" y1="623.9" x2="554.1" y2="626.2" stroke="#333" stroke-width="0.9"/>
<line x1="586.6" y1="623.9" x2="586.6" y2="626.2" stroke="#333" stroke-width="0.9"/>
<line x1="619.1" y1="623.9" x2="619.1" y2="626.2" stroke="#333" stroke-width="0.9"/>
<line x1="651.6" y1="623.9" x2="651.6" y2="626.2" stroke="#333" stroke-width="0.9"/>
<line x1="391.6" y1="640.8" x2="391.6" y2="643.1" stroke="#333" stroke-width="0.9"/>
<line x1="424.1" y1="640.8" x2="424.1" y2="643.1" stroke="#333" stroke-width="0.9"/>
<line x1="456.6" y1="640.8" x2="456.6" y2="643.1" stroke="#333" stroke-width="0.9"/>
<line x1="489.1" y1="640.8" x2="489.1" y2="643.1" stroke="#333" stroke-width="0.9"/>
<line x1="521.6" y1="640.8" x2="521.6" y2="643.1" stroke="#333" stroke-width="0.9"/>
<line x1="554.1" y1="640.8" x2="554.1" y2="643.1" stroke="#333" stroke-width="0.9"/>
<line x1="586.6" y1="640.8" x2="586.6" y2="643.1" stroke="#333" stroke-width="0.9"/>
<line x1="619.1" y1="640.8" x2="619.1" y2="643.1" stroke="#333" stroke-width="0.9"/>
<line x1="651.6" y1="640.8" x2="651.6" y2="643.1" stroke="#333" stroke-width="0.9"/>
<line x1="391.6" y1="657.6" x2="391.6" y2="659.9" stroke="#333" stroke-width="0.9"/>
<line x1="424.1" y1="657.6" x2="424.1" y2="659.9" stroke="#333" stroke-width="0.9"/>
<line x1="456.6" y1="657.6" x2="456.6" y2="659.9" stroke="#333" stroke-width="0.9"/>
<line x1="489.1" y1="657.6" x2="489.1" y2="659.9" stroke="#333" stroke-width="0.9"/>
<line x1="521.6" y1="657.6" x2="521.6" y2="659.9" stroke="#333" stroke-width="0.9"/>
<line x1="554.1" y1="657.6" x2="554.1" y2="659.9" stroke="#333" stroke-width="0.9"/>
<line x1="586.6" y1="657.6" x2="586.6" y2="659.9" stroke="#333" stroke-width="0.9"/>
<line x1="619.1" y1="657.6" x2="619.1" y2="659.9" stroke="#333" stroke-width="0.9"/>
<line x1="651.6" y1="657.6" x2="651.6" y2="659.9" stroke="#333" stroke-width="0.9"/>
<line x1="391.6" y1="674.4" x2="391.6" y2="676.7" stroke="#333" stroke-width="0.9"/>
<line x1="424.1" y1="674.4" x2="424.1" y2="676.7" stroke="#333" stroke-width="0.9"/>
<line x1="456.6" y1="674.4" x2="456.6" y2="676.7" stroke="#333" stroke-width="0.9"/>
<line x1="489.1" y1="674.4" x2="489.1" y2="676.7" stroke="#333" stroke-width="0.9"/>
<line x1="521.6" y1="674.4" x2="521.6" y2="676.7" stroke="#333" stroke-width="0.9"/>
<line x1="554.1" y1="674.4" x2="554.1" y2="676.7" stroke="#333" stroke-width="0.9"/>
<line x1="586.6" y1="674.4" x2="586.6" y2="676.7" stroke="#333" stroke-width="0.9"/>
<line x1="619.1" y1="674.4" x2="619.1" y2="676.7" stroke="#333" stroke-width="0.9"/>
<line x1="651.6" y1="674.4" x2="651.6" y2="676.7" stroke="#333" stroke-width="0.9"/>
<line x1="391.6" y1="691.2" x2="391.6" y2="693.5" stroke="#333" stroke-width="0.9"/>
<line x1="424.1" y1="691.2" x2="424.1" y2="693.5" stroke="#333" stroke-width="0.9"/>
<line x1="456.6" y1="691.2" x2="456.6" y2="693.5" stroke="#333" stroke-width="0.9"/>
<line x1="489.1" y1="691.2" x2="489.1" y2="693.5" stroke="#333" stroke-width="0.9"/>
<line x1="521.6" y1="691.2" x2="521.6" y2="693.5" stroke="#333" stroke-width="0.9"/>
<line x1="554.1" y1="691.2" x2="554.1" y2="693.5" stroke="#333" stroke-width="0.9"/>
<line x1="586.6" y1="691.2" x2="586.6" y2="693.5" stroke="#333" stroke-width="0.9"/>
<line x1="619.1" y1="691.2" x2="619.1" y2="693.5" stroke="#333" stroke-width="0.9"/>
<line x1="651.6" y1="691.2" x2="651.6" y2="693.5" stroke="#333" stroke-width="0.9"/>
<line x1="391.6" y1="708.0" x2="391.6" y2="710.3" stroke="#333" stroke-width="0.9"/>
<line x1="424.1" y1="708.0" x2="424.1" y2="710.3" stroke="#333" stroke-width="0.9"/>
<line x1="456.6" y1="708.0" x2="456.6" y2="710.3" stroke="#333" stroke-width="0.9"/>
<line x1="489.1" y1="708.0" x2="489.1" y2="710.3" stroke="#333" stroke-width="0.9"/>
<line x1="521.6" y1="708.0" x2="521.6" y2="710.3" stroke="#333" stroke-width="0.9"/>
<line x1="554.1" y1="708.0" x2="554.1" y2="710.3" stroke="#333" stroke-width="0.9"/>
<line x1="586.6" y1="708.0" x2="586.6" y2="710.3" stroke="#333" stroke-width="0.9"/>
<line x1="619.1" y1="708.0" x2="619.1" y2="710.3" stroke="#333" stroke-width="0.9"/>
<line x1="651.6" y1="708.0" x2="651.6" y2="710.3" stroke="#333" stroke-width="0.9"/>
<line x1="391.6" y1="724.2" x2="391.6" y2="726.5" stroke="#333" stroke-width="0.9"/>
<line x1="424.1" y1="724.2" x2="424.1" y2="726.5" stroke="#333" stroke-width="0.9"/>
<line x1="456.6" y1="724.2" x2="456.6" y2="726.5" stroke="#333" stroke-width="0.9"/>
<line x1="489.1" y1="724.2" x2="489.1" y2="726.5" stroke="#333" stroke-width="0.9"/>
<line x1="521.6" y1="724.2" x2="521.6" y2="726.5" stroke="#333" stroke-width="0.9"/>
<line x1="554.1" y1="724.2" x2="554.1" y2="726.5" stroke="#333" stroke-width="0.9"/>
<line x1="586.6" y1="724.2" x2="586.6" y2="726.5" stroke="#333" stroke-width="0.9"/>
<line x1="619.1" y1="724.2" x2="619.1" y2="726.5" stroke="#333" stroke-width="0.9"/>
<line x1="651.6" y1="724.2" x2="651.6" y2="726.5" stroke="#333" stroke-width="0.9"/>
<rect x="410.5" y="542.6" width="1.3" height="13.1" fill="#B8860B" fill-opacity="0.67"/>
<rect x="427.4" y="542.6" width="1.3" height="13.1" fill="#B8860B" fill-opacity="0.52"/>
<rect x="451.8" y="542.6" width="1.3" height="13.1" fill="#B8860B" fill-opacity="0.53"/>
<rect x="472.5" y="542.6" width="1.3" height="13.1" fill="#B8860B" fill-opacity="0.57"/>
<rect x="484.1" y="542.6" width="1.4" height="13.1" fill="#B8860B" fill-opacity="0.85"/>
<rect x="510.2" y="542.6" width="1.9" height="13.1" fill="#B8860B" fill-opacity="0.85"/>
<rect x="517.9" y="542.6" width="1.3" height="13.1" fill="#B8860B" fill-opacity="0.58"/>
<rect x="425.5" y="559.4" width="1.3" height="13.1" fill="#B8860B" fill-opacity="0.88"/>
<rect x="466.6" y="559.4" width="1.3" height="13.1" fill="#B8860B" fill-opacity="0.61"/>
<rect x="484.6" y="559.4" width="1.4" height="13.1" fill="#B8860B" fill-opacity="0.85"/>
<rect x="510.9" y="559.4" width="1.3" height="13.1" fill="#B8860B" fill-opacity="0.87"/>
<rect x="517.9" y="559.4" width="1.3" height="13.1" fill="#B8860B" fill-opacity="0.50"/>
<rect x="426.2" y="576.2" width="1.3" height="13.1" fill="#B8860B" fill-opacity="0.53"/>
<rect x="484.1" y="576.2" width="1.4" height="13.1" fill="#B8860B" fill-opacity="0.85"/>
<rect x="510.9" y="576.2" width="1.4" height="13.1" fill="#B8860B" fill-opacity="0.85"/>
<rect x="515.5" y="576.2" width="1.3" height="13.1" fill="#B8860B" fill-opacity="0.53"/>
<rect x="518.6" y="576.2" width="1.3" height="13.1" fill="#B8860B" fill-opacity="0.92"/>
<rect x="426.4" y="593.0" width="1.4" height="13.1" fill="#B8860B" fill-opacity="0.85"/>
<rect x="484.5" y="593.0" width="1.3" height="13.1" fill="#B8860B" fill-opacity="0.87"/>
<rect x="510.2" y="593.0" width="1.3" height="13.1" fill="#B8860B" fill-opacity="0.51"/>
<rect x="513.1" y="593.0" width="1.3" height="13.1" fill="#B8860B" fill-opacity="0.92"/>
<rect x="516.2" y="593.0" width="1.3" height="13.1" fill="#B8860B" fill-opacity="0.60"/>
<rect x="519.8" y="593.0" width="1.3" height="13.1" fill="#B8860B" fill-opacity="0.62"/>
<rect x="424.3" y="609.8" width="1.3" height="13.1" fill="#B8860B" fill-opacity="0.76"/>
<rect x="425.5" y="609.8" width="1.3" height="13.1" fill="#B8860B" fill-opacity="0.59"/>
<rect x="484.5" y="609.8" width="1.3" height="13.1" fill="#B8860B" fill-opacity="0.94"/>
<rect x="510.7" y="609.8" width="1.3" height="13.1" fill="#B8860B" fill-opacity="0.66"/>
<rect x="512.6" y="609.8" width="1.3" height="13.1" fill="#B8860B" fill-opacity="0.76"/>
<rect x="515.0" y="609.8" width="1.3" height="13.1" fill="#B8860B" fill-opacity="0.76"/>
<rect x="424.8" y="626.6" width="1.3" height="13.1" fill="#B8860B" fill-opacity="0.63"/>
<rect x="451.8" y="626.6" width="1.3" height="13.1" fill="#B8860B" fill-opacity="0.83"/>
<rect x="484.5" y="626.6" width="1.3" height="13.1" fill="#B8860B" fill-opacity="0.95"/>
<rect x="511.4" y="626.6" width="1.4" height="13.1" fill="#B8860B" fill-opacity="0.85"/>
<rect x="515.0" y="626.6" width="1.3" height="13.1" fill="#B8860B" fill-opacity="0.77"/>
<rect x="518.6" y="626.6" width="1.3" height="13.1" fill="#B8860B" fill-opacity="0.54"/>
<rect x="425.5" y="643.5" width="1.3" height="13.1" fill="#B8860B" fill-opacity="0.86"/>
<rect x="460.6" y="643.5" width="1.3" height="13.1" fill="#B8860B" fill-opacity="0.80"/>
<rect x="469.7" y="643.5" width="1.3" height="13.1" fill="#B8860B" fill-opacity="0.72"/>
<rect x="484.5" y="643.5" width="1.3" height="13.1" fill="#B8860B" fill-opacity="0.79"/>
<rect x="511.8" y="643.5" width="1.9" height="13.1" fill="#B8860B" fill-opacity="0.85"/>
<rect x="516.2" y="643.5" width="1.3" height="13.1" fill="#B8860B" fill-opacity="0.62"/>
<rect x="426.2" y="660.3" width="1.3" height="13.1" fill="#B8860B" fill-opacity="0.64"/>
<rect x="484.5" y="660.3" width="1.3" height="13.1" fill="#B8860B" fill-opacity="0.73"/>
<rect x="510.9" y="660.3" width="1.4" height="13.1" fill="#B8860B" fill-opacity="0.85"/>
<rect x="428.1" y="677.1" width="1.4" height="13.1" fill="#B8860B" fill-opacity="0.85"/>
<rect x="484.0" y="677.1" width="1.3" height="13.1" fill="#B8860B" fill-opacity="0.53"/>
<rect x="510.2" y="677.1" width="1.9" height="13.1" fill="#B8860B" fill-opacity="0.85"/>
<rect x="425.5" y="693.9" width="1.3" height="13.1" fill="#B8860B" fill-opacity="0.76"/>
<rect x="427.4" y="693.9" width="1.3" height="13.1" fill="#B8860B" fill-opacity="0.58"/>
<rect x="483.7" y="693.9" width="1.4" height="13.1" fill="#B8860B" fill-opacity="0.85"/>
<rect x="510.2" y="693.9" width="1.3" height="13.1" fill="#B8860B" fill-opacity="0.61"/>
<rect x="517.5" y="542.6" width="1.3" height="13.1" fill="#B8860B" fill-opacity="0.90"/>
<rect x="525.4" y="542.6" width="1.3" height="13.1" fill="#B8860B" fill-opacity="0.76"/>
<rect x="534.2" y="542.6" width="1.9" height="13.1" fill="#B8860B" fill-opacity="0.85"/>
<rect x="539.7" y="542.6" width="1.3" height="13.1" fill="#B8860B" fill-opacity="0.61"/>
<rect x="543.1" y="542.6" width="1.3" height="13.1" fill="#B8860B" fill-opacity="0.81"/>
<rect x="545.4" y="542.6" width="1.3" height="13.1" fill="#B8860B" fill-opacity="0.95"/>
<rect x="547.8" y="542.6" width="1.3" height="13.1" fill="#B8860B" fill-opacity="0.90"/>
<rect x="554.5" y="542.6" width="1.3" height="13.1" fill="#B8860B" fill-opacity="0.86"/>
<rect x="572.3" y="542.6" width="1.4" height="13.1" fill="#B8860B" fill-opacity="0.85"/>
<rect x="586.7" y="542.6" width="1.3" height="13.1" fill="#B8860B" fill-opacity="0.65"/>
<rect x="587.9" y="542.6" width="1.3" height="13.1" fill="#B8860B" fill-opacity="0.76"/>
<rect x="592.2" y="542.6" width="1.3" height="13.1" fill="#B8860B" fill-opacity="0.76"/>
<rect x="597.0" y="542.6" width="1.3" height="13.1" fill="#B8860B" fill-opacity="0.54"/>
<rect x="601.7" y="542.6" width="1.3" height="13.1" fill="#B8860B" fill-opacity="0.81"/>
<rect x="622.5" y="542.6" width="1.3" height="13.1" fill="#B8860B" fill-opacity="0.73"/>
<rect x="629.6" y="542.6" width="1.3" height="13.1" fill="#B8860B" fill-opacity="0.73"/>
<rect x="638.0" y="542.6" width="1.3" height="13.1" fill="#B8860B" fill-opacity="0.83"/>
<rect x="656.6" y="542.6" width="1.3" height="13.1" fill="#B8860B" fill-opacity="0.53"/>
<rect x="517.1" y="559.4" width="1.3" height="13.1" fill="#B8860B" fill-opacity="0.60"/>
<rect x="521.1" y="559.4" width="1.3" height="13.1" fill="#B8860B" fill-opacity="0.94"/>
<rect x="523.5" y="559.4" width="1.3" height="13.1" fill="#B8860B" fill-opacity="0.63"/>
<rect x="525.9" y="559.4" width="1.3" height="13.1" fill="#B8860B" fill-opacity="0.61"/>
<rect x="529.5" y="559.4" width="1.3" height="13.1" fill="#B8860B" fill-opacity="0.53"/>
<rect x="534.2" y="559.4" width="1.3" height="13.1" fill="#B8860B" fill-opacity="0.64"/>
<rect x="537.8" y="559.4" width="1.3" height="13.1" fill="#B8860B" fill-opacity="0.75"/>
<rect x="539.7" y="559.4" width="1.3" height="13.1" fill="#B8860B" fill-opacity="0.52"/>
<rect x="542.1" y="559.4" width="1.3" height="13.1" fill="#B8860B" fill-opacity="0.63"/>
<rect x="543.8" y="559.4" width="1.3" height="13.1" fill="#B8860B" fill-opacity="0.62"/>
<rect x="545.4" y="559.4" width="1.3" height="13.1" fill="#B8860B" fill-opacity="0.57"/>
<rect x="547.8" y="559.4" width="1.3" height="13.1" fill="#B8860B" fill-opacity="0.86"/>
<rect x="554.5" y="559.4" width="1.3" height="13.1" fill="#B8860B" fill-opacity="0.93"/>
<rect x="565.2" y="559.4" width="1.3" height="13.1" fill="#B8860B" fill-opacity="0.91"/>
<rect x="572.4" y="559.4" width="1.3" height="13.1" fill="#B8860B" fill-opacity="0.70"/>
<rect x="586.7" y="559.4" width="1.3" height="13.1" fill="#B8860B" fill-opacity="0.53"/>
<rect x="589.1" y="559.4" width="1.3" height="13.1" fill="#B8860B" fill-opacity="0.66"/>
<rect x="595.0" y="559.4" width="1.4" height="13.1" fill="#B8860B" fill-opacity="0.85"/>
<rect x="623.1" y="559.4" width="1.4" height="13.1" fill="#B8860B" fill-opacity="0.85"/>
<rect x="518.7" y="576.2" width="1.3" height="13.1" fill="#B8860B" fill-opacity="0.74"/>
<rect x="525.9" y="576.2" width="1.3" height="13.1" fill="#B8860B" fill-opacity="0.67"/>
<rect x="534.2" y="576.2" width="5.5" height="13.1" fill="#B8860B" fill-opacity="0.4"/>
<rect x="534.2" y="576.2" width="1.4" height="13.1" fill="#B8860B" fill-opacity="0.78"/>
<rect x="536.8" y="576.2" width="1.1" height="13.1" fill="#B8860B" fill-opacity="0.56"/>
<rect x="541.4" y="576.2" width="1.3" height="13.1" fill="#B8860B" fill-opacity="0.90"/>
<rect x="547.8" y="576.2" width="1.3" height="13.1" fill="#B8860B" fill-opacity="0.56"/>
<rect x="554.5" y="576.2" width="1.3" height="13.1" fill="#B8860B" fill-opacity="0.60"/>
<rect x="566.9" y="576.2" width="1.3" height="13.1" fill="#B8860B" fill-opacity="0.80"/>
<rect x="573.3" y="576.2" width="1.9" height="13.1" fill="#B8860B" fill-opacity="0.85"/>
<rect x="576.0" y="576.2" width="1.3" height="13.1" fill="#B8860B" fill-opacity="0.87"/>
<rect x="587.4" y="576.2" width="1.4" height="13.1" fill="#B8860B" fill-opacity="0.85"/>
<rect x="601.7" y="576.2" width="1.3" height="13.1" fill="#B8860B" fill-opacity="0.93"/>
<rect x="623.7" y="576.2" width="1.3" height="13.1" fill="#B8860B" fill-opacity="0.51"/>
<rect x="628.4" y="576.2" width="1.3" height="13.1" fill="#B8860B" fill-opacity="0.59"/>
<rect x="517.1" y="593.0" width="1.3" height="13.1" fill="#B8860B" fill-opacity="0.69"/>
<rect x="520.6" y="593.0" width="1.3" height="13.1" fill="#B8860B" fill-opacity="0.75"/>
<rect x="527.1" y="593.0" width="1.3" height="13.1" fill="#B8860B" fill-opacity="0.85"/>
<rect x="530.7" y="593.0" width="1.3" height="13.1" fill="#B8860B" fill-opacity="0.75"/>
<rect x="534.2" y="593.0" width="5.5" height="13.1" fill="#B8860B" fill-opacity="0.4"/>
<rect x="534.2" y="593.0" width="1.2" height="13.1" fill="#B8860B" fill-opacity="0.56"/>
<rect x="536.4" y="593.0" width="1.2" height="13.1" fill="#B8860B" fill-opacity="0.88"/>
<rect x="538.1" y="593.0" width="0.8" height="13.1" fill="#B8860B" fill-opacity="0.61"/>
<rect x="546.2" y="593.0" width="1.3" height="13.1" fill="#B8860B" fill-opacity="0.70"/>
<rect x="547.8" y="593.0" width="1.3" height="13.1" fill="#B8860B" fill-opacity="0.58"/>
<rect x="554.5" y="593.0" width="1.3" height="13.1" fill="#B8860B" fill-opacity="0.82"/>
<rect x="572.3" y="593.0" width="1.4" height="13.1" fill="#B8860B" fill-opacity="0.85"/>
<rect x="589.0" y="593.0" width="1.4" height="13.1" fill="#B8860B" fill-opacity="0.85"/>
<rect x="590.3" y="593.0" width="1.3" height="13.1" fill="#B8860B" fill-opacity="0.87"/>
<rect x="600.3" y="593.0" width="1.3" height="13.1" fill="#B8860B" fill-opacity="0.50"/>
<rect x="623.1" y="593.0" width="1.4" height="13.1" fill="#B8860B" fill-opacity="0.85"/>
<rect x="518.7" y="609.8" width="1.3" height="13.1" fill="#B8860B" fill-opacity="0.91"/>
<rect x="524.7" y="609.8" width="1.3" height="13.1" fill="#B8860B" fill-opacity="0.54"/>
<rect x="534.2" y="609.8" width="1.4" height="13.1" fill="#B8860B" fill-opacity="0.85"/>
<rect x="536.6" y="609.8" width="1.3" height="13.1" fill="#B8860B" fill-opacity="0.64"/>
<rect x="539.7" y="609.8" width="1.3" height="13.1" fill="#B8860B" fill-opacity="0.72"/>
<rect x="542.6" y="609.8" width="1.3" height="13.1" fill="#B8860B" fill-opacity="0.69"/>
<rect x="545.0" y="609.8" width="1.3" height="13.1" fill="#B8860B" fill-opacity="0.60"/>
<rect x="547.4" y="609.8" width="1.3" height="13.1" fill="#B8860B" fill-opacity="0.83"/>
<rect x="554.5" y="609.8" width="1.3" height="13.1" fill="#B8860B" fill-opacity="0.88"/>
<rect x="565.2" y="609.8" width="1.3" height="13.1" fill="#B8860B" fill-opacity="0.60"/>
<rect x="572.3" y="609.8" width="1.4" height="13.1" fill="#B8860B" fill-opacity="0.85"/>
<rect x="589.8" y="609.8" width="1.3" height="13.1" fill="#B8860B" fill-opacity="0.57"/>
<rect x="597.0" y="609.8" width="1.3" height="13.1" fill="#B8860B" fill-opacity="0.73"/>
<rect x="601.7" y="609.8" width="1.3" height="13.1" fill="#B8860B" fill-opacity="0.57"/>
<rect x="622.5" y="609.8" width="1.3" height="13.1" fill="#B8860B" fill-opacity="0.92"/>
<rect x="518.7" y="626.6" width="1.3" height="13.1" fill="#B8860B" fill-opacity="0.88"/>
<rect x="526.4" y="626.6" width="1.3" height="13.1" fill="#B8860B" fill-opacity="0.88"/>
<rect x="534.2" y="626.6" width="1.4" height="13.1" fill="#B8860B" fill-opacity="0.85"/>
<rect x="537.8" y="626.6" width="1.3" height="13.1" fill="#B8860B" fill-opacity="0.69"/>
<rect x="540.2" y="626.6" width="1.3" height="13.1" fill="#B8860B" fill-opacity="0.85"/>
<rect x="543.1" y="626.6" width="1.3" height="13.1" fill="#B8860B" fill-opacity="0.68"/>
<rect x="546.8" y="626.6" width="2.4" height="13.1" fill="#B8860B" fill-opacity="0.85"/>
<rect x="552.1" y="626.6" width="1.3" height="13.1" fill="#B8860B" fill-opacity="0.71"/>
<rect x="554.0" y="626.6" width="1.3" height="13.1" fill="#B8860B" fill-opacity="0.55"/>
<rect x="570.7" y="626.6" width="1.4" height="13.1" fill="#B8860B" fill-opacity="0.85"/>
<rect x="577.9" y="626.6" width="1.3" height="13.1" fill="#B8860B" fill-opacity="0.52"/>
<rect x="592.2" y="626.6" width="1.3" height="13.1" fill="#B8860B" fill-opacity="0.80"/>
<rect x="621.3" y="626.6" width="1.3" height="13.1" fill="#B8860B" fill-opacity="0.59"/>
<rect x="622.5" y="626.6" width="1.3" height="13.1" fill="#B8860B" fill-opacity="0.93"/>
<rect x="517.5" y="643.5" width="1.3" height="13.1" fill="#B8860B" fill-opacity="0.75"/>
<rect x="522.3" y="643.5" width="1.3" height="13.1" fill="#B8860B" fill-opacity="0.76"/>
<rect x="524.7" y="643.5" width="1.3" height="13.1" fill="#B8860B" fill-opacity="0.90"/>
<rect x="534.2" y="643.5" width="1.4" height="13.1" fill="#B8860B" fill-opacity="0.85"/>
<rect x="537.3" y="643.5" width="6.0" height="13.1" fill="#B8860B" fill-opacity="0.4"/>
<rect x="537.3" y="643.5" width="1.0" height="13.1" fill="#B8860B" fill-opacity="0.45"/>
<rect x="538.8" y="643.5" width="1.1" height="13.1" fill="#B8860B" fill-opacity="0.52"/>
<rect x="540.5" y="643.5" width="1.4" height="13.1" fill="#B8860B" fill-opacity="0.62"/>
<rect x="542.5" y="643.5" width="0.9" height="13.1" fill="#B8860B" fill-opacity="0.69"/>
<rect x="547.8" y="643.5" width="1.3" height="13.1" fill="#B8860B" fill-opacity="0.58"/>
<rect x="555.7" y="643.5" width="1.3" height="13.1" fill="#B8860B" fill-opacity="0.88"/>
<rect x="570.0" y="643.5" width="1.3" height="13.1" fill="#B8860B" fill-opacity="0.85"/>
<rect x="583.6" y="643.5" width="1.3" height="13.1" fill="#B8860B" fill-opacity="0.77"/>
<rect x="592.2" y="643.5" width="1.3" height="13.1" fill="#B8860B" fill-opacity="0.74"/>
<rect x="597.0" y="643.5" width="1.3" height="13.1" fill="#B8860B" fill-opacity="0.73"/>
<rect x="617.7" y="643.5" width="1.3" height="13.1" fill="#B8860B" fill-opacity="0.55"/>
<rect x="622.5" y="643.5" width="1.3" height="13.1" fill="#B8860B" fill-opacity="0.76"/>
<rect x="529.5" y="660.3" width="1.3" height="13.1" fill="#B8860B" fill-opacity="0.95"/>
<rect x="534.9" y="660.3" width="7.2" height="13.1" fill="#B8860B" fill-opacity="0.4"/>
<rect x="534.9" y="660.3" width="1.4" height="13.1" fill="#B8860B" fill-opacity="0.66"/>
<rect x="537.0" y="660.3" width="1.5" height="13.1" fill="#B8860B" fill-opacity="0.45"/>
<rect x="539.0" y="660.3" width="1.6" height="13.1" fill="#B8860B" fill-opacity="0.74"/>
<rect x="547.8" y="660.3" width="1.3" height="13.1" fill="#B8860B" fill-opacity="0.74"/>
<rect x="555.7" y="660.3" width="1.3" height="13.1" fill="#B8860B" fill-opacity="0.52"/>
<rect x="567.6" y="660.3" width="1.3" height="13.1" fill="#B8860B" fill-opacity="0.74"/>
<rect x="592.2" y="660.3" width="1.3" height="13.1" fill="#B8860B" fill-opacity="0.78"/>
<rect x="600.3" y="660.3" width="1.3" height="13.1" fill="#B8860B" fill-opacity="0.54"/>
<rect x="611.3" y="660.3" width="1.3" height="13.1" fill="#B8860B" fill-opacity="0.72"/>
<rect x="622.5" y="660.3" width="1.3" height="13.1" fill="#B8860B" fill-opacity="0.92"/>
<rect x="626.1" y="660.3" width="1.3" height="13.1" fill="#B8860B" fill-opacity="0.53"/>
<rect x="525.9" y="677.1" width="1.3" height="13.1" fill="#B8860B" fill-opacity="0.52"/>
<rect x="530.2" y="677.1" width="1.3" height="13.1" fill="#B8860B" fill-opacity="0.55"/>
<rect x="534.9" y="677.1" width="4.8" height="13.1" fill="#B8860B" fill-opacity="0.4"/>
<rect x="534.9" y="677.1" width="1.3" height="13.1" fill="#B8860B" fill-opacity="0.85"/>
<rect x="536.7" y="677.1" width="1.5" height="13.1" fill="#B8860B" fill-opacity="0.55"/>
<rect x="539.0" y="677.1" width="1.4" height="13.1" fill="#B8860B" fill-opacity="0.50"/>
<rect x="547.8" y="677.1" width="1.3" height="13.1" fill="#B8860B" fill-opacity="0.89"/>
<rect x="555.7" y="677.1" width="1.3" height="13.1" fill="#B8860B" fill-opacity="0.66"/>
<rect x="589.1" y="677.1" width="1.3" height="13.1" fill="#B8860B" fill-opacity="0.86"/>
<rect x="592.2" y="677.1" width="1.3" height="13.1" fill="#B8860B" fill-opacity="0.70"/>
<rect x="616.5" y="677.1" width="1.3" height="13.1" fill="#B8860B" fill-opacity="0.92"/>
<rect x="533.7" y="693.9" width="6.0" height="13.1" fill="#B8860B" fill-opacity="0.4"/>
<rect x="533.7" y="693.9" width="1.1" height="13.1" fill="#B8860B" fill-opacity="0.82"/>
<rect x="535.1" y="693.9" width="1.0" height="13.1" fill="#B8860B" fill-opacity="0.52"/>
<rect x="536.9" y="693.9" width="1.1" height="13.1" fill="#B8860B" fill-opacity="0.56"/>
<rect x="538.7" y="693.9" width="1.3" height="13.1" fill="#B8860B" fill-opacity="0.71"/>
<rect x="555.7" y="693.9" width="1.3" height="13.1" fill="#B8860B" fill-opacity="0.82"/>
<rect x="589.0" y="693.9" width="1.9" height="13.1" fill="#B8860B" fill-opacity="0.85"/>
<rect x="621.8" y="693.9" width="1.3" height="13.1" fill="#B8860B" fill-opacity="0.82"/>
<rect x="519.5" y="710.7" width="4.3" height="13.1" fill="#D6CC5C"/>
<rect x="520.6" y="710.7" width="2.1" height="13.1" fill="#A8960F"/>
<text x="391.6" y="735.6" text-anchor="middle" font-family='"Liberation Sans", sans-serif' font-size="7.6" fill="#555">−10.0</text>
<text x="424.1" y="735.6" text-anchor="middle" font-family='"Liberation Sans", sans-serif' font-size="7.6" fill="#555">−7.5</text>
<text x="456.6" y="735.6" text-anchor="middle" font-family='"Liberation Sans", sans-serif' font-size="7.6" fill="#555">−5.0</text>
<text x="489.1" y="735.6" text-anchor="middle" font-family='"Liberation Sans", sans-serif' font-size="7.6" fill="#555">−2.5</text>
<text x="521.6" y="735.6" text-anchor="middle" font-family='"Liberation Sans", sans-serif' font-size="7.6" fill="#555">0.0</text>
<text x="554.1" y="735.6" text-anchor="middle" font-family='"Liberation Sans", sans-serif' font-size="7.6" fill="#555">2.5</text>
<text x="586.6" y="735.6" text-anchor="middle" font-family='"Liberation Sans", sans-serif' font-size="7.6" fill="#555">5.0</text>
<text x="619.1" y="735.6" text-anchor="middle" font-family='"Liberation Sans", sans-serif' font-size="7.6" fill="#555">7.5</text>
<text x="651.6" y="735.6" text-anchor="middle" font-family='"Liberation Sans", sans-serif' font-size="7.6" fill="#555">10.0</text>
<text x="521.5" y="745" text-anchor="middle" font-family='"Liberation Sans", sans-serif' font-style="italic" font-size="8.5" fill="#444">x</text>
<g transform="translate(380.0,633.5) rotate(-90)"><text x="0" y="0" text-anchor="middle" font-family='"Liberation Sans", sans-serif' font-size="9.2" fill="#555">Training (beginning --&gt; end)</text></g>
<text x="863.8" y="340.3" text-anchor="middle" textLength="119" lengthAdjust="spacingAndGlyphs" font-family='"Liberation Sans", sans-serif' font-size="14.6" fill="#1a1a1a">Test RMSE: 1.219</text>
<rect x="727.8" y="345.0" width="272.0" height="194.0" fill="#E5E5E5"/>
<line x1="733.9" y1="345.0" x2="733.9" y2="539.0" stroke="#fff" stroke-width="1"/>
<line x1="766.4" y1="345.0" x2="766.4" y2="539.0" stroke="#fff" stroke-width="1"/>
<line x1="798.9" y1="345.0" x2="798.9" y2="539.0" stroke="#fff" stroke-width="1"/>
<line x1="831.4" y1="345.0" x2="831.4" y2="539.0" stroke="#fff" stroke-width="1"/>
<line x1="863.9" y1="345.0" x2="863.9" y2="539.0" stroke="#fff" stroke-width="1"/>
<line x1="896.4" y1="345.0" x2="896.4" y2="539.0" stroke="#fff" stroke-width="1"/>
<line x1="928.9" y1="345.0" x2="928.9" y2="539.0" stroke="#fff" stroke-width="1"/>
<line x1="961.4" y1="345.0" x2="961.4" y2="539.0" stroke="#fff" stroke-width="1"/>
<line x1="993.9" y1="345.0" x2="993.9" y2="539.0" stroke="#fff" stroke-width="1"/>
<line x1="727.8" y1="534.3" x2="999.8" y2="534.3" stroke="#fff" stroke-width="1"/>
<line x1="725.2" y1="534.3" x2="727.8" y2="534.3" stroke="#444" stroke-width="0.8"/>
<text x="722.3" y="537.0" text-anchor="end" font-family='"Liberation Sans", sans-serif' font-size="7.6" fill="#555">0.0</text>
<line x1="727.8" y1="507.9" x2="999.8" y2="507.9" stroke="#fff" stroke-width="1"/>
<line x1="725.2" y1="507.9" x2="727.8" y2="507.9" stroke="#444" stroke-width="0.8"/>
<text x="722.3" y="510.6" text-anchor="end" font-family='"Liberation Sans", sans-serif' font-size="7.6" fill="#555">2.5</text>
<line x1="727.8" y1="481.5" x2="999.8" y2="481.5" stroke="#fff" stroke-width="1"/>
<line x1="725.2" y1="481.5" x2="727.8" y2="481.5" stroke="#444" stroke-width="0.8"/>
<text x="722.3" y="484.2" text-anchor="end" font-family='"Liberation Sans", sans-serif' font-size="7.6" fill="#555">5.0</text>
<line x1="727.8" y1="455.1" x2="999.8" y2="455.1" stroke="#fff" stroke-width="1"/>
<line x1="725.2" y1="455.1" x2="727.8" y2="455.1" stroke="#444" stroke-width="0.8"/>
<text x="722.3" y="457.8" text-anchor="end" font-family='"Liberation Sans", sans-serif' font-size="7.6" fill="#555">7.5</text>
<line x1="727.8" y1="428.7" x2="999.8" y2="428.7" stroke="#fff" stroke-width="1"/>
<line x1="725.2" y1="428.7" x2="727.8" y2="428.7" stroke="#444" stroke-width="0.8"/>
<text x="722.3" y="431.4" text-anchor="end" font-family='"Liberation Sans", sans-serif' font-size="7.6" fill="#555">10.0</text>
<line x1="727.8" y1="402.3" x2="999.8" y2="402.3" stroke="#fff" stroke-width="1"/>
<line x1="725.2" y1="402.3" x2="727.8" y2="402.3" stroke="#444" stroke-width="0.8"/>
<text x="722.3" y="405.0" text-anchor="end" font-family='"Liberation Sans", sans-serif' font-size="7.6" fill="#555">12.5</text>
<line x1="727.8" y1="375.9" x2="999.8" y2="375.9" stroke="#fff" stroke-width="1"/>
<line x1="725.2" y1="375.9" x2="727.8" y2="375.9" stroke="#444" stroke-width="0.8"/>
<text x="722.3" y="378.6" text-anchor="end" font-family='"Liberation Sans", sans-serif' font-size="7.6" fill="#555">15.0</text>
<line x1="727.8" y1="349.5" x2="999.8" y2="349.5" stroke="#fff" stroke-width="1"/>
<line x1="725.2" y1="349.5" x2="727.8" y2="349.5" stroke="#444" stroke-width="0.8"/>
<text x="722.3" y="352.2" text-anchor="end" font-family='"Liberation Sans", sans-serif' font-size="7.6" fill="#555">17.5</text>
<g transform="translate(702.3,442) rotate(-90)"><text x="0" y="0" text-anchor="middle" font-family='"Liberation Sans", sans-serif' font-style="italic" font-size="8.5" fill="#444">y</text></g>
<clipPath id="cp2"><rect x="727.8" y="345.0" width="272.0" height="194.0"/></clipPath>
<g clip-path="url(#cp2)">
<circle cx="739.1" cy="401.9" r="4.1" fill="#FF0000"/>
<circle cx="749.6" cy="451.2" r="4.1" fill="#FF0000"/>
<circle cx="752.2" cy="440.5" r="4.1" fill="#FF0000"/>
<circle cx="755.7" cy="421.2" r="4.1" fill="#FF0000"/>
<circle cx="764.6" cy="448.4" r="4.1" fill="#FF0000"/>
<circle cx="767.2" cy="466.1" r="4.1" fill="#FF0000"/>
<circle cx="770.7" cy="489.1" r="4.1" fill="#FF0000"/>
<circle cx="788.2" cy="469.7" r="4.1" fill="#FF0000"/>
<circle cx="802.3" cy="496.1" r="4.1" fill="#FF0000"/>
<circle cx="815.4" cy="505.8" r="4.1" fill="#FF0000"/>
<circle cx="826.9" cy="522.2" r="4.1" fill="#FF0000"/>
<circle cx="830.8" cy="517.9" r="4.1" fill="#FF0000"/>
<circle cx="837.3" cy="515.8" r="4.1" fill="#FF0000"/>
<circle cx="841.8" cy="519.5" r="4.1" fill="#FF0000"/>
<circle cx="846.4" cy="521.6" r="4.1" fill="#FF0000"/>
<circle cx="850.9" cy="519.0" r="4.1" fill="#FF0000"/>
<circle cx="860.0" cy="530.6" r="4.1" fill="#FF0000"/>
<circle cx="867.8" cy="534.8" r="4.1" fill="#FF0000"/>
<circle cx="871.7" cy="536.9" r="4.1" fill="#FF0000"/>
<circle cx="876.3" cy="532.7" r="4.1" fill="#FF0000"/>
<circle cx="880.2" cy="536.4" r="4.1" fill="#FF0000"/>
<circle cx="883.4" cy="531.7" r="4.1" fill="#FF0000"/>
<circle cx="888.6" cy="526.4" r="4.1" fill="#FF0000"/>
<circle cx="892.5" cy="523.7" r="4.1" fill="#FF0000"/>
<circle cx="896.4" cy="520.0" r="4.1" fill="#FF0000"/>
<circle cx="901.0" cy="521.1" r="4.1" fill="#FF0000"/>
<circle cx="904.2" cy="517.9" r="4.1" fill="#FF0000"/>
<circle cx="908.8" cy="516.3" r="4.1" fill="#FF0000"/>
<circle cx="911.4" cy="515.1" r="4.1" fill="#FF0000"/>
<circle cx="915.9" cy="515.8" r="4.1" fill="#FF0000"/>
<circle cx="934.1" cy="513.2" r="4.1" fill="#FF0000"/>
<circle cx="935.4" cy="508.2" r="4.1" fill="#FF0000"/>
<circle cx="939.2" cy="499.1" r="4.1" fill="#FF0000"/>
<circle cx="950.6" cy="499.1" r="4.1" fill="#FF0000"/>
<circle cx="959.8" cy="488.6" r="4.1" fill="#FF0000"/>
<circle cx="965.3" cy="467.3" r="4.1" fill="#FF0000"/>
<circle cx="975.2" cy="476.4" r="4.1" fill="#FF0000"/>
<circle cx="979.9" cy="493.1" r="4.1" fill="#FF0000"/>
<circle cx="984.4" cy="481.7" r="4.1" fill="#FF0000"/>
<circle cx="989.0" cy="454.5" r="4.1" fill="#FF0000"/>
<polyline points="733.3,366.4 734.1,371.5 735.0,377.0 735.9,382.9 736.8,389.0 737.6,395.5 738.5,402.5 739.4,410.0 740.3,417.3 741.1,424.7 742.0,432.0 742.9,438.3 743.8,443.7 744.6,449.0 745.5,453.5 746.4,456.3 747.3,456.7 748.1,456.0 749.0,454.5 749.9,452.6 750.8,450.3 751.6,447.9 752.5,443.3 753.4,436.9 754.3,430.1 755.1,424.4 756.0,421.4 756.9,421.3 757.8,421.5 758.6,422.0 759.5,422.6 760.4,423.4 761.3,424.4 762.1,427.2 763.0,431.7 763.9,437.1 764.8,442.9 765.6,448.5 766.5,454.3 767.4,460.7 768.3,467.2 769.1,473.2 770.0,478.8 770.9,484.8 771.8,489.1 772.6,489.8 773.5,489.5 774.4,488.9 775.3,488.1 776.1,487.1 777.0,485.9 777.9,483.0 778.8,478.3 779.6,473.4 780.5,469.6 781.4,467.6 782.3,465.7 783.1,464.3 784.0,463.5 784.9,463.6 785.8,464.7 786.6,466.4 787.5,468.6 788.4,471.0 789.3,473.2 790.1,475.9 791.0,479.2 791.9,482.8 792.8,486.4 793.6,489.7 794.5,492.4 795.4,494.3 796.3,496.1 797.1,497.7 798.0,499.0 798.9,499.9 799.8,500.1 800.6,499.8 801.5,499.2 802.4,498.3 803.3,497.3 804.1,496.2 805.0,495.2 805.9,494.2 806.8,493.4 807.6,492.9 808.5,492.8 809.4,493.1 810.3,493.7 811.1,494.6 812.0,495.7 812.9,496.9 813.8,498.3 814.6,500.2 815.5,502.8 816.4,505.6 817.3,508.2 818.1,510.3 819.0,512.5 819.9,514.7 820.8,516.9 821.6,518.9 822.5,520.6 823.4,521.9 824.3,522.7 825.1,522.9 826.0,522.9 826.9,522.8 827.8,522.7 828.6,522.5 829.5,522.4 830.4,522.2 831.3,522.0 832.1,521.6 833.0,521.0 833.9,520.2 834.8,519.3 835.7,518.4 836.5,517.6 837.4,517.0 838.3,516.7 839.2,516.7 840.0,516.8 840.9,516.9 841.8,517.1 842.7,517.3 843.5,517.6 844.4,517.8 845.3,518.1 846.2,518.4 847.0,518.7 847.9,518.9 848.8,519.2 849.7,519.5 850.5,519.8 851.4,520.2 852.3,520.5 853.2,520.9 854.0,521.2 854.9,521.6 855.8,522.1 856.7,522.5 857.5,523.0 858.4,523.5 859.3,524.2 860.2,524.9 861.0,525.7 861.9,526.5 862.8,527.4 863.7,528.2 864.5,529.0 865.4,529.8 866.3,530.5 867.2,531.0 868.0,531.5 868.9,532.0 869.8,532.4 870.7,532.9 871.5,533.3 872.4,533.8 873.3,534.1 874.2,534.4 875.0,534.6 875.9,534.8 876.8,534.8 877.7,534.8 878.5,534.5 879.4,534.2 880.3,533.8 881.2,533.3 882.0,532.7 882.9,532.2 883.8,531.6 884.7,531.0 885.5,530.4 886.4,529.9 887.3,529.4 888.2,528.8 889.0,528.2 889.9,527.6 890.8,527.0 891.7,526.4 892.5,525.7 893.4,525.1 894.3,524.5 895.2,523.9 896.0,523.3 896.9,522.8 897.8,522.3 898.7,521.9 899.5,521.5 900.4,521.1 901.3,520.7 902.2,520.2 903.0,519.8 903.9,519.4 904.8,519.0 905.7,518.6 906.5,518.3 907.4,517.9 908.3,517.6 909.2,517.3 910.0,517.1 910.9,516.9 911.8,516.7 912.7,516.6 913.5,516.6 914.4,516.6 915.3,516.9 916.2,517.4 917.0,518.1 917.9,518.8 918.8,519.5 919.7,520.1 920.5,520.6 921.4,521.1 922.3,521.6 923.2,522.1 924.0,522.5 924.9,522.9 925.8,523.2 926.7,523.3 927.5,523.2 928.4,522.8 929.3,522.2 930.2,521.3 931.0,520.3 931.9,519.2 932.8,518.0 933.7,516.2 934.6,513.9 935.4,511.4 936.3,508.8 937.2,506.4 938.1,504.3 938.9,502.7 939.8,501.0 940.7,499.3 941.6,497.7 942.4,496.3 943.3,495.1 944.2,494.3 945.1,493.9 945.9,494.0 946.8,494.4 947.7,495.1 948.6,495.9 949.4,496.7 950.3,497.4 951.2,498.0 952.1,498.7 952.9,499.3 953.8,499.7 954.7,499.9 955.6,499.4 956.4,498.3 957.3,496.9 958.2,495.1 959.1,493.2 959.9,491.3 960.8,489.0 961.7,486.0 962.6,482.7 963.4,479.4 964.3,476.3 965.2,473.7 966.1,471.4 966.9,469.0 967.8,466.9 968.7,465.2 969.6,464.4 970.4,464.5 971.3,465.4 972.2,466.9 973.1,468.8 973.9,470.8 974.8,473.0 975.7,476.2 976.6,480.2 977.4,484.3 978.3,487.8 979.2,490.2 980.1,490.8 980.9,490.4 981.8,489.6 982.7,488.5 983.6,487.1 984.4,484.8 985.3,481.0 986.2,476.2 987.1,470.9 987.9,465.1 988.8,457.8 989.7,449.8 990.6,442.2 991.4,436.2 992.3,431.2 993.2,426.7 994.1,422.9 994.9,419.7" fill="none" stroke="#000" stroke-width="4.2" stroke-linejoin="round"/>
<polyline points="762.5,539.1 875.0,533.2 892.5,539.1" fill="none" stroke="#0000E0" stroke-width="2.4" stroke-dasharray="7.4 3.4"/>
<polyline points="733.9,391.7 768.2,471.2 828.5,518.7 875.0,534.3 915.9,515.0 927.6,517.4 967.4,481.5 994.6,481.0" fill="none" stroke="#0000D8" stroke-width="2.2" stroke-linejoin="round"/>
</g>
<rect x="727.8" y="542.6" width="272.0" height="13.1" fill="#E5E5E5"/>
<line x1="733.9" y1="542.6" x2="733.9" y2="555.7" stroke="#fff" stroke-width="1"/>
<line x1="766.4" y1="542.6" x2="766.4" y2="555.7" stroke="#fff" stroke-width="1"/>
<line x1="798.9" y1="542.6" x2="798.9" y2="555.7" stroke="#fff" stroke-width="1"/>
<line x1="831.4" y1="542.6" x2="831.4" y2="555.7" stroke="#fff" stroke-width="1"/>
<line x1="863.9" y1="542.6" x2="863.9" y2="555.7" stroke="#fff" stroke-width="1"/>
<line x1="896.4" y1="542.6" x2="896.4" y2="555.7" stroke="#fff" stroke-width="1"/>
<line x1="928.9" y1="542.6" x2="928.9" y2="555.7" stroke="#fff" stroke-width="1"/>
<line x1="961.4" y1="542.6" x2="961.4" y2="555.7" stroke="#fff" stroke-width="1"/>
<line x1="993.9" y1="542.6" x2="993.9" y2="555.7" stroke="#fff" stroke-width="1"/>
<rect x="727.8" y="559.4" width="272.0" height="13.1" fill="#E5E5E5"/>
<line x1="733.9" y1="559.4" x2="733.9" y2="572.5" stroke="#fff" stroke-width="1"/>
<line x1="766.4" y1="559.4" x2="766.4" y2="572.5" stroke="#fff" stroke-width="1"/>
<line x1="798.9" y1="559.4" x2="798.9" y2="572.5" stroke="#fff" stroke-width="1"/>
<line x1="831.4" y1="559.4" x2="831.4" y2="572.5" stroke="#fff" stroke-width="1"/>
<line x1="863.9" y1="559.4" x2="863.9" y2="572.5" stroke="#fff" stroke-width="1"/>
<line x1="896.4" y1="559.4" x2="896.4" y2="572.5" stroke="#fff" stroke-width="1"/>
<line x1="928.9" y1="559.4" x2="928.9" y2="572.5" stroke="#fff" stroke-width="1"/>
<line x1="961.4" y1="559.4" x2="961.4" y2="572.5" stroke="#fff" stroke-width="1"/>
<line x1="993.9" y1="559.4" x2="993.9" y2="572.5" stroke="#fff" stroke-width="1"/>
<rect x="727.8" y="576.2" width="272.0" height="13.1" fill="#E5E5E5"/>
<line x1="733.9" y1="576.2" x2="733.9" y2="589.3" stroke="#fff" stroke-width="1"/>
<line x1="766.4" y1="576.2" x2="766.4" y2="589.3" stroke="#fff" stroke-width="1"/>
<line x1="798.9" y1="576.2" x2="798.9" y2="589.3" stroke="#fff" stroke-width="1"/>
<line x1="831.4" y1="576.2" x2="831.4" y2="589.3" stroke="#fff" stroke-width="1"/>
<line x1="863.9" y1="576.2" x2="863.9" y2="589.3" stroke="#fff" stroke-width="1"/>
<line x1="896.4" y1="576.2" x2="896.4" y2="589.3" stroke="#fff" stroke-width="1"/>
<line x1="928.9" y1="576.2" x2="928.9" y2="589.3" stroke="#fff" stroke-width="1"/>
<line x1="961.4" y1="576.2" x2="961.4" y2="589.3" stroke="#fff" stroke-width="1"/>
<line x1="993.9" y1="576.2" x2="993.9" y2="589.3" stroke="#fff" stroke-width="1"/>
<rect x="727.8" y="593.0" width="272.0" height="13.1" fill="#E5E5E5"/>
<line x1="733.9" y1="593.0" x2="733.9" y2="606.1" stroke="#fff" stroke-width="1"/>
<line x1="766.4" y1="593.0" x2="766.4" y2="606.1" stroke="#fff" stroke-width="1"/>
<line x1="798.9" y1="593.0" x2="798.9" y2="606.1" stroke="#fff" stroke-width="1"/>
<line x1="831.4" y1="593.0" x2="831.4" y2="606.1" stroke="#fff" stroke-width="1"/>
<line x1="863.9" y1="593.0" x2="863.9" y2="606.1" stroke="#fff" stroke-width="1"/>
<line x1="896.4" y1="593.0" x2="896.4" y2="606.1" stroke="#fff" stroke-width="1"/>
<line x1="928.9" y1="593.0" x2="928.9" y2="606.1" stroke="#fff" stroke-width="1"/>
<line x1="961.4" y1="593.0" x2="961.4" y2="606.1" stroke="#fff" stroke-width="1"/>
<line x1="993.9" y1="593.0" x2="993.9" y2="606.1" stroke="#fff" stroke-width="1"/>
<rect x="727.8" y="609.8" width="272.0" height="13.1" fill="#E5E5E5"/>
<line x1="733.9" y1="609.8" x2="733.9" y2="622.9" stroke="#fff" stroke-width="1"/>
<line x1="766.4" y1="609.8" x2="766.4" y2="622.9" stroke="#fff" stroke-width="1"/>
<line x1="798.9" y1="609.8" x2="798.9" y2="622.9" stroke="#fff" stroke-width="1"/>
<line x1="831.4" y1="609.8" x2="831.4" y2="622.9" stroke="#fff" stroke-width="1"/>
<line x1="863.9" y1="609.8" x2="863.9" y2="622.9" stroke="#fff" stroke-width="1"/>
<line x1="896.4" y1="609.8" x2="896.4" y2="622.9" stroke="#fff" stroke-width="1"/>
<line x1="928.9" y1="609.8" x2="928.9" y2="622.9" stroke="#fff" stroke-width="1"/>
<line x1="961.4" y1="609.8" x2="961.4" y2="622.9" stroke="#fff" stroke-width="1"/>
<line x1="993.9" y1="609.8" x2="993.9" y2="622.9" stroke="#fff" stroke-width="1"/>
<rect x="727.8" y="626.6" width="272.0" height="13.1" fill="#E5E5E5"/>
<line x1="733.9" y1="626.6" x2="733.9" y2="639.8" stroke="#fff" stroke-width="1"/>
<line x1="766.4" y1="626.6" x2="766.4" y2="639.8" stroke="#fff" stroke-width="1"/>
<line x1="798.9" y1="626.6" x2="798.9" y2="639.8" stroke="#fff" stroke-width="1"/>
<line x1="831.4" y1="626.6" x2="831.4" y2="639.8" stroke="#fff" stroke-width="1"/>
<line x1="863.9" y1="626.6" x2="863.9" y2="639.8" stroke="#fff" stroke-width="1"/>
<line x1="896.4" y1="626.6" x2="896.4" y2="639.8" stroke="#fff" stroke-width="1"/>
<line x1="928.9" y1="626.6" x2="928.9" y2="639.8" stroke="#fff" stroke-width="1"/>
<line x1="961.4" y1="626.6" x2="961.4" y2="639.8" stroke="#fff" stroke-width="1"/>
<line x1="993.9" y1="626.6" x2="993.9" y2="639.8" stroke="#fff" stroke-width="1"/>
<rect x="727.8" y="643.5" width="272.0" height="13.1" fill="#E5E5E5"/>
<line x1="733.9" y1="643.5" x2="733.9" y2="656.6" stroke="#fff" stroke-width="1"/>
<line x1="766.4" y1="643.5" x2="766.4" y2="656.6" stroke="#fff" stroke-width="1"/>
<line x1="798.9" y1="643.5" x2="798.9" y2="656.6" stroke="#fff" stroke-width="1"/>
<line x1="831.4" y1="643.5" x2="831.4" y2="656.6" stroke="#fff" stroke-width="1"/>
<line x1="863.9" y1="643.5" x2="863.9" y2="656.6" stroke="#fff" stroke-width="1"/>
<line x1="896.4" y1="643.5" x2="896.4" y2="656.6" stroke="#fff" stroke-width="1"/>
<line x1="928.9" y1="643.5" x2="928.9" y2="656.6" stroke="#fff" stroke-width="1"/>
<line x1="961.4" y1="643.5" x2="961.4" y2="656.6" stroke="#fff" stroke-width="1"/>
<line x1="993.9" y1="643.5" x2="993.9" y2="656.6" stroke="#fff" stroke-width="1"/>
<rect x="727.8" y="660.3" width="272.0" height="13.1" fill="#E5E5E5"/>
<line x1="733.9" y1="660.3" x2="733.9" y2="673.4" stroke="#fff" stroke-width="1"/>
<line x1="766.4" y1="660.3" x2="766.4" y2="673.4" stroke="#fff" stroke-width="1"/>
<line x1="798.9" y1="660.3" x2="798.9" y2="673.4" stroke="#fff" stroke-width="1"/>
<line x1="831.4" y1="660.3" x2="831.4" y2="673.4" stroke="#fff" stroke-width="1"/>
<line x1="863.9" y1="660.3" x2="863.9" y2="673.4" stroke="#fff" stroke-width="1"/>
<line x1="896.4" y1="660.3" x2="896.4" y2="673.4" stroke="#fff" stroke-width="1"/>
<line x1="928.9" y1="660.3" x2="928.9" y2="673.4" stroke="#fff" stroke-width="1"/>
<line x1="961.4" y1="660.3" x2="961.4" y2="673.4" stroke="#fff" stroke-width="1"/>
<line x1="993.9" y1="660.3" x2="993.9" y2="673.4" stroke="#fff" stroke-width="1"/>
<rect x="727.8" y="677.1" width="272.0" height="13.1" fill="#E5E5E5"/>
<line x1="733.9" y1="677.1" x2="733.9" y2="690.2" stroke="#fff" stroke-width="1"/>
<line x1="766.4" y1="677.1" x2="766.4" y2="690.2" stroke="#fff" stroke-width="1"/>
<line x1="798.9" y1="677.1" x2="798.9" y2="690.2" stroke="#fff" stroke-width="1"/>
<line x1="831.4" y1="677.1" x2="831.4" y2="690.2" stroke="#fff" stroke-width="1"/>
<line x1="863.9" y1="677.1" x2="863.9" y2="690.2" stroke="#fff" stroke-width="1"/>
<line x1="896.4" y1="677.1" x2="896.4" y2="690.2" stroke="#fff" stroke-width="1"/>
<line x1="928.9" y1="677.1" x2="928.9" y2="690.2" stroke="#fff" stroke-width="1"/>
<line x1="961.4" y1="677.1" x2="961.4" y2="690.2" stroke="#fff" stroke-width="1"/>
<line x1="993.9" y1="677.1" x2="993.9" y2="690.2" stroke="#fff" stroke-width="1"/>
<rect x="727.8" y="693.9" width="272.0" height="13.1" fill="#E5E5E5"/>
<line x1="733.9" y1="693.9" x2="733.9" y2="707.0" stroke="#fff" stroke-width="1"/>
<line x1="766.4" y1="693.9" x2="766.4" y2="707.0" stroke="#fff" stroke-width="1"/>
<line x1="798.9" y1="693.9" x2="798.9" y2="707.0" stroke="#fff" stroke-width="1"/>
<line x1="831.4" y1="693.9" x2="831.4" y2="707.0" stroke="#fff" stroke-width="1"/>
<line x1="863.9" y1="693.9" x2="863.9" y2="707.0" stroke="#fff" stroke-width="1"/>
<line x1="896.4" y1="693.9" x2="896.4" y2="707.0" stroke="#fff" stroke-width="1"/>
<line x1="928.9" y1="693.9" x2="928.9" y2="707.0" stroke="#fff" stroke-width="1"/>
<line x1="961.4" y1="693.9" x2="961.4" y2="707.0" stroke="#fff" stroke-width="1"/>
<line x1="993.9" y1="693.9" x2="993.9" y2="707.0" stroke="#fff" stroke-width="1"/>
<rect x="727.8" y="710.7" width="272.0" height="13.1" fill="#E5E5E5"/>
<line x1="733.9" y1="710.7" x2="733.9" y2="723.8" stroke="#fff" stroke-width="1"/>
<line x1="766.4" y1="710.7" x2="766.4" y2="723.8" stroke="#fff" stroke-width="1"/>
<line x1="798.9" y1="710.7" x2="798.9" y2="723.8" stroke="#fff" stroke-width="1"/>
<line x1="831.4" y1="710.7" x2="831.4" y2="723.8" stroke="#fff" stroke-width="1"/>
<line x1="863.9" y1="710.7" x2="863.9" y2="723.8" stroke="#fff" stroke-width="1"/>
<line x1="896.4" y1="710.7" x2="896.4" y2="723.8" stroke="#fff" stroke-width="1"/>
<line x1="928.9" y1="710.7" x2="928.9" y2="723.8" stroke="#fff" stroke-width="1"/>
<line x1="961.4" y1="710.7" x2="961.4" y2="723.8" stroke="#fff" stroke-width="1"/>
<line x1="993.9" y1="710.7" x2="993.9" y2="723.8" stroke="#fff" stroke-width="1"/>
<line x1="733.9" y1="539.9" x2="733.9" y2="542.2" stroke="#333" stroke-width="0.9"/>
<line x1="766.4" y1="539.9" x2="766.4" y2="542.2" stroke="#333" stroke-width="0.9"/>
<line x1="798.9" y1="539.9" x2="798.9" y2="542.2" stroke="#333" stroke-width="0.9"/>
<line x1="831.4" y1="539.9" x2="831.4" y2="542.2" stroke="#333" stroke-width="0.9"/>
<line x1="863.9" y1="539.9" x2="863.9" y2="542.2" stroke="#333" stroke-width="0.9"/>
<line x1="896.4" y1="539.9" x2="896.4" y2="542.2" stroke="#333" stroke-width="0.9"/>
<line x1="928.9" y1="539.9" x2="928.9" y2="542.2" stroke="#333" stroke-width="0.9"/>
<line x1="961.4" y1="539.9" x2="961.4" y2="542.2" stroke="#333" stroke-width="0.9"/>
<line x1="993.9" y1="539.9" x2="993.9" y2="542.2" stroke="#333" stroke-width="0.9"/>
<line x1="733.9" y1="556.7" x2="733.9" y2="559.0" stroke="#333" stroke-width="0.9"/>
<line x1="766.4" y1="556.7" x2="766.4" y2="559.0" stroke="#333" stroke-width="0.9"/>
<line x1="798.9" y1="556.7" x2="798.9" y2="559.0" stroke="#333" stroke-width="0.9"/>
<line x1="831.4" y1="556.7" x2="831.4" y2="559.0" stroke="#333" stroke-width="0.9"/>
<line x1="863.9" y1="556.7" x2="863.9" y2="559.0" stroke="#333" stroke-width="0.9"/>
<line x1="896.4" y1="556.7" x2="896.4" y2="559.0" stroke="#333" stroke-width="0.9"/>
<line x1="928.9" y1="556.7" x2="928.9" y2="559.0" stroke="#333" stroke-width="0.9"/>
<line x1="961.4" y1="556.7" x2="961.4" y2="559.0" stroke="#333" stroke-width="0.9"/>
<line x1="993.9" y1="556.7" x2="993.9" y2="559.0" stroke="#333" stroke-width="0.9"/>
<line x1="733.9" y1="573.5" x2="733.9" y2="575.8" stroke="#333" stroke-width="0.9"/>
<line x1="766.4" y1="573.5" x2="766.4" y2="575.8" stroke="#333" stroke-width="0.9"/>
<line x1="798.9" y1="573.5" x2="798.9" y2="575.8" stroke="#333" stroke-width="0.9"/>
<line x1="831.4" y1="573.5" x2="831.4" y2="575.8" stroke="#333" stroke-width="0.9"/>
<line x1="863.9" y1="573.5" x2="863.9" y2="575.8" stroke="#333" stroke-width="0.9"/>
<line x1="896.4" y1="573.5" x2="896.4" y2="575.8" stroke="#333" stroke-width="0.9"/>
<line x1="928.9" y1="573.5" x2="928.9" y2="575.8" stroke="#333" stroke-width="0.9"/>
<line x1="961.4" y1="573.5" x2="961.4" y2="575.8" stroke="#333" stroke-width="0.9"/>
<line x1="993.9" y1="573.5" x2="993.9" y2="575.8" stroke="#333" stroke-width="0.9"/>
<line x1="733.9" y1="590.3" x2="733.9" y2="592.6" stroke="#333" stroke-width="0.9"/>
<line x1="766.4" y1="590.3" x2="766.4" y2="592.6" stroke="#333" stroke-width="0.9"/>
<line x1="798.9" y1="590.3" x2="798.9" y2="592.6" stroke="#333" stroke-width="0.9"/>
<line x1="831.4" y1="590.3" x2="831.4" y2="592.6" stroke="#333" stroke-width="0.9"/>
<line x1="863.9" y1="590.3" x2="863.9" y2="592.6" stroke="#333" stroke-width="0.9"/>
<line x1="896.4" y1="590.3" x2="896.4" y2="592.6" stroke="#333" stroke-width="0.9"/>
<line x1="928.9" y1="590.3" x2="928.9" y2="592.6" stroke="#333" stroke-width="0.9"/>
<line x1="961.4" y1="590.3" x2="961.4" y2="592.6" stroke="#333" stroke-width="0.9"/>
<line x1="993.9" y1="590.3" x2="993.9" y2="592.6" stroke="#333" stroke-width="0.9"/>
<line x1="733.9" y1="607.1" x2="733.9" y2="609.4" stroke="#333" stroke-width="0.9"/>
<line x1="766.4" y1="607.1" x2="766.4" y2="609.4" stroke="#333" stroke-width="0.9"/>
<line x1="798.9" y1="607.1" x2="798.9" y2="609.4" stroke="#333" stroke-width="0.9"/>
<line x1="831.4" y1="607.1" x2="831.4" y2="609.4" stroke="#333" stroke-width="0.9"/>
<line x1="863.9" y1="607.1" x2="863.9" y2="609.4" stroke="#333" stroke-width="0.9"/>
<line x1="896.4" y1="607.1" x2="896.4" y2="609.4" stroke="#333" stroke-width="0.9"/>
<line x1="928.9" y1="607.1" x2="928.9" y2="609.4" stroke="#333" stroke-width="0.9"/>
<line x1="961.4" y1="607.1" x2="961.4" y2="609.4" stroke="#333" stroke-width="0.9"/>
<line x1="993.9" y1="607.1" x2="993.9" y2="609.4" stroke="#333" stroke-width="0.9"/>
<line x1="733.9" y1="623.9" x2="733.9" y2="626.2" stroke="#333" stroke-width="0.9"/>
<line x1="766.4" y1="623.9" x2="766.4" y2="626.2" stroke="#333" stroke-width="0.9"/>
<line x1="798.9" y1="623.9" x2="798.9" y2="626.2" stroke="#333" stroke-width="0.9"/>
<line x1="831.4" y1="623.9" x2="831.4" y2="626.2" stroke="#333" stroke-width="0.9"/>
<line x1="863.9" y1="623.9" x2="863.9" y2="626.2" stroke="#333" stroke-width="0.9"/>
<line x1="896.4" y1="623.9" x2="896.4" y2="626.2" stroke="#333" stroke-width="0.9"/>
<line x1="928.9" y1="623.9" x2="928.9" y2="626.2" stroke="#333" stroke-width="0.9"/>
<line x1="961.4" y1="623.9" x2="961.4" y2="626.2" stroke="#333" stroke-width="0.9"/>
<line x1="993.9" y1="623.9" x2="993.9" y2="626.2" stroke="#333" stroke-width="0.9"/>
<line x1="733.9" y1="640.8" x2="733.9" y2="643.1" stroke="#333" stroke-width="0.9"/>
<line x1="766.4" y1="640.8" x2="766.4" y2="643.1" stroke="#333" stroke-width="0.9"/>
<line x1="798.9" y1="640.8" x2="798.9" y2="643.1" stroke="#333" stroke-width="0.9"/>
<line x1="831.4" y1="640.8" x2="831.4" y2="643.1" stroke="#333" stroke-width="0.9"/>
<line x1="863.9" y1="640.8" x2="863.9" y2="643.1" stroke="#333" stroke-width="0.9"/>
<line x1="896.4" y1="640.8" x2="896.4" y2="643.1" stroke="#333" stroke-width="0.9"/>
<line x1="928.9" y1="640.8" x2="928.9" y2="643.1" stroke="#333" stroke-width="0.9"/>
<line x1="961.4" y1="640.8" x2="961.4" y2="643.1" stroke="#333" stroke-width="0.9"/>
<line x1="993.9" y1="640.8" x2="993.9" y2="643.1" stroke="#333" stroke-width="0.9"/>
<line x1="733.9" y1="657.6" x2="733.9" y2="659.9" stroke="#333" stroke-width="0.9"/>
<line x1="766.4" y1="657.6" x2="766.4" y2="659.9" stroke="#333" stroke-width="0.9"/>
<line x1="798.9" y1="657.6" x2="798.9" y2="659.9" stroke="#333" stroke-width="0.9"/>
<line x1="831.4" y1="657.6" x2="831.4" y2="659.9" stroke="#333" stroke-width="0.9"/>
<line x1="863.9" y1="657.6" x2="863.9" y2="659.9" stroke="#333" stroke-width="0.9"/>
<line x1="896.4" y1="657.6" x2="896.4" y2="659.9" stroke="#333" stroke-width="0.9"/>
<line x1="928.9" y1="657.6" x2="928.9" y2="659.9" stroke="#333" stroke-width="0.9"/>
<line x1="961.4" y1="657.6" x2="961.4" y2="659.9" stroke="#333" stroke-width="0.9"/>
<line x1="993.9" y1="657.6" x2="993.9" y2="659.9" stroke="#333" stroke-width="0.9"/>
<line x1="733.9" y1="674.4" x2="733.9" y2="676.7" stroke="#333" stroke-width="0.9"/>
<line x1="766.4" y1="674.4" x2="766.4" y2="676.7" stroke="#333" stroke-width="0.9"/>
<line x1="798.9" y1="674.4" x2="798.9" y2="676.7" stroke="#333" stroke-width="0.9"/>
<line x1="831.4" y1="674.4" x2="831.4" y2="676.7" stroke="#333" stroke-width="0.9"/>
<line x1="863.9" y1="674.4" x2="863.9" y2="676.7" stroke="#333" stroke-width="0.9"/>
<line x1="896.4" y1="674.4" x2="896.4" y2="676.7" stroke="#333" stroke-width="0.9"/>
<line x1="928.9" y1="674.4" x2="928.9" y2="676.7" stroke="#333" stroke-width="0.9"/>
<line x1="961.4" y1="674.4" x2="961.4" y2="676.7" stroke="#333" stroke-width="0.9"/>
<line x1="993.9" y1="674.4" x2="993.9" y2="676.7" stroke="#333" stroke-width="0.9"/>
<line x1="733.9" y1="691.2" x2="733.9" y2="693.5" stroke="#333" stroke-width="0.9"/>
<line x1="766.4" y1="691.2" x2="766.4" y2="693.5" stroke="#333" stroke-width="0.9"/>
<line x1="798.9" y1="691.2" x2="798.9" y2="693.5" stroke="#333" stroke-width="0.9"/>
<line x1="831.4" y1="691.2" x2="831.4" y2="693.5" stroke="#333" stroke-width="0.9"/>
<line x1="863.9" y1="691.2" x2="863.9" y2="693.5" stroke="#333" stroke-width="0.9"/>
<line x1="896.4" y1="691.2" x2="896.4" y2="693.5" stroke="#333" stroke-width="0.9"/>
<line x1="928.9" y1="691.2" x2="928.9" y2="693.5" stroke="#333" stroke-width="0.9"/>
<line x1="961.4" y1="691.2" x2="961.4" y2="693.5" stroke="#333" stroke-width="0.9"/>
<line x1="993.9" y1="691.2" x2="993.9" y2="693.5" stroke="#333" stroke-width="0.9"/>
<line x1="733.9" y1="708.0" x2="733.9" y2="710.3" stroke="#333" stroke-width="0.9"/>
<line x1="766.4" y1="708.0" x2="766.4" y2="710.3" stroke="#333" stroke-width="0.9"/>
<line x1="798.9" y1="708.0" x2="798.9" y2="710.3" stroke="#333" stroke-width="0.9"/>
<line x1="831.4" y1="708.0" x2="831.4" y2="710.3" stroke="#333" stroke-width="0.9"/>
<line x1="863.9" y1="708.0" x2="863.9" y2="710.3" stroke="#333" stroke-width="0.9"/>
<line x1="896.4" y1="708.0" x2="896.4" y2="710.3" stroke="#333" stroke-width="0.9"/>
<line x1="928.9" y1="708.0" x2="928.9" y2="710.3" stroke="#333" stroke-width="0.9"/>
<line x1="961.4" y1="708.0" x2="961.4" y2="710.3" stroke="#333" stroke-width="0.9"/>
<line x1="993.9" y1="708.0" x2="993.9" y2="710.3" stroke="#333" stroke-width="0.9"/>
<line x1="733.9" y1="724.2" x2="733.9" y2="726.5" stroke="#333" stroke-width="0.9"/>
<line x1="766.4" y1="724.2" x2="766.4" y2="726.5" stroke="#333" stroke-width="0.9"/>
<line x1="798.9" y1="724.2" x2="798.9" y2="726.5" stroke="#333" stroke-width="0.9"/>
<line x1="831.4" y1="724.2" x2="831.4" y2="726.5" stroke="#333" stroke-width="0.9"/>
<line x1="863.9" y1="724.2" x2="863.9" y2="726.5" stroke="#333" stroke-width="0.9"/>
<line x1="896.4" y1="724.2" x2="896.4" y2="726.5" stroke="#333" stroke-width="0.9"/>
<line x1="928.9" y1="724.2" x2="928.9" y2="726.5" stroke="#333" stroke-width="0.9"/>
<line x1="961.4" y1="724.2" x2="961.4" y2="726.5" stroke="#333" stroke-width="0.9"/>
<line x1="993.9" y1="724.2" x2="993.9" y2="726.5" stroke="#333" stroke-width="0.9"/>
<rect x="767.5" y="542.6" width="1.3" height="13.1" fill="#B8860B" fill-opacity="0.69"/>
<rect x="827.6" y="542.6" width="1.4" height="13.1" fill="#B8860B" fill-opacity="0.85"/>
<rect x="841.5" y="542.6" width="1.3" height="13.1" fill="#B8860B" fill-opacity="0.71"/>
<rect x="846.2" y="542.6" width="1.4" height="13.1" fill="#B8860B" fill-opacity="0.85"/>
<rect x="852.2" y="542.6" width="1.4" height="13.1" fill="#B8860B" fill-opacity="0.85"/>
<rect x="854.1" y="542.6" width="1.3" height="13.1" fill="#B8860B" fill-opacity="0.58"/>
<rect x="858.2" y="542.6" width="1.3" height="13.1" fill="#B8860B" fill-opacity="0.88"/>
<rect x="860.6" y="542.6" width="1.3" height="13.1" fill="#B8860B" fill-opacity="0.66"/>
<rect x="770.6" y="559.4" width="1.3" height="13.1" fill="#B8860B" fill-opacity="0.63"/>
<rect x="827.6" y="559.4" width="1.3" height="13.1" fill="#B8860B" fill-opacity="0.92"/>
<rect x="840.8" y="559.4" width="1.3" height="13.1" fill="#B8860B" fill-opacity="0.64"/>
<rect x="846.9" y="559.4" width="1.4" height="13.1" fill="#B8860B" fill-opacity="0.85"/>
<rect x="852.2" y="559.4" width="1.4" height="13.1" fill="#B8860B" fill-opacity="0.85"/>
<rect x="854.1" y="559.4" width="1.3" height="13.1" fill="#B8860B" fill-opacity="0.59"/>
<rect x="858.2" y="559.4" width="1.3" height="13.1" fill="#B8860B" fill-opacity="0.67"/>
<rect x="861.3" y="559.4" width="1.3" height="13.1" fill="#B8860B" fill-opacity="0.73"/>
<rect x="768.7" y="576.2" width="1.3" height="13.1" fill="#B8860B" fill-opacity="0.78"/>
<rect x="826.6" y="576.2" width="1.4" height="13.1" fill="#B8860B" fill-opacity="0.85"/>
<rect x="841.5" y="576.2" width="1.3" height="13.1" fill="#B8860B" fill-opacity="0.68"/>
<rect x="847.0" y="576.2" width="1.3" height="13.1" fill="#B8860B" fill-opacity="0.81"/>
<rect x="852.2" y="576.2" width="1.3" height="13.1" fill="#B8860B" fill-opacity="0.51"/>
<rect x="854.1" y="576.2" width="1.3" height="13.1" fill="#B8860B" fill-opacity="0.92"/>
<rect x="855.8" y="576.2" width="1.3" height="13.1" fill="#B8860B" fill-opacity="0.71"/>
<rect x="858.2" y="576.2" width="1.3" height="13.1" fill="#B8860B" fill-opacity="0.70"/>
<rect x="769.1" y="593.0" width="1.4" height="13.1" fill="#B8860B" fill-opacity="0.85"/>
<rect x="827.6" y="593.0" width="1.3" height="13.1" fill="#B8860B" fill-opacity="0.70"/>
<rect x="835.5" y="593.0" width="1.3" height="13.1" fill="#B8860B" fill-opacity="0.62"/>
<rect x="847.0" y="593.0" width="1.3" height="13.1" fill="#B8860B" fill-opacity="0.87"/>
<rect x="852.2" y="593.0" width="1.4" height="13.1" fill="#B8860B" fill-opacity="0.85"/>
<rect x="854.1" y="593.0" width="1.3" height="13.1" fill="#B8860B" fill-opacity="0.70"/>
<rect x="857.5" y="593.0" width="1.3" height="13.1" fill="#B8860B" fill-opacity="0.54"/>
<rect x="861.8" y="593.0" width="1.3" height="13.1" fill="#B8860B" fill-opacity="0.66"/>
<rect x="768.7" y="609.8" width="1.3" height="13.1" fill="#B8860B" fill-opacity="0.72"/>
<rect x="827.6" y="609.8" width="1.3" height="13.1" fill="#B8860B" fill-opacity="0.66"/>
<rect x="846.3" y="609.8" width="1.3" height="13.1" fill="#B8860B" fill-opacity="0.55"/>
<rect x="847.9" y="609.8" width="1.3" height="13.1" fill="#B8860B" fill-opacity="0.90"/>
<rect x="849.8" y="609.8" width="1.3" height="13.1" fill="#B8860B" fill-opacity="0.57"/>
<rect x="852.2" y="609.8" width="1.4" height="13.1" fill="#B8860B" fill-opacity="0.85"/>
<rect x="854.6" y="609.8" width="1.3" height="13.1" fill="#B8860B" fill-opacity="0.83"/>
<rect x="858.2" y="609.8" width="1.3" height="13.1" fill="#B8860B" fill-opacity="0.69"/>
<rect x="861.8" y="609.8" width="1.3" height="13.1" fill="#B8860B" fill-opacity="0.72"/>
<rect x="767.5" y="626.6" width="1.3" height="13.1" fill="#B8860B" fill-opacity="0.80"/>
<rect x="827.1" y="626.6" width="1.4" height="13.1" fill="#B8860B" fill-opacity="0.85"/>
<rect x="847.0" y="626.6" width="1.3" height="13.1" fill="#B8860B" fill-opacity="0.51"/>
<rect x="852.2" y="626.6" width="1.4" height="13.1" fill="#B8860B" fill-opacity="0.85"/>
<rect x="854.1" y="626.6" width="1.3" height="13.1" fill="#B8860B" fill-opacity="0.72"/>
<rect x="858.2" y="626.6" width="1.3" height="13.1" fill="#B8860B" fill-opacity="0.71"/>
<rect x="860.6" y="626.6" width="1.3" height="13.1" fill="#B8860B" fill-opacity="0.69"/>
<rect x="768.7" y="643.5" width="1.3" height="13.1" fill="#B8860B" fill-opacity="0.50"/>
<rect x="827.6" y="643.5" width="1.3" height="13.1" fill="#B8860B" fill-opacity="0.51"/>
<rect x="847.0" y="643.5" width="1.3" height="13.1" fill="#B8860B" fill-opacity="0.72"/>
<rect x="852.9" y="643.5" width="3.6" height="13.1" fill="#B8860B" fill-opacity="0.4"/>
<rect x="852.9" y="643.5" width="1.1" height="13.1" fill="#B8860B" fill-opacity="0.60"/>
<rect x="854.4" y="643.5" width="1.0" height="13.1" fill="#B8860B" fill-opacity="0.75"/>
<rect x="860.6" y="643.5" width="1.3" height="13.1" fill="#B8860B" fill-opacity="0.84"/>
<rect x="768.0" y="660.3" width="1.3" height="13.1" fill="#B8860B" fill-opacity="0.50"/>
<rect x="827.6" y="660.3" width="1.3" height="13.1" fill="#B8860B" fill-opacity="0.65"/>
<rect x="845.1" y="660.3" width="1.3" height="13.1" fill="#B8860B" fill-opacity="0.72"/>
<rect x="847.0" y="660.3" width="1.3" height="13.1" fill="#B8860B" fill-opacity="0.87"/>
<rect x="852.2" y="660.3" width="1.3" height="13.1" fill="#B8860B" fill-opacity="0.75"/>
<rect x="854.1" y="660.3" width="1.3" height="13.1" fill="#B8860B" fill-opacity="0.86"/>
<rect x="855.8" y="660.3" width="1.3" height="13.1" fill="#B8860B" fill-opacity="0.81"/>
<rect x="858.2" y="660.3" width="1.3" height="13.1" fill="#B8860B" fill-opacity="0.53"/>
<rect x="860.6" y="660.3" width="1.3" height="13.1" fill="#B8860B" fill-opacity="0.94"/>
<rect x="769.9" y="677.1" width="1.3" height="13.1" fill="#B8860B" fill-opacity="0.75"/>
<rect x="826.6" y="677.1" width="1.4" height="13.1" fill="#B8860B" fill-opacity="0.85"/>
<rect x="846.3" y="677.1" width="1.3" height="13.1" fill="#B8860B" fill-opacity="0.77"/>
<rect x="852.7" y="677.1" width="1.3" height="13.1" fill="#B8860B" fill-opacity="0.62"/>
<rect x="856.5" y="677.1" width="1.3" height="13.1" fill="#B8860B" fill-opacity="0.91"/>
<rect x="859.4" y="677.1" width="1.3" height="13.1" fill="#B8860B" fill-opacity="0.95"/>
<rect x="778.7" y="693.9" width="1.3" height="13.1" fill="#B8860B" fill-opacity="0.65"/>
<rect x="825.9" y="693.9" width="1.4" height="13.1" fill="#B8860B" fill-opacity="0.85"/>
<rect x="851.0" y="693.9" width="1.3" height="13.1" fill="#B8860B" fill-opacity="0.72"/>
<rect x="855.3" y="693.9" width="2.9" height="13.1" fill="#B8860B" fill-opacity="0.4"/>
<rect x="855.3" y="693.9" width="0.8" height="13.1" fill="#B8860B" fill-opacity="0.79"/>
<rect x="857.0" y="693.9" width="0.9" height="13.1" fill="#B8860B" fill-opacity="0.82"/>
<rect x="859.5" y="542.6" width="1.3" height="13.1" fill="#B8860B" fill-opacity="0.92"/>
<rect x="867.9" y="542.6" width="1.3" height="13.1" fill="#B8860B" fill-opacity="0.87"/>
<rect x="875.7" y="542.6" width="4.8" height="13.1" fill="#B8860B" fill-opacity="0.4"/>
<rect x="875.7" y="542.6" width="0.8" height="13.1" fill="#B8860B" fill-opacity="0.56"/>
<rect x="877.7" y="542.6" width="0.7" height="13.1" fill="#B8860B" fill-opacity="0.51"/>
<rect x="879.8" y="542.6" width="1.4" height="13.1" fill="#B8860B" fill-opacity="0.56"/>
<rect x="882.2" y="542.6" width="1.3" height="13.1" fill="#B8860B" fill-opacity="0.52"/>
<rect x="885.1" y="542.6" width="1.3" height="13.1" fill="#B8860B" fill-opacity="0.56"/>
<rect x="887.4" y="542.6" width="1.3" height="13.1" fill="#B8860B" fill-opacity="0.51"/>
<rect x="889.8" y="542.6" width="1.3" height="13.1" fill="#B8860B" fill-opacity="0.76"/>
<rect x="892.9" y="542.6" width="1.3" height="13.1" fill="#B8860B" fill-opacity="0.77"/>
<rect x="895.3" y="542.6" width="1.3" height="13.1" fill="#B8860B" fill-opacity="0.56"/>
<rect x="900.8" y="542.6" width="1.3" height="13.1" fill="#B8860B" fill-opacity="0.88"/>
<rect x="907.2" y="542.6" width="1.3" height="13.1" fill="#B8860B" fill-opacity="0.72"/>
<rect x="908.9" y="542.6" width="1.3" height="13.1" fill="#B8860B" fill-opacity="0.77"/>
<rect x="914.3" y="542.6" width="1.4" height="13.1" fill="#B8860B" fill-opacity="0.85"/>
<rect x="927.0" y="542.6" width="1.3" height="13.1" fill="#B8860B" fill-opacity="0.80"/>
<rect x="934.7" y="542.6" width="1.3" height="13.1" fill="#B8860B" fill-opacity="0.59"/>
<rect x="964.5" y="542.6" width="1.3" height="13.1" fill="#B8860B" fill-opacity="0.86"/>
<rect x="858.4" y="559.4" width="1.3" height="13.1" fill="#B8860B" fill-opacity="0.68"/>
<rect x="867.4" y="559.4" width="1.3" height="13.1" fill="#B8860B" fill-opacity="0.72"/>
<rect x="875.7" y="559.4" width="4.8" height="13.1" fill="#B8860B" fill-opacity="0.4"/>
<rect x="875.7" y="559.4" width="0.8" height="13.1" fill="#B8860B" fill-opacity="0.56"/>
<rect x="877.3" y="559.4" width="1.4" height="13.1" fill="#B8860B" fill-opacity="0.66"/>
<rect x="879.6" y="559.4" width="1.4" height="13.1" fill="#B8860B" fill-opacity="0.63"/>
<rect x="881.7" y="559.4" width="1.3" height="13.1" fill="#B8860B" fill-opacity="0.75"/>
<rect x="885.1" y="559.4" width="1.3" height="13.1" fill="#B8860B" fill-opacity="0.92"/>
<rect x="889.8" y="559.4" width="1.3" height="13.1" fill="#B8860B" fill-opacity="0.52"/>
<rect x="891.7" y="559.4" width="1.3" height="13.1" fill="#B8860B" fill-opacity="0.71"/>
<rect x="895.3" y="559.4" width="1.3" height="13.1" fill="#B8860B" fill-opacity="0.79"/>
<rect x="900.1" y="559.4" width="1.3" height="13.1" fill="#B8860B" fill-opacity="0.72"/>
<rect x="907.2" y="559.4" width="1.3" height="13.1" fill="#B8860B" fill-opacity="0.55"/>
<rect x="914.3" y="559.4" width="1.4" height="13.1" fill="#B8860B" fill-opacity="0.85"/>
<rect x="927.5" y="559.4" width="1.3" height="13.1" fill="#B8860B" fill-opacity="0.73"/>
<rect x="963.8" y="559.4" width="1.3" height="13.1" fill="#B8860B" fill-opacity="0.54"/>
<rect x="859.5" y="576.2" width="1.3" height="13.1" fill="#B8860B" fill-opacity="0.53"/>
<rect x="865.0" y="576.2" width="1.3" height="13.1" fill="#B8860B" fill-opacity="0.65"/>
<rect x="867.4" y="576.2" width="1.3" height="13.1" fill="#B8860B" fill-opacity="0.58"/>
<rect x="875.7" y="576.2" width="4.8" height="13.1" fill="#B8860B" fill-opacity="0.4"/>
<rect x="875.7" y="576.2" width="1.2" height="13.1" fill="#B8860B" fill-opacity="0.88"/>
<rect x="877.4" y="576.2" width="1.6" height="13.1" fill="#B8860B" fill-opacity="0.61"/>
<rect x="882.7" y="576.2" width="1.3" height="13.1" fill="#B8860B" fill-opacity="0.74"/>
<rect x="889.4" y="576.2" width="1.3" height="13.1" fill="#B8860B" fill-opacity="0.85"/>
<rect x="891.3" y="576.2" width="1.3" height="13.1" fill="#B8860B" fill-opacity="0.89"/>
<rect x="895.3" y="576.2" width="1.3" height="13.1" fill="#B8860B" fill-opacity="0.88"/>
<rect x="900.1" y="576.2" width="1.3" height="13.1" fill="#B8860B" fill-opacity="0.57"/>
<rect x="906.0" y="576.2" width="1.4" height="13.1" fill="#B8860B" fill-opacity="0.85"/>
<rect x="914.4" y="576.2" width="1.3" height="13.1" fill="#B8860B" fill-opacity="0.90"/>
<rect x="923.9" y="576.2" width="1.3" height="13.1" fill="#B8860B" fill-opacity="0.55"/>
<rect x="925.6" y="576.2" width="1.3" height="13.1" fill="#B8860B" fill-opacity="0.83"/>
<rect x="936.6" y="576.2" width="1.3" height="13.1" fill="#B8860B" fill-opacity="0.52"/>
<rect x="859.1" y="593.0" width="1.3" height="13.1" fill="#B8860B" fill-opacity="0.64"/>
<rect x="863.1" y="593.0" width="1.3" height="13.1" fill="#B8860B" fill-opacity="0.56"/>
<rect x="867.9" y="593.0" width="1.3" height="13.1" fill="#B8860B" fill-opacity="0.78"/>
<rect x="875.7" y="593.0" width="4.8" height="13.1" fill="#B8860B" fill-opacity="0.4"/>
<rect x="875.7" y="593.0" width="1.0" height="13.1" fill="#B8860B" fill-opacity="0.70"/>
<rect x="877.2" y="593.0" width="1.1" height="13.1" fill="#B8860B" fill-opacity="0.86"/>
<rect x="879.2" y="593.0" width="1.1" height="13.1" fill="#B8860B" fill-opacity="0.78"/>
<rect x="882.2" y="593.0" width="1.3" height="13.1" fill="#B8860B" fill-opacity="0.65"/>
<rect x="884.6" y="593.0" width="1.3" height="13.1" fill="#B8860B" fill-opacity="0.55"/>
<rect x="888.8" y="593.0" width="2.4" height="13.1" fill="#B8860B" fill-opacity="0.85"/>
<rect x="895.3" y="593.0" width="1.3" height="13.1" fill="#B8860B" fill-opacity="0.61"/>
<rect x="900.0" y="593.0" width="1.4" height="13.1" fill="#B8860B" fill-opacity="0.85"/>
<rect x="907.2" y="593.0" width="1.3" height="13.1" fill="#B8860B" fill-opacity="0.57"/>
<rect x="913.6" y="593.0" width="1.4" height="13.1" fill="#B8860B" fill-opacity="0.85"/>
<rect x="925.1" y="593.0" width="1.3" height="13.1" fill="#B8860B" fill-opacity="0.68"/>
<rect x="860.7" y="609.8" width="1.3" height="13.1" fill="#B8860B" fill-opacity="0.83"/>
<rect x="867.9" y="609.8" width="1.3" height="13.1" fill="#B8860B" fill-opacity="0.84"/>
<rect x="875.7" y="609.8" width="4.8" height="13.1" fill="#B8860B" fill-opacity="0.4"/>
<rect x="875.7" y="609.8" width="0.8" height="13.1" fill="#B8860B" fill-opacity="0.52"/>
<rect x="877.2" y="609.8" width="1.5" height="13.1" fill="#B8860B" fill-opacity="0.67"/>
<rect x="879.5" y="609.8" width="1.0" height="13.1" fill="#B8860B" fill-opacity="0.70"/>
<rect x="883.4" y="609.8" width="1.3" height="13.1" fill="#B8860B" fill-opacity="0.65"/>
<rect x="888.1" y="609.8" width="1.4" height="13.1" fill="#B8860B" fill-opacity="0.85"/>
<rect x="891.7" y="609.8" width="1.3" height="13.1" fill="#B8860B" fill-opacity="0.77"/>
<rect x="893.6" y="609.8" width="1.3" height="13.1" fill="#B8860B" fill-opacity="0.84"/>
<rect x="898.8" y="609.8" width="1.4" height="13.1" fill="#B8860B" fill-opacity="0.85"/>
<rect x="908.0" y="609.8" width="1.3" height="13.1" fill="#B8860B" fill-opacity="0.66"/>
<rect x="914.3" y="609.8" width="1.4" height="13.1" fill="#B8860B" fill-opacity="0.85"/>
<rect x="927.0" y="609.8" width="1.3" height="13.1" fill="#B8860B" fill-opacity="0.71"/>
<rect x="860.3" y="626.6" width="1.3" height="13.1" fill="#B8860B" fill-opacity="0.56"/>
<rect x="867.9" y="626.6" width="1.3" height="13.1" fill="#B8860B" fill-opacity="0.62"/>
<rect x="875.7" y="626.6" width="4.8" height="13.1" fill="#B8860B" fill-opacity="0.4"/>
<rect x="875.7" y="626.6" width="0.7" height="13.1" fill="#B8860B" fill-opacity="0.48"/>
<rect x="876.8" y="626.6" width="1.5" height="13.1" fill="#B8860B" fill-opacity="0.78"/>
<rect x="879.3" y="626.6" width="1.4" height="13.1" fill="#B8860B" fill-opacity="0.53"/>
<rect x="883.4" y="626.6" width="1.3" height="13.1" fill="#B8860B" fill-opacity="0.76"/>
<rect x="887.6" y="626.6" width="3.6" height="13.1" fill="#B8860B" fill-opacity="0.4"/>
<rect x="887.6" y="626.6" width="1.5" height="13.1" fill="#B8860B" fill-opacity="0.69"/>
<rect x="889.5" y="626.6" width="0.7" height="13.1" fill="#B8860B" fill-opacity="0.47"/>
<rect x="895.3" y="626.6" width="1.3" height="13.1" fill="#B8860B" fill-opacity="0.90"/>
<rect x="900.7" y="626.6" width="1.4" height="13.1" fill="#B8860B" fill-opacity="0.85"/>
<rect x="912.7" y="626.6" width="1.4" height="13.1" fill="#B8860B" fill-opacity="0.85"/>
<rect x="925.6" y="626.6" width="1.3" height="13.1" fill="#B8860B" fill-opacity="0.57"/>
<rect x="859.1" y="643.5" width="1.3" height="13.1" fill="#B8860B" fill-opacity="0.86"/>
<rect x="864.3" y="643.5" width="1.3" height="13.1" fill="#B8860B" fill-opacity="0.52"/>
<rect x="875.7" y="643.5" width="4.8" height="13.1" fill="#B8860B" fill-opacity="0.4"/>
<rect x="875.7" y="643.5" width="1.5" height="13.1" fill="#B8860B" fill-opacity="0.77"/>
<rect x="878.0" y="643.5" width="1.1" height="13.1" fill="#B8860B" fill-opacity="0.55"/>
<rect x="882.2" y="643.5" width="1.3" height="13.1" fill="#B8860B" fill-opacity="0.62"/>
<rect x="885.1" y="643.5" width="1.3" height="13.1" fill="#B8860B" fill-opacity="0.62"/>
<rect x="888.2" y="643.5" width="1.3" height="13.1" fill="#B8860B" fill-opacity="0.85"/>
<rect x="889.8" y="643.5" width="1.3" height="13.1" fill="#B8860B" fill-opacity="0.76"/>
<rect x="895.3" y="643.5" width="1.3" height="13.1" fill="#B8860B" fill-opacity="0.73"/>
<rect x="903.1" y="643.5" width="3.6" height="13.1" fill="#B8860B" fill-opacity="0.4"/>
<rect x="903.1" y="643.5" width="1.2" height="13.1" fill="#B8860B" fill-opacity="0.50"/>
<rect x="904.8" y="643.5" width="1.6" height="13.1" fill="#B8860B" fill-opacity="0.77"/>
<rect x="908.4" y="643.5" width="1.3" height="13.1" fill="#B8860B" fill-opacity="0.75"/>
<rect x="910.3" y="643.5" width="1.3" height="13.1" fill="#B8860B" fill-opacity="0.61"/>
<rect x="912.7" y="643.5" width="1.3" height="13.1" fill="#B8860B" fill-opacity="0.57"/>
<rect x="929.9" y="643.5" width="1.3" height="13.1" fill="#B8860B" fill-opacity="0.76"/>
<rect x="859.5" y="660.3" width="1.3" height="13.1" fill="#B8860B" fill-opacity="0.50"/>
<rect x="861.9" y="660.3" width="1.3" height="13.1" fill="#B8860B" fill-opacity="0.51"/>
<rect x="875.7" y="660.3" width="4.8" height="13.1" fill="#B8860B" fill-opacity="0.4"/>
<rect x="875.7" y="660.3" width="1.0" height="13.1" fill="#B8860B" fill-opacity="0.71"/>
<rect x="878.0" y="660.3" width="1.1" height="13.1" fill="#B8860B" fill-opacity="0.59"/>
<rect x="882.2" y="660.3" width="1.3" height="13.1" fill="#B8860B" fill-opacity="0.63"/>
<rect x="885.7" y="660.3" width="3.1" height="13.1" fill="#B8860B" fill-opacity="0.4"/>
<rect x="885.7" y="660.3" width="1.1" height="13.1" fill="#B8860B" fill-opacity="0.66"/>
<rect x="887.2" y="660.3" width="0.8" height="13.1" fill="#B8860B" fill-opacity="0.45"/>
<rect x="889.8" y="660.3" width="1.3" height="13.1" fill="#B8860B" fill-opacity="0.67"/>
<rect x="891.7" y="660.3" width="1.3" height="13.1" fill="#B8860B" fill-opacity="0.81"/>
<rect x="894.1" y="660.3" width="1.3" height="13.1" fill="#B8860B" fill-opacity="0.70"/>
<rect x="897.6" y="660.3" width="1.4" height="13.1" fill="#B8860B" fill-opacity="0.85"/>
<rect x="919.9" y="660.3" width="1.3" height="13.1" fill="#B8860B" fill-opacity="0.72"/>
<rect x="859.5" y="677.1" width="1.3" height="13.1" fill="#B8860B" fill-opacity="0.89"/>
<rect x="875.7" y="677.1" width="4.8" height="13.1" fill="#B8860B" fill-opacity="0.4"/>
<rect x="875.7" y="677.1" width="1.1" height="13.1" fill="#B8860B" fill-opacity="0.50"/>
<rect x="877.8" y="677.1" width="0.7" height="13.1" fill="#B8860B" fill-opacity="0.68"/>
<rect x="879.2" y="677.1" width="1.1" height="13.1" fill="#B8860B" fill-opacity="0.78"/>
<rect x="882.7" y="677.1" width="1.3" height="13.1" fill="#B8860B" fill-opacity="0.93"/>
<rect x="885.1" y="677.1" width="1.3" height="13.1" fill="#B8860B" fill-opacity="0.85"/>
<rect x="888.2" y="677.1" width="1.3" height="13.1" fill="#B8860B" fill-opacity="0.87"/>
<rect x="891.7" y="677.1" width="1.3" height="13.1" fill="#B8860B" fill-opacity="0.92"/>
<rect x="893.6" y="677.1" width="1.3" height="13.1" fill="#B8860B" fill-opacity="0.67"/>
<rect x="875.7" y="693.9" width="19.1" height="13.1" fill="#B8860B" fill-opacity="0.4"/>
<rect x="875.7" y="693.9" width="1.0" height="13.1" fill="#B8860B" fill-opacity="0.46"/>
<rect x="877.5" y="693.9" width="0.8" height="13.1" fill="#B8860B" fill-opacity="0.55"/>
<rect x="879.0" y="693.9" width="1.1" height="13.1" fill="#B8860B" fill-opacity="0.79"/>
<rect x="880.9" y="693.9" width="1.3" height="13.1" fill="#B8860B" fill-opacity="0.46"/>
<rect x="883.3" y="693.9" width="1.4" height="13.1" fill="#B8860B" fill-opacity="0.46"/>
<rect x="885.4" y="693.9" width="1.3" height="13.1" fill="#B8860B" fill-opacity="0.51"/>
<rect x="887.8" y="693.9" width="1.6" height="13.1" fill="#B8860B" fill-opacity="0.80"/>
<rect x="890.4" y="693.9" width="1.4" height="13.1" fill="#B8860B" fill-opacity="0.87"/>
<rect x="893.2" y="693.9" width="1.0" height="13.1" fill="#B8860B" fill-opacity="0.74"/>
<rect x="898.9" y="693.9" width="1.3" height="13.1" fill="#B8860B" fill-opacity="0.91"/>
<rect x="861.8" y="710.7" width="4.3" height="13.1" fill="#D6CC5C"/>
<rect x="862.9" y="710.7" width="2.1" height="13.1" fill="#A8960F"/>
<text x="733.9" y="735.6" text-anchor="middle" font-family='"Liberation Sans", sans-serif' font-size="7.6" fill="#555">−10.0</text>
<text x="766.4" y="735.6" text-anchor="middle" font-family='"Liberation Sans", sans-serif' font-size="7.6" fill="#555">−7.5</text>
<text x="798.9" y="735.6" text-anchor="middle" font-family='"Liberation Sans", sans-serif' font-size="7.6" fill="#555">−5.0</text>
<text x="831.4" y="735.6" text-anchor="middle" font-family='"Liberation Sans", sans-serif' font-size="7.6" fill="#555">−2.5</text>
<text x="863.9" y="735.6" text-anchor="middle" font-family='"Liberation Sans", sans-serif' font-size="7.6" fill="#555">0.0</text>
<text x="896.4" y="735.6" text-anchor="middle" font-family='"Liberation Sans", sans-serif' font-size="7.6" fill="#555">2.5</text>
<text x="928.9" y="735.6" text-anchor="middle" font-family='"Liberation Sans", sans-serif' font-size="7.6" fill="#555">5.0</text>
<text x="961.4" y="735.6" text-anchor="middle" font-family='"Liberation Sans", sans-serif' font-size="7.6" fill="#555">7.5</text>
<text x="993.9" y="735.6" text-anchor="middle" font-family='"Liberation Sans", sans-serif' font-size="7.6" fill="#555">10.0</text>
<text x="863.8" y="745" text-anchor="middle" font-family='"Liberation Sans", sans-serif' font-style="italic" font-size="8.5" fill="#444">x</text>
<g transform="translate(722.3,633.5) rotate(-90)"><text x="0" y="0" text-anchor="middle" font-family='"Liberation Sans", sans-serif' font-size="9.2" fill="#555">Training (beginning --&gt; end)</text></g>
<text x="1206.1" y="340.3" text-anchor="middle" textLength="119" lengthAdjust="spacingAndGlyphs" font-family='"Liberation Sans", sans-serif' font-size="14.6" fill="#1a1a1a">Test RMSE: 0.496</text>
<rect x="1070.1" y="345.0" width="272.0" height="194.0" fill="#E5E5E5"/>
<line x1="1076.2" y1="345.0" x2="1076.2" y2="539.0" stroke="#fff" stroke-width="1"/>
<line x1="1108.7" y1="345.0" x2="1108.7" y2="539.0" stroke="#fff" stroke-width="1"/>
<line x1="1141.2" y1="345.0" x2="1141.2" y2="539.0" stroke="#fff" stroke-width="1"/>
<line x1="1173.7" y1="345.0" x2="1173.7" y2="539.0" stroke="#fff" stroke-width="1"/>
<line x1="1206.2" y1="345.0" x2="1206.2" y2="539.0" stroke="#fff" stroke-width="1"/>
<line x1="1238.7" y1="345.0" x2="1238.7" y2="539.0" stroke="#fff" stroke-width="1"/>
<line x1="1271.2" y1="345.0" x2="1271.2" y2="539.0" stroke="#fff" stroke-width="1"/>
<line x1="1303.7" y1="345.0" x2="1303.7" y2="539.0" stroke="#fff" stroke-width="1"/>
<line x1="1336.2" y1="345.0" x2="1336.2" y2="539.0" stroke="#fff" stroke-width="1"/>
<line x1="1070.1" y1="534.3" x2="1342.1" y2="534.3" stroke="#fff" stroke-width="1"/>
<line x1="1067.5" y1="534.3" x2="1070.1" y2="534.3" stroke="#444" stroke-width="0.8"/>
<text x="1064.6" y="537.0" text-anchor="end" font-family='"Liberation Sans", sans-serif' font-size="7.6" fill="#555">0.0</text>
<line x1="1070.1" y1="507.9" x2="1342.1" y2="507.9" stroke="#fff" stroke-width="1"/>
<line x1="1067.5" y1="507.9" x2="1070.1" y2="507.9" stroke="#444" stroke-width="0.8"/>
<text x="1064.6" y="510.6" text-anchor="end" font-family='"Liberation Sans", sans-serif' font-size="7.6" fill="#555">2.5</text>
<line x1="1070.1" y1="481.5" x2="1342.1" y2="481.5" stroke="#fff" stroke-width="1"/>
<line x1="1067.5" y1="481.5" x2="1070.1" y2="481.5" stroke="#444" stroke-width="0.8"/>
<text x="1064.6" y="484.2" text-anchor="end" font-family='"Liberation Sans", sans-serif' font-size="7.6" fill="#555">5.0</text>
<line x1="1070.1" y1="455.1" x2="1342.1" y2="455.1" stroke="#fff" stroke-width="1"/>
<line x1="1067.5" y1="455.1" x2="1070.1" y2="455.1" stroke="#444" stroke-width="0.8"/>
<text x="1064.6" y="457.8" text-anchor="end" font-family='"Liberation Sans", sans-serif' font-size="7.6" fill="#555">7.5</text>
<line x1="1070.1" y1="428.7" x2="1342.1" y2="428.7" stroke="#fff" stroke-width="1"/>
<line x1="1067.5" y1="428.7" x2="1070.1" y2="428.7" stroke="#444" stroke-width="0.8"/>
<text x="1064.6" y="431.4" text-anchor="end" font-family='"Liberation Sans", sans-serif' font-size="7.6" fill="#555">10.0</text>
<line x1="1070.1" y1="402.3" x2="1342.1" y2="402.3" stroke="#fff" stroke-width="1"/>
<line x1="1067.5" y1="402.3" x2="1070.1" y2="402.3" stroke="#444" stroke-width="0.8"/>
<text x="1064.6" y="405.0" text-anchor="end" font-family='"Liberation Sans", sans-serif' font-size="7.6" fill="#555">12.5</text>
<line x1="1070.1" y1="375.9" x2="1342.1" y2="375.9" stroke="#fff" stroke-width="1"/>
<line x1="1067.5" y1="375.9" x2="1070.1" y2="375.9" stroke="#444" stroke-width="0.8"/>
<text x="1064.6" y="378.6" text-anchor="end" font-family='"Liberation Sans", sans-serif' font-size="7.6" fill="#555">15.0</text>
<line x1="1070.1" y1="349.5" x2="1342.1" y2="349.5" stroke="#fff" stroke-width="1"/>
<line x1="1067.5" y1="349.5" x2="1070.1" y2="349.5" stroke="#444" stroke-width="0.8"/>
<text x="1064.6" y="352.2" text-anchor="end" font-family='"Liberation Sans", sans-serif' font-size="7.6" fill="#555">17.5</text>
<g transform="translate(1044.6,442) rotate(-90)"><text x="0" y="0" text-anchor="middle" font-family='"Liberation Sans", sans-serif' font-style="italic" font-size="8.5" fill="#444">y</text></g>
<clipPath id="cp3"><rect x="1070.1" y="345.0" width="272.0" height="194.0"/></clipPath>
<g clip-path="url(#cp3)">
<circle cx="1081.4" cy="401.9" r="4.1" fill="#FF0000"/>
<circle cx="1091.9" cy="451.2" r="4.1" fill="#FF0000"/>
<circle cx="1094.5" cy="440.5" r="4.1" fill="#FF0000"/>
<circle cx="1098.0" cy="421.2" r="4.1" fill="#FF0000"/>
<circle cx="1106.9" cy="448.4" r="4.1" fill="#FF0000"/>
<circle cx="1109.5" cy="466.1" r="4.1" fill="#FF0000"/>
<circle cx="1113.0" cy="489.1" r="4.1" fill="#FF0000"/>
<circle cx="1130.5" cy="469.7" r="4.1" fill="#FF0000"/>
<circle cx="1144.6" cy="496.1" r="4.1" fill="#FF0000"/>
<circle cx="1157.7" cy="505.8" r="4.1" fill="#FF0000"/>
<circle cx="1169.2" cy="522.2" r="4.1" fill="#FF0000"/>
<circle cx="1173.0" cy="517.9" r="4.1" fill="#FF0000"/>
<circle cx="1179.5" cy="515.8" r="4.1" fill="#FF0000"/>
<circle cx="1184.1" cy="519.5" r="4.1" fill="#FF0000"/>
<circle cx="1188.7" cy="521.6" r="4.1" fill="#FF0000"/>
<circle cx="1193.2" cy="519.0" r="4.1" fill="#FF0000"/>
<circle cx="1202.3" cy="530.6" r="4.1" fill="#FF0000"/>
<circle cx="1210.1" cy="534.8" r="4.1" fill="#FF0000"/>
<circle cx="1214.0" cy="536.9" r="4.1" fill="#FF0000"/>
<circle cx="1218.5" cy="532.7" r="4.1" fill="#FF0000"/>
<circle cx="1222.5" cy="536.4" r="4.1" fill="#FF0000"/>
<circle cx="1225.7" cy="531.7" r="4.1" fill="#FF0000"/>
<circle cx="1230.9" cy="526.4" r="4.1" fill="#FF0000"/>
<circle cx="1234.8" cy="523.7" r="4.1" fill="#FF0000"/>
<circle cx="1238.7" cy="520.0" r="4.1" fill="#FF0000"/>
<circle cx="1243.2" cy="521.1" r="4.1" fill="#FF0000"/>
<circle cx="1246.5" cy="517.9" r="4.1" fill="#FF0000"/>
<circle cx="1251.0" cy="516.3" r="4.1" fill="#FF0000"/>
<circle cx="1253.7" cy="515.1" r="4.1" fill="#FF0000"/>
<circle cx="1258.2" cy="515.8" r="4.1" fill="#FF0000"/>
<circle cx="1276.4" cy="513.2" r="4.1" fill="#FF0000"/>
<circle cx="1277.7" cy="508.2" r="4.1" fill="#FF0000"/>
<circle cx="1281.5" cy="499.1" r="4.1" fill="#FF0000"/>
<circle cx="1292.9" cy="499.1" r="4.1" fill="#FF0000"/>
<circle cx="1302.1" cy="488.6" r="4.1" fill="#FF0000"/>
<circle cx="1307.6" cy="467.3" r="4.1" fill="#FF0000"/>
<circle cx="1317.5" cy="476.4" r="4.1" fill="#FF0000"/>
<circle cx="1322.2" cy="493.1" r="4.1" fill="#FF0000"/>
<circle cx="1326.7" cy="481.7" r="4.1" fill="#FF0000"/>
<circle cx="1331.3" cy="454.5" r="4.1" fill="#FF0000"/>
<polyline points="1075.5,366.4 1076.4,371.5 1077.3,377.0 1078.2,382.9 1079.1,389.0 1079.9,395.5 1080.8,402.5 1081.7,410.0 1082.6,417.3 1083.4,424.7 1084.3,432.0 1085.2,438.3 1086.1,443.7 1086.9,449.0 1087.8,453.5 1088.7,456.3 1089.6,456.7 1090.4,456.0 1091.3,454.5 1092.2,452.6 1093.1,450.3 1093.9,447.9 1094.8,443.3 1095.7,436.9 1096.6,430.1 1097.4,424.4 1098.3,421.4 1099.2,421.3 1100.1,421.5 1100.9,422.0 1101.8,422.6 1102.7,423.4 1103.6,424.4 1104.4,427.2 1105.3,431.7 1106.2,437.1 1107.1,442.9 1107.9,448.5 1108.8,454.3 1109.7,460.7 1110.6,467.2 1111.4,473.2 1112.3,478.8 1113.2,484.8 1114.1,489.1 1114.9,489.8 1115.8,489.5 1116.7,488.9 1117.6,488.1 1118.4,487.1 1119.3,485.9 1120.2,483.0 1121.1,478.3 1121.9,473.4 1122.8,469.6 1123.7,467.6 1124.6,465.7 1125.4,464.3 1126.3,463.5 1127.2,463.6 1128.1,464.7 1128.9,466.4 1129.8,468.6 1130.7,471.0 1131.6,473.2 1132.4,475.9 1133.3,479.2 1134.2,482.8 1135.1,486.4 1135.9,489.7 1136.8,492.4 1137.7,494.3 1138.6,496.1 1139.4,497.7 1140.3,499.0 1141.2,499.9 1142.1,500.1 1142.9,499.8 1143.8,499.2 1144.7,498.3 1145.6,497.3 1146.4,496.2 1147.3,495.2 1148.2,494.2 1149.1,493.4 1149.9,492.9 1150.8,492.8 1151.7,493.1 1152.6,493.7 1153.4,494.6 1154.3,495.7 1155.2,496.9 1156.1,498.3 1156.9,500.2 1157.8,502.8 1158.7,505.6 1159.6,508.2 1160.4,510.3 1161.3,512.5 1162.2,514.7 1163.1,516.9 1163.9,518.9 1164.8,520.6 1165.7,521.9 1166.6,522.7 1167.4,522.9 1168.3,522.9 1169.2,522.8 1170.1,522.7 1170.9,522.5 1171.8,522.4 1172.7,522.2 1173.6,522.0 1174.4,521.6 1175.3,521.0 1176.2,520.2 1177.1,519.3 1178.0,518.4 1178.8,517.6 1179.7,517.0 1180.6,516.7 1181.5,516.7 1182.3,516.8 1183.2,516.9 1184.1,517.1 1185.0,517.3 1185.8,517.6 1186.7,517.8 1187.6,518.1 1188.5,518.4 1189.3,518.7 1190.2,518.9 1191.1,519.2 1192.0,519.5 1192.8,519.8 1193.7,520.2 1194.6,520.5 1195.5,520.9 1196.3,521.2 1197.2,521.6 1198.1,522.1 1199.0,522.5 1199.8,523.0 1200.7,523.5 1201.6,524.2 1202.5,524.9 1203.3,525.7 1204.2,526.5 1205.1,527.4 1206.0,528.2 1206.8,529.0 1207.7,529.8 1208.6,530.5 1209.5,531.0 1210.3,531.5 1211.2,532.0 1212.1,532.4 1213.0,532.9 1213.8,533.3 1214.7,533.8 1215.6,534.1 1216.5,534.4 1217.3,534.6 1218.2,534.8 1219.1,534.8 1220.0,534.8 1220.8,534.5 1221.7,534.2 1222.6,533.8 1223.5,533.3 1224.3,532.7 1225.2,532.2 1226.1,531.6 1227.0,531.0 1227.8,530.4 1228.7,529.9 1229.6,529.4 1230.5,528.8 1231.3,528.2 1232.2,527.6 1233.1,527.0 1234.0,526.4 1234.8,525.7 1235.7,525.1 1236.6,524.5 1237.5,523.9 1238.3,523.3 1239.2,522.8 1240.1,522.3 1241.0,521.9 1241.8,521.5 1242.7,521.1 1243.6,520.7 1244.5,520.2 1245.3,519.8 1246.2,519.4 1247.1,519.0 1248.0,518.6 1248.8,518.3 1249.7,517.9 1250.6,517.6 1251.5,517.3 1252.3,517.1 1253.2,516.9 1254.1,516.7 1255.0,516.6 1255.8,516.6 1256.7,516.6 1257.6,516.9 1258.5,517.4 1259.3,518.1 1260.2,518.8 1261.1,519.5 1262.0,520.1 1262.8,520.6 1263.7,521.1 1264.6,521.6 1265.5,522.1 1266.3,522.5 1267.2,522.9 1268.1,523.2 1269.0,523.3 1269.8,523.2 1270.7,522.8 1271.6,522.2 1272.5,521.3 1273.3,520.3 1274.2,519.2 1275.1,518.0 1276.0,516.2 1276.9,513.9 1277.7,511.4 1278.6,508.8 1279.5,506.4 1280.4,504.3 1281.2,502.7 1282.1,501.0 1283.0,499.3 1283.9,497.7 1284.7,496.3 1285.6,495.1 1286.5,494.3 1287.4,493.9 1288.2,494.0 1289.1,494.4 1290.0,495.1 1290.9,495.9 1291.7,496.7 1292.6,497.4 1293.5,498.0 1294.4,498.7 1295.2,499.3 1296.1,499.7 1297.0,499.9 1297.9,499.4 1298.7,498.3 1299.6,496.9 1300.5,495.1 1301.4,493.2 1302.2,491.3 1303.1,489.0 1304.0,486.0 1304.9,482.7 1305.7,479.4 1306.6,476.3 1307.5,473.7 1308.4,471.4 1309.2,469.0 1310.1,466.9 1311.0,465.2 1311.9,464.4 1312.7,464.5 1313.6,465.4 1314.5,466.9 1315.4,468.8 1316.2,470.8 1317.1,473.0 1318.0,476.2 1318.9,480.2 1319.7,484.3 1320.6,487.8 1321.5,490.2 1322.4,490.8 1323.2,490.4 1324.1,489.6 1325.0,488.5 1325.9,487.1 1326.7,484.8 1327.6,481.0 1328.5,476.2 1329.4,470.9 1330.2,465.1 1331.1,457.8 1332.0,449.8 1332.9,442.2 1333.7,436.2 1334.6,431.2 1335.5,426.7 1336.4,422.9 1337.2,419.7" fill="none" stroke="#000" stroke-width="4.2" stroke-linejoin="round"/>
<polyline points="1076.2,532.4 1336.9,538.7" fill="none" stroke="#0000E0" stroke-width="2.4" stroke-dasharray="7.4 3.4"/>
<polyline points="1076.2,357.9 1080.1,381.2 1088.3,459.6 1099.9,414.7 1112.7,489.1 1129.5,469.9 1159.0,507.1 1219.2,533.2 1276.1,509.7 1301.8,489.1 1310.7,459.6 1323.2,495.5 1337.5,416.0" fill="none" stroke="#0000D8" stroke-width="2.9" stroke-linejoin="round"/>
</g>
<rect x="1070.1" y="542.6" width="272.0" height="13.1" fill="#E5E5E5"/>
<line x1="1076.2" y1="542.6" x2="1076.2" y2="555.7" stroke="#fff" stroke-width="1"/>
<line x1="1108.7" y1="542.6" x2="1108.7" y2="555.7" stroke="#fff" stroke-width="1"/>
<line x1="1141.2" y1="542.6" x2="1141.2" y2="555.7" stroke="#fff" stroke-width="1"/>
<line x1="1173.7" y1="542.6" x2="1173.7" y2="555.7" stroke="#fff" stroke-width="1"/>
<line x1="1206.2" y1="542.6" x2="1206.2" y2="555.7" stroke="#fff" stroke-width="1"/>
<line x1="1238.7" y1="542.6" x2="1238.7" y2="555.7" stroke="#fff" stroke-width="1"/>
<line x1="1271.2" y1="542.6" x2="1271.2" y2="555.7" stroke="#fff" stroke-width="1"/>
<line x1="1303.7" y1="542.6" x2="1303.7" y2="555.7" stroke="#fff" stroke-width="1"/>
<line x1="1336.2" y1="542.6" x2="1336.2" y2="555.7" stroke="#fff" stroke-width="1"/>
<rect x="1070.1" y="559.4" width="272.0" height="13.1" fill="#E5E5E5"/>
<line x1="1076.2" y1="559.4" x2="1076.2" y2="572.5" stroke="#fff" stroke-width="1"/>
<line x1="1108.7" y1="559.4" x2="1108.7" y2="572.5" stroke="#fff" stroke-width="1"/>
<line x1="1141.2" y1="559.4" x2="1141.2" y2="572.5" stroke="#fff" stroke-width="1"/>
<line x1="1173.7" y1="559.4" x2="1173.7" y2="572.5" stroke="#fff" stroke-width="1"/>
<line x1="1206.2" y1="559.4" x2="1206.2" y2="572.5" stroke="#fff" stroke-width="1"/>
<line x1="1238.7" y1="559.4" x2="1238.7" y2="572.5" stroke="#fff" stroke-width="1"/>
<line x1="1271.2" y1="559.4" x2="1271.2" y2="572.5" stroke="#fff" stroke-width="1"/>
<line x1="1303.7" y1="559.4" x2="1303.7" y2="572.5" stroke="#fff" stroke-width="1"/>
<line x1="1336.2" y1="559.4" x2="1336.2" y2="572.5" stroke="#fff" stroke-width="1"/>
<rect x="1070.1" y="576.2" width="272.0" height="13.1" fill="#E5E5E5"/>
<line x1="1076.2" y1="576.2" x2="1076.2" y2="589.3" stroke="#fff" stroke-width="1"/>
<line x1="1108.7" y1="576.2" x2="1108.7" y2="589.3" stroke="#fff" stroke-width="1"/>
<line x1="1141.2" y1="576.2" x2="1141.2" y2="589.3" stroke="#fff" stroke-width="1"/>
<line x1="1173.7" y1="576.2" x2="1173.7" y2="589.3" stroke="#fff" stroke-width="1"/>
<line x1="1206.2" y1="576.2" x2="1206.2" y2="589.3" stroke="#fff" stroke-width="1"/>
<line x1="1238.7" y1="576.2" x2="1238.7" y2="589.3" stroke="#fff" stroke-width="1"/>
<line x1="1271.2" y1="576.2" x2="1271.2" y2="589.3" stroke="#fff" stroke-width="1"/>
<line x1="1303.7" y1="576.2" x2="1303.7" y2="589.3" stroke="#fff" stroke-width="1"/>
<line x1="1336.2" y1="576.2" x2="1336.2" y2="589.3" stroke="#fff" stroke-width="1"/>
<rect x="1070.1" y="593.0" width="272.0" height="13.1" fill="#E5E5E5"/>
<line x1="1076.2" y1="593.0" x2="1076.2" y2="606.1" stroke="#fff" stroke-width="1"/>
<line x1="1108.7" y1="593.0" x2="1108.7" y2="606.1" stroke="#fff" stroke-width="1"/>
<line x1="1141.2" y1="593.0" x2="1141.2" y2="606.1" stroke="#fff" stroke-width="1"/>
<line x1="1173.7" y1="593.0" x2="1173.7" y2="606.1" stroke="#fff" stroke-width="1"/>
<line x1="1206.2" y1="593.0" x2="1206.2" y2="606.1" stroke="#fff" stroke-width="1"/>
<line x1="1238.7" y1="593.0" x2="1238.7" y2="606.1" stroke="#fff" stroke-width="1"/>
<line x1="1271.2" y1="593.0" x2="1271.2" y2="606.1" stroke="#fff" stroke-width="1"/>
<line x1="1303.7" y1="593.0" x2="1303.7" y2="606.1" stroke="#fff" stroke-width="1"/>
<line x1="1336.2" y1="593.0" x2="1336.2" y2="606.1" stroke="#fff" stroke-width="1"/>
<rect x="1070.1" y="609.8" width="272.0" height="13.1" fill="#E5E5E5"/>
<line x1="1076.2" y1="609.8" x2="1076.2" y2="622.9" stroke="#fff" stroke-width="1"/>
<line x1="1108.7" y1="609.8" x2="1108.7" y2="622.9" stroke="#fff" stroke-width="1"/>
<line x1="1141.2" y1="609.8" x2="1141.2" y2="622.9" stroke="#fff" stroke-width="1"/>
<line x1="1173.7" y1="609.8" x2="1173.7" y2="622.9" stroke="#fff" stroke-width="1"/>
<line x1="1206.2" y1="609.8" x2="1206.2" y2="622.9" stroke="#fff" stroke-width="1"/>
<line x1="1238.7" y1="609.8" x2="1238.7" y2="622.9" stroke="#fff" stroke-width="1"/>
<line x1="1271.2" y1="609.8" x2="1271.2" y2="622.9" stroke="#fff" stroke-width="1"/>
<line x1="1303.7" y1="609.8" x2="1303.7" y2="622.9" stroke="#fff" stroke-width="1"/>
<line x1="1336.2" y1="609.8" x2="1336.2" y2="622.9" stroke="#fff" stroke-width="1"/>
<rect x="1070.1" y="626.6" width="272.0" height="13.1" fill="#E5E5E5"/>
<line x1="1076.2" y1="626.6" x2="1076.2" y2="639.8" stroke="#fff" stroke-width="1"/>
<line x1="1108.7" y1="626.6" x2="1108.7" y2="639.8" stroke="#fff" stroke-width="1"/>
<line x1="1141.2" y1="626.6" x2="1141.2" y2="639.8" stroke="#fff" stroke-width="1"/>
<line x1="1173.7" y1="626.6" x2="1173.7" y2="639.8" stroke="#fff" stroke-width="1"/>
<line x1="1206.2" y1="626.6" x2="1206.2" y2="639.8" stroke="#fff" stroke-width="1"/>
<line x1="1238.7" y1="626.6" x2="1238.7" y2="639.8" stroke="#fff" stroke-width="1"/>
<line x1="1271.2" y1="626.6" x2="1271.2" y2="639.8" stroke="#fff" stroke-width="1"/>
<line x1="1303.7" y1="626.6" x2="1303.7" y2="639.8" stroke="#fff" stroke-width="1"/>
<line x1="1336.2" y1="626.6" x2="1336.2" y2="639.8" stroke="#fff" stroke-width="1"/>
<rect x="1070.1" y="643.5" width="272.0" height="13.1" fill="#E5E5E5"/>
<line x1="1076.2" y1="643.5" x2="1076.2" y2="656.6" stroke="#fff" stroke-width="1"/>
<line x1="1108.7" y1="643.5" x2="1108.7" y2="656.6" stroke="#fff" stroke-width="1"/>
<line x1="1141.2" y1="643.5" x2="1141.2" y2="656.6" stroke="#fff" stroke-width="1"/>
<line x1="1173.7" y1="643.5" x2="1173.7" y2="656.6" stroke="#fff" stroke-width="1"/>
<line x1="1206.2" y1="643.5" x2="1206.2" y2="656.6" stroke="#fff" stroke-width="1"/>
<line x1="1238.7" y1="643.5" x2="1238.7" y2="656.6" stroke="#fff" stroke-width="1"/>
<line x1="1271.2" y1="643.5" x2="1271.2" y2="656.6" stroke="#fff" stroke-width="1"/>
<line x1="1303.7" y1="643.5" x2="1303.7" y2="656.6" stroke="#fff" stroke-width="1"/>
<line x1="1336.2" y1="643.5" x2="1336.2" y2="656.6" stroke="#fff" stroke-width="1"/>
<rect x="1070.1" y="660.3" width="272.0" height="13.1" fill="#E5E5E5"/>
<line x1="1076.2" y1="660.3" x2="1076.2" y2="673.4" stroke="#fff" stroke-width="1"/>
<line x1="1108.7" y1="660.3" x2="1108.7" y2="673.4" stroke="#fff" stroke-width="1"/>
<line x1="1141.2" y1="660.3" x2="1141.2" y2="673.4" stroke="#fff" stroke-width="1"/>
<line x1="1173.7" y1="660.3" x2="1173.7" y2="673.4" stroke="#fff" stroke-width="1"/>
<line x1="1206.2" y1="660.3" x2="1206.2" y2="673.4" stroke="#fff" stroke-width="1"/>
<line x1="1238.7" y1="660.3" x2="1238.7" y2="673.4" stroke="#fff" stroke-width="1"/>
<line x1="1271.2" y1="660.3" x2="1271.2" y2="673.4" stroke="#fff" stroke-width="1"/>
<line x1="1303.7" y1="660.3" x2="1303.7" y2="673.4" stroke="#fff" stroke-width="1"/>
<line x1="1336.2" y1="660.3" x2="1336.2" y2="673.4" stroke="#fff" stroke-width="1"/>
<rect x="1070.1" y="677.1" width="272.0" height="13.1" fill="#E5E5E5"/>
<line x1="1076.2" y1="677.1" x2="1076.2" y2="690.2" stroke="#fff" stroke-width="1"/>
<line x1="1108.7" y1="677.1" x2="1108.7" y2="690.2" stroke="#fff" stroke-width="1"/>
<line x1="1141.2" y1="677.1" x2="1141.2" y2="690.2" stroke="#fff" stroke-width="1"/>
<line x1="1173.7" y1="677.1" x2="1173.7" y2="690.2" stroke="#fff" stroke-width="1"/>
<line x1="1206.2" y1="677.1" x2="1206.2" y2="690.2" stroke="#fff" stroke-width="1"/>
<line x1="1238.7" y1="677.1" x2="1238.7" y2="690.2" stroke="#fff" stroke-width="1"/>
<line x1="1271.2" y1="677.1" x2="1271.2" y2="690.2" stroke="#fff" stroke-width="1"/>
<line x1="1303.7" y1="677.1" x2="1303.7" y2="690.2" stroke="#fff" stroke-width="1"/>
<line x1="1336.2" y1="677.1" x2="1336.2" y2="690.2" stroke="#fff" stroke-width="1"/>
<rect x="1070.1" y="693.9" width="272.0" height="13.1" fill="#E5E5E5"/>
<line x1="1076.2" y1="693.9" x2="1076.2" y2="707.0" stroke="#fff" stroke-width="1"/>
<line x1="1108.7" y1="693.9" x2="1108.7" y2="707.0" stroke="#fff" stroke-width="1"/>
<line x1="1141.2" y1="693.9" x2="1141.2" y2="707.0" stroke="#fff" stroke-width="1"/>
<line x1="1173.7" y1="693.9" x2="1173.7" y2="707.0" stroke="#fff" stroke-width="1"/>
<line x1="1206.2" y1="693.9" x2="1206.2" y2="707.0" stroke="#fff" stroke-width="1"/>
<line x1="1238.7" y1="693.9" x2="1238.7" y2="707.0" stroke="#fff" stroke-width="1"/>
<line x1="1271.2" y1="693.9" x2="1271.2" y2="707.0" stroke="#fff" stroke-width="1"/>
<line x1="1303.7" y1="693.9" x2="1303.7" y2="707.0" stroke="#fff" stroke-width="1"/>
<line x1="1336.2" y1="693.9" x2="1336.2" y2="707.0" stroke="#fff" stroke-width="1"/>
<rect x="1070.1" y="710.7" width="272.0" height="13.1" fill="#E5E5E5"/>
<line x1="1076.2" y1="710.7" x2="1076.2" y2="723.8" stroke="#fff" stroke-width="1"/>
<line x1="1108.7" y1="710.7" x2="1108.7" y2="723.8" stroke="#fff" stroke-width="1"/>
<line x1="1141.2" y1="710.7" x2="1141.2" y2="723.8" stroke="#fff" stroke-width="1"/>
<line x1="1173.7" y1="710.7" x2="1173.7" y2="723.8" stroke="#fff" stroke-width="1"/>
<line x1="1206.2" y1="710.7" x2="1206.2" y2="723.8" stroke="#fff" stroke-width="1"/>
<line x1="1238.7" y1="710.7" x2="1238.7" y2="723.8" stroke="#fff" stroke-width="1"/>
<line x1="1271.2" y1="710.7" x2="1271.2" y2="723.8" stroke="#fff" stroke-width="1"/>
<line x1="1303.7" y1="710.7" x2="1303.7" y2="723.8" stroke="#fff" stroke-width="1"/>
<line x1="1336.2" y1="710.7" x2="1336.2" y2="723.8" stroke="#fff" stroke-width="1"/>
<line x1="1076.2" y1="539.9" x2="1076.2" y2="542.2" stroke="#333" stroke-width="0.9"/>
<line x1="1108.7" y1="539.9" x2="1108.7" y2="542.2" stroke="#333" stroke-width="0.9"/>
<line x1="1141.2" y1="539.9" x2="1141.2" y2="542.2" stroke="#333" stroke-width="0.9"/>
<line x1="1173.7" y1="539.9" x2="1173.7" y2="542.2" stroke="#333" stroke-width="0.9"/>
<line x1="1206.2" y1="539.9" x2="1206.2" y2="542.2" stroke="#333" stroke-width="0.9"/>
<line x1="1238.7" y1="539.9" x2="1238.7" y2="542.2" stroke="#333" stroke-width="0.9"/>
<line x1="1271.2" y1="539.9" x2="1271.2" y2="542.2" stroke="#333" stroke-width="0.9"/>
<line x1="1303.7" y1="539.9" x2="1303.7" y2="542.2" stroke="#333" stroke-width="0.9"/>
<line x1="1336.2" y1="539.9" x2="1336.2" y2="542.2" stroke="#333" stroke-width="0.9"/>
<line x1="1076.2" y1="556.7" x2="1076.2" y2="559.0" stroke="#333" stroke-width="0.9"/>
<line x1="1108.7" y1="556.7" x2="1108.7" y2="559.0" stroke="#333" stroke-width="0.9"/>
<line x1="1141.2" y1="556.7" x2="1141.2" y2="559.0" stroke="#333" stroke-width="0.9"/>
<line x1="1173.7" y1="556.7" x2="1173.7" y2="559.0" stroke="#333" stroke-width="0.9"/>
<line x1="1206.2" y1="556.7" x2="1206.2" y2="559.0" stroke="#333" stroke-width="0.9"/>
<line x1="1238.7" y1="556.7" x2="1238.7" y2="559.0" stroke="#333" stroke-width="0.9"/>
<line x1="1271.2" y1="556.7" x2="1271.2" y2="559.0" stroke="#333" stroke-width="0.9"/>
<line x1="1303.7" y1="556.7" x2="1303.7" y2="559.0" stroke="#333" stroke-width="0.9"/>
<line x1="1336.2" y1="556.7" x2="1336.2" y2="559.0" stroke="#333" stroke-width="0.9"/>
<line x1="1076.2" y1="573.5" x2="1076.2" y2="575.8" stroke="#333" stroke-width="0.9"/>
<line x1="1108.7" y1="573.5" x2="1108.7" y2="575.8" stroke="#333" stroke-width="0.9"/>
<line x1="1141.2" y1="573.5" x2="1141.2" y2="575.8" stroke="#333" stroke-width="0.9"/>
<line x1="1173.7" y1="573.5" x2="1173.7" y2="575.8" stroke="#333" stroke-width="0.9"/>
<line x1="1206.2" y1="573.5" x2="1206.2" y2="575.8" stroke="#333" stroke-width="0.9"/>
<line x1="1238.7" y1="573.5" x2="1238.7" y2="575.8" stroke="#333" stroke-width="0.9"/>
<line x1="1271.2" y1="573.5" x2="1271.2" y2="575.8" stroke="#333" stroke-width="0.9"/>
<line x1="1303.7" y1="573.5" x2="1303.7" y2="575.8" stroke="#333" stroke-width="0.9"/>
<line x1="1336.2" y1="573.5" x2="1336.2" y2="575.8" stroke="#333" stroke-width="0.9"/>
<line x1="1076.2" y1="590.3" x2="1076.2" y2="592.6" stroke="#333" stroke-width="0.9"/>
<line x1="1108.7" y1="590.3" x2="1108.7" y2="592.6" stroke="#333" stroke-width="0.9"/>
<line x1="1141.2" y1="590.3" x2="1141.2" y2="592.6" stroke="#333" stroke-width="0.9"/>
<line x1="1173.7" y1="590.3" x2="1173.7" y2="592.6" stroke="#333" stroke-width="0.9"/>
<line x1="1206.2" y1="590.3" x2="1206.2" y2="592.6" stroke="#333" stroke-width="0.9"/>
<line x1="1238.7" y1="590.3" x2="1238.7" y2="592.6" stroke="#333" stroke-width="0.9"/>
<line x1="1271.2" y1="590.3" x2="1271.2" y2="592.6" stroke="#333" stroke-width="0.9"/>
<line x1="1303.7" y1="590.3" x2="1303.7" y2="592.6" stroke="#333" stroke-width="0.9"/>
<line x1="1336.2" y1="590.3" x2="1336.2" y2="592.6" stroke="#333" stroke-width="0.9"/>
<line x1="1076.2" y1="607.1" x2="1076.2" y2="609.4" stroke="#333" stroke-width="0.9"/>
<line x1="1108.7" y1="607.1" x2="1108.7" y2="609.4" stroke="#333" stroke-width="0.9"/>
<line x1="1141.2" y1="607.1" x2="1141.2" y2="609.4" stroke="#333" stroke-width="0.9"/>
<line x1="1173.7" y1="607.1" x2="1173.7" y2="609.4" stroke="#333" stroke-width="0.9"/>
<line x1="1206.2" y1="607.1" x2="1206.2" y2="609.4" stroke="#333" stroke-width="0.9"/>
<line x1="1238.7" y1="607.1" x2="1238.7" y2="609.4" stroke="#333" stroke-width="0.9"/>
<line x1="1271.2" y1="607.1" x2="1271.2" y2="609.4" stroke="#333" stroke-width="0.9"/>
<line x1="1303.7" y1="607.1" x2="1303.7" y2="609.4" stroke="#333" stroke-width="0.9"/>
<line x1="1336.2" y1="607.1" x2="1336.2" y2="609.4" stroke="#333" stroke-width="0.9"/>
<line x1="1076.2" y1="623.9" x2="1076.2" y2="626.2" stroke="#333" stroke-width="0.9"/>
<line x1="1108.7" y1="623.9" x2="1108.7" y2="626.2" stroke="#333" stroke-width="0.9"/>
<line x1="1141.2" y1="623.9" x2="1141.2" y2="626.2" stroke="#333" stroke-width="0.9"/>
<line x1="1173.7" y1="623.9" x2="1173.7" y2="626.2" stroke="#333" stroke-width="0.9"/>
<line x1="1206.2" y1="623.9" x2="1206.2" y2="626.2" stroke="#333" stroke-width="0.9"/>
<line x1="1238.7" y1="623.9" x2="1238.7" y2="626.2" stroke="#333" stroke-width="0.9"/>
<line x1="1271.2" y1="623.9" x2="1271.2" y2="626.2" stroke="#333" stroke-width="0.9"/>
<line x1="1303.7" y1="623.9" x2="1303.7" y2="626.2" stroke="#333" stroke-width="0.9"/>
<line x1="1336.2" y1="623.9" x2="1336.2" y2="626.2" stroke="#333" stroke-width="0.9"/>
<line x1="1076.2" y1="640.8" x2="1076.2" y2="643.1" stroke="#333" stroke-width="0.9"/>
<line x1="1108.7" y1="640.8" x2="1108.7" y2="643.1" stroke="#333" stroke-width="0.9"/>
<line x1="1141.2" y1="640.8" x2="1141.2" y2="643.1" stroke="#333" stroke-width="0.9"/>
<line x1="1173.7" y1="640.8" x2="1173.7" y2="643.1" stroke="#333" stroke-width="0.9"/>
<line x1="1206.2" y1="640.8" x2="1206.2" y2="643.1" stroke="#333" stroke-width="0.9"/>
<line x1="1238.7" y1="640.8" x2="1238.7" y2="643.1" stroke="#333" stroke-width="0.9"/>
<line x1="1271.2" y1="640.8" x2="1271.2" y2="643.1" stroke="#333" stroke-width="0.9"/>
<line x1="1303.7" y1="640.8" x2="1303.7" y2="643.1" stroke="#333" stroke-width="0.9"/>
<line x1="1336.2" y1="640.8" x2="1336.2" y2="643.1" stroke="#333" stroke-width="0.9"/>
<line x1="1076.2" y1="657.6" x2="1076.2" y2="659.9" stroke="#333" stroke-width="0.9"/>
<line x1="1108.7" y1="657.6" x2="1108.7" y2="659.9" stroke="#333" stroke-width="0.9"/>
<line x1="1141.2" y1="657.6" x2="1141.2" y2="659.9" stroke="#333" stroke-width="0.9"/>
<line x1="1173.7" y1="657.6" x2="1173.7" y2="659.9" stroke="#333" stroke-width="0.9"/>
<line x1="1206.2" y1="657.6" x2="1206.2" y2="659.9" stroke="#333" stroke-width="0.9"/>
<line x1="1238.7" y1="657.6" x2="1238.7" y2="659.9" stroke="#333" stroke-width="0.9"/>
<line x1="1271.2" y1="657.6" x2="1271.2" y2="659.9" stroke="#333" stroke-width="0.9"/>
<line x1="1303.7" y1="657.6" x2="1303.7" y2="659.9" stroke="#333" stroke-width="0.9"/>
<line x1="1336.2" y1="657.6" x2="1336.2" y2="659.9" stroke="#333" stroke-width="0.9"/>
<line x1="1076.2" y1="674.4" x2="1076.2" y2="676.7" stroke="#333" stroke-width="0.9"/>
<line x1="1108.7" y1="674.4" x2="1108.7" y2="676.7" stroke="#333" stroke-width="0.9"/>
<line x1="1141.2" y1="674.4" x2="1141.2" y2="676.7" stroke="#333" stroke-width="0.9"/>
<line x1="1173.7" y1="674.4" x2="1173.7" y2="676.7" stroke="#333" stroke-width="0.9"/>
<line x1="1206.2" y1="674.4" x2="1206.2" y2="676.7" stroke="#333" stroke-width="0.9"/>
<line x1="1238.7" y1="674.4" x2="1238.7" y2="676.7" stroke="#333" stroke-width="0.9"/>
<line x1="1271.2" y1="674.4" x2="1271.2" y2="676.7" stroke="#333" stroke-width="0.9"/>
<line x1="1303.7" y1="674.4" x2="1303.7" y2="676.7" stroke="#333" stroke-width="0.9"/>
<line x1="1336.2" y1="674.4" x2="1336.2" y2="676.7" stroke="#333" stroke-width="0.9"/>
<line x1="1076.2" y1="691.2" x2="1076.2" y2="693.5" stroke="#333" stroke-width="0.9"/>
<line x1="1108.7" y1="691.2" x2="1108.7" y2="693.5" stroke="#333" stroke-width="0.9"/>
<line x1="1141.2" y1="691.2" x2="1141.2" y2="693.5" stroke="#333" stroke-width="0.9"/>
<line x1="1173.7" y1="691.2" x2="1173.7" y2="693.5" stroke="#333" stroke-width="0.9"/>
<line x1="1206.2" y1="691.2" x2="1206.2" y2="693.5" stroke="#333" stroke-width="0.9"/>
<line x1="1238.7" y1="691.2" x2="1238.7" y2="693.5" stroke="#333" stroke-width="0.9"/>
<line x1="1271.2" y1="691.2" x2="1271.2" y2="693.5" stroke="#333" stroke-width="0.9"/>
<line x1="1303.7" y1="691.2" x2="1303.7" y2="693.5" stroke="#333" stroke-width="0.9"/>
<line x1="1336.2" y1="691.2" x2="1336.2" y2="693.5" stroke="#333" stroke-width="0.9"/>
<line x1="1076.2" y1="708.0" x2="1076.2" y2="710.3" stroke="#333" stroke-width="0.9"/>
<line x1="1108.7" y1="708.0" x2="1108.7" y2="710.3" stroke="#333" stroke-width="0.9"/>
<line x1="1141.2" y1="708.0" x2="1141.2" y2="710.3" stroke="#333" stroke-width="0.9"/>
<line x1="1173.7" y1="708.0" x2="1173.7" y2="710.3" stroke="#333" stroke-width="0.9"/>
<line x1="1206.2" y1="708.0" x2="1206.2" y2="710.3" stroke="#333" stroke-width="0.9"/>
<line x1="1238.7" y1="708.0" x2="1238.7" y2="710.3" stroke="#333" stroke-width="0.9"/>
<line x1="1271.2" y1="708.0" x2="1271.2" y2="710.3" stroke="#333" stroke-width="0.9"/>
<line x1="1303.7" y1="708.0" x2="1303.7" y2="710.3" stroke="#333" stroke-width="0.9"/>
<line x1="1336.2" y1="708.0" x2="1336.2" y2="710.3" stroke="#333" stroke-width="0.9"/>
<line x1="1076.2" y1="724.2" x2="1076.2" y2="726.5" stroke="#333" stroke-width="0.9"/>
<line x1="1108.7" y1="724.2" x2="1108.7" y2="726.5" stroke="#333" stroke-width="0.9"/>
<line x1="1141.2" y1="724.2" x2="1141.2" y2="726.5" stroke="#333" stroke-width="0.9"/>
<line x1="1173.7" y1="724.2" x2="1173.7" y2="726.5" stroke="#333" stroke-width="0.9"/>
<line x1="1206.2" y1="724.2" x2="1206.2" y2="726.5" stroke="#333" stroke-width="0.9"/>
<line x1="1238.7" y1="724.2" x2="1238.7" y2="726.5" stroke="#333" stroke-width="0.9"/>
<line x1="1271.2" y1="724.2" x2="1271.2" y2="726.5" stroke="#333" stroke-width="0.9"/>
<line x1="1303.7" y1="724.2" x2="1303.7" y2="726.5" stroke="#333" stroke-width="0.9"/>
<line x1="1336.2" y1="724.2" x2="1336.2" y2="726.5" stroke="#333" stroke-width="0.9"/>
<rect x="1071.3" y="542.6" width="1.3" height="13.1" fill="#B8860B" fill-opacity="0.53"/>
<rect x="1073.7" y="542.6" width="1.3" height="13.1" fill="#B8860B" fill-opacity="0.63"/>
<rect x="1077.8" y="542.6" width="1.3" height="13.1" fill="#B8860B" fill-opacity="0.76"/>
<rect x="1079.2" y="542.6" width="1.3" height="13.1" fill="#B8860B" fill-opacity="0.60"/>
<rect x="1082.5" y="542.6" width="1.3" height="13.1" fill="#B8860B" fill-opacity="0.69"/>
<rect x="1089.2" y="542.6" width="1.3" height="13.1" fill="#B8860B" fill-opacity="0.66"/>
<rect x="1091.1" y="542.6" width="1.3" height="13.1" fill="#B8860B" fill-opacity="0.80"/>
<rect x="1093.5" y="542.6" width="1.3" height="13.1" fill="#B8860B" fill-opacity="0.73"/>
<rect x="1095.2" y="542.6" width="1.3" height="13.1" fill="#B8860B" fill-opacity="0.87"/>
<rect x="1097.6" y="542.6" width="1.3" height="13.1" fill="#B8860B" fill-opacity="0.78"/>
<rect x="1099.2" y="542.6" width="1.3" height="13.1" fill="#B8860B" fill-opacity="0.82"/>
<rect x="1101.1" y="542.6" width="1.3" height="13.1" fill="#B8860B" fill-opacity="0.51"/>
<rect x="1103.1" y="542.6" width="1.3" height="13.1" fill="#B8860B" fill-opacity="0.80"/>
<rect x="1104.7" y="542.6" width="1.3" height="13.1" fill="#B8860B" fill-opacity="0.91"/>
<rect x="1110.7" y="542.6" width="1.3" height="13.1" fill="#B8860B" fill-opacity="0.56"/>
<rect x="1111.9" y="542.6" width="1.3" height="13.1" fill="#B8860B" fill-opacity="0.85"/>
<rect x="1118.3" y="542.6" width="1.3" height="13.1" fill="#B8860B" fill-opacity="0.85"/>
<rect x="1128.6" y="542.6" width="1.3" height="13.1" fill="#B8860B" fill-opacity="0.54"/>
<rect x="1138.9" y="542.6" width="1.3" height="13.1" fill="#B8860B" fill-opacity="0.78"/>
<rect x="1141.2" y="542.6" width="1.3" height="13.1" fill="#B8860B" fill-opacity="0.64"/>
<rect x="1143.6" y="542.6" width="1.3" height="13.1" fill="#B8860B" fill-opacity="0.67"/>
<rect x="1151.7" y="542.6" width="1.3" height="13.1" fill="#B8860B" fill-opacity="0.95"/>
<rect x="1154.1" y="542.6" width="1.3" height="13.1" fill="#B8860B" fill-opacity="0.76"/>
<rect x="1160.8" y="542.6" width="1.3" height="13.1" fill="#B8860B" fill-opacity="0.71"/>
<rect x="1071.3" y="559.4" width="1.3" height="13.1" fill="#B8860B" fill-opacity="0.86"/>
<rect x="1073.7" y="559.4" width="1.3" height="13.1" fill="#B8860B" fill-opacity="0.68"/>
<rect x="1077.8" y="559.4" width="1.3" height="13.1" fill="#B8860B" fill-opacity="0.56"/>
<rect x="1079.2" y="559.4" width="1.3" height="13.1" fill="#B8860B" fill-opacity="0.94"/>
<rect x="1082.5" y="559.4" width="1.3" height="13.1" fill="#B8860B" fill-opacity="0.57"/>
<rect x="1089.2" y="559.4" width="1.3" height="13.1" fill="#B8860B" fill-opacity="0.91"/>
<rect x="1091.1" y="559.4" width="1.3" height="13.1" fill="#B8860B" fill-opacity="0.94"/>
<rect x="1094.0" y="559.4" width="1.3" height="13.1" fill="#B8860B" fill-opacity="0.71"/>
<rect x="1096.4" y="559.4" width="1.3" height="13.1" fill="#B8860B" fill-opacity="0.55"/>
<rect x="1098.8" y="559.4" width="1.3" height="13.1" fill="#B8860B" fill-opacity="0.71"/>
<rect x="1100.7" y="559.4" width="1.3" height="13.1" fill="#B8860B" fill-opacity="0.74"/>
<rect x="1102.3" y="559.4" width="1.3" height="13.1" fill="#B8860B" fill-opacity="0.85"/>
<rect x="1104.0" y="559.4" width="1.3" height="13.1" fill="#B8860B" fill-opacity="0.95"/>
<rect x="1110.7" y="559.4" width="1.3" height="13.1" fill="#B8860B" fill-opacity="0.61"/>
<rect x="1111.9" y="559.4" width="1.3" height="13.1" fill="#B8860B" fill-opacity="0.52"/>
<rect x="1118.3" y="559.4" width="1.3" height="13.1" fill="#B8860B" fill-opacity="0.94"/>
<rect x="1128.6" y="559.4" width="1.3" height="13.1" fill="#B8860B" fill-opacity="0.50"/>
<rect x="1134.6" y="559.4" width="1.3" height="13.1" fill="#B8860B" fill-opacity="0.93"/>
<rect x="1138.9" y="559.4" width="1.3" height="13.1" fill="#B8860B" fill-opacity="0.90"/>
<rect x="1143.6" y="559.4" width="1.3" height="13.1" fill="#B8860B" fill-opacity="0.90"/>
<rect x="1151.7" y="559.4" width="1.3" height="13.1" fill="#B8860B" fill-opacity="0.68"/>
<rect x="1154.1" y="559.4" width="1.3" height="13.1" fill="#B8860B" fill-opacity="0.59"/>
<rect x="1160.8" y="559.4" width="1.3" height="13.1" fill="#B8860B" fill-opacity="0.77"/>
<rect x="1173.9" y="559.4" width="1.3" height="13.1" fill="#B8860B" fill-opacity="0.69"/>
<rect x="1178.0" y="559.4" width="1.3" height="13.1" fill="#B8860B" fill-opacity="0.82"/>
<rect x="1071.3" y="576.2" width="1.3" height="13.1" fill="#B8860B" fill-opacity="0.59"/>
<rect x="1073.7" y="576.2" width="1.3" height="13.1" fill="#B8860B" fill-opacity="0.71"/>
<rect x="1077.8" y="576.2" width="1.3" height="13.1" fill="#B8860B" fill-opacity="0.91"/>
<rect x="1079.2" y="576.2" width="1.3" height="13.1" fill="#B8860B" fill-opacity="0.77"/>
<rect x="1084.0" y="576.2" width="1.3" height="13.1" fill="#B8860B" fill-opacity="0.92"/>
<rect x="1089.2" y="576.2" width="1.3" height="13.1" fill="#B8860B" fill-opacity="0.84"/>
<rect x="1095.2" y="576.2" width="1.3" height="13.1" fill="#B8860B" fill-opacity="0.56"/>
<rect x="1096.9" y="576.2" width="1.3" height="13.1" fill="#B8860B" fill-opacity="0.79"/>
<rect x="1098.8" y="576.2" width="1.3" height="13.1" fill="#B8860B" fill-opacity="0.58"/>
<rect x="1100.7" y="576.2" width="1.3" height="13.1" fill="#B8860B" fill-opacity="0.53"/>
<rect x="1103.1" y="576.2" width="1.3" height="13.1" fill="#B8860B" fill-opacity="0.77"/>
<rect x="1110.7" y="576.2" width="1.3" height="13.1" fill="#B8860B" fill-opacity="0.50"/>
<rect x="1113.1" y="576.2" width="1.3" height="13.1" fill="#B8860B" fill-opacity="0.52"/>
<rect x="1118.3" y="576.2" width="1.3" height="13.1" fill="#B8860B" fill-opacity="0.68"/>
<rect x="1128.6" y="576.2" width="1.3" height="13.1" fill="#B8860B" fill-opacity="0.58"/>
<rect x="1134.6" y="576.2" width="1.3" height="13.1" fill="#B8860B" fill-opacity="0.80"/>
<rect x="1138.9" y="576.2" width="1.3" height="13.1" fill="#B8860B" fill-opacity="0.63"/>
<rect x="1141.2" y="576.2" width="1.3" height="13.1" fill="#B8860B" fill-opacity="0.61"/>
<rect x="1143.6" y="576.2" width="1.3" height="13.1" fill="#B8860B" fill-opacity="0.75"/>
<rect x="1151.7" y="576.2" width="1.3" height="13.1" fill="#B8860B" fill-opacity="0.74"/>
<rect x="1154.1" y="576.2" width="1.3" height="13.1" fill="#B8860B" fill-opacity="0.88"/>
<rect x="1160.8" y="576.2" width="1.3" height="13.1" fill="#B8860B" fill-opacity="0.87"/>
<rect x="1173.9" y="576.2" width="1.3" height="13.1" fill="#B8860B" fill-opacity="0.92"/>
<rect x="1177.5" y="576.2" width="1.3" height="13.1" fill="#B8860B" fill-opacity="0.55"/>
<rect x="1202.6" y="576.2" width="1.3" height="13.1" fill="#B8860B" fill-opacity="0.53"/>
<rect x="1071.3" y="593.0" width="1.3" height="13.1" fill="#B8860B" fill-opacity="0.84"/>
<rect x="1073.7" y="593.0" width="1.3" height="13.1" fill="#B8860B" fill-opacity="0.68"/>
<rect x="1077.8" y="593.0" width="1.3" height="13.1" fill="#B8860B" fill-opacity="0.52"/>
<rect x="1079.2" y="593.0" width="1.3" height="13.1" fill="#B8860B" fill-opacity="0.74"/>
<rect x="1084.4" y="593.0" width="1.3" height="13.1" fill="#B8860B" fill-opacity="0.64"/>
<rect x="1089.2" y="593.0" width="1.3" height="13.1" fill="#B8860B" fill-opacity="0.60"/>
<rect x="1092.8" y="593.0" width="1.3" height="13.1" fill="#B8860B" fill-opacity="0.80"/>
<rect x="1095.2" y="593.0" width="1.3" height="13.1" fill="#B8860B" fill-opacity="0.83"/>
<rect x="1096.9" y="593.0" width="1.3" height="13.1" fill="#B8860B" fill-opacity="0.62"/>
<rect x="1099.2" y="593.0" width="1.3" height="13.1" fill="#B8860B" fill-opacity="0.80"/>
<rect x="1101.1" y="593.0" width="1.3" height="13.1" fill="#B8860B" fill-opacity="0.60"/>
<rect x="1104.0" y="593.0" width="1.3" height="13.1" fill="#B8860B" fill-opacity="0.90"/>
<rect x="1110.7" y="593.0" width="1.3" height="13.1" fill="#B8860B" fill-opacity="0.68"/>
<rect x="1113.1" y="593.0" width="1.3" height="13.1" fill="#B8860B" fill-opacity="0.71"/>
<rect x="1118.3" y="593.0" width="1.3" height="13.1" fill="#B8860B" fill-opacity="0.58"/>
<rect x="1127.9" y="593.0" width="1.3" height="13.1" fill="#B8860B" fill-opacity="0.71"/>
<rect x="1129.8" y="593.0" width="1.3" height="13.1" fill="#B8860B" fill-opacity="0.62"/>
<rect x="1132.2" y="593.0" width="1.3" height="13.1" fill="#B8860B" fill-opacity="0.85"/>
<rect x="1134.6" y="593.0" width="1.3" height="13.1" fill="#B8860B" fill-opacity="0.56"/>
<rect x="1138.9" y="593.0" width="1.3" height="13.1" fill="#B8860B" fill-opacity="0.74"/>
<rect x="1141.2" y="593.0" width="1.3" height="13.1" fill="#B8860B" fill-opacity="0.68"/>
<rect x="1143.6" y="593.0" width="1.3" height="13.1" fill="#B8860B" fill-opacity="0.91"/>
<rect x="1151.7" y="593.0" width="1.3" height="13.1" fill="#B8860B" fill-opacity="0.79"/>
<rect x="1154.1" y="593.0" width="1.3" height="13.1" fill="#B8860B" fill-opacity="0.75"/>
<rect x="1162.7" y="593.0" width="1.3" height="13.1" fill="#B8860B" fill-opacity="0.57"/>
<rect x="1173.9" y="593.0" width="1.3" height="13.1" fill="#B8860B" fill-opacity="0.55"/>
<rect x="1177.5" y="593.0" width="1.3" height="13.1" fill="#B8860B" fill-opacity="0.77"/>
<rect x="1071.3" y="609.8" width="1.3" height="13.1" fill="#B8860B" fill-opacity="0.91"/>
<rect x="1073.7" y="609.8" width="1.3" height="13.1" fill="#B8860B" fill-opacity="0.54"/>
<rect x="1078.5" y="609.8" width="1.3" height="13.1" fill="#B8860B" fill-opacity="0.69"/>
<rect x="1089.2" y="609.8" width="1.3" height="13.1" fill="#B8860B" fill-opacity="0.67"/>
<rect x="1093.5" y="609.8" width="1.3" height="13.1" fill="#B8860B" fill-opacity="0.51"/>
<rect x="1096.4" y="609.8" width="1.3" height="13.1" fill="#B8860B" fill-opacity="0.78"/>
<rect x="1098.3" y="609.8" width="1.3" height="13.1" fill="#B8860B" fill-opacity="0.71"/>
<rect x="1100.0" y="609.8" width="1.3" height="13.1" fill="#B8860B" fill-opacity="0.72"/>
<rect x="1104.0" y="609.8" width="1.3" height="13.1" fill="#B8860B" fill-opacity="0.87"/>
<rect x="1110.7" y="609.8" width="1.3" height="13.1" fill="#B8860B" fill-opacity="0.78"/>
<rect x="1113.1" y="609.8" width="1.3" height="13.1" fill="#B8860B" fill-opacity="0.61"/>
<rect x="1118.3" y="609.8" width="1.3" height="13.1" fill="#B8860B" fill-opacity="0.93"/>
<rect x="1127.9" y="609.8" width="1.3" height="13.1" fill="#B8860B" fill-opacity="0.92"/>
<rect x="1129.8" y="609.8" width="1.3" height="13.1" fill="#B8860B" fill-opacity="0.81"/>
<rect x="1132.2" y="609.8" width="1.3" height="13.1" fill="#B8860B" fill-opacity="0.56"/>
<rect x="1134.6" y="609.8" width="1.3" height="13.1" fill="#B8860B" fill-opacity="0.78"/>
<rect x="1138.9" y="609.8" width="1.3" height="13.1" fill="#B8860B" fill-opacity="0.50"/>
<rect x="1141.2" y="609.8" width="1.3" height="13.1" fill="#B8860B" fill-opacity="0.63"/>
<rect x="1151.7" y="609.8" width="1.3" height="13.1" fill="#B8860B" fill-opacity="0.70"/>
<rect x="1154.1" y="609.8" width="1.3" height="13.1" fill="#B8860B" fill-opacity="0.71"/>
<rect x="1162.0" y="609.8" width="1.3" height="13.1" fill="#B8860B" fill-opacity="0.85"/>
<rect x="1173.9" y="609.8" width="1.3" height="13.1" fill="#B8860B" fill-opacity="0.75"/>
<rect x="1177.5" y="609.8" width="1.3" height="13.1" fill="#B8860B" fill-opacity="0.79"/>
<rect x="1088.7" y="626.6" width="1.3" height="13.1" fill="#B8860B" fill-opacity="0.70"/>
<rect x="1089.7" y="626.6" width="1.3" height="13.1" fill="#B8860B" fill-opacity="0.83"/>
<rect x="1096.4" y="626.6" width="1.3" height="13.1" fill="#B8860B" fill-opacity="0.58"/>
<rect x="1099.2" y="626.6" width="1.3" height="13.1" fill="#B8860B" fill-opacity="0.90"/>
<rect x="1103.5" y="626.6" width="1.3" height="13.1" fill="#B8860B" fill-opacity="0.88"/>
<rect x="1110.7" y="626.6" width="1.3" height="13.1" fill="#B8860B" fill-opacity="0.91"/>
<rect x="1113.1" y="626.6" width="1.3" height="13.1" fill="#B8860B" fill-opacity="0.93"/>
<rect x="1115.0" y="626.6" width="1.3" height="13.1" fill="#B8860B" fill-opacity="0.85"/>
<rect x="1118.3" y="626.6" width="1.3" height="13.1" fill="#B8860B" fill-opacity="0.63"/>
<rect x="1123.1" y="626.6" width="1.3" height="13.1" fill="#B8860B" fill-opacity="0.91"/>
<rect x="1128.5" y="626.6" width="7.9" height="13.1" fill="#B8860B" fill-opacity="0.4"/>
<rect x="1128.5" y="626.6" width="1.4" height="13.1" fill="#B8860B" fill-opacity="0.66"/>
<rect x="1130.4" y="626.6" width="1.6" height="13.1" fill="#B8860B" fill-opacity="0.55"/>
<rect x="1132.4" y="626.6" width="1.2" height="13.1" fill="#B8860B" fill-opacity="0.84"/>
<rect x="1134.2" y="626.6" width="0.9" height="13.1" fill="#B8860B" fill-opacity="0.80"/>
<rect x="1141.2" y="626.6" width="1.3" height="13.1" fill="#B8860B" fill-opacity="0.76"/>
<rect x="1142.9" y="626.6" width="1.3" height="13.1" fill="#B8860B" fill-opacity="0.77"/>
<rect x="1145.3" y="626.6" width="1.3" height="13.1" fill="#B8860B" fill-opacity="0.86"/>
<rect x="1151.7" y="626.6" width="1.3" height="13.1" fill="#B8860B" fill-opacity="0.85"/>
<rect x="1162.0" y="626.6" width="1.3" height="13.1" fill="#B8860B" fill-opacity="0.62"/>
<rect x="1168.0" y="626.6" width="1.3" height="13.1" fill="#B8860B" fill-opacity="0.66"/>
<rect x="1177.5" y="626.6" width="1.3" height="13.1" fill="#B8860B" fill-opacity="0.95"/>
<rect x="1187.5" y="626.6" width="1.3" height="13.1" fill="#B8860B" fill-opacity="0.88"/>
<rect x="1088.7" y="643.5" width="1.3" height="13.1" fill="#B8860B" fill-opacity="0.74"/>
<rect x="1091.1" y="643.5" width="1.3" height="13.1" fill="#B8860B" fill-opacity="0.64"/>
<rect x="1104.2" y="643.5" width="2.4" height="13.1" fill="#B8860B" fill-opacity="0.85"/>
<rect x="1110.7" y="643.5" width="1.3" height="13.1" fill="#B8860B" fill-opacity="0.91"/>
<rect x="1113.1" y="643.5" width="1.3" height="13.1" fill="#B8860B" fill-opacity="0.63"/>
<rect x="1115.9" y="643.5" width="1.3" height="13.1" fill="#B8860B" fill-opacity="0.71"/>
<rect x="1119.0" y="643.5" width="1.3" height="13.1" fill="#B8860B" fill-opacity="0.77"/>
<rect x="1124.5" y="643.5" width="1.3" height="13.1" fill="#B8860B" fill-opacity="0.85"/>
<rect x="1130.0" y="643.5" width="7.6" height="13.1" fill="#B8860B" fill-opacity="0.4"/>
<rect x="1130.0" y="643.5" width="1.3" height="13.1" fill="#B8860B" fill-opacity="0.76"/>
<rect x="1131.8" y="643.5" width="1.0" height="13.1" fill="#B8860B" fill-opacity="0.79"/>
<rect x="1133.8" y="643.5" width="1.5" height="13.1" fill="#B8860B" fill-opacity="0.48"/>
<rect x="1136.7" y="643.5" width="1.1" height="13.1" fill="#B8860B" fill-opacity="0.58"/>
<rect x="1141.9" y="643.5" width="5.3" height="13.1" fill="#B8860B" fill-opacity="0.4"/>
<rect x="1141.9" y="643.5" width="0.8" height="13.1" fill="#B8860B" fill-opacity="0.90"/>
<rect x="1143.8" y="643.5" width="1.6" height="13.1" fill="#B8860B" fill-opacity="0.83"/>
<rect x="1146.2" y="643.5" width="0.9" height="13.1" fill="#B8860B" fill-opacity="0.69"/>
<rect x="1148.9" y="643.5" width="1.3" height="13.1" fill="#B8860B" fill-opacity="0.57"/>
<rect x="1151.7" y="643.5" width="1.3" height="13.1" fill="#B8860B" fill-opacity="0.75"/>
<rect x="1154.1" y="643.5" width="1.3" height="13.1" fill="#B8860B" fill-opacity="0.76"/>
<rect x="1162.0" y="643.5" width="1.3" height="13.1" fill="#B8860B" fill-opacity="0.94"/>
<rect x="1173.9" y="643.5" width="1.3" height="13.1" fill="#B8860B" fill-opacity="0.86"/>
<rect x="1177.5" y="643.5" width="1.3" height="13.1" fill="#B8860B" fill-opacity="0.51"/>
<rect x="1182.3" y="643.5" width="1.3" height="13.1" fill="#B8860B" fill-opacity="0.58"/>
<rect x="1203.8" y="643.5" width="1.3" height="13.1" fill="#B8860B" fill-opacity="0.75"/>
<rect x="1112.6" y="660.3" width="1.3" height="13.1" fill="#B8860B" fill-opacity="0.82"/>
<rect x="1128.6" y="660.3" width="1.3" height="13.1" fill="#B8860B" fill-opacity="0.95"/>
<rect x="1131.7" y="660.3" width="1.3" height="13.1" fill="#B8860B" fill-opacity="0.75"/>
<rect x="1133.4" y="660.3" width="1.3" height="13.1" fill="#B8860B" fill-opacity="0.71"/>
<rect x="1135.0" y="660.3" width="1.3" height="13.1" fill="#B8860B" fill-opacity="0.50"/>
<rect x="1136.9" y="660.3" width="1.3" height="13.1" fill="#B8860B" fill-opacity="0.70"/>
<rect x="1139.3" y="660.3" width="1.3" height="13.1" fill="#B8860B" fill-opacity="0.89"/>
<rect x="1141.9" y="660.3" width="2.9" height="13.1" fill="#B8860B" fill-opacity="0.4"/>
<rect x="1141.9" y="660.3" width="0.8" height="13.1" fill="#B8860B" fill-opacity="0.69"/>
<rect x="1144.0" y="660.3" width="1.6" height="13.1" fill="#B8860B" fill-opacity="0.46"/>
<rect x="1146.5" y="660.3" width="1.3" height="13.1" fill="#B8860B" fill-opacity="0.59"/>
<rect x="1148.4" y="660.3" width="1.3" height="13.1" fill="#B8860B" fill-opacity="0.94"/>
<rect x="1151.3" y="660.3" width="1.3" height="13.1" fill="#B8860B" fill-opacity="0.86"/>
<rect x="1154.8" y="660.3" width="1.3" height="13.1" fill="#B8860B" fill-opacity="0.62"/>
<rect x="1157.2" y="660.3" width="1.3" height="13.1" fill="#B8860B" fill-opacity="0.67"/>
<rect x="1162.7" y="660.3" width="1.3" height="13.1" fill="#B8860B" fill-opacity="0.80"/>
<rect x="1165.1" y="660.3" width="1.3" height="13.1" fill="#B8860B" fill-opacity="0.51"/>
<rect x="1167.5" y="660.3" width="1.3" height="13.1" fill="#B8860B" fill-opacity="0.58"/>
<rect x="1169.9" y="660.3" width="1.3" height="13.1" fill="#B8860B" fill-opacity="0.86"/>
<rect x="1173.9" y="660.3" width="1.3" height="13.1" fill="#B8860B" fill-opacity="0.64"/>
<rect x="1187.1" y="660.3" width="1.3" height="13.1" fill="#B8860B" fill-opacity="0.61"/>
<rect x="1191.8" y="660.3" width="1.3" height="13.1" fill="#B8860B" fill-opacity="0.91"/>
<rect x="1197.3" y="660.3" width="8.8" height="13.1" fill="#B8860B" fill-opacity="0.4"/>
<rect x="1197.3" y="660.3" width="1.3" height="13.1" fill="#B8860B" fill-opacity="0.84"/>
<rect x="1199.8" y="660.3" width="1.2" height="13.1" fill="#B8860B" fill-opacity="0.53"/>
<rect x="1202.0" y="660.3" width="1.2" height="13.1" fill="#B8860B" fill-opacity="0.78"/>
<rect x="1204.2" y="660.3" width="1.4" height="13.1" fill="#B8860B" fill-opacity="0.47"/>
<rect x="1111.9" y="677.1" width="1.3" height="13.1" fill="#B8860B" fill-opacity="0.90"/>
<rect x="1131.0" y="677.1" width="1.3" height="13.1" fill="#B8860B" fill-opacity="0.81"/>
<rect x="1132.7" y="677.1" width="1.3" height="13.1" fill="#B8860B" fill-opacity="0.89"/>
<rect x="1134.6" y="677.1" width="1.3" height="13.1" fill="#B8860B" fill-opacity="0.53"/>
<rect x="1136.5" y="677.1" width="1.3" height="13.1" fill="#B8860B" fill-opacity="0.73"/>
<rect x="1138.1" y="677.1" width="1.3" height="13.1" fill="#B8860B" fill-opacity="0.51"/>
<rect x="1142.2" y="677.1" width="1.3" height="13.1" fill="#B8860B" fill-opacity="0.57"/>
<rect x="1144.1" y="677.1" width="1.3" height="13.1" fill="#B8860B" fill-opacity="0.52"/>
<rect x="1151.3" y="677.1" width="1.3" height="13.1" fill="#B8860B" fill-opacity="0.59"/>
<rect x="1154.8" y="677.1" width="1.3" height="13.1" fill="#B8860B" fill-opacity="0.62"/>
<rect x="1162.0" y="677.1" width="1.3" height="13.1" fill="#B8860B" fill-opacity="0.53"/>
<rect x="1164.4" y="677.1" width="1.3" height="13.1" fill="#B8860B" fill-opacity="0.79"/>
<rect x="1166.8" y="677.1" width="1.3" height="13.1" fill="#B8860B" fill-opacity="0.76"/>
<rect x="1168.5" y="677.1" width="1.3" height="13.1" fill="#B8860B" fill-opacity="0.81"/>
<rect x="1184.0" y="677.1" width="1.3" height="13.1" fill="#B8860B" fill-opacity="0.94"/>
<rect x="1189.0" y="677.1" width="1.3" height="13.1" fill="#B8860B" fill-opacity="0.63"/>
<rect x="1196.1" y="677.1" width="10.0" height="13.1" fill="#B8860B" fill-opacity="0.4"/>
<rect x="1196.1" y="677.1" width="0.9" height="13.1" fill="#B8860B" fill-opacity="0.59"/>
<rect x="1198.2" y="677.1" width="1.3" height="13.1" fill="#B8860B" fill-opacity="0.79"/>
<rect x="1200.0" y="677.1" width="0.8" height="13.1" fill="#B8860B" fill-opacity="0.66"/>
<rect x="1202.1" y="677.1" width="0.9" height="13.1" fill="#B8860B" fill-opacity="0.79"/>
<rect x="1204.2" y="677.1" width="1.0" height="13.1" fill="#B8860B" fill-opacity="0.76"/>
<rect x="1114.8" y="693.9" width="1.3" height="13.1" fill="#B8860B" fill-opacity="0.60"/>
<rect x="1186.6" y="693.9" width="1.3" height="13.1" fill="#B8860B" fill-opacity="0.62"/>
<rect x="1188.3" y="693.9" width="1.3" height="13.1" fill="#B8860B" fill-opacity="0.68"/>
<rect x="1190.6" y="693.9" width="1.3" height="13.1" fill="#B8860B" fill-opacity="0.59"/>
<rect x="1193.7" y="693.9" width="8.4" height="13.1" fill="#B8860B" fill-opacity="0.4"/>
<rect x="1193.7" y="693.9" width="1.1" height="13.1" fill="#B8860B" fill-opacity="0.78"/>
<rect x="1196.0" y="693.9" width="1.3" height="13.1" fill="#B8860B" fill-opacity="0.69"/>
<rect x="1198.6" y="693.9" width="0.9" height="13.1" fill="#B8860B" fill-opacity="0.76"/>
<rect x="1200.2" y="693.9" width="1.5" height="13.1" fill="#B8860B" fill-opacity="0.54"/>
<rect x="1202.6" y="693.9" width="1.3" height="13.1" fill="#B8860B" fill-opacity="0.55"/>
<rect x="1208.7" y="542.6" width="1.3" height="13.1" fill="#B8860B" fill-opacity="0.70"/>
<rect x="1217.5" y="542.6" width="1.3" height="13.1" fill="#B8860B" fill-opacity="0.81"/>
<rect x="1220.6" y="542.6" width="1.3" height="13.1" fill="#B8860B" fill-opacity="0.63"/>
<rect x="1223.0" y="542.6" width="1.3" height="13.1" fill="#B8860B" fill-opacity="0.90"/>
<rect x="1239.7" y="542.6" width="1.3" height="13.1" fill="#B8860B" fill-opacity="0.86"/>
<rect x="1241.4" y="542.6" width="1.3" height="13.1" fill="#B8860B" fill-opacity="0.62"/>
<rect x="1242.8" y="542.6" width="1.3" height="13.1" fill="#B8860B" fill-opacity="0.77"/>
<rect x="1257.6" y="542.6" width="1.3" height="13.1" fill="#B8860B" fill-opacity="0.80"/>
<rect x="1264.7" y="542.6" width="1.3" height="13.1" fill="#B8860B" fill-opacity="0.56"/>
<rect x="1268.3" y="542.6" width="1.3" height="13.1" fill="#B8860B" fill-opacity="0.79"/>
<rect x="1273.7" y="542.6" width="19.1" height="13.1" fill="#B8860B" fill-opacity="0.4"/>
<rect x="1273.7" y="542.6" width="1.3" height="13.1" fill="#B8860B" fill-opacity="0.84"/>
<rect x="1275.6" y="542.6" width="0.8" height="13.1" fill="#B8860B" fill-opacity="0.69"/>
<rect x="1277.7" y="542.6" width="0.8" height="13.1" fill="#B8860B" fill-opacity="0.54"/>
<rect x="1278.9" y="542.6" width="1.6" height="13.1" fill="#B8860B" fill-opacity="0.79"/>
<rect x="1280.9" y="542.6" width="1.5" height="13.1" fill="#B8860B" fill-opacity="0.65"/>
<rect x="1282.7" y="542.6" width="0.8" height="13.1" fill="#B8860B" fill-opacity="0.56"/>
<rect x="1283.8" y="542.6" width="0.9" height="13.1" fill="#B8860B" fill-opacity="0.48"/>
<rect x="1285.1" y="542.6" width="0.8" height="13.1" fill="#B8860B" fill-opacity="0.64"/>
<rect x="1287.1" y="542.6" width="1.4" height="13.1" fill="#B8860B" fill-opacity="0.69"/>
<rect x="1288.9" y="542.6" width="1.6" height="13.1" fill="#B8860B" fill-opacity="0.48"/>
<rect x="1290.7" y="542.6" width="1.4" height="13.1" fill="#B8860B" fill-opacity="0.73"/>
<rect x="1295.7" y="542.6" width="1.3" height="13.1" fill="#B8860B" fill-opacity="0.62"/>
<rect x="1301.7" y="542.6" width="1.3" height="13.1" fill="#B8860B" fill-opacity="0.90"/>
<rect x="1310.1" y="542.6" width="1.3" height="13.1" fill="#B8860B" fill-opacity="0.89"/>
<rect x="1312.4" y="542.6" width="1.3" height="13.1" fill="#B8860B" fill-opacity="0.52"/>
<rect x="1316.0" y="542.6" width="1.9" height="13.1" fill="#B8860B" fill-opacity="0.85"/>
<rect x="1324.4" y="542.6" width="1.3" height="13.1" fill="#B8860B" fill-opacity="0.93"/>
<rect x="1327.2" y="542.6" width="1.3" height="13.1" fill="#B8860B" fill-opacity="0.85"/>
<rect x="1330.3" y="542.6" width="1.3" height="13.1" fill="#B8860B" fill-opacity="0.88"/>
<rect x="1332.7" y="542.6" width="1.3" height="13.1" fill="#B8860B" fill-opacity="0.72"/>
<rect x="1335.1" y="542.6" width="1.3" height="13.1" fill="#B8860B" fill-opacity="0.86"/>
<rect x="1337.5" y="542.6" width="1.3" height="13.1" fill="#B8860B" fill-opacity="0.91"/>
<rect x="1339.9" y="542.6" width="1.3" height="13.1" fill="#B8860B" fill-opacity="0.90"/>
<rect x="1208.7" y="559.4" width="1.3" height="13.1" fill="#B8860B" fill-opacity="0.62"/>
<rect x="1217.5" y="559.4" width="1.3" height="13.1" fill="#B8860B" fill-opacity="0.58"/>
<rect x="1220.6" y="559.4" width="1.3" height="13.1" fill="#B8860B" fill-opacity="0.79"/>
<rect x="1223.0" y="559.4" width="1.3" height="13.1" fill="#B8860B" fill-opacity="0.70"/>
<rect x="1240.4" y="559.4" width="1.3" height="13.1" fill="#B8860B" fill-opacity="0.89"/>
<rect x="1242.1" y="559.4" width="1.3" height="13.1" fill="#B8860B" fill-opacity="0.70"/>
<rect x="1257.6" y="559.4" width="1.3" height="13.1" fill="#B8860B" fill-opacity="0.57"/>
<rect x="1264.7" y="559.4" width="1.3" height="13.1" fill="#B8860B" fill-opacity="0.67"/>
<rect x="1268.3" y="559.4" width="1.3" height="13.1" fill="#B8860B" fill-opacity="0.93"/>
<rect x="1273.7" y="559.4" width="19.1" height="13.1" fill="#B8860B" fill-opacity="0.4"/>
<rect x="1273.7" y="559.4" width="1.3" height="13.1" fill="#B8860B" fill-opacity="0.53"/>
<rect x="1275.6" y="559.4" width="1.0" height="13.1" fill="#B8860B" fill-opacity="0.87"/>
<rect x="1277.5" y="559.4" width="0.9" height="13.1" fill="#B8860B" fill-opacity="0.55"/>
<rect x="1279.0" y="559.4" width="1.2" height="13.1" fill="#B8860B" fill-opacity="0.55"/>
<rect x="1280.6" y="559.4" width="1.4" height="13.1" fill="#B8860B" fill-opacity="0.74"/>
<rect x="1283.0" y="559.4" width="0.9" height="13.1" fill="#B8860B" fill-opacity="0.64"/>
<rect x="1285.2" y="559.4" width="0.9" height="13.1" fill="#B8860B" fill-opacity="0.64"/>
<rect x="1286.5" y="559.4" width="1.1" height="13.1" fill="#B8860B" fill-opacity="0.49"/>
<rect x="1288.7" y="559.4" width="1.6" height="13.1" fill="#B8860B" fill-opacity="0.48"/>
<rect x="1291.0" y="559.4" width="1.6" height="13.1" fill="#B8860B" fill-opacity="0.50"/>
<rect x="1295.7" y="559.4" width="1.3" height="13.1" fill="#B8860B" fill-opacity="0.55"/>
<rect x="1301.7" y="559.4" width="1.3" height="13.1" fill="#B8860B" fill-opacity="0.71"/>
<rect x="1310.1" y="559.4" width="1.3" height="13.1" fill="#B8860B" fill-opacity="0.85"/>
<rect x="1312.4" y="559.4" width="1.3" height="13.1" fill="#B8860B" fill-opacity="0.86"/>
<rect x="1316.4" y="559.4" width="1.9" height="13.1" fill="#B8860B" fill-opacity="0.85"/>
<rect x="1324.4" y="559.4" width="1.3" height="13.1" fill="#B8860B" fill-opacity="0.86"/>
<rect x="1327.9" y="559.4" width="1.3" height="13.1" fill="#B8860B" fill-opacity="0.65"/>
<rect x="1331.0" y="559.4" width="1.3" height="13.1" fill="#B8860B" fill-opacity="0.74"/>
<rect x="1333.9" y="559.4" width="1.3" height="13.1" fill="#B8860B" fill-opacity="0.56"/>
<rect x="1337.5" y="559.4" width="1.3" height="13.1" fill="#B8860B" fill-opacity="0.95"/>
<rect x="1339.9" y="559.4" width="1.3" height="13.1" fill="#B8860B" fill-opacity="0.83"/>
<rect x="1202.7" y="576.2" width="1.3" height="13.1" fill="#B8860B" fill-opacity="0.68"/>
<rect x="1217.5" y="576.2" width="1.3" height="13.1" fill="#B8860B" fill-opacity="0.72"/>
<rect x="1220.6" y="576.2" width="1.3" height="13.1" fill="#B8860B" fill-opacity="0.76"/>
<rect x="1223.0" y="576.2" width="1.3" height="13.1" fill="#B8860B" fill-opacity="0.66"/>
<rect x="1240.9" y="576.2" width="1.3" height="13.1" fill="#B8860B" fill-opacity="0.65"/>
<rect x="1245.7" y="576.2" width="1.3" height="13.1" fill="#B8860B" fill-opacity="0.91"/>
<rect x="1264.7" y="576.2" width="1.3" height="13.1" fill="#B8860B" fill-opacity="0.57"/>
<rect x="1268.3" y="576.2" width="1.3" height="13.1" fill="#B8860B" fill-opacity="0.93"/>
<rect x="1270.7" y="576.2" width="1.3" height="13.1" fill="#B8860B" fill-opacity="0.75"/>
<rect x="1273.7" y="576.2" width="16.7" height="13.1" fill="#B8860B" fill-opacity="0.4"/>
<rect x="1273.7" y="576.2" width="1.1" height="13.1" fill="#B8860B" fill-opacity="0.66"/>
<rect x="1275.2" y="576.2" width="1.0" height="13.1" fill="#B8860B" fill-opacity="0.66"/>
<rect x="1276.5" y="576.2" width="0.7" height="13.1" fill="#B8860B" fill-opacity="0.45"/>
<rect x="1278.2" y="576.2" width="0.7" height="13.1" fill="#B8860B" fill-opacity="0.88"/>
<rect x="1279.9" y="576.2" width="1.3" height="13.1" fill="#B8860B" fill-opacity="0.47"/>
<rect x="1282.1" y="576.2" width="0.9" height="13.1" fill="#B8860B" fill-opacity="0.86"/>
<rect x="1283.7" y="576.2" width="0.9" height="13.1" fill="#B8860B" fill-opacity="0.64"/>
<rect x="1285.2" y="576.2" width="0.8" height="13.1" fill="#B8860B" fill-opacity="0.80"/>
<rect x="1286.6" y="576.2" width="1.5" height="13.1" fill="#B8860B" fill-opacity="0.78"/>
<rect x="1289.4" y="576.2" width="1.4" height="13.1" fill="#B8860B" fill-opacity="0.85"/>
<rect x="1295.7" y="576.2" width="1.3" height="13.1" fill="#B8860B" fill-opacity="0.50"/>
<rect x="1301.7" y="576.2" width="1.3" height="13.1" fill="#B8860B" fill-opacity="0.62"/>
<rect x="1306.5" y="576.2" width="1.3" height="13.1" fill="#B8860B" fill-opacity="0.91"/>
<rect x="1312.4" y="576.2" width="1.3" height="13.1" fill="#B8860B" fill-opacity="0.75"/>
<rect x="1314.8" y="576.2" width="1.3" height="13.1" fill="#B8860B" fill-opacity="0.91"/>
<rect x="1318.4" y="576.2" width="1.3" height="13.1" fill="#B8860B" fill-opacity="0.71"/>
<rect x="1320.8" y="576.2" width="1.3" height="13.1" fill="#B8860B" fill-opacity="0.65"/>
<rect x="1323.2" y="576.2" width="1.3" height="13.1" fill="#B8860B" fill-opacity="0.87"/>
<rect x="1325.6" y="576.2" width="1.3" height="13.1" fill="#B8860B" fill-opacity="0.62"/>
<rect x="1335.1" y="576.2" width="1.3" height="13.1" fill="#B8860B" fill-opacity="0.68"/>
<rect x="1336.8" y="576.2" width="1.3" height="13.1" fill="#B8860B" fill-opacity="0.87"/>
<rect x="1212.3" y="593.0" width="1.3" height="13.1" fill="#B8860B" fill-opacity="0.68"/>
<rect x="1217.5" y="593.0" width="1.3" height="13.1" fill="#B8860B" fill-opacity="0.80"/>
<rect x="1220.6" y="593.0" width="3.8" height="13.1" fill="#B8860B" fill-opacity="0.4"/>
<rect x="1220.6" y="593.0" width="0.8" height="13.1" fill="#B8860B" fill-opacity="0.54"/>
<rect x="1222.8" y="593.0" width="0.9" height="13.1" fill="#B8860B" fill-opacity="0.52"/>
<rect x="1231.8" y="593.0" width="1.3" height="13.1" fill="#B8860B" fill-opacity="0.53"/>
<rect x="1237.3" y="593.0" width="1.3" height="13.1" fill="#B8860B" fill-opacity="0.68"/>
<rect x="1241.4" y="593.0" width="1.3" height="13.1" fill="#B8860B" fill-opacity="0.78"/>
<rect x="1245.2" y="593.0" width="1.3" height="13.1" fill="#B8860B" fill-opacity="0.90"/>
<rect x="1257.6" y="593.0" width="1.3" height="13.1" fill="#B8860B" fill-opacity="0.94"/>
<rect x="1262.5" y="593.0" width="2.9" height="13.1" fill="#B8860B" fill-opacity="0.4"/>
<rect x="1262.5" y="593.0" width="1.0" height="13.1" fill="#B8860B" fill-opacity="0.67"/>
<rect x="1264.3" y="593.0" width="1.1" height="13.1" fill="#B8860B" fill-opacity="0.83"/>
<rect x="1268.3" y="593.0" width="1.3" height="13.1" fill="#B8860B" fill-opacity="0.83"/>
<rect x="1274.9" y="593.0" width="11.9" height="13.1" fill="#B8860B" fill-opacity="0.4"/>
<rect x="1274.9" y="593.0" width="1.5" height="13.1" fill="#B8860B" fill-opacity="0.63"/>
<rect x="1277.1" y="593.0" width="0.8" height="13.1" fill="#B8860B" fill-opacity="0.75"/>
<rect x="1279.0" y="593.0" width="1.3" height="13.1" fill="#B8860B" fill-opacity="0.57"/>
<rect x="1281.4" y="593.0" width="0.9" height="13.1" fill="#B8860B" fill-opacity="0.81"/>
<rect x="1283.6" y="593.0" width="1.0" height="13.1" fill="#B8860B" fill-opacity="0.72"/>
<rect x="1285.4" y="593.0" width="1.0" height="13.1" fill="#B8860B" fill-opacity="0.85"/>
<rect x="1295.7" y="593.0" width="1.3" height="13.1" fill="#B8860B" fill-opacity="0.86"/>
<rect x="1298.1" y="593.0" width="1.3" height="13.1" fill="#B8860B" fill-opacity="0.84"/>
<rect x="1300.5" y="593.0" width="1.3" height="13.1" fill="#B8860B" fill-opacity="0.55"/>
<rect x="1311.2" y="593.0" width="1.3" height="13.1" fill="#B8860B" fill-opacity="0.87"/>
<rect x="1313.6" y="593.0" width="1.3" height="13.1" fill="#B8860B" fill-opacity="0.67"/>
<rect x="1324.4" y="593.0" width="1.3" height="13.1" fill="#B8860B" fill-opacity="0.67"/>
<rect x="1212.8" y="609.8" width="1.3" height="13.1" fill="#B8860B" fill-opacity="0.70"/>
<rect x="1218.9" y="609.8" width="5.5" height="13.1" fill="#B8860B" fill-opacity="0.4"/>
<rect x="1218.9" y="609.8" width="1.1" height="13.1" fill="#B8860B" fill-opacity="0.64"/>
<rect x="1221.1" y="609.8" width="1.0" height="13.1" fill="#B8860B" fill-opacity="0.52"/>
<rect x="1223.2" y="609.8" width="1.1" height="13.1" fill="#B8860B" fill-opacity="0.69"/>
<rect x="1232.5" y="609.8" width="1.4" height="13.1" fill="#B8860B" fill-opacity="0.85"/>
<rect x="1242.8" y="609.8" width="1.3" height="13.1" fill="#B8860B" fill-opacity="0.80"/>
<rect x="1245.7" y="609.8" width="1.3" height="13.1" fill="#B8860B" fill-opacity="0.78"/>
<rect x="1248.0" y="609.8" width="1.3" height="13.1" fill="#B8860B" fill-opacity="0.79"/>
<rect x="1250.4" y="609.8" width="1.3" height="13.1" fill="#B8860B" fill-opacity="0.92"/>
<rect x="1252.8" y="609.8" width="1.3" height="13.1" fill="#B8860B" fill-opacity="0.53"/>
<rect x="1255.7" y="609.8" width="1.3" height="13.1" fill="#B8860B" fill-opacity="0.73"/>
<rect x="1261.8" y="609.8" width="3.6" height="13.1" fill="#B8860B" fill-opacity="0.4"/>
<rect x="1261.8" y="609.8" width="0.7" height="13.1" fill="#B8860B" fill-opacity="0.62"/>
<rect x="1263.6" y="609.8" width="1.4" height="13.1" fill="#B8860B" fill-opacity="0.57"/>
<rect x="1268.3" y="609.8" width="1.3" height="13.1" fill="#B8860B" fill-opacity="0.91"/>
<rect x="1275.4" y="609.8" width="3.1" height="13.1" fill="#B8860B" fill-opacity="0.4"/>
<rect x="1275.4" y="609.8" width="1.5" height="13.1" fill="#B8860B" fill-opacity="0.65"/>
<rect x="1277.9" y="609.8" width="1.1" height="13.1" fill="#B8860B" fill-opacity="0.48"/>
<rect x="1294.6" y="609.8" width="1.3" height="13.1" fill="#B8860B" fill-opacity="0.88"/>
<rect x="1302.9" y="609.8" width="1.3" height="13.1" fill="#B8860B" fill-opacity="0.58"/>
<rect x="1306.5" y="609.8" width="1.3" height="13.1" fill="#B8860B" fill-opacity="0.70"/>
<rect x="1208.2" y="626.6" width="7.2" height="13.1" fill="#B8860B" fill-opacity="0.4"/>
<rect x="1208.2" y="626.6" width="1.3" height="13.1" fill="#B8860B" fill-opacity="0.64"/>
<rect x="1210.4" y="626.6" width="1.2" height="13.1" fill="#B8860B" fill-opacity="0.51"/>
<rect x="1212.0" y="626.6" width="1.2" height="13.1" fill="#B8860B" fill-opacity="0.74"/>
<rect x="1214.0" y="626.6" width="1.6" height="13.1" fill="#B8860B" fill-opacity="0.52"/>
<rect x="1217.7" y="626.6" width="7.2" height="13.1" fill="#B8860B" fill-opacity="0.4"/>
<rect x="1217.7" y="626.6" width="1.5" height="13.1" fill="#B8860B" fill-opacity="0.85"/>
<rect x="1220.5" y="626.6" width="1.5" height="13.1" fill="#B8860B" fill-opacity="0.63"/>
<rect x="1222.9" y="626.6" width="1.3" height="13.1" fill="#B8860B" fill-opacity="0.71"/>
<rect x="1226.6" y="626.6" width="1.3" height="13.1" fill="#B8860B" fill-opacity="0.87"/>
<rect x="1231.4" y="626.6" width="1.3" height="13.1" fill="#B8860B" fill-opacity="0.85"/>
<rect x="1233.7" y="626.6" width="1.3" height="13.1" fill="#B8860B" fill-opacity="0.51"/>
<rect x="1238.0" y="626.6" width="1.3" height="13.1" fill="#B8860B" fill-opacity="0.91"/>
<rect x="1240.4" y="626.6" width="1.3" height="13.1" fill="#B8860B" fill-opacity="0.69"/>
<rect x="1245.1" y="626.6" width="8.3" height="13.1" fill="#B8860B" fill-opacity="0.4"/>
<rect x="1245.1" y="626.6" width="1.4" height="13.1" fill="#B8860B" fill-opacity="0.89"/>
<rect x="1247.5" y="626.6" width="0.9" height="13.1" fill="#B8860B" fill-opacity="0.72"/>
<rect x="1249.2" y="626.6" width="0.9" height="13.1" fill="#B8860B" fill-opacity="0.52"/>
<rect x="1251.2" y="626.6" width="1.1" height="13.1" fill="#B8860B" fill-opacity="0.65"/>
<rect x="1255.7" y="626.6" width="1.3" height="13.1" fill="#B8860B" fill-opacity="0.77"/>
<rect x="1261.2" y="626.6" width="1.3" height="13.1" fill="#B8860B" fill-opacity="0.78"/>
<rect x="1263.6" y="626.6" width="1.3" height="13.1" fill="#B8860B" fill-opacity="0.86"/>
<rect x="1265.9" y="626.6" width="1.3" height="13.1" fill="#B8860B" fill-opacity="0.64"/>
<rect x="1268.3" y="626.6" width="1.3" height="13.1" fill="#B8860B" fill-opacity="0.77"/>
<rect x="1276.2" y="626.6" width="1.3" height="13.1" fill="#B8860B" fill-opacity="0.73"/>
<rect x="1202.2" y="643.5" width="2.4" height="13.1" fill="#B8860B" fill-opacity="0.85"/>
<rect x="1208.2" y="643.5" width="7.2" height="13.1" fill="#B8860B" fill-opacity="0.4"/>
<rect x="1208.2" y="643.5" width="0.8" height="13.1" fill="#B8860B" fill-opacity="0.84"/>
<rect x="1209.9" y="643.5" width="1.1" height="13.1" fill="#B8860B" fill-opacity="0.68"/>
<rect x="1211.9" y="643.5" width="1.1" height="13.1" fill="#B8860B" fill-opacity="0.68"/>
<rect x="1214.2" y="643.5" width="1.0" height="13.1" fill="#B8860B" fill-opacity="0.79"/>
<rect x="1217.7" y="643.5" width="7.2" height="13.1" fill="#B8860B" fill-opacity="0.4"/>
<rect x="1217.7" y="643.5" width="1.0" height="13.1" fill="#B8860B" fill-opacity="0.78"/>
<rect x="1219.7" y="643.5" width="0.8" height="13.1" fill="#B8860B" fill-opacity="0.61"/>
<rect x="1221.3" y="643.5" width="1.4" height="13.1" fill="#B8860B" fill-opacity="0.50"/>
<rect x="1223.2" y="643.5" width="1.0" height="13.1" fill="#B8860B" fill-opacity="0.63"/>
<rect x="1227.1" y="643.5" width="1.3" height="13.1" fill="#B8860B" fill-opacity="0.68"/>
<rect x="1229.0" y="643.5" width="1.3" height="13.1" fill="#B8860B" fill-opacity="0.82"/>
<rect x="1230.9" y="643.5" width="1.3" height="13.1" fill="#B8860B" fill-opacity="0.60"/>
<rect x="1233.3" y="643.5" width="1.3" height="13.1" fill="#B8860B" fill-opacity="0.66"/>
<rect x="1240.4" y="643.5" width="1.3" height="13.1" fill="#B8860B" fill-opacity="0.85"/>
<rect x="1245.1" y="643.5" width="6.0" height="13.1" fill="#B8860B" fill-opacity="0.4"/>
<rect x="1245.1" y="643.5" width="1.1" height="13.1" fill="#B8860B" fill-opacity="0.68"/>
<rect x="1247.0" y="643.5" width="0.8" height="13.1" fill="#B8860B" fill-opacity="0.68"/>
<rect x="1248.1" y="643.5" width="0.8" height="13.1" fill="#B8860B" fill-opacity="0.78"/>
<rect x="1250.1" y="643.5" width="1.6" height="13.1" fill="#B8860B" fill-opacity="0.79"/>
<rect x="1256.4" y="643.5" width="1.3" height="13.1" fill="#B8860B" fill-opacity="0.59"/>
<rect x="1261.2" y="643.5" width="1.3" height="13.1" fill="#B8860B" fill-opacity="0.59"/>
<rect x="1268.3" y="643.5" width="1.3" height="13.1" fill="#B8860B" fill-opacity="0.61"/>
<rect x="1273.8" y="643.5" width="1.3" height="13.1" fill="#B8860B" fill-opacity="0.91"/>
<rect x="1202.2" y="660.3" width="2.4" height="13.1" fill="#B8860B" fill-opacity="0.85"/>
<rect x="1208.2" y="660.3" width="7.2" height="13.1" fill="#B8860B" fill-opacity="0.4"/>
<rect x="1208.2" y="660.3" width="1.1" height="13.1" fill="#B8860B" fill-opacity="0.69"/>
<rect x="1210.1" y="660.3" width="0.8" height="13.1" fill="#B8860B" fill-opacity="0.72"/>
<rect x="1211.2" y="660.3" width="1.3" height="13.1" fill="#B8860B" fill-opacity="0.55"/>
<rect x="1213.8" y="660.3" width="1.3" height="13.1" fill="#B8860B" fill-opacity="0.67"/>
<rect x="1217.7" y="660.3" width="8.3" height="13.1" fill="#B8860B" fill-opacity="0.4"/>
<rect x="1217.7" y="660.3" width="0.9" height="13.1" fill="#B8860B" fill-opacity="0.58"/>
<rect x="1220.0" y="660.3" width="1.2" height="13.1" fill="#B8860B" fill-opacity="0.68"/>
<rect x="1222.0" y="660.3" width="1.0" height="13.1" fill="#B8860B" fill-opacity="0.75"/>
<rect x="1223.8" y="660.3" width="1.2" height="13.1" fill="#B8860B" fill-opacity="0.77"/>
<rect x="1227.8" y="660.3" width="1.3" height="13.1" fill="#B8860B" fill-opacity="0.58"/>
<rect x="1240.4" y="660.3" width="1.3" height="13.1" fill="#B8860B" fill-opacity="0.91"/>
<rect x="1245.7" y="660.3" width="1.3" height="13.1" fill="#B8860B" fill-opacity="0.58"/>
<rect x="1261.2" y="660.3" width="1.3" height="13.1" fill="#B8860B" fill-opacity="0.75"/>
<rect x="1268.3" y="660.3" width="1.3" height="13.1" fill="#B8860B" fill-opacity="0.91"/>
<rect x="1273.8" y="660.3" width="1.3" height="13.1" fill="#B8860B" fill-opacity="0.94"/>
<rect x="1202.2" y="677.1" width="2.4" height="13.1" fill="#B8860B" fill-opacity="0.85"/>
<rect x="1208.2" y="677.1" width="7.2" height="13.1" fill="#B8860B" fill-opacity="0.4"/>
<rect x="1208.2" y="677.1" width="1.0" height="13.1" fill="#B8860B" fill-opacity="0.70"/>
<rect x="1210.2" y="677.1" width="0.9" height="13.1" fill="#B8860B" fill-opacity="0.64"/>
<rect x="1212.1" y="677.1" width="0.9" height="13.1" fill="#B8860B" fill-opacity="0.79"/>
<rect x="1214.3" y="677.1" width="0.7" height="13.1" fill="#B8860B" fill-opacity="0.90"/>
<rect x="1217.7" y="677.1" width="7.2" height="13.1" fill="#B8860B" fill-opacity="0.4"/>
<rect x="1217.7" y="677.1" width="1.4" height="13.1" fill="#B8860B" fill-opacity="0.67"/>
<rect x="1219.9" y="677.1" width="0.8" height="13.1" fill="#B8860B" fill-opacity="0.57"/>
<rect x="1221.0" y="677.1" width="1.2" height="13.1" fill="#B8860B" fill-opacity="0.75"/>
<rect x="1223.0" y="677.1" width="1.5" height="13.1" fill="#B8860B" fill-opacity="0.88"/>
<rect x="1235.6" y="677.1" width="1.3" height="13.1" fill="#B8860B" fill-opacity="0.65"/>
<rect x="1202.2" y="693.9" width="2.4" height="13.1" fill="#B8860B" fill-opacity="0.85"/>
<rect x="1208.2" y="693.9" width="7.2" height="13.1" fill="#B8860B" fill-opacity="0.4"/>
<rect x="1208.2" y="693.9" width="0.9" height="13.1" fill="#B8860B" fill-opacity="0.55"/>
<rect x="1210.1" y="693.9" width="1.4" height="13.1" fill="#B8860B" fill-opacity="0.89"/>
<rect x="1212.3" y="693.9" width="1.1" height="13.1" fill="#B8860B" fill-opacity="0.88"/>
<rect x="1213.8" y="693.9" width="1.2" height="13.1" fill="#B8860B" fill-opacity="0.58"/>
<rect x="1217.7" y="693.9" width="7.2" height="13.1" fill="#B8860B" fill-opacity="0.4"/>
<rect x="1217.7" y="693.9" width="1.0" height="13.1" fill="#B8860B" fill-opacity="0.51"/>
<rect x="1220.0" y="693.9" width="1.6" height="13.1" fill="#B8860B" fill-opacity="0.87"/>
<rect x="1222.1" y="693.9" width="1.0" height="13.1" fill="#B8860B" fill-opacity="0.62"/>
<rect x="1223.8" y="693.9" width="1.2" height="13.1" fill="#B8860B" fill-opacity="0.82"/>
<rect x="1235.6" y="693.9" width="1.3" height="13.1" fill="#B8860B" fill-opacity="0.84"/>
<rect x="1204.0" y="710.7" width="4.3" height="13.1" fill="#D6CC5C"/>
<rect x="1205.2" y="710.7" width="2.1" height="13.1" fill="#A8960F"/>
<text x="1076.2" y="735.6" text-anchor="middle" font-family='"Liberation Sans", sans-serif' font-size="7.6" fill="#555">−10.0</text>
<text x="1108.7" y="735.6" text-anchor="middle" font-family='"Liberation Sans", sans-serif' font-size="7.6" fill="#555">−7.5</text>
<text x="1141.2" y="735.6" text-anchor="middle" font-family='"Liberation Sans", sans-serif' font-size="7.6" fill="#555">−5.0</text>
<text x="1173.7" y="735.6" text-anchor="middle" font-family='"Liberation Sans", sans-serif' font-size="7.6" fill="#555">−2.5</text>
<text x="1206.2" y="735.6" text-anchor="middle" font-family='"Liberation Sans", sans-serif' font-size="7.6" fill="#555">0.0</text>
<text x="1238.7" y="735.6" text-anchor="middle" font-family='"Liberation Sans", sans-serif' font-size="7.6" fill="#555">2.5</text>
<text x="1271.2" y="735.6" text-anchor="middle" font-family='"Liberation Sans", sans-serif' font-size="7.6" fill="#555">5.0</text>
<text x="1303.7" y="735.6" text-anchor="middle" font-family='"Liberation Sans", sans-serif' font-size="7.6" fill="#555">7.5</text>
<text x="1336.2" y="735.6" text-anchor="middle" font-family='"Liberation Sans", sans-serif' font-size="7.6" fill="#555">10.0</text>
<text x="1206.1" y="745" text-anchor="middle" font-family='"Liberation Sans", sans-serif' font-style="italic" font-size="8.5" fill="#444">x</text>
<g transform="translate(1064.6,633.5) rotate(-90)"><text x="0" y="0" text-anchor="middle" font-family='"Liberation Sans", sans-serif' font-size="9.2" fill="#555">Training (beginning --&gt; end)</text></g>
<rect x="94" y="349.5" width="170" height="64" rx="2.5" fill="#E5E5E5" fill-opacity="0.85" stroke="#CCCCCC" stroke-width="0.8"/>
<circle cx="107.8" cy="358.9" r="4.1" fill="#FF0000"/>
<line x1="96" y1="373.3" x2="120.4" y2="373.3" stroke="#000" stroke-width="4.2"/>
<line x1="97" y1="388.6" x2="117" y2="388.6" stroke="#0000E0" stroke-width="2.4" stroke-dasharray="7 4"/>
<line x1="96" y1="404.3" x2="120.4" y2="404.3" stroke="#0000E0" stroke-width="2.2"/>
<text x="128" y="362.6" font-family='"Liberation Sans", sans-serif' font-size="11.6" fill="#000">Training data</text>
<text x="128" y="377.8" font-family='"Liberation Sans", sans-serif' font-size="11.6" fill="#000">Ground-truth</text>
<text x="128" y="393.2" font-family='"Liberation Sans", sans-serif' font-size="11.6" fill="#000">Prediction before training</text>
<text x="128" y="408.6" font-family='"Liberation Sans", sans-serif' font-size="11.6" fill="#000">Prediction after training</text>
<text x="60.0" y="790.6" font-family='"Liberation Serif", serif' font-size="28.6" textLength="34.9" lengthAdjust="spacingAndGlyphs">(d)</text>
<text x="107.8" y="790.6" font-family='"Liberation Serif", serif' font-size="28.6" textLength="33.8" lengthAdjust="spacingAndGlyphs">SP</text>
<text x="150.0" y="790.6" font-family='"Liberation Serif", serif' font-size="28.6" textLength="118.3" lengthAdjust="spacingAndGlyphs">(lr=0.01).</text>
<text x="394.7" y="790.6" font-family='"Liberation Serif", serif' font-size="28.6" textLength="33.2" lengthAdjust="spacingAndGlyphs">(e)</text>
<text x="441.2" y="790.6" font-family='"Liberation Serif", serif' font-size="28.6" textLength="49.5" lengthAdjust="spacingAndGlyphs">WN</text>
<text x="499.7" y="790.6" font-family='"Liberation Serif", serif' font-size="28.6" textLength="117.8" lengthAdjust="spacingAndGlyphs">(lr=0.01).</text>
<text x="742.5" y="790.6" font-family='"Liberation Serif", serif' font-size="28.6" textLength="30.1" lengthAdjust="spacingAndGlyphs">(f)</text>
<text x="785.2" y="790.6" font-family='"Liberation Serif", serif' font-size="28.6" textLength="40.8" lengthAdjust="spacingAndGlyphs">BN</text>
<text x="835.7" y="790.6" font-family='"Liberation Serif", serif' font-size="28.6" textLength="118.3" lengthAdjust="spacingAndGlyphs">(lr=0.01).</text>
<text x="1080.4" y="790.6" font-family='"Liberation Serif", serif' font-size="28.6" textLength="32.7" lengthAdjust="spacingAndGlyphs">(g)</text>
<text x="1126.6" y="790.6" font-family='"Liberation Serif", serif' font-size="28.6" textLength="62.8" lengthAdjust="spacingAndGlyphs">GmP</text>
<text x="1199.6" y="790.6" font-family='"Liberation Serif", serif' font-size="28.6" textLength="100.4" lengthAdjust="spacingAndGlyphs">(lr=0.1).</text>
</svg></body></html>
